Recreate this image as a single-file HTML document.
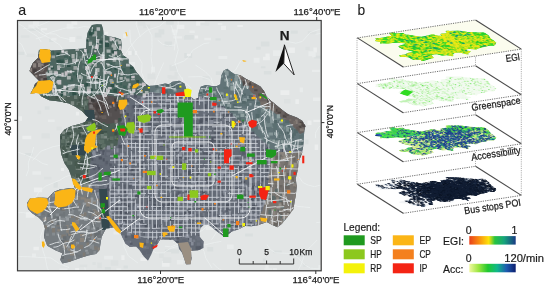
<!DOCTYPE html>
<html><head><meta charset="utf-8"><style>
html,body{margin:0;padding:0;background:#fff;}
body{width:550px;height:292px;overflow:hidden;}
svg{display:block;}
.t{font-family:"Liberation Sans",Arial,sans-serif;fill:#1c1c1c;stroke:#1c1c1c;stroke-width:0.25px;}
.c{font-family:"Liberation Sans",Arial,sans-serif;fill:#1c1c1c;stroke:#1c1c1c;stroke-width:0.2px;}
</style></head><body>
<svg width="550" height="292" viewBox="0 0 550 292">
<defs>
<clipPath id="fr"><rect x="17.5" y="20.5" width="303.7" height="250.3"/></clipPath>
<clipPath id="cp"><path d="M86.0,48.4 L86.5,40.0 L87.5,33.0 L90.0,28.0 L92.0,25.0 L97.0,24.3 L101.6,24.5 L103.0,29.0 L103.8,35.0 L109.0,36.5 L114.6,37.3 L121.0,39.4 L121.6,45.0 L121.0,50.2 L123.2,55.6 L128.6,58.9 L128.6,63.2 L133.0,66.4 L136.2,71.8 L141.6,78.3 L144.8,83.0 L149.0,86.0 L155.0,85.5 L160.0,84.7 L165.0,83.5 L169.0,84.2 L172.4,81.7 L179.3,80.8 L184.4,83.4 L186.1,88.5 L190.0,96.0 L194.0,99.5 L198.0,98.0 L199.0,92.0 L200.7,86.8 L205.8,85.1 L211.8,86.0 L216.9,86.0 L220.4,84.2 L221.2,75.7 L223.8,70.5 L227.2,68.8 L230.6,71.4 L233.8,73.7 L240.7,75.4 L245.8,78.8 L251.0,81.4 L256.0,84.0 L260.4,86.5 L263.8,90.8 L266.4,96.0 L270.0,100.0 L275.0,104.0 L281.0,109.0 L288.0,114.3 L296.8,117.5 L302.2,120.7 L305.4,126.1 L304.3,130.5 L303.8,138.0 L303.2,146.0 L302.2,152.5 L299.0,161.0 L297.8,169.7 L295.7,178.4 L296.8,187.0 L295.7,195.6 L294.6,202.0 L293.5,209.0 L290.3,213.3 L287.0,217.6 L281.7,224.0 L277.4,227.3 L273.0,225.2 L266.6,222.0 L258.0,225.2 L251.5,226.3 L245.0,226.0 L242.4,227.4 L238.0,229.5 L231.6,231.7 L226.2,236.0 L223.0,236.0 L218.7,232.8 L212.2,227.4 L209.3,225.0 L203.5,225.0 L200.2,228.2 L199.4,236.4 L203.5,241.3 L203.5,248.0 L197.8,250.4 L191.0,251.0 L191.5,258.0 L190.5,264.3 L186.0,264.3 L183.5,257.0 L182.0,252.8 L179.0,249.0 L178.0,243.8 L173.0,239.7 L165.0,239.7 L160.0,239.2 L157.8,243.6 L153.5,249.0 L151.3,254.4 L148.0,260.8 L143.8,256.5 L139.4,250.0 L136.2,246.8 L129.7,246.8 L125.4,243.6 L122.2,237.0 L119.0,230.6 L114.6,227.4 L106.0,228.4 L101.6,237.0 L99.5,250.0 L96.0,254.0 L93.0,254.4 L88.3,255.4 L81.8,257.6 L75.3,259.8 L68.8,262.0 L62.4,263.5 L60.2,259.8 L62.4,253.3 L54.8,250.0 L47.2,245.7 L44.0,237.0 L45.0,228.4 L43.0,222.0 L38.6,217.6 L32.1,213.3 L28.0,209.0 L27.0,203.0 L30.0,198.5 L40.0,197.5 L48.0,198.0 L53.7,192.0 L60.0,189.5 L72.0,188.0 L75.3,189.2 L72.0,178.4 L68.8,169.8 L64.5,163.3 L61.3,154.6 L60.2,146.0 L60.2,139.2 L60.2,134.8 L64.5,129.4 L71.0,126.2 L79.6,124.0 L85.0,121.9 L88.3,117.6 L86.1,115.4 L81.8,111.0 L75.3,106.8 L68.8,103.5 L60.2,101.4 L49.4,100.3 L40.8,96.0 L38.6,92.7 L30.4,93.4 L33.0,89.0 L35.0,84.0 L39.0,80.8 L34.4,76.0 L29.6,71.0 L30.8,67.6 L33.0,62.8 L38.0,58.0 L39.0,50.0 L45.0,49.0 L51.0,50.8 L68.0,49.6 Z"/></clipPath>
<linearGradient id="gE" x1="0" x2="1" y1="0" y2="0">
<stop offset="0" stop-color="#e8401c"/><stop offset="0.2" stop-color="#f98a10"/><stop offset="0.42" stop-color="#fde30a"/><stop offset="0.55" stop-color="#27c340"/><stop offset="0.75" stop-color="#16a47c"/><stop offset="1" stop-color="#1a3a84"/></linearGradient>
<linearGradient id="gA" x1="0" x2="1" y1="0" y2="0">
<stop offset="0" stop-color="#f2f8a0"/><stop offset="0.2" stop-color="#9ae640"/><stop offset="0.4" stop-color="#20c830"/><stop offset="0.6" stop-color="#10b88a"/><stop offset="0.8" stop-color="#1e5cb0"/><stop offset="1" stop-color="#0b1d6e"/></linearGradient>
</defs>

<g clip-path="url(#fr)">
<rect x="17" y="20" width="305" height="252" fill="#e2e5e5"/>
<path d="M215.5 38.3h5.2v2.2h-5.2zM185.1 34.9h8.7v4.5h-8.7zM184.1 35.8h6.7v4.0h-6.7zM104.8 267.0h6.1v2.7h-6.1zM305.1 139.5h3.4v4.8h-3.4zM164.6 41.6h7.5v5.0h-7.5zM25.2 153.1h7.2v3.0h-7.2zM123.6 265.6h4.3v2.9h-4.3zM207.3 246.9h5.9v4.6h-5.9zM260.9 41.4h8.5v5.1h-8.5zM65.5 270.3h3.9v5.6h-3.9zM184.3 53.0h7.8v4.9h-7.8zM256.2 46.7h4.5v3.1h-4.5zM260.9 66.2h4.6v2.1h-4.6zM171.2 249.3h8.0v4.3h-8.0zM154.7 32.8h6.8v4.7h-6.8zM166.2 20.8h7.5v4.0h-7.5zM296.5 254.5h6.5v2.6h-6.5zM136.8 271.7h5.2v3.7h-5.2zM53.5 182.1h4.2v5.6h-4.2zM44.7 106.2h4.9v3.5h-4.9zM263.9 70.9h7.5v3.7h-7.5zM17.4 51.7h6.9v3.2h-6.9zM164.9 249.4h8.7v2.6h-8.7zM314.1 55.8h7.3v2.7h-7.3zM29.4 28.8h7.8v2.2h-7.8zM262.7 258.5h3.1v2.9h-3.1zM49.1 38.2h4.3v3.7h-4.3zM245.1 233.4h7.7v3.2h-7.7zM158.5 29.3h5.8v5.3h-5.8zM273.4 250.4h8.3v2.9h-8.3zM215.8 71.3h7.9v3.6h-7.9zM290.7 30.4h7.0v3.3h-7.0z" fill="#dadfdf"/>
<path d="M171.8 29.4h5.5v3.0h-5.5zM194.8 35.6h3.3v2.9h-3.3zM186.8 53.6h3.9v2.5h-3.9zM121.3 255.2h3.2v4.7h-3.2zM214.4 270.3h4.7v3.5h-4.7zM220.9 25.7h5.1v4.4h-5.1zM280.5 90.2h8.9v4.7h-8.9zM33.5 246.7h5.4v3.6h-5.4zM75.1 268.1h4.0v3.4h-4.0zM128.1 51.0h9.0v3.9h-9.0zM313.4 119.8h7.5v2.3h-7.5zM263.0 56.8h6.9v3.4h-6.9zM176.7 24.7h7.7v4.4h-7.7zM307.5 120.4h4.0v4.7h-4.0zM320.2 121.8h4.2v3.3h-4.2zM237.3 24.9h5.6v2.1h-5.6zM33.9 187.6h8.2v4.7h-8.2zM17.3 116.2h4.7v4.6h-4.7zM60.9 167.9h3.1v3.2h-3.1zM314.6 144.5h3.5v5.6h-3.5zM22.3 135.7h9.0v3.5h-9.0zM25.8 211.9h8.5v5.8h-8.5zM196.1 20.0h8.6v5.7h-8.6zM313.4 47.4h3.5v5.1h-3.5zM288.2 47.5h6.7v5.6h-6.7zM272.9 268.2h4.0v2.0h-4.0zM75.9 111.8h3.2v3.6h-3.2zM161.9 261.1h7.7v5.7h-7.7zM265.5 53.4h4.1v5.2h-4.1zM40.8 27.9h6.3v2.3h-6.3zM140.5 257.4h8.4v3.7h-8.4zM69.4 36.9h5.9v5.2h-5.9zM295.4 99.3h3.5v4.8h-3.5zM71.5 20.9h5.8v3.8h-5.8z" fill="#eceeee"/>
<path d="M159.0 252.7h4.8v5.2h-4.8zM284.0 99.1h6.6v4.3h-6.6zM167.6 75.0h3.8v3.0h-3.8zM41.6 133.2h8.3v5.3h-8.3zM174.5 71.7h3.9v4.2h-3.9zM25.8 27.0h5.8v2.8h-5.8zM162.8 257.3h8.5v5.6h-8.5zM147.6 73.6h7.7v5.6h-7.7zM56.5 126.4h5.4v4.1h-5.4zM202.5 76.0h8.2v3.8h-8.2zM303.1 264.2h3.3v2.8h-3.3zM169.5 64.8h7.8v6.0h-7.8zM97.3 262.4h4.5v5.9h-4.5zM26.5 53.5h8.8v3.5h-8.8zM20.8 35.3h8.8v2.4h-8.8zM320.0 158.4h8.9v5.7h-8.9zM131.7 50.5h3.0v5.0h-3.0zM168.6 75.4h9.0v3.8h-9.0zM200.3 22.6h9.0v3.1h-9.0zM92.4 262.1h3.3v2.8h-3.3zM137.9 21.7h7.4v4.0h-7.4zM79.6 264.4h7.6v2.8h-7.6zM76.5 35.8h5.2v3.3h-5.2zM307.9 31.0h8.5v3.2h-8.5zM36.7 28.5h4.0v3.7h-4.0zM305.4 46.7h4.3v3.5h-4.3zM110.8 260.2h7.5v5.5h-7.5zM143.3 24.6h6.9v3.6h-6.9zM44.2 176.8h7.4v2.7h-7.4zM37.5 110.4h3.6v3.8h-3.6z" fill="#dde1e1"/>
<path d="M217.8 23.0h4.6v2.0h-4.6zM33.0 20.1h6.2v5.8h-6.2zM204.2 37.7h6.7v2.6h-6.7zM128.8 62.1h6.2v5.1h-6.2zM264.5 268.2h7.8v5.3h-7.8zM59.5 268.6h8.0v2.8h-8.0zM253.7 57.8h5.8v4.9h-5.8zM218.4 56.0h8.8v2.9h-8.8zM173.2 36.2h8.8v2.4h-8.8zM299.6 87.5h3.3v4.8h-3.3zM28.3 24.6h6.1v3.0h-6.1zM312.9 97.6h8.9v3.4h-8.9zM123.0 33.7h3.1v4.5h-3.1zM116.5 268.2h4.7v4.5h-4.7zM104.6 31.8h3.5v2.6h-3.5zM176.8 260.1h6.6v4.5h-6.6zM272.9 50.3h7.3v5.6h-7.3zM104.1 255.8h8.8v3.7h-8.8zM31.9 253.5h4.0v3.7h-4.0zM312.1 51.7h3.6v5.6h-3.6zM265.4 263.9h3.2v4.8h-3.2zM51.2 37.7h5.3v2.9h-5.3zM113.5 231.5h5.9v2.9h-5.9zM308.4 51.2h5.3v5.1h-5.3zM43.8 197.7h5.2v5.7h-5.2zM318.5 265.0h4.4v3.7h-4.4zM151.0 66.8h3.9v5.5h-3.9zM137.8 270.1h6.9v2.4h-6.9zM32.4 171.3h8.6v3.5h-8.6zM47.9 119.6h6.8v2.4h-6.8zM66.6 23.7h6.8v5.6h-6.8zM311.9 69.7h8.0v2.2h-8.0zM226.9 244.6h6.7v4.5h-6.7zM189.5 30.5h5.3v2.5h-5.3zM205.7 226.4h7.9v3.6h-7.9zM172.6 30.3h3.5v4.9h-3.5z" fill="#e9ecec"/>
<path d="M33.6 147.0 32.3 152.4 28.2 162.9 28.8 169.1 26.1 176.2M264.4 220.3 265.0 214.8 264.2 203.0 258.2 191.4 249.9 182.3 241.1 178.6 236.8 173.2 229.0 167.7 224.1 165.6M72.5 60.6 79.4 55.8 86.6 53.9 92.0 54.3 104.0 60.8 112.8 64.9 123.1 72.9 132.3 76.4 140.5 84.7M130.3 114.7 123.8 124.6 120.6 130.4 116.7 134.2 109.9 136.9M212.0 268.0 205.8 258.1 204.0 251.4 198.8 242.1 194.1 235.3 185.5 231.5 180.9 228.7 170.7 228.5 161.3 230.6M179.9 124.1 180.3 134.7 180.7 140.9 177.5 147.4 177.3 153.2M211.7 239.6 219.1 228.1 219.6 215.7 224.7 206.6 230.6 198.1 236.1 190.4 237.3 185.6M35.8 26.4 45.4 33.5 55.4 34.0 60.6 37.4 70.8 39.7M171.6 181.7 173.8 176.6 181.2 164.7 188.0 158.4 194.4 153.0M150.2 249.9 156.5 252.9 163.6 252.8 170.3 248.4 181.1 245.3 192.4 246.8 202.3 245.4 214.1 242.7 221.4 241.3M212.8 263.2 218.0 268.4 228.5 273.6 234.8 283.5 243.9 292.6 249.9 296.6 255.0 306.0 257.9 316.6M315.6 138.3 315.4 133.1 318.9 126.9 329.0 120.1 336.7 113.3 341.9 109.4 344.0 103.8 347.2 98.1 357.2 92.9M26.4 54.9 21.5 44.3 13.1 38.4 2.0 33.0M267.0 244.6 270.4 249.4 275.4 252.8 288.0 253.3 297.9 257.5 305.3 265.2 310.4 268.2 322.2 269.0 329.7 266.7M146.2 25.3 151.9 35.7 152.0 47.6 151.0 56.8 152.6 68.4 151.5 73.6M175.2 44.8 168.3 45.8 162.7 44.2 157.6 40.1M17.4 70.9 12.7 62.7 6.5 52.2 -0.9 46.4M122.9 229.6 124.2 236.4 123.8 245.9 128.2 255.7 137.9 263.0M229.6 218.3 216.9 214.2 208.7 205.9 200.3 199.0 193.7 195.0 184.8 190.7M69.2 267.6 59.5 263.8 50.9 257.9 40.7 257.5 27.9 256.7 17.9 256.6 8.9 258.5M227.2 84.8 229.3 97.6 232.4 103.6 239.9 112.1 241.8 118.2 246.5 123.6M116.6 151.6 116.7 158.9 109.6 170.9 108.2 181.8 109.7 187.9 114.4 194.1M107.7 89.0 119.5 94.3 124.3 96.2 130.5 102.7M84.8 267.2 86.3 277.5 89.2 288.8 87.2 297.4M192.1 208.8 181.7 211.9 171.0 210.2 164.2 208.4 158.1 209.2M148.9 85.5 143.9 78.5 141.6 72.5 142.1 63.2 135.8 52.1 130.5 42.5 129.8 29.5M117.1 22.7 116.6 12.8 111.4 2.0 112.2 -7.7M47.8 164.8 42.8 163.6 35.8 159.1 25.0 154.6 11.9 150.0 2.3 150.4 -8.0 145.1 -16.7 138.9 -24.8 136.3M35.8 38.9 43.6 36.6 49.5 32.7 62.4 28.9 69.1 27.1 77.6 28.0 83.6 26.6 95.8 27.7 104.7 30.0M188.4 76.9 200.9 76.6 209.2 79.3 216.3 88.7 221.8 99.4 227.7 110.0M87.3 197.5 85.6 188.3 87.9 176.3 88.0 165.4 86.2 156.2 85.9 150.5 88.5 144.7M109.5 117.0 115.8 127.3 126.1 134.3 129.9 137.8 143.3 140.0 150.1 142.5 156.3 141.7 167.1 136.6M122.7 58.5 129.7 47.5 137.4 38.3 147.6 30.1 159.5 26.1 168.1 19.0 177.4 11.9 187.1 3.3M186.3 86.7 187.6 96.6 189.6 109.6 188.9 116.8 192.1 126.7M241.0 60.4 235.6 70.0 228.9 75.0 218.8 84.2 215.5 94.4 213.0 99.0 206.6 108.1 199.4 111.5 189.9 110.2M164.8 246.2 170.9 246.9 181.1 242.9 191.2 236.4 202.8 230.1 208.7 224.5 211.4 219.8 213.5 211.8 215.5 204.1M317.2 240.0 308.7 248.6 304.4 255.2 301.0 264.9 295.2 275.5M29.2 202.1 36.1 197.0 38.6 192.2 45.6 186.1 50.7 184.0 59.8 180.2 65.2 176.9 75.8 173.2M284.3 40.9 295.9 43.2 302.3 41.4 310.3 32.5 320.6 28.9 331.5 23.0 341.4 21.4 348.4 18.1 355.2 14.1M148.4 181.7 157.2 177.8 169.2 177.4 180.3 176.0M140.4 36.9 136.0 24.2 138.3 15.2 139.1 9.4 141.2 2.8 140.7 -2.3 133.5 -10.9 121.0 -16.4M43.9 239.1 52.6 244.3 62.9 249.8 67.5 256.7M244.9 195.1 252.8 201.3 261.5 208.0 267.2 219.9M33.1 28.1 41.8 34.1 48.7 37.6 60.0 45.2 65.7 54.0 75.4 63.4 80.1 71.4 91.0 79.6 104.4 82.2M67.0 222.1 55.9 217.5 49.0 214.1 35.3 214.9 23.1 212.6 12.6 212.8 2.0 206.2M200.3 97.8 191.1 104.1 179.5 110.0 172.0 110.8 166.4 115.6M145.9 167.8 146.8 161.6 155.0 150.4 157.8 136.9M260.2 158.1 260.1 152.3 260.7 140.1 257.1 128.9 258.5 122.0 262.2 111.5 264.1 104.9M94.7 209.3 97.7 199.9 98.4 194.4 98.5 184.7 95.1 172.7 90.6 164.3 85.4 159.7M45.1 223.1 42.4 231.2 40.2 237.2 43.0 250.9 45.0 256.5 47.3 268.4 53.2 276.9 60.1 283.7M23.3 28.5 33.3 27.7 44.6 23.4 56.7 17.4 69.0 15.8 75.6 18.7 82.4 17.8 87.4 15.0M32.6 160.5 41.1 151.1 53.0 146.7 66.1 144.2 71.9 144.5 78.9 143.4 89.4 135.3M171.5 66.0 184.4 60.8 188.4 57.2 192.7 50.3 204.0 43.6 209.4 42.9M256.8 198.8 251.0 196.4 240.7 187.9 235.9 181.8 229.7 171.8 222.9 167.7 216.9 166.2M163.8 62.5 158.4 74.4 153.5 86.6 149.1 91.3 143.9 93.7M205.7 114.0 212.6 102.6 214.6 97.8 213.1 84.1 210.9 77.4 205.1 71.5 195.4 65.0M72.0 133.7 79.1 131.9 85.1 129.6 95.2 122.2 99.6 117.4 104.9 111.5 110.5 109.4M315.5 34.3 325.4 32.8 331.3 34.3 343.0 41.6 349.5 44.9 356.5 46.1 365.3 46.3 376.9 41.7 383.1 43.0M212.1 131.4 207.5 133.3 197.8 133.2 189.4 136.3 182.5 135.4 176.4 134.1 164.6 136.0 157.9 135.5M41.2 42.0 37.6 36.5 28.2 30.7 23.1 26.3 18.6 23.9 11.3 17.6 5.6 5.7M175.1 107.6 169.5 115.2 168.8 128.4 168.5 141.2 170.1 147.7 168.9 155.9 171.1 164.0 171.8 168.9 172.9 177.9M174.3 50.4 175.7 37.7 178.3 24.9 178.0 18.9 180.1 10.1 176.0 -1.4M58.0 81.4 63.8 82.4 76.1 80.9 80.6 77.1 86.7 74.2 92.1 65.3 97.8 57.5 102.4 53.7M282.2 200.7 292.2 203.2 297.3 206.3 310.2 207.6M182.2 77.3 182.9 89.0 188.4 100.2 187.8 108.6 188.2 121.2 188.2 129.7 182.2 140.1 179.8 146.9 178.6 155.7M316.3 222.7 321.7 222.0 335.2 220.4 341.9 223.3 352.1 226.6 361.7 228.1 370.0 224.9M171.0 25.2 175.7 37.8 178.2 49.8 174.9 62.4 178.1 72.7 184.2 81.9 191.7 88.4M298.9 176.6 302.8 182.5 308.3 185.1 314.6 186.7 327.7 183.0 340.5 186.0 350.4 183.3 359.1 185.6M173.0 243.1 178.1 238.0 180.9 228.5 187.7 220.4 195.3 212.7 200.0 202.3 203.6 193.1 208.1 185.0M111.7 81.0 113.4 94.7 116.7 107.6 124.9 118.3 131.0 123.5 142.7 128.9 148.2 129.4 157.0 124.7" fill="none" stroke="#edf0f0" stroke-width="0.7"/>
</g>
<clipPath id="gz"><polygon points="136.0,100.0 150.0,92.0 213.0,98.0 262.0,140.0 272.0,150.0 266.0,200.0 255.0,228.0 210.0,234.0 150.0,240.0 122.0,230.0 110.0,214.0 96.0,198.0 88.0,178.0 92.0,150.0 120.0,145.0 132.0,130.0 134.0,110.0"/></clipPath>
<g clip-path="url(#cp)">
<rect x="17" y="20" width="305" height="252" fill="#646b76"/>
<polygon points="20.0,20.0 150.0,20.0 152.0,80.0 150.0,96.0 125.0,95.0 88.0,96.0 60.0,104.0 20.0,104.0" fill="#4e6660"/>
<polygon points="150.0,20.0 320.0,20.0 320.0,150.0 268.0,150.0 213.0,98.0 150.0,92.0" fill="#627478"/>
<polygon points="20.0,96.0 125.0,96.0 118.0,140.0 112.0,195.0 20.0,195.0" fill="#4c5e56"/>
<polygon points="268.0,152.0 320.0,152.0 320.0,240.0 240.0,240.0 255.0,228.0 266.0,200.0 272.0,155.0" fill="#7a7672"/>
<polygon points="20.0,185.0 98.0,185.0 104.0,215.0 110.0,232.0 130.0,260.0 20.0,266.0" fill="#767c80"/>
<polygon points="236.0,70.0 246.0,74.0 256.0,78.0 270.0,94.0 284.0,106.0 300.0,116.0 310.0,130.0 300.0,134.0 290.0,123.0 276.0,114.0 260.0,102.0 248.0,88.0 240.0,80.0" fill="#696260"/>
<polygon points="20.0,54.0 43.0,54.0 48.0,66.0 46.0,80.0 38.0,86.0 20.0,86.0" fill="#57504f"/>
<polygon points="88.0,97.0 100.0,95.0 112.0,96.0 121.0,100.0 122.0,112.0 119.0,122.0 108.0,124.0 96.0,122.0 89.0,116.0" fill="#545050"/>
<polygon points="136.0,100.0 150.0,92.0 213.0,98.0 262.0,140.0 272.0,150.0 266.0,200.0 255.0,228.0 210.0,234.0 150.0,240.0 122.0,230.0 110.0,214.0 96.0,198.0 88.0,178.0 92.0,150.0 120.0,145.0 132.0,130.0 134.0,110.0" fill="#646b76"/>
<path d="M194.2 105.4h2.2v3.0h-2.2zM99.7 174.4h4.3v2.3h-4.3zM201.3 196.9h3.0v4.0h-3.0zM231.2 155.3h3.6v2.4h-3.6zM259.6 159.6h3.3v4.3h-3.3zM199.8 144.6h3.7v3.1h-3.7zM104.6 170.2h3.6v2.6h-3.6zM293.9 148.7h2.4v4.0h-2.4zM200.4 220.5h3.0v2.1h-3.0zM144.4 151.0h4.2v4.4h-4.2zM168.7 132.7h3.0v2.4h-3.0zM111.1 209.0h3.1v2.7h-3.1zM135.7 121.6h4.3v3.8h-4.3zM185.5 190.9h2.0v4.5h-2.0zM138.1 156.8h3.6v3.4h-3.6zM190.3 131.4h3.1v4.2h-3.1zM143.4 232.3h2.3v2.4h-2.3zM186.7 121.3h2.3v3.4h-2.3zM123.3 111.9h3.8v2.9h-3.8zM93.3 158.4h2.6v2.9h-2.6zM193.3 222.6h2.3v2.8h-2.3zM165.1 228.4h2.6v3.1h-2.6zM98.9 157.2h4.1v2.7h-4.1zM156.3 118.2h4.2v4.5h-4.2zM163.9 113.6h2.6v4.5h-2.6zM175.0 192.7h3.4v2.7h-3.4zM241.9 174.6h2.5v2.7h-2.5zM180.5 196.8h4.4v3.7h-4.4zM209.1 163.7h2.7v2.1h-2.7zM206.1 209.0h3.5v3.6h-3.5zM151.7 157.6h3.0v2.7h-3.0zM130.0 93.8h3.6v3.3h-3.6zM149.1 103.5h4.4v4.2h-4.4zM112.6 218.5h2.0v3.7h-2.0zM258.5 177.2h2.6v3.5h-2.6zM154.1 103.2h3.8v4.4h-3.8zM170.5 109.0h3.2v2.8h-3.2zM221.9 151.0h4.3v3.5h-4.3zM154.8 195.2h4.0v3.9h-4.0zM114.0 209.5h4.2v3.4h-4.2zM156.2 133.2h4.2v2.5h-4.2zM156.2 240.0h4.1v3.8h-4.1zM119.8 195.4h4.0v3.3h-4.0zM216.7 173.4h4.1v4.0h-4.1zM229.0 123.5h4.2v3.9h-4.2zM200.8 157.9h3.7v3.2h-3.7zM258.8 183.8h2.7v2.3h-2.7zM227.8 231.5h4.3v3.6h-4.3zM189.2 257.0h4.0v4.1h-4.0zM121.9 110.4h2.4v3.3h-2.4zM237.7 171.3h2.9v2.3h-2.9zM105.8 150.8h3.2v3.5h-3.2zM199.4 164.9h4.4v3.8h-4.4zM235.5 202.3h2.9v2.5h-2.9zM121.8 199.2h4.3v2.4h-4.3zM218.7 163.9h4.2v3.7h-4.2zM211.1 157.6h2.7v3.6h-2.7zM222.8 160.3h3.6v3.5h-3.6zM153.3 155.3h3.5v2.4h-3.5zM112.3 187.3h2.4v3.7h-2.4zM92.3 190.6h4.2v2.5h-4.2zM115.0 201.2h3.2v4.0h-3.2zM120.3 198.5h2.8v2.0h-2.8zM227.1 202.4h3.3v4.4h-3.3zM211.9 129.9h4.2v4.3h-4.2zM243.6 155.4h2.3v2.5h-2.3zM157.9 155.6h3.0v3.5h-3.0zM238.8 151.2h3.4v2.3h-3.4zM203.9 217.3h2.0v2.6h-2.0zM175.5 139.2h2.5v3.1h-2.5zM140.2 144.9h2.3v3.1h-2.3zM140.3 202.1h4.3v2.6h-4.3zM245.8 155.3h2.0v4.5h-2.0zM113.9 171.4h2.5v3.5h-2.5zM251.0 149.9h2.0v4.1h-2.0zM240.0 151.9h4.0v4.3h-4.0zM146.9 200.6h3.7v3.2h-3.7zM161.4 138.8h4.3v3.2h-4.3zM183.6 145.2h3.2v2.3h-3.2zM242.5 178.5h3.5v3.2h-3.5zM177.8 221.6h4.0v3.4h-4.0zM263.9 150.5h4.2v3.4h-4.2zM253.8 155.4h3.3v3.2h-3.3zM180.5 195.8h4.4v3.1h-4.4zM154.2 191.5h3.4v2.6h-3.4zM119.2 221.1h3.2v3.6h-3.2zM229.0 224.9h3.3v3.2h-3.3zM250.8 157.0h3.7v2.5h-3.7zM142.5 97.5h4.2v3.9h-4.2zM170.3 232.9h2.4v3.3h-2.4zM168.9 211.8h3.1v3.9h-3.1zM130.0 188.6h3.8v2.4h-3.8zM238.6 195.9h2.1v2.6h-2.1zM190.2 241.9h4.2v4.3h-4.2zM182.2 239.6h4.2v3.2h-4.2zM202.7 166.4h3.0v3.2h-3.0zM237.0 156.8h2.2v4.2h-2.2zM166.8 151.9h4.0v2.4h-4.0zM125.3 211.7h4.0v2.8h-4.0zM112.3 159.5h3.8v3.8h-3.8zM275.3 148.6h2.6v3.9h-2.6zM164.7 199.1h2.5v2.0h-2.5zM99.5 149.6h2.4v2.7h-2.4zM226.5 198.1h4.4v2.2h-4.4zM202.2 117.6h3.2v4.2h-3.2zM160.5 177.0h3.4v3.7h-3.4zM191.4 112.6h3.2v4.2h-3.2zM206.1 127.3h2.6v3.1h-2.6zM177.1 120.4h2.5v3.9h-2.5zM192.9 148.5h3.6v3.3h-3.6zM182.7 131.1h3.9v3.7h-3.9zM206.1 102.2h2.9v2.8h-2.9zM226.2 113.5h3.4v3.7h-3.4zM183.2 151.0h4.2v3.3h-4.2zM208.3 148.1h3.4v4.3h-3.4zM137.4 206.6h3.9v3.7h-3.9zM180.0 181.7h4.4v4.3h-4.4zM130.8 227.7h3.4v3.5h-3.4zM182.7 103.1h2.8v2.9h-2.8zM159.3 181.6h3.3v2.9h-3.3zM188.8 104.1h3.2v2.5h-3.2zM159.6 140.6h4.0v2.6h-4.0zM151.1 210.3h3.8v4.1h-3.8zM147.7 124.0h3.7v2.8h-3.7zM171.8 142.2h3.5v4.0h-3.5zM104.6 161.7h2.7v4.0h-2.7zM257.3 152.5h2.6v3.6h-2.6zM129.7 112.9h2.3v3.6h-2.3zM160.1 180.4h4.0v2.2h-4.0zM183.3 145.3h2.0v4.2h-2.0zM220.0 225.4h4.1v4.0h-4.1zM145.2 95.4h4.1v2.5h-4.1zM187.3 107.8h2.2v2.1h-2.2zM159.2 204.1h3.9v4.0h-3.9zM213.8 154.9h2.6v3.2h-2.6zM142.7 179.5h2.7v4.2h-2.7zM137.0 183.9h3.0v3.7h-3.0zM164.8 229.7h4.2v2.4h-4.2zM93.7 164.4h3.0v4.1h-3.0zM213.4 146.5h2.0v2.4h-2.0zM122.5 139.9h3.6v4.4h-3.6zM192.0 213.5h2.1v3.3h-2.1zM234.4 131.2h3.7v2.4h-3.7zM206.4 150.2h3.8v3.3h-3.8zM215.3 181.7h3.3v3.6h-3.3zM227.8 145.4h4.2v3.3h-4.2zM124.7 103.9h3.9v3.7h-3.9zM167.4 232.1h3.3v3.2h-3.3zM174.8 220.3h2.7v2.5h-2.7zM184.5 243.9h2.6v3.5h-2.6zM215.6 134.1h4.3v2.2h-4.3zM126.6 214.4h2.5v4.4h-2.5zM142.7 168.6h3.1v3.2h-3.1zM212.0 114.8h3.7v3.1h-3.7zM110.5 180.9h2.3v2.3h-2.3zM197.0 206.6h4.5v4.0h-4.5zM121.0 116.6h4.3v2.6h-4.3zM134.4 160.1h2.4v3.8h-2.4zM168.0 171.4h2.9v2.2h-2.9zM122.3 130.4h4.4v3.5h-4.4zM232.2 214.5h2.1v2.7h-2.1zM135.3 113.7h3.0v3.0h-3.0zM263.2 155.1h3.5v2.6h-3.5zM110.5 205.0h4.4v3.3h-4.4zM177.4 155.1h2.8v2.9h-2.8zM123.1 210.5h2.8v2.5h-2.8zM163.4 180.0h4.3v3.5h-4.3zM148.7 167.9h4.1v2.9h-4.1zM190.0 157.8h2.9v2.9h-2.9zM200.8 155.7h3.7v3.6h-3.7zM189.0 138.7h2.4v2.1h-2.4zM146.9 200.2h3.1v4.4h-3.1zM262.1 179.7h3.2v2.9h-3.2zM173.1 122.5h4.1v4.2h-4.1zM117.4 221.4h3.8v3.8h-3.8zM158.4 139.5h2.9v2.4h-2.9zM182.0 218.1h2.8v3.3h-2.8zM149.0 154.0h3.6v4.0h-3.6zM186.4 122.0h3.6v3.5h-3.6zM131.7 109.2h4.0v4.4h-4.0zM112.8 218.4h2.3v3.3h-2.3zM153.2 214.6h2.3v3.9h-2.3zM108.7 195.9h2.6v2.4h-2.6zM146.3 247.6h3.6v4.1h-3.6zM216.2 173.1h2.4v2.4h-2.4zM176.2 135.6h3.5v2.3h-3.5zM142.4 250.4h3.4v4.5h-3.4zM199.9 208.2h2.8v2.8h-2.8zM266.0 185.1h3.5v2.4h-3.5zM154.5 241.5h2.5v3.0h-2.5zM190.7 204.2h2.1v4.4h-2.1zM105.9 150.8h3.9v4.2h-3.9zM149.9 92.5h4.1v4.0h-4.1zM146.8 249.6h4.1v4.5h-4.1zM160.6 113.7h3.1v3.3h-3.1zM154.8 172.0h2.9v2.7h-2.9zM179.6 240.5h2.8v2.4h-2.8zM158.2 182.2h4.0v4.4h-4.0zM148.4 187.5h3.1v2.9h-3.1zM256.1 214.0h4.1v3.7h-4.1zM166.3 110.3h2.4v4.0h-2.4zM131.0 105.6h3.4v3.7h-3.4zM99.2 164.9h3.3v3.3h-3.3zM115.2 187.9h4.5v2.6h-4.5zM120.4 200.6h2.9v4.3h-2.9zM107.4 172.5h2.1v4.2h-2.1zM106.2 189.5h2.1v3.7h-2.1zM169.2 237.3h2.0v2.9h-2.0zM237.1 210.5h2.1v3.4h-2.1zM227.7 164.5h2.4v4.1h-2.4zM228.5 212.8h3.1v3.1h-3.1zM223.5 209.1h2.8v3.7h-2.8zM91.2 154.9h3.8v3.7h-3.8zM182.9 239.0h2.3v2.2h-2.3zM207.1 132.9h4.3v2.9h-4.3zM103.5 147.2h3.9v4.1h-3.9zM132.0 226.3h2.2v3.7h-2.2zM142.0 159.9h4.3v2.8h-4.3zM88.6 175.1h2.7v2.1h-2.7zM104.9 152.6h2.5v4.4h-2.5zM219.5 182.6h3.4v2.6h-3.4zM199.6 191.4h2.0v3.6h-2.0z" fill="#606672"/>
<path d="M147.7 199.9h3.3v4.5h-3.3zM143.9 242.7h2.1v2.6h-2.1zM213.8 131.0h3.7v3.3h-3.7zM218.1 202.6h2.4v2.8h-2.4zM110.4 189.0h4.3v3.0h-4.3zM132.5 118.9h4.4v3.1h-4.4zM212.1 160.9h2.3v3.9h-2.3zM227.4 112.9h3.1v3.4h-3.1zM224.6 205.2h3.6v4.4h-3.6zM178.2 216.4h2.1v4.3h-2.1zM144.4 232.4h4.1v2.8h-4.1zM246.3 188.7h2.3v3.5h-2.3zM209.2 222.1h3.6v3.4h-3.6zM235.4 158.2h4.1v2.5h-4.1zM208.2 148.4h2.7v2.9h-2.7zM234.6 141.7h2.5v2.7h-2.5zM109.3 163.0h2.5v3.2h-2.5zM93.3 166.7h2.1v3.5h-2.1zM162.6 189.2h2.1v4.1h-2.1zM178.0 119.9h4.0v3.7h-4.0zM125.2 191.2h2.3v4.4h-2.3zM165.8 123.9h4.4v2.7h-4.4zM139.0 183.2h4.0v4.4h-4.0zM231.5 170.1h2.2v2.5h-2.2zM123.8 235.4h3.5v2.3h-3.5zM131.4 235.0h4.1v3.4h-4.1zM230.5 184.4h3.5v2.2h-3.5zM170.0 185.8h3.8v4.1h-3.8zM236.9 204.0h4.3v4.1h-4.3zM120.4 223.6h3.0v4.0h-3.0zM159.3 224.7h3.0v3.6h-3.0zM153.3 194.1h3.0v3.2h-3.0zM153.6 198.9h4.0v3.6h-4.0zM125.3 138.6h3.2v3.3h-3.2zM170.7 162.4h2.4v3.1h-2.4zM210.9 207.6h2.5v2.0h-2.5zM199.1 127.2h2.6v3.7h-2.6zM153.7 159.4h3.8v3.1h-3.8zM162.1 204.0h3.7v2.4h-3.7zM222.8 174.2h3.2v2.3h-3.2zM173.0 186.6h4.0v3.4h-4.0zM166.4 102.3h3.3v3.9h-3.3zM182.1 129.8h4.3v4.0h-4.3zM245.5 213.4h2.3v2.8h-2.3zM106.6 223.0h4.0v3.2h-4.0zM243.5 200.0h3.9v2.8h-3.9zM185.4 99.1h3.4v3.3h-3.4zM178.0 115.0h4.4v3.9h-4.4zM128.9 242.4h3.6v2.3h-3.6zM147.6 143.4h2.0v4.3h-2.0zM180.6 231.5h3.7v4.2h-3.7zM202.8 201.1h2.3v3.2h-2.3zM160.9 128.8h3.1v2.6h-3.1zM105.5 160.7h2.7v3.5h-2.7zM146.5 113.2h3.1v3.6h-3.1zM164.8 144.2h2.8v3.8h-2.8zM232.6 143.5h3.0v4.1h-3.0zM250.0 220.4h2.6v3.3h-2.6zM219.9 187.0h2.2v4.4h-2.2zM175.0 150.5h3.8v2.4h-3.8zM197.9 98.3h3.1v4.2h-3.1zM108.8 153.5h2.5v2.4h-2.5zM228.2 168.3h3.3v3.2h-3.3zM186.2 123.2h2.3v3.1h-2.3zM165.4 195.7h3.5v3.1h-3.5zM168.2 202.4h2.9v3.7h-2.9zM189.5 221.9h3.2v4.5h-3.2zM131.6 161.0h2.9v2.1h-2.9zM192.2 109.4h2.2v2.7h-2.2zM174.4 186.3h3.1v4.3h-3.1zM232.9 226.8h2.1v2.7h-2.1zM195.2 217.8h2.1v4.4h-2.1zM245.4 137.5h4.0v2.3h-4.0zM188.0 147.2h3.6v3.5h-3.6zM168.9 152.1h3.2v3.9h-3.2zM98.3 175.8h4.4v4.2h-4.4zM241.8 128.0h3.5v2.8h-3.5zM263.8 143.1h3.9v3.1h-3.9zM161.4 229.8h2.5v4.4h-2.5zM133.8 138.0h3.8v4.4h-3.8zM175.6 233.7h4.4v2.6h-4.4zM125.3 199.5h3.3v3.2h-3.3zM139.8 188.9h3.9v3.1h-3.9zM177.0 186.6h2.2v3.8h-2.2zM112.8 152.8h3.5v3.0h-3.5zM202.7 152.1h4.3v2.3h-4.3zM108.5 220.6h3.2v2.3h-3.2zM221.6 193.5h3.2v3.3h-3.2zM131.3 217.1h4.1v2.0h-4.1zM221.8 141.9h2.9v2.3h-2.9zM239.6 176.8h2.7v2.1h-2.7zM131.3 200.0h2.2v2.2h-2.2zM171.8 148.7h3.3v2.5h-3.3zM186.7 194.7h3.5v2.2h-3.5zM189.5 155.1h3.9v2.3h-3.9zM171.2 211.4h2.8v3.8h-2.8zM234.5 172.5h3.0v3.8h-3.0zM88.9 179.1h3.2v2.4h-3.2zM162.7 177.5h2.7v2.0h-2.7zM186.4 209.2h3.6v3.6h-3.6zM234.9 131.8h4.2v2.8h-4.2zM198.9 246.1h2.4v4.1h-2.4zM168.2 125.4h4.3v3.5h-4.3zM172.6 225.6h4.2v3.1h-4.2zM233.9 143.6h2.4v4.3h-2.4zM256.9 206.4h4.4v2.3h-4.4zM205.3 178.4h2.8v3.9h-2.8zM155.7 128.2h4.3v3.8h-4.3zM236.1 183.2h4.1v3.6h-4.1zM193.6 124.3h3.3v2.9h-3.3zM126.3 99.9h3.1v3.2h-3.1zM200.1 146.7h3.9v3.3h-3.9zM102.8 149.7h2.1v2.6h-2.1zM174.7 130.4h2.3v3.9h-2.3zM194.8 208.8h2.3v3.4h-2.3zM128.3 146.6h3.4v2.4h-3.4zM188.9 118.0h2.4v3.8h-2.4zM226.2 209.1h4.4v3.0h-4.4zM161.1 224.0h2.6v3.2h-2.6zM103.0 174.3h4.3v2.8h-4.3zM135.4 158.8h3.3v3.8h-3.3zM188.6 167.8h4.3v4.5h-4.3zM139.1 144.7h2.1v2.2h-2.1zM122.1 184.6h3.6v3.8h-3.6zM122.3 142.7h2.8v3.4h-2.8zM121.6 202.7h3.8v2.4h-3.8zM196.0 178.2h3.9v3.6h-3.9zM101.4 204.9h2.6v4.3h-2.6zM243.7 168.1h4.1v2.4h-4.1zM208.2 157.7h2.5v4.3h-2.5zM180.9 128.6h2.3v3.5h-2.3zM131.7 132.8h4.1v2.8h-4.1zM151.6 209.0h2.4v2.0h-2.4zM215.9 214.2h2.4v4.0h-2.4zM123.2 221.4h3.3v2.8h-3.3zM105.5 187.9h3.1v3.0h-3.1zM138.6 243.4h3.1v4.2h-3.1zM153.5 132.7h2.5v2.4h-2.5zM236.5 180.3h2.1v2.8h-2.1zM173.4 193.7h4.0v2.9h-4.0zM181.1 235.5h2.0v2.1h-2.0zM137.5 98.6h2.5v3.2h-2.5zM189.1 139.2h2.8v3.9h-2.8zM183.3 248.4h3.5v3.3h-3.5zM218.3 153.0h3.9v3.0h-3.9zM210.8 137.2h2.4v4.2h-2.4zM239.5 173.7h3.8v4.3h-3.8zM256.9 194.9h3.4v2.2h-3.4zM210.6 180.4h4.4v2.6h-4.4zM165.6 126.4h3.6v2.5h-3.6zM258.5 183.7h3.1v4.3h-3.1zM210.7 143.3h2.7v3.2h-2.7zM226.3 196.5h3.5v3.3h-3.5zM176.6 166.3h3.1v4.2h-3.1zM228.1 153.0h3.2v2.4h-3.2zM129.2 137.3h2.2v3.3h-2.2zM196.4 223.4h4.0v2.8h-4.0zM150.0 119.9h3.2v3.4h-3.2zM212.4 187.6h3.5v3.3h-3.5zM113.5 179.6h3.6v2.9h-3.6zM164.6 165.7h2.3v3.4h-2.3zM94.9 179.2h2.2v3.1h-2.2zM191.4 151.9h2.2v3.7h-2.2zM123.9 198.2h2.3v3.2h-2.3zM200.3 118.3h3.5v3.9h-3.5zM177.6 191.6h2.9v3.4h-2.9zM188.0 238.0h3.0v2.1h-3.0zM207.7 209.9h2.9v4.2h-2.9zM209.4 185.9h3.4v4.1h-3.4zM191.9 193.9h3.3v2.5h-3.3zM120.8 122.6h4.5v3.2h-4.5zM238.9 142.3h2.2v2.4h-2.2zM177.0 150.1h2.8v4.0h-2.8zM158.8 169.1h2.6v4.1h-2.6zM242.7 133.1h2.9v4.3h-2.9zM96.0 164.4h2.9v3.1h-2.9zM195.8 158.2h2.4v3.7h-2.4zM178.3 221.6h3.4v3.7h-3.4zM166.5 105.7h2.0v3.5h-2.0zM130.9 174.0h4.2v4.0h-4.2zM202.2 202.7h2.9v3.8h-2.9zM111.7 219.6h4.4v3.0h-4.4zM114.8 165.6h2.7v3.4h-2.7zM255.3 141.0h2.6v3.9h-2.6zM113.7 208.5h3.6v2.1h-3.6zM223.0 106.7h3.0v3.9h-3.0zM159.8 114.3h4.4v2.8h-4.4zM136.3 228.7h4.4v2.0h-4.4zM213.4 122.2h2.6v2.4h-2.6zM216.5 105.7h2.4v3.1h-2.4zM179.8 125.4h3.8v2.6h-3.8zM209.6 206.4h4.3v4.2h-4.3zM160.0 142.8h3.1v4.1h-3.1zM128.6 185.3h3.0v2.4h-3.0zM173.2 173.6h4.1v4.4h-4.1zM98.5 194.7h2.6v4.1h-2.6zM135.1 167.9h3.1v2.7h-3.1zM96.6 149.6h2.1v3.4h-2.1zM139.2 219.0h3.9v3.6h-3.9zM195.6 246.3h3.3v3.4h-3.3zM164.0 105.0h3.1v4.4h-3.1zM174.5 229.4h3.5v2.5h-3.5zM258.6 187.0h2.2v4.1h-2.2zM234.6 186.2h3.7v4.2h-3.7zM196.5 123.2h3.9v4.0h-3.9zM250.9 198.6h2.6v2.8h-2.6zM248.6 181.7h4.1v3.2h-4.1zM239.8 166.1h4.4v4.3h-4.4zM255.2 168.2h3.3v4.2h-3.3zM163.9 198.0h3.8v3.3h-3.8zM176.9 145.9h3.7v2.7h-3.7zM130.4 122.1h4.5v2.4h-4.5zM142.3 135.4h3.8v2.9h-3.8zM248.3 152.7h3.9v3.2h-3.9zM185.2 190.2h3.4v2.8h-3.4zM201.3 98.8h2.4v2.5h-2.4zM178.9 117.2h2.3v2.6h-2.3zM252.3 204.9h3.7v3.9h-3.7zM230.0 223.8h3.7v4.5h-3.7zM210.3 175.1h3.7v4.5h-3.7zM193.8 184.5h3.2v2.1h-3.2zM148.8 237.7h2.6v2.5h-2.6zM121.8 113.5h3.6v4.1h-3.6zM151.4 245.0h2.8v3.9h-2.8zM185.0 95.4h2.5v2.8h-2.5zM133.5 201.8h2.3v4.3h-2.3zM126.7 131.7h2.7v3.0h-2.7zM240.4 188.1h2.6v3.2h-2.6zM117.8 166.3h4.2v3.7h-4.2zM133.6 116.1h2.5v3.6h-2.5zM206.8 138.6h3.6v3.1h-3.6zM123.7 173.1h4.2v2.4h-4.2zM165.5 185.5h3.7v2.1h-3.7zM180.8 126.5h4.0v2.6h-4.0zM241.9 150.9h3.5v3.8h-3.5z" fill="#565c68"/>
<path d="M141.2 183.6h3.7v3.5h-3.7zM164.4 128.8h3.3v4.0h-3.3zM146.5 112.5h2.2v4.3h-2.2zM115.2 226.3h4.4v2.5h-4.4zM219.0 209.9h2.8v3.7h-2.8zM222.7 163.9h2.8v4.0h-2.8zM178.0 206.1h3.7v2.4h-3.7zM161.4 126.5h4.0v2.8h-4.0zM231.6 189.2h3.7v2.9h-3.7zM214.8 215.8h4.2v3.4h-4.2zM103.3 214.6h3.7v2.8h-3.7zM159.3 110.1h4.0v4.5h-4.0zM99.6 192.4h2.1v3.1h-2.1zM213.3 106.1h3.4v3.0h-3.4zM218.7 198.6h4.1v3.7h-4.1zM130.9 176.9h3.6v3.7h-3.6zM239.5 207.2h3.4v2.7h-3.4zM247.8 208.4h2.5v2.5h-2.5zM173.6 238.6h3.3v4.2h-3.3zM153.8 208.1h2.0v2.5h-2.0zM97.4 195.2h3.5v3.5h-3.5zM208.2 201.2h3.6v3.5h-3.6zM135.0 190.5h3.1v3.8h-3.1zM127.5 240.8h3.7v2.0h-3.7zM183.7 208.4h4.1v2.0h-4.1zM154.8 99.6h4.4v2.2h-4.4zM225.5 131.3h4.3v2.5h-4.3zM181.6 214.5h2.0v3.6h-2.0zM224.5 194.4h3.3v4.3h-3.3zM117.6 220.9h4.3v2.9h-4.3zM202.8 112.4h2.6v3.3h-2.6zM223.3 150.5h2.0v2.5h-2.0zM165.1 139.7h2.2v4.3h-2.2zM173.8 96.4h3.2v2.8h-3.2zM125.4 180.1h4.5v3.1h-4.5zM214.8 172.9h2.5v3.4h-2.5zM242.9 159.9h3.7v3.9h-3.7zM179.1 169.9h3.0v3.4h-3.0zM130.0 217.3h4.3v2.6h-4.3zM238.5 124.2h3.2v3.3h-3.2zM179.2 157.9h3.8v2.4h-3.8zM226.6 225.7h3.2v3.3h-3.2zM191.1 166.5h4.5v4.4h-4.5zM154.9 225.2h3.7v2.2h-3.7zM127.7 215.4h4.1v3.7h-4.1zM242.8 163.6h2.8v3.6h-2.8zM223.2 191.6h2.1v3.6h-2.1zM122.2 235.2h2.5v4.3h-2.5zM204.0 145.2h4.5v3.2h-4.5zM129.3 222.7h3.1v2.1h-3.1zM167.6 181.9h2.1v2.7h-2.1zM134.5 157.6h2.8v2.9h-2.8zM229.7 183.7h2.7v3.2h-2.7zM157.7 100.9h2.6v2.6h-2.6zM201.3 146.6h4.2v2.3h-4.2zM162.1 139.7h3.4v4.4h-3.4zM234.7 175.0h3.4v3.5h-3.4zM255.9 177.8h4.4v3.3h-4.4zM225.4 219.6h2.4v4.4h-2.4zM174.9 160.8h4.0v4.1h-4.0zM192.5 239.5h2.8v2.6h-2.8zM201.0 200.7h3.1v4.0h-3.1zM171.4 228.8h3.2v4.4h-3.2zM193.9 220.7h2.3v2.5h-2.3zM257.0 190.9h3.4v4.2h-3.4zM226.8 197.8h3.3v3.5h-3.3zM169.4 212.2h2.4v4.4h-2.4zM143.1 246.3h3.9v2.3h-3.9zM134.6 99.0h2.2v2.0h-2.2zM177.8 107.8h3.9v2.2h-3.9zM144.5 216.0h3.3v2.5h-3.3zM107.1 218.8h2.6v3.0h-2.6zM226.1 167.2h2.2v4.4h-2.2zM159.3 201.7h2.7v4.5h-2.7zM209.9 103.7h4.0v4.1h-4.0zM211.4 140.9h2.3v4.2h-2.3zM110.0 216.3h2.5v2.3h-2.5zM211.3 152.3h3.8v2.4h-3.8zM188.7 156.0h2.7v4.3h-2.7zM194.0 149.9h2.2v4.2h-2.2zM166.7 174.7h4.3v4.4h-4.3zM231.7 157.9h2.2v4.3h-2.2zM224.1 181.1h2.6v3.7h-2.6zM197.6 177.7h3.9v4.0h-3.9zM184.0 204.2h4.0v2.4h-4.0zM134.8 222.1h4.5v3.0h-4.5zM194.3 188.2h4.5v2.9h-4.5zM239.5 183.7h2.0v3.7h-2.0zM237.4 226.4h3.2v2.3h-3.2zM245.3 126.1h4.1v2.8h-4.1zM146.6 138.5h3.1v2.9h-3.1zM111.3 210.1h4.5v2.8h-4.5zM116.0 166.6h2.9v4.0h-2.9zM124.5 160.9h2.1v2.1h-2.1zM91.5 175.2h3.2v3.4h-3.2zM217.0 178.5h3.6v4.1h-3.6zM221.6 109.8h3.6v4.4h-3.6zM201.3 177.5h3.9v3.3h-3.9zM153.7 243.9h2.4v4.4h-2.4zM148.6 230.0h2.1v3.0h-2.1zM163.3 135.5h4.3v2.2h-4.3zM146.1 239.2h2.7v4.1h-2.7zM166.3 120.8h2.6v3.6h-2.6zM220.5 125.7h3.0v3.8h-3.0zM175.9 209.1h3.3v3.1h-3.3zM196.3 187.1h3.4v2.3h-3.4zM170.4 208.9h4.2v3.0h-4.2zM145.7 186.5h4.4v2.8h-4.4zM245.2 207.6h2.1v2.4h-2.1zM125.2 189.0h2.5v3.9h-2.5zM240.8 126.6h4.1v3.7h-4.1zM153.0 117.6h3.7v3.2h-3.7zM202.7 212.7h2.1v3.4h-2.1zM128.6 175.2h4.5v3.3h-4.5zM198.5 171.7h3.1v3.7h-3.1zM158.4 101.1h3.1v2.4h-3.1zM123.8 175.4h2.4v3.7h-2.4zM192.8 197.6h3.9v3.1h-3.9zM132.1 153.5h2.7v3.7h-2.7zM179.0 209.2h4.3v3.6h-4.3zM148.3 187.4h3.5v3.5h-3.5zM249.2 211.5h3.6v4.1h-3.6zM192.5 227.1h4.2v2.9h-4.2zM185.6 149.0h2.8v2.2h-2.8zM218.1 149.9h4.4v3.4h-4.4zM158.6 125.6h2.4v2.1h-2.4zM176.5 236.0h3.7v3.0h-3.7zM247.6 166.6h4.5v4.3h-4.5zM123.2 138.1h4.0v4.2h-4.0zM94.6 184.7h4.4v3.4h-4.4zM148.3 224.0h2.4v4.0h-2.4zM166.8 166.1h3.9v3.6h-3.9zM133.8 206.0h2.2v4.3h-2.2zM242.8 175.6h4.1v4.3h-4.1zM194.0 156.4h3.3v2.4h-3.3zM235.7 216.5h4.4v3.8h-4.4zM223.4 208.2h2.3v3.3h-2.3zM176.1 148.6h3.1v2.4h-3.1zM203.7 172.0h2.7v3.9h-2.7zM231.5 192.5h2.9v2.7h-2.9zM196.7 179.6h4.4v2.8h-4.4zM184.4 261.3h4.1v4.5h-4.1zM226.0 111.1h2.8v3.0h-2.8zM138.5 99.1h2.4v3.5h-2.4zM104.2 184.9h3.3v2.5h-3.3zM119.9 172.6h3.2v3.0h-3.2zM245.6 135.3h2.9v3.6h-2.9zM236.6 204.5h3.6v3.2h-3.6zM193.2 169.4h4.5v3.2h-4.5zM204.7 136.0h2.0v3.1h-2.0zM147.9 166.9h4.3v2.9h-4.3zM146.8 152.5h3.7v3.1h-3.7zM175.5 140.1h4.1v3.4h-4.1zM130.9 212.6h3.0v3.8h-3.0zM254.1 160.1h3.5v3.7h-3.5zM181.6 183.1h2.9v3.5h-2.9zM138.1 135.2h3.9v3.9h-3.9zM154.9 210.0h4.2v4.1h-4.2zM159.3 152.4h2.3v3.5h-2.3zM137.0 234.2h4.3v4.2h-4.3zM102.3 188.8h3.6v2.4h-3.6zM154.3 155.5h2.2v2.2h-2.2zM164.4 214.3h4.5v3.1h-4.5zM242.3 202.4h2.1v3.7h-2.1zM159.9 191.0h4.5v3.8h-4.5zM214.9 207.3h2.8v3.3h-2.8zM185.6 221.8h2.2v3.5h-2.2zM177.4 216.2h2.5v2.5h-2.5zM120.3 166.9h3.8v3.8h-3.8zM206.3 189.7h2.3v2.4h-2.3zM141.7 147.2h2.4v2.5h-2.4zM225.0 189.2h4.2v3.5h-4.2zM115.2 192.4h2.5v3.6h-2.5zM150.7 132.6h3.4v3.3h-3.4zM123.7 168.4h3.4v2.7h-3.4zM173.9 99.5h3.6v2.7h-3.6zM140.2 215.2h3.3v2.8h-3.3zM246.2 151.8h2.2v4.3h-2.2zM182.8 172.2h4.1v3.6h-4.1zM141.2 193.7h2.6v2.9h-2.6zM200.1 209.9h2.4v2.6h-2.4zM237.9 138.7h3.6v3.4h-3.6zM189.9 104.2h4.2v2.1h-4.2zM206.9 161.6h2.2v4.0h-2.2zM201.2 220.7h3.6v3.1h-3.6zM165.8 121.1h2.8v3.1h-2.8zM244.2 157.9h4.3v4.4h-4.3zM174.9 176.1h2.8v2.5h-2.8zM148.0 224.5h2.3v4.1h-2.3zM112.9 185.1h3.2v2.1h-3.2zM161.2 223.5h2.3v4.0h-2.3zM201.3 108.5h2.3v2.7h-2.3zM178.5 149.8h4.3v3.0h-4.3zM154.4 238.9h2.7v2.7h-2.7zM169.4 182.9h2.3v4.3h-2.3zM202.9 149.0h2.9v2.1h-2.9zM186.9 108.7h4.1v2.5h-4.1zM173.1 94.4h2.7v2.5h-2.7zM229.8 117.4h2.2v3.6h-2.2zM155.2 167.3h2.3v2.7h-2.3zM150.2 161.5h2.6v4.1h-2.6zM189.6 153.0h3.6v4.1h-3.6zM91.8 179.2h3.0v3.4h-3.0zM241.1 209.2h4.4v2.7h-4.4zM145.0 231.8h4.5v4.4h-4.5zM215.0 200.7h3.0v3.9h-3.0zM252.2 220.0h2.7v3.5h-2.7zM246.4 141.1h3.6v3.2h-3.6zM136.2 109.0h2.8v3.7h-2.8zM169.1 123.5h3.4v2.6h-3.4zM208.2 213.2h2.7v2.4h-2.7zM184.7 186.5h3.3v3.4h-3.3zM226.8 118.3h3.8v2.4h-3.8z" fill="#767c88"/>
<path d="M262.5 220.9h2.2v4.1h-2.2zM275.0 188.8h4.2v3.1h-4.2zM278.9 197.8h3.3v4.2h-3.3zM269.8 213.4h2.5v4.1h-2.5zM279.0 193.8h3.1v3.8h-3.1zM280.4 206.4h3.8v2.1h-3.8zM279.6 214.1h4.4v4.4h-4.4zM282.6 218.7h3.7v2.1h-3.7zM268.4 209.5h3.2v4.4h-3.2zM285.8 181.9h3.5v3.9h-3.5zM274.6 159.7h2.7v3.3h-2.7zM274.3 197.0h4.3v2.7h-4.3zM273.4 223.2h3.6v3.1h-3.6zM296.6 154.2h3.7v2.5h-3.7zM299.3 154.0h4.0v3.4h-4.0zM286.1 160.5h2.0v3.3h-2.0zM272.6 150.9h3.2v3.4h-3.2zM290.3 201.0h2.3v3.7h-2.3zM292.4 182.0h3.0v2.4h-3.0zM268.3 193.2h3.2v2.3h-3.2zM286.3 178.3h2.5v3.0h-2.5zM281.2 175.4h4.2v4.2h-4.2zM277.5 209.4h4.3v2.2h-4.3zM271.8 195.8h3.2v4.4h-3.2zM278.1 155.3h3.5v4.3h-3.5z" fill="#5e6a6a"/>
<path d="M238.9 163.4h3.0v4.5h-3.0zM130.8 130.9h2.7v2.9h-2.7zM169.3 187.7h3.2v2.1h-3.2zM221.6 133.4h2.9v3.6h-2.9zM208.9 158.4h4.4v3.2h-4.4zM197.7 219.0h3.9v3.9h-3.9zM223.2 128.2h2.5v4.3h-2.5zM215.7 166.3h2.5v2.1h-2.5zM241.2 127.6h4.2v4.5h-4.2zM255.5 213.6h2.9v2.2h-2.9zM219.1 130.1h3.8v2.4h-3.8zM149.2 116.5h3.2v4.3h-3.2zM190.5 133.4h3.8v3.1h-3.8zM214.9 155.6h3.9v2.3h-3.9zM251.0 197.1h2.2v3.4h-2.2zM245.1 165.8h2.1v2.1h-2.1zM223.4 116.2h4.0v3.7h-4.0zM119.6 165.6h4.0v2.0h-4.0zM265.9 145.9h2.3v3.9h-2.3zM209.6 174.7h4.3v4.0h-4.3zM215.9 156.5h2.8v3.3h-2.8zM125.8 98.5h2.7v2.5h-2.7zM134.2 195.5h3.3v2.7h-3.3zM202.0 189.4h3.0v4.4h-3.0zM175.1 134.6h2.6v3.6h-2.6zM132.1 218.6h2.3v2.0h-2.3zM225.2 135.1h3.5v2.3h-3.5zM180.2 161.5h2.7v2.4h-2.7zM215.1 227.9h4.0v2.1h-4.0zM206.5 151.9h4.3v3.3h-4.3zM152.9 197.1h2.5v2.1h-2.5zM170.8 98.6h3.9v4.2h-3.9zM234.9 225.2h3.0v3.8h-3.0zM128.1 170.6h3.9v2.5h-3.9zM153.9 118.6h4.4v2.8h-4.4zM201.2 216.5h2.3v3.7h-2.3zM137.5 106.9h2.8v3.8h-2.8zM259.8 178.0h4.2v3.4h-4.2zM196.8 97.7h2.5v4.5h-2.5zM187.5 256.4h3.4v2.4h-3.4zM191.5 190.7h2.3v3.9h-2.3zM144.2 150.1h2.4v3.8h-2.4zM185.3 157.3h3.2v3.9h-3.2zM189.4 125.3h3.9v2.6h-3.9zM212.1 224.2h4.5v2.6h-4.5zM92.7 163.8h3.6v3.3h-3.6zM178.5 94.6h3.9v3.2h-3.9zM210.0 182.7h2.9v2.6h-2.9zM215.5 185.4h3.4v4.0h-3.4zM91.2 157.3h2.2v3.5h-2.2zM226.0 111.7h4.3v3.3h-4.3zM136.4 117.1h4.4v4.4h-4.4zM125.1 211.2h3.2v2.8h-3.2zM171.2 130.2h3.9v2.8h-3.9zM117.8 198.0h4.0v3.6h-4.0zM208.9 142.0h4.0v3.5h-4.0zM132.5 104.9h2.4v3.4h-2.4zM153.2 203.7h4.1v4.1h-4.1zM125.9 228.1h2.2v3.0h-2.2zM266.4 176.3h2.8v3.6h-2.8zM202.7 201.2h3.7v2.8h-3.7zM216.6 131.4h2.9v2.3h-2.9zM187.8 129.6h3.7v3.4h-3.7zM200.0 144.3h2.8v3.0h-2.8zM124.2 190.5h2.2v4.2h-2.2zM113.4 187.6h2.3v3.4h-2.3zM107.7 173.1h3.2v4.0h-3.2zM219.2 140.8h2.4v3.9h-2.4zM216.7 214.2h3.6v3.4h-3.6zM178.9 155.2h2.9v4.0h-2.9zM172.7 168.4h4.2v4.3h-4.2zM113.0 156.9h4.3v2.1h-4.3zM175.4 226.7h3.5v3.3h-3.5zM151.7 229.6h2.1v3.2h-2.1zM179.0 149.6h2.2v4.3h-2.2zM264.8 143.4h3.1v3.6h-3.1zM223.2 139.9h3.0v2.7h-3.0zM127.8 118.0h2.3v3.4h-2.3zM141.1 140.1h4.3v2.9h-4.3zM156.6 238.0h2.9v4.1h-2.9zM137.4 209.0h2.2v3.9h-2.2zM229.5 112.9h2.9v4.4h-2.9zM131.2 167.5h2.5v3.5h-2.5zM112.5 166.7h4.3v2.2h-4.3zM244.6 162.5h4.3v3.2h-4.3zM175.5 240.7h3.4v2.6h-3.4zM205.4 115.4h2.8v2.9h-2.8zM251.4 185.4h4.2v3.9h-4.2zM196.9 171.7h2.3v3.5h-2.3zM134.0 156.4h3.7v3.4h-3.7zM240.9 181.0h4.3v2.1h-4.3zM107.2 187.1h2.9v3.3h-2.9zM140.7 222.8h3.0v3.0h-3.0zM192.2 216.7h2.8v3.9h-2.8zM121.4 200.7h4.0v3.3h-4.0zM109.7 194.1h4.2v2.2h-4.2zM249.0 188.0h3.0v4.4h-3.0zM191.3 166.3h4.1v3.6h-4.1zM157.3 108.8h2.0v4.1h-2.0zM168.9 202.1h3.1v4.3h-3.1zM166.2 204.4h3.8v3.0h-3.8zM147.8 122.6h3.6v2.6h-3.6zM184.1 211.2h2.9v4.2h-2.9zM146.8 130.6h2.6v2.8h-2.6zM240.2 204.0h3.0v3.6h-3.0zM175.0 96.3h2.9v4.1h-2.9zM291.4 150.2h2.5v2.9h-2.5zM118.2 209.9h3.7v4.1h-3.7zM225.8 204.2h3.5v2.5h-3.5zM266.8 168.6h3.3v2.9h-3.3zM161.6 132.1h3.6v4.4h-3.6zM210.4 139.5h3.0v3.8h-3.0zM174.7 163.7h4.2v4.3h-4.2zM138.7 165.6h4.4v2.8h-4.4zM125.7 204.6h3.7v2.4h-3.7zM243.0 194.5h3.1v2.1h-3.1zM142.4 161.7h3.0v2.4h-3.0zM212.2 165.2h3.7v3.5h-3.7zM171.5 118.0h4.3v3.0h-4.3zM121.3 155.3h2.9v2.6h-2.9zM198.1 232.6h2.8v3.2h-2.8zM259.7 190.4h2.8v2.0h-2.8zM107.5 185.1h3.0v2.3h-3.0zM158.8 205.4h2.8v3.2h-2.8zM205.3 176.5h2.2v2.7h-2.2zM154.0 224.4h3.7v3.3h-3.7zM162.5 140.1h4.4v2.7h-4.4zM138.8 104.4h2.9v2.5h-2.9zM229.6 170.4h2.3v4.2h-2.3zM115.1 207.1h2.9v3.4h-2.9zM211.2 117.1h2.6v3.8h-2.6zM175.0 106.3h3.5v4.4h-3.5zM99.3 150.6h4.4v4.4h-4.4zM216.7 143.7h4.0v3.9h-4.0zM238.3 122.4h3.6v3.5h-3.6zM132.5 131.0h3.0v3.0h-3.0zM127.1 196.6h3.5v3.0h-3.5zM175.4 108.5h2.9v2.6h-2.9zM102.7 158.3h2.0v3.3h-2.0zM170.3 172.0h2.8v4.1h-2.8zM194.3 158.2h2.2v2.9h-2.2zM175.7 144.1h3.9v4.5h-3.9zM225.2 227.2h2.1v4.4h-2.1zM124.3 163.8h2.3v4.2h-2.3zM119.9 133.8h4.2v4.0h-4.2zM224.6 120.2h2.0v2.5h-2.0zM134.0 94.5h3.1v3.3h-3.1zM214.5 127.5h3.2v2.1h-3.2zM170.1 218.2h4.5v2.9h-4.5zM228.8 186.5h3.8v3.4h-3.8zM161.3 159.4h4.1v4.3h-4.1zM252.3 204.9h4.0v4.0h-4.0zM126.3 113.0h2.6v2.9h-2.6zM155.0 129.7h3.5v2.0h-3.5zM205.4 118.3h2.6v3.6h-2.6zM136.2 194.1h3.6v3.5h-3.6zM180.2 100.0h2.2v3.6h-2.2zM176.4 235.8h3.1v3.6h-3.1zM180.0 153.9h3.9v2.7h-3.9zM213.9 118.3h3.5v3.5h-3.5zM220.2 132.2h2.4v2.4h-2.4zM144.1 224.3h3.7v3.5h-3.7zM281.9 148.5h3.2v4.2h-3.2zM258.2 160.8h3.3v3.8h-3.3zM242.5 223.5h3.8v3.4h-3.8zM208.6 146.0h3.7v4.4h-3.7zM247.4 139.4h3.7v3.7h-3.7zM143.1 211.9h2.4v2.4h-2.4zM223.2 111.8h4.3v4.3h-4.3zM171.0 118.8h3.5v2.1h-3.5zM170.5 129.1h3.0v3.8h-3.0zM87.5 177.1h3.8v3.6h-3.8zM199.4 119.6h3.0v3.4h-3.0zM181.7 218.7h2.1v2.5h-2.1zM148.2 120.8h2.1v4.0h-2.1zM147.2 200.7h3.4v3.3h-3.4zM253.8 190.4h3.1v3.7h-3.1zM173.7 160.1h4.3v3.2h-4.3zM235.6 144.3h2.1v3.5h-2.1zM195.8 180.8h2.9v3.5h-2.9zM173.2 105.9h3.3v3.7h-3.3zM188.3 210.3h2.6v4.3h-2.6zM168.4 113.3h2.2v4.4h-2.2zM186.7 233.8h2.9v2.9h-2.9zM97.7 167.1h2.2v2.7h-2.2zM249.9 131.3h4.4v2.7h-4.4zM121.5 108.6h4.4v3.4h-4.4zM207.7 96.2h4.1v4.5h-4.1zM122.7 217.3h3.8v4.4h-3.8zM192.1 107.6h3.3v4.3h-3.3zM98.6 156.4h3.2v3.2h-3.2zM250.1 164.6h3.5v2.5h-3.5zM241.6 166.6h3.4v3.5h-3.4zM154.4 125.3h3.0v3.5h-3.0zM173.3 121.2h2.8v3.5h-2.8zM119.4 197.7h3.3v4.0h-3.3zM251.9 209.9h2.5v2.4h-2.5zM116.1 93.7h2.8v4.1h-2.8zM161.3 107.5h2.5v3.3h-2.5zM225.4 118.2h4.0v3.2h-4.0zM118.4 144.8h3.8v3.5h-3.8zM204.0 104.3h2.6v4.4h-2.6zM153.2 95.6h3.4v2.9h-3.4zM212.3 137.2h3.5v4.2h-3.5zM171.8 202.3h3.0v4.2h-3.0zM202.9 115.3h2.1v2.7h-2.1zM122.7 173.2h3.4v2.4h-3.4zM189.4 116.5h2.9v3.9h-2.9zM219.5 104.7h3.6v4.1h-3.6zM187.6 171.1h3.1v4.0h-3.1zM159.7 99.6h2.4v4.4h-2.4zM205.9 180.9h2.6v3.2h-2.6zM90.7 152.6h3.3v3.1h-3.3zM256.4 192.9h3.4v3.8h-3.4zM224.6 150.4h2.8v2.7h-2.8z" fill="#4e5460"/>
<path d="M66.4 227.9h4.2v3.5h-4.2zM37.9 213.1h2.7v2.8h-2.7zM53.9 221.9h3.1v2.8h-3.1zM71.1 251.8h3.9v2.6h-3.9zM65.1 216.6h3.9v4.1h-3.9zM89.6 199.9h3.0v3.2h-3.0zM78.3 209.0h3.3v2.3h-3.3zM81.4 239.7h3.5v2.3h-3.5zM85.2 249.8h2.6v2.0h-2.6zM76.0 242.0h3.0v2.1h-3.0zM76.6 217.6h2.3v3.5h-2.3zM75.4 196.2h4.4v3.8h-4.4zM70.4 224.0h2.3v3.2h-2.3zM83.2 212.5h2.8v4.1h-2.8zM86.9 184.0h2.1v3.6h-2.1zM59.0 196.4h3.5v2.8h-3.5zM99.0 203.4h3.9v4.0h-3.9zM53.9 205.7h2.0v2.9h-2.0zM62.6 244.6h3.7v3.3h-3.7zM47.3 222.7h2.5v2.8h-2.5zM42.8 217.8h3.7v3.1h-3.7zM90.0 197.4h3.3v2.9h-3.3zM92.4 209.5h3.6v4.2h-3.6zM40.1 202.9h2.3v3.1h-2.3zM82.7 202.4h4.1v2.3h-4.1zM45.7 223.3h4.1v4.0h-4.1zM67.6 245.2h2.2v3.5h-2.2zM51.2 225.7h3.7v2.8h-3.7zM86.9 188.8h3.2v2.8h-3.2zM70.1 199.5h4.4v3.4h-4.4zM87.8 183.6h3.8v4.2h-3.8zM68.2 214.6h3.5v3.4h-3.5zM97.3 236.2h4.3v3.5h-4.3zM86.5 225.4h3.2v3.8h-3.2zM34.4 209.8h3.1v3.5h-3.1zM58.6 239.7h4.0v3.8h-4.0zM84.0 226.5h2.8v4.0h-2.8zM94.3 216.2h3.4v2.1h-3.4zM61.1 187.9h2.9v3.6h-2.9zM34.0 204.2h3.9v2.8h-3.9zM92.5 200.5h3.8v3.2h-3.8zM84.1 217.0h3.5v4.1h-3.5zM51.7 218.9h3.9v3.2h-3.9z" fill="#969ca0"/>
<path d="M123.3 148.9h3.0v2.8h-3.0zM174.7 96.7h4.5v3.3h-4.5zM136.8 157.5h2.4v2.5h-2.4zM142.4 118.5h4.2v3.5h-4.2zM214.1 185.2h2.6v2.8h-2.6zM174.2 119.1h2.5v4.2h-2.5zM187.1 122.1h2.6v3.1h-2.6zM219.6 200.0h3.4v4.1h-3.4zM238.2 200.9h4.1v2.6h-4.1zM196.1 209.8h3.0v4.4h-3.0zM175.3 164.1h2.4v4.5h-2.4zM263.5 145.0h3.4v2.9h-3.4zM178.6 203.0h2.4v3.0h-2.4zM242.2 195.0h2.3v2.2h-2.3zM149.5 205.5h4.0v3.8h-4.0zM161.3 213.5h2.5v3.9h-2.5zM255.5 211.9h2.7v4.4h-2.7zM181.7 234.6h4.3v3.7h-4.3zM193.9 144.7h2.5v2.6h-2.5zM254.5 143.1h3.5v4.0h-3.5zM167.2 173.6h4.3v3.6h-4.3zM204.7 121.0h2.6v4.1h-2.6zM234.7 142.8h3.3v3.8h-3.3zM209.4 103.7h2.2v3.0h-2.2zM113.0 220.2h4.1v2.4h-4.1zM141.4 225.4h3.2v4.4h-3.2zM201.8 181.6h4.4v4.1h-4.4zM185.0 241.9h3.3v3.8h-3.3zM128.2 245.0h4.5v3.1h-4.5zM216.5 190.7h4.5v3.8h-4.5zM129.1 145.1h4.5v3.5h-4.5zM127.8 126.1h3.1v4.3h-3.1zM162.7 111.2h2.5v4.2h-2.5zM124.7 102.4h3.4v2.7h-3.4zM239.4 159.6h3.1v4.1h-3.1zM147.9 127.1h4.1v3.2h-4.1zM131.4 196.2h3.5v2.8h-3.5zM195.2 108.7h3.3v3.1h-3.3zM210.3 213.2h3.1v3.9h-3.1zM203.2 219.4h2.5v3.3h-2.5zM223.2 162.5h2.2v3.1h-2.2zM260.5 207.1h2.1v3.8h-2.1zM251.2 190.2h2.4v3.0h-2.4zM107.4 206.2h2.1v2.8h-2.1zM109.5 191.5h4.2v4.1h-4.2zM149.9 217.1h3.4v2.3h-3.4zM185.6 204.1h3.4v3.0h-3.4zM234.5 190.2h2.9v3.6h-2.9zM137.6 234.3h4.2v3.0h-4.2zM142.5 126.0h3.3v3.3h-3.3zM135.2 130.0h2.3v2.1h-2.3zM186.9 212.8h2.3v3.7h-2.3zM253.8 145.6h2.5v2.4h-2.5zM118.7 186.8h2.7v3.7h-2.7zM200.7 180.8h2.7v3.4h-2.7zM137.5 230.7h3.4v2.9h-3.4zM127.9 169.6h2.3v2.0h-2.3zM123.4 105.7h3.9v4.4h-3.9zM181.5 108.5h3.4v3.8h-3.4zM120.7 120.1h2.7v2.5h-2.7zM215.5 221.6h2.3v2.6h-2.3zM155.7 118.9h2.1v3.1h-2.1zM272.5 149.6h3.4v3.0h-3.4zM175.7 138.1h3.7v3.4h-3.7zM213.2 160.7h3.9v2.3h-3.9zM129.3 198.7h3.1v3.4h-3.1zM191.6 179.7h2.1v3.0h-2.1zM249.8 179.4h4.5v3.6h-4.5zM141.6 118.7h4.1v2.2h-4.1zM168.3 192.2h4.3v2.5h-4.3zM176.5 108.0h3.2v4.4h-3.2zM207.5 170.0h3.7v3.3h-3.7zM160.1 111.4h2.2v3.3h-2.2zM196.9 242.4h3.3v3.0h-3.3zM226.8 175.3h2.1v4.4h-2.1zM125.4 241.1h4.4v4.5h-4.4zM192.7 225.6h3.7v2.4h-3.7zM251.5 192.0h2.2v3.6h-2.2zM118.6 171.7h2.5v3.5h-2.5zM242.2 208.4h2.6v3.2h-2.6zM142.1 152.8h2.9v4.4h-2.9zM292.1 148.9h2.9v4.4h-2.9zM183.4 188.5h2.4v3.1h-2.4zM246.5 144.5h2.7v3.9h-2.7zM219.7 121.7h3.7v3.1h-3.7zM172.1 122.9h3.0v4.3h-3.0zM235.4 176.0h2.8v3.3h-2.8zM248.8 135.9h4.3v3.7h-4.3zM133.9 206.1h3.2v4.1h-3.2zM170.4 204.2h2.5v2.8h-2.5zM226.3 214.1h2.3v3.7h-2.3zM238.6 191.5h2.4v3.5h-2.4zM128.3 132.3h2.7v4.3h-2.7zM255.3 158.7h2.3v2.2h-2.3zM172.1 98.7h3.9v3.7h-3.9zM138.3 185.8h3.3v2.1h-3.3zM147.8 201.1h4.0v3.3h-4.0zM232.3 141.0h2.6v3.1h-2.6zM146.0 246.6h2.9v2.5h-2.9zM124.6 161.9h3.4v2.7h-3.4zM191.2 102.8h2.1v3.9h-2.1zM176.5 216.8h3.4v2.1h-3.4zM155.9 171.5h3.2v3.2h-3.2zM246.7 191.2h2.5v4.3h-2.5zM252.0 164.3h3.5v3.5h-3.5zM216.9 128.2h3.3v2.9h-3.3zM251.2 214.8h3.5v3.9h-3.5zM219.1 133.7h4.5v4.2h-4.5zM123.8 241.6h2.2v2.3h-2.2zM130.2 190.8h3.7v4.0h-3.7zM122.8 102.5h2.0v4.0h-2.0zM113.4 192.5h3.7v2.3h-3.7zM106.4 152.3h4.2v3.2h-4.2zM250.2 130.1h2.2v2.3h-2.2zM126.3 229.4h4.3v3.3h-4.3zM178.3 101.6h4.3v2.1h-4.3zM210.9 210.5h3.5v3.3h-3.5zM201.2 240.8h3.0v2.6h-3.0zM158.8 237.4h3.9v4.0h-3.9zM176.6 165.1h2.1v2.4h-2.1zM122.7 165.4h2.5v3.3h-2.5zM152.4 228.6h4.1v2.4h-4.1zM218.8 222.5h2.2v4.3h-2.2zM155.8 163.4h3.1v3.4h-3.1zM235.0 192.6h4.4v4.2h-4.4zM239.9 124.5h3.4v3.9h-3.4zM186.0 105.6h3.8v4.4h-3.8zM176.2 118.0h2.4v4.0h-2.4zM211.5 200.7h2.7v2.1h-2.7zM127.4 219.5h3.8v4.2h-3.8zM112.7 154.4h2.4v4.4h-2.4zM183.8 149.7h2.8v3.2h-2.8zM136.8 167.3h3.2v2.1h-3.2zM228.0 209.9h3.8v2.1h-3.8zM154.5 148.5h2.8v2.1h-2.8zM205.2 173.3h2.1v3.8h-2.1zM237.9 194.8h2.7v3.1h-2.7zM211.7 187.3h4.4v3.0h-4.4zM137.8 223.7h4.3v4.2h-4.3zM268.7 160.4h3.2v3.9h-3.2zM99.8 151.2h2.6v3.7h-2.6zM181.1 168.4h2.4v2.8h-2.4zM221.9 118.4h3.1v4.1h-3.1zM220.2 196.3h2.2v2.4h-2.2zM196.7 236.0h3.9v4.4h-3.9zM213.1 119.0h3.8v3.6h-3.8zM255.6 149.2h2.4v2.5h-2.4zM231.8 149.3h3.2v2.3h-3.2zM205.7 128.1h4.2v2.6h-4.2zM213.0 119.6h3.4v2.5h-3.4zM248.1 164.5h4.4v3.2h-4.4zM111.4 148.8h3.9v2.0h-3.9zM161.2 92.5h2.7v3.2h-2.7zM178.8 187.0h3.9v4.3h-3.9zM211.8 109.5h2.6v2.3h-2.6zM147.4 175.1h3.3v4.2h-3.3zM135.5 212.3h2.5v2.7h-2.5zM240.1 135.4h4.4v3.9h-4.4zM222.9 228.5h3.7v3.3h-3.7zM193.5 160.7h3.0v2.5h-3.0zM228.3 136.0h3.8v2.8h-3.8zM110.2 160.0h3.1v3.6h-3.1zM142.3 145.2h3.9v4.1h-3.9zM143.0 105.1h3.6v3.8h-3.6zM238.5 155.5h4.3v3.0h-4.3zM164.0 207.3h3.7v3.4h-3.7zM178.0 218.2h3.5v3.5h-3.5zM109.7 220.8h3.0v2.6h-3.0zM152.4 133.7h2.0v4.4h-2.0zM256.5 170.2h2.7v3.3h-2.7zM246.9 129.5h2.9v3.6h-2.9zM209.2 145.3h2.6v3.4h-2.6zM233.7 213.6h3.5v4.2h-3.5zM269.7 150.9h3.6v2.5h-3.6zM149.9 95.9h2.4v3.0h-2.4zM152.4 120.5h3.2v3.7h-3.2zM178.6 183.3h4.5v4.0h-4.5zM193.5 168.2h4.0v3.1h-4.0zM190.5 231.0h3.8v3.5h-3.8zM218.3 212.8h3.5v3.3h-3.5zM231.6 122.6h2.8v2.8h-2.8zM206.6 132.7h4.0v3.0h-4.0zM195.3 235.8h4.1v3.1h-4.1zM136.9 123.9h2.8v3.0h-2.8zM227.9 214.4h4.3v4.3h-4.3zM136.4 152.4h3.2v3.5h-3.2zM140.0 204.6h3.7v4.2h-3.7zM252.0 172.5h4.3v2.8h-4.3zM177.2 151.3h3.7v2.5h-3.7zM140.4 110.6h3.3v3.3h-3.3zM210.7 178.1h4.0v3.8h-4.0zM176.5 158.2h4.1v2.0h-4.1zM95.4 188.2h3.1v3.1h-3.1zM107.7 217.2h2.1v2.7h-2.1zM245.3 169.2h2.1v3.0h-2.1zM234.9 184.7h2.6v3.0h-2.6zM219.7 198.5h4.3v2.9h-4.3zM183.6 99.7h2.5v2.1h-2.5zM187.2 246.3h2.1v2.1h-2.1zM228.8 136.9h2.1v3.8h-2.1zM180.4 181.0h2.0v4.0h-2.0zM131.3 132.0h3.8v3.0h-3.8zM179.8 98.9h4.4v3.3h-4.4zM133.6 231.8h4.1v2.5h-4.1zM95.0 177.6h3.8v2.4h-3.8zM180.8 149.4h4.2v3.2h-4.2z" fill="#6c727e"/>
<path d="M68.3 91.2h3.3v2.5h-3.3zM75.4 48.6h3.8v2.1h-3.8zM97.6 75.9h3.4v2.3h-3.4zM120.0 53.8h2.7v3.6h-2.7zM96.5 27.3h3.6v3.5h-3.6zM58.4 89.3h2.8v4.0h-2.8zM61.2 93.8h2.4v3.0h-2.4zM72.2 58.5h3.2v4.2h-3.2zM105.3 40.5h3.0v2.0h-3.0zM86.7 76.5h4.0v2.7h-4.0zM93.9 80.7h3.8v2.6h-3.8zM118.9 57.0h4.0v3.8h-4.0zM56.3 80.7h4.2v3.1h-4.2zM109.5 36.7h2.5v4.5h-2.5zM139.4 90.4h3.2v2.7h-3.2zM53.3 91.2h4.1v3.7h-4.1zM50.8 84.5h2.7v4.3h-2.7zM65.2 59.3h2.7v4.2h-2.7zM109.5 71.9h2.3v2.3h-2.3zM128.4 83.3h2.2v2.6h-2.2zM61.2 63.5h3.8v3.7h-3.8zM106.9 71.0h3.8v2.7h-3.8zM96.5 92.2h2.1v2.1h-2.1zM130.1 91.7h3.5v3.5h-3.5zM108.2 57.7h4.5v2.4h-4.5zM45.7 88.0h2.4v3.7h-2.4zM126.0 63.8h3.9v2.8h-3.9zM83.0 90.3h2.2v3.3h-2.2zM109.4 72.5h2.3v3.6h-2.3zM106.1 42.0h3.1v2.3h-3.1zM68.3 87.3h3.9v3.0h-3.9zM57.2 67.0h4.4v2.9h-4.4zM96.7 39.1h2.9v4.1h-2.9zM98.7 41.2h2.6v3.6h-2.6zM78.1 90.3h2.2v3.8h-2.2zM93.8 33.6h2.9v2.4h-2.9z" fill="#b4b8ba"/>
<path d="M75.6 174.2h2.3v3.4h-2.3zM58.9 145.7h4.1v3.8h-4.1zM94.9 139.9h3.1v3.4h-3.1zM80.3 124.5h3.6v2.9h-3.6zM95.4 122.0h3.6v3.1h-3.6zM61.9 131.3h3.1v2.9h-3.1zM80.5 131.9h4.3v3.7h-4.3zM83.6 182.6h4.1v4.5h-4.1zM100.6 145.1h4.5v4.5h-4.5zM87.2 122.5h4.4v3.3h-4.4zM76.1 177.1h3.7v2.1h-3.7zM81.7 104.5h3.1v4.4h-3.1zM97.9 127.5h2.4v2.5h-2.4zM78.5 139.8h3.9v2.9h-3.9zM79.2 123.3h3.3v2.3h-3.3zM76.8 102.4h4.4v2.6h-4.4zM103.7 134.5h3.4v3.9h-3.4zM69.7 134.3h2.9v4.2h-2.9zM96.3 127.0h3.4v2.1h-3.4zM70.3 124.7h4.0v4.3h-4.0zM99.1 139.9h3.1v3.6h-3.1zM70.8 101.3h3.4v3.9h-3.4zM65.4 145.4h2.8v3.5h-2.8zM77.5 125.8h3.9v2.4h-3.9zM75.7 165.7h2.2v4.1h-2.2zM66.8 138.0h2.5v4.4h-2.5zM62.2 99.6h3.1v2.2h-3.1zM77.9 165.5h3.2v4.5h-3.2zM85.6 135.8h2.3v4.3h-2.3zM76.2 178.2h4.4v2.8h-4.4z" fill="#7e8a84"/>
<path d="M32.8 63.2h3.4v4.2h-3.4zM40.7 64.0h2.7v2.8h-2.7zM42.7 77.8h2.4v2.5h-2.4zM38.0 62.5h2.7v4.5h-2.7zM40.6 67.0h3.0v3.7h-3.0zM39.8 82.1h2.1v3.1h-2.1zM40.4 60.9h3.4v2.6h-3.4zM35.3 75.0h2.1v2.6h-2.1zM29.0 68.0h3.0v3.7h-3.0z" fill="#8a827e"/>
<path d="M275.3 146.0h3.4v3.0h-3.4zM240.3 99.3h2.9v2.4h-2.9zM269.6 138.7h2.2v2.4h-2.2zM276.8 115.4h2.8v4.3h-2.8zM213.5 92.5h3.3v2.4h-3.3zM225.4 105.7h4.0v3.2h-4.0zM235.3 87.4h2.0v3.3h-2.0zM290.0 140.6h3.6v2.5h-3.6zM277.7 135.9h3.5v2.7h-3.5zM239.1 80.3h2.6v4.2h-2.6zM283.5 126.4h2.1v3.2h-2.1zM261.0 108.8h3.4v3.8h-3.4zM228.2 78.1h2.6v3.9h-2.6zM207.0 84.6h2.4v3.0h-2.4zM240.1 97.4h3.1v3.6h-3.1zM299.6 135.1h2.8v3.9h-2.8zM219.1 91.8h3.6v3.1h-3.6zM262.0 130.1h4.4v4.3h-4.4zM264.2 121.4h2.9v3.5h-2.9zM276.7 132.1h4.1v3.2h-4.1zM267.0 110.7h4.4v3.8h-4.4zM260.8 137.7h2.8v2.6h-2.8zM252.5 119.3h4.0v2.6h-4.0zM258.5 104.9h2.4v3.4h-2.4zM268.7 123.0h3.2v3.8h-3.2zM154.5 90.4h2.8v2.3h-2.8zM210.1 90.1h2.2v2.2h-2.2zM265.0 123.2h4.1v3.8h-4.1zM301.0 137.8h2.8v4.3h-2.8zM209.9 93.0h3.0v2.9h-3.0zM274.0 118.4h3.7v2.6h-3.7zM185.3 88.9h2.2v2.1h-2.2zM298.9 134.3h2.2v4.1h-2.2zM250.4 93.4h2.8v2.4h-2.8zM177.8 93.2h3.9v3.9h-3.9zM157.3 88.5h3.9v4.4h-3.9zM224.3 98.0h3.4v3.7h-3.4zM223.5 98.3h4.2v4.3h-4.2zM271.6 124.5h2.1v3.4h-2.1zM242.0 108.5h3.6v2.6h-3.6zM245.2 98.8h4.0v2.6h-4.0zM237.7 89.2h3.5v3.4h-3.5zM219.7 95.6h3.6v3.7h-3.6z" fill="#748688"/>
<path d="M58.5 58.8h2.1v2.2h-2.1zM99.2 44.8h2.9v3.1h-2.9zM122.0 68.2h3.4v3.3h-3.4zM62.7 93.7h2.8v3.2h-2.8zM98.4 85.3h3.6v3.7h-3.6zM119.8 81.3h2.3v4.2h-2.3zM40.6 84.9h4.4v3.4h-4.4zM79.4 83.6h3.4v3.0h-3.4zM68.8 56.9h2.4v3.3h-2.4zM82.1 82.9h2.7v2.5h-2.7zM108.2 87.6h2.2v3.3h-2.2zM131.9 84.3h3.2v3.3h-3.2zM49.6 49.5h3.4v4.2h-3.4zM96.3 83.6h2.6v3.8h-2.6zM101.1 78.1h3.4v3.0h-3.4zM36.0 87.4h3.2v3.3h-3.2zM112.4 74.1h2.0v2.5h-2.0zM122.0 55.5h3.9v4.0h-3.9zM64.0 56.2h4.0v3.1h-4.0zM47.7 50.3h3.5v3.2h-3.5zM82.0 57.8h3.3v2.1h-3.3zM119.6 87.8h3.3v3.4h-3.3zM49.9 50.3h4.2v4.2h-4.2zM92.1 30.1h2.5v4.1h-2.5zM49.0 57.8h2.4v2.4h-2.4zM130.2 69.6h4.3v3.7h-4.3zM86.3 50.3h2.3v2.7h-2.3zM76.4 72.5h2.2v2.1h-2.2zM50.0 81.8h3.5v3.7h-3.5zM97.8 47.3h2.3v3.7h-2.3zM73.0 72.2h2.6v3.2h-2.6zM69.7 78.1h3.4v3.4h-3.4zM127.4 91.5h2.5v3.5h-2.5zM67.6 83.7h2.4v2.0h-2.4zM61.1 89.8h3.7v3.1h-3.7zM80.3 85.6h2.1v4.4h-2.1zM123.2 85.5h3.3v3.1h-3.3zM55.9 54.7h3.8v2.3h-3.8zM90.3 54.8h3.1v2.4h-3.1zM95.3 44.3h3.4v2.8h-3.4zM59.8 59.3h4.5v2.8h-4.5zM107.3 53.4h3.1v4.3h-3.1zM82.0 53.1h3.1v4.4h-3.1zM73.3 65.2h3.5v2.8h-3.5zM114.1 85.1h3.7v4.0h-3.7zM45.5 94.3h3.7v4.2h-3.7zM98.7 81.4h4.2v3.5h-4.2zM84.3 63.9h2.7v3.7h-2.7zM110.1 89.7h2.9v4.0h-2.9zM108.9 62.4h3.5v2.9h-3.5z" fill="#3e5e56"/>
<path d="M289.9 140.2h3.5v4.0h-3.5zM280.3 122.3h4.5v3.5h-4.5zM179.7 91.3h4.1v3.5h-4.1zM237.7 86.1h2.0v2.9h-2.0zM228.1 101.4h3.0v2.9h-3.0zM279.0 130.4h3.6v3.9h-3.6zM232.4 103.9h3.2v2.8h-3.2zM264.8 109.3h3.2v2.2h-3.2zM181.9 87.3h2.4v2.3h-2.4zM223.5 87.0h4.3v2.1h-4.3zM228.5 107.0h4.4v3.5h-4.4zM246.2 99.8h2.3v2.6h-2.3zM233.0 77.1h3.2v3.3h-3.2zM240.2 98.1h2.3v2.7h-2.3zM229.2 72.5h4.2v3.8h-4.2zM267.4 127.7h2.4v2.4h-2.4zM168.7 90.7h4.1v2.7h-4.1zM266.7 141.5h2.7v2.2h-2.7zM169.4 89.1h2.1v4.4h-2.1zM243.6 102.1h3.6v3.7h-3.6zM257.4 109.0h2.7v4.3h-2.7zM269.2 113.7h4.0v3.9h-4.0zM261.9 121.8h2.1v4.3h-2.1zM278.4 134.4h2.3v3.6h-2.3zM245.9 104.1h2.9v2.7h-2.9zM178.2 85.1h2.9v2.6h-2.9zM211.3 93.4h3.7v4.4h-3.7zM273.3 126.8h3.9v4.1h-3.9zM250.6 128.5h3.7v3.1h-3.7zM238.4 102.8h4.2v3.5h-4.2zM273.6 139.1h3.7v4.3h-3.7zM254.8 126.4h2.6v2.8h-2.6zM199.4 90.4h2.2v4.3h-2.2zM272.5 123.3h4.4v3.5h-4.4zM297.6 144.1h4.0v3.2h-4.0zM225.4 104.1h2.6v3.6h-2.6zM243.2 113.3h2.8v4.4h-2.8zM168.7 85.6h3.8v2.6h-3.8zM256.1 105.2h3.3v4.2h-3.3zM298.8 134.5h4.1v4.2h-4.1zM204.9 86.5h2.4v2.5h-2.4z" fill="#5c7072"/>
<path d="M273.9 162.7h3.1v3.6h-3.1zM293.8 171.7h3.8v2.8h-3.8zM293.3 157.9h2.3v3.9h-2.3zM274.8 164.3h2.5v4.0h-2.5zM286.8 172.9h2.2v3.3h-2.2zM281.9 156.2h3.8v2.0h-3.8zM268.4 189.6h2.2v2.2h-2.2zM288.7 173.2h2.1v2.9h-2.1zM268.1 184.9h4.3v2.6h-4.3zM275.3 155.4h2.6v3.3h-2.6zM277.3 219.3h3.3v4.1h-3.3zM272.7 180.6h4.4v2.2h-4.4zM283.7 164.2h2.7v2.9h-2.7zM275.2 166.0h4.1v2.4h-4.1zM272.7 158.3h3.8v3.8h-3.8zM271.0 177.2h2.7v4.4h-2.7zM280.5 202.0h3.3v3.1h-3.3zM291.7 176.9h2.1v4.4h-2.1zM278.2 211.5h4.5v3.1h-4.5zM274.1 223.0h4.3v2.9h-4.3zM286.6 211.0h4.4v2.7h-4.4zM267.5 186.2h4.4v2.6h-4.4zM279.5 185.1h3.0v4.1h-3.0zM276.2 196.5h2.1v4.1h-2.1zM285.2 185.9h4.5v3.0h-4.5zM281.8 213.5h2.0v3.9h-2.0zM282.4 175.3h3.2v2.5h-3.2zM280.5 173.4h4.3v4.0h-4.3z" fill="#6a6662"/>
<path d="M94.3 31.2h2.8v4.2h-2.8zM124.2 76.7h3.4v2.9h-3.4zM92.2 34.4h3.5v2.2h-3.5zM66.3 63.8h3.3v2.9h-3.3zM87.2 38.2h2.0v2.7h-2.0zM80.0 56.8h3.1v3.7h-3.1zM67.1 93.7h2.8v3.1h-2.8zM51.5 55.5h3.5v2.8h-3.5zM94.2 62.9h2.7v3.8h-2.7zM38.8 90.8h3.3v3.8h-3.3zM45.7 71.7h2.4v2.6h-2.4zM118.8 47.0h3.2v2.9h-3.2zM131.0 76.1h3.9v4.1h-3.9zM73.4 65.9h3.8v3.9h-3.8zM55.8 74.7h4.1v2.4h-4.1zM116.3 39.3h2.9v3.0h-2.9zM120.4 71.5h2.4v4.2h-2.4zM58.6 79.8h2.2v2.3h-2.2zM88.9 66.6h2.2v2.3h-2.2zM52.4 82.8h4.3v2.4h-4.3zM127.6 85.5h2.3v3.0h-2.3zM120.3 56.9h3.1v3.7h-3.1zM109.5 78.9h3.2v3.0h-3.2zM126.0 77.2h3.5v4.2h-3.5zM111.9 43.5h4.4v3.4h-4.4zM110.1 80.6h3.6v3.2h-3.6zM64.8 59.3h3.0v2.6h-3.0zM61.7 65.5h2.5v2.5h-2.5zM88.9 42.5h2.9v2.2h-2.9zM53.6 70.8h3.7v3.2h-3.7z" fill="#9aa2a0"/>
<path d="M253.0 94.6h2.6v4.2h-2.6zM183.9 91.1h2.2v2.0h-2.2zM164.5 84.4h3.4v3.5h-3.4zM226.1 82.0h3.4v4.3h-3.4zM264.7 105.4h3.2v2.6h-3.2zM273.6 119.9h4.0v2.3h-4.0zM274.0 132.3h2.3v2.6h-2.3zM280.8 140.3h2.8v2.6h-2.8zM279.2 120.7h3.9v2.6h-3.9zM217.1 98.2h2.7v3.5h-2.7zM229.9 94.7h2.1v2.7h-2.1zM227.2 104.3h4.0v3.4h-4.0zM256.4 117.6h4.5v3.6h-4.5zM173.6 87.6h2.9v4.0h-2.9zM220.0 103.4h3.3v2.3h-3.3zM245.0 109.5h2.8v2.0h-2.8zM238.7 88.3h4.0v2.7h-4.0zM167.4 83.8h3.7v3.2h-3.7zM230.4 86.1h3.9v4.4h-3.9zM212.3 91.1h3.6v2.2h-3.6zM223.5 98.1h4.3v3.8h-4.3zM223.8 69.2h2.6v3.4h-2.6zM220.8 92.6h2.8v4.0h-2.8zM240.5 113.5h3.9v3.6h-3.9zM267.6 143.8h2.0v3.0h-2.0zM225.5 94.1h3.1v2.4h-3.1zM275.1 145.0h3.2v3.7h-3.2zM269.2 113.0h2.1v4.3h-2.1zM288.6 131.9h2.6v2.9h-2.6zM224.3 78.7h4.0v2.8h-4.0zM235.0 72.9h3.8v4.1h-3.8zM279.1 146.3h4.4v2.8h-4.4zM276.3 141.6h3.6v3.5h-3.6zM272.3 139.5h2.7v2.4h-2.7zM276.8 114.2h3.3v4.0h-3.3zM234.5 80.8h4.1v4.3h-4.1zM260.7 127.0h2.3v3.9h-2.3zM225.5 71.2h3.0v4.2h-3.0zM267.6 111.5h2.3v4.2h-2.3zM245.6 85.8h3.5v2.8h-3.5zM263.4 106.7h2.8v4.2h-2.8zM236.4 83.9h4.4v4.2h-4.4z" fill="#90a0a0"/>
<path d="M271.5 117.1h2.3v3.3h-2.3zM244.8 124.3h2.2v2.1h-2.2zM205.8 93.5h3.3v3.6h-3.3zM292.7 146.6h2.8v2.5h-2.8zM225.9 96.0h2.8v4.1h-2.8zM197.7 92.1h3.8v2.6h-3.8zM239.8 110.6h3.6v2.4h-3.6zM246.9 96.1h3.3v2.8h-3.3zM241.4 97.5h2.1v3.3h-2.1zM226.9 105.4h3.0v4.1h-3.0zM230.3 82.9h3.7v2.7h-3.7zM275.1 133.4h3.0v2.5h-3.0zM283.4 142.2h3.3v3.9h-3.3zM266.5 134.8h2.9v2.9h-2.9zM234.7 75.7h4.5v3.0h-4.5zM287.8 129.6h3.3v3.6h-3.3zM238.0 109.3h4.1v4.2h-4.1zM275.3 140.5h2.7v3.1h-2.7zM286.1 126.9h3.2v4.5h-3.2zM258.1 125.2h3.4v4.4h-3.4zM235.6 115.5h3.4v3.8h-3.4zM225.1 71.9h2.7v3.3h-2.7zM286.8 127.9h3.7v2.7h-3.7zM278.7 125.6h4.0v2.7h-4.0zM199.8 89.3h4.3v4.3h-4.3zM238.1 110.4h2.7v2.5h-2.7zM237.8 100.7h4.4v2.1h-4.4zM264.6 111.9h2.2v2.5h-2.2zM285.5 144.2h2.7v3.2h-2.7zM287.7 138.3h4.3v4.5h-4.3zM246.6 114.4h3.2v2.7h-3.2zM243.5 99.4h3.5v2.1h-3.5zM234.3 77.7h3.9v3.8h-3.9zM156.4 89.7h2.8v3.3h-2.8zM249.3 102.9h2.3v2.7h-2.3zM283.7 135.5h2.3v3.0h-2.3zM270.0 116.5h3.8v4.0h-3.8zM220.2 75.2h2.9v2.4h-2.9zM233.1 113.8h2.8v2.0h-2.8zM206.1 92.1h3.2v3.3h-3.2zM268.5 132.6h4.5v2.8h-4.5zM270.1 120.5h4.1v2.7h-4.1zM244.0 97.9h2.4v2.4h-2.4z" fill="#869698"/>
<path d="M280.1 155.6h2.5v2.7h-2.5zM276.2 216.8h3.9v2.9h-3.9zM256.8 218.5h2.5v3.8h-2.5zM296.4 152.9h4.4v4.3h-4.4zM269.9 168.4h3.1v3.8h-3.1zM284.4 163.7h2.3v4.1h-2.3zM279.9 187.4h4.0v2.4h-4.0zM275.7 194.7h3.4v3.4h-3.4zM263.5 219.6h4.2v2.6h-4.2zM269.7 187.8h3.1v3.3h-3.1zM284.5 213.9h3.4v3.3h-3.4zM272.9 210.0h2.7v2.5h-2.7zM269.6 221.7h4.3v2.6h-4.3zM283.5 191.9h3.1v3.1h-3.1zM293.5 184.4h2.5v4.2h-2.5zM284.6 162.0h3.5v2.3h-3.5zM286.2 208.3h2.6v3.3h-2.6zM270.3 176.7h3.4v4.2h-3.4zM281.7 189.4h3.4v4.4h-3.4zM276.5 153.0h3.3v2.9h-3.3zM273.9 157.4h2.5v3.9h-2.5zM274.9 184.6h3.4v2.9h-3.4z" fill="#726e6a"/>
<path d="M90.9 29.0h2.9v2.4h-2.9zM93.4 54.3h2.1v3.0h-2.1zM86.3 39.3h2.3v2.2h-2.3zM114.2 66.9h2.5v3.3h-2.5zM96.5 69.8h2.5v3.6h-2.5zM103.6 67.9h3.1v2.5h-3.1zM49.0 88.9h3.3v2.9h-3.3zM56.4 59.9h4.4v2.9h-4.4zM111.7 50.6h4.2v2.2h-4.2zM56.5 52.4h3.3v2.6h-3.3zM85.3 83.1h2.8v3.6h-2.8zM44.8 56.2h3.2v2.6h-3.2zM97.8 75.4h2.4v4.0h-2.4zM99.2 40.6h3.2v3.2h-3.2zM57.4 75.3h3.7v2.3h-3.7zM103.7 92.1h2.9v4.4h-2.9zM67.6 70.4h2.5v2.2h-2.5zM95.5 42.8h2.0v4.1h-2.0zM72.3 91.5h4.0v4.1h-4.0zM108.7 67.5h2.9v2.3h-2.9zM48.2 73.1h3.3v3.6h-3.3zM76.0 74.9h2.4v2.6h-2.4zM47.7 55.1h2.8v3.0h-2.8zM59.8 60.5h3.8v4.3h-3.8zM113.3 88.9h3.8v3.8h-3.8zM136.2 80.1h2.9v2.7h-2.9zM94.7 77.5h4.1v2.6h-4.1zM88.7 88.7h4.2v4.3h-4.2zM104.7 42.5h4.4v4.4h-4.4zM131.7 85.2h3.0v3.8h-3.0zM110.5 83.9h3.9v3.3h-3.9zM116.3 46.7h2.5v3.7h-2.5zM88.8 31.5h3.7v3.9h-3.7zM49.1 83.9h2.6v3.4h-2.6zM60.8 94.0h4.0v3.0h-4.0zM129.8 67.0h3.7v2.3h-3.7zM132.9 89.0h2.6v3.6h-2.6zM66.7 63.2h3.9v3.9h-3.9zM50.9 66.8h2.8v2.3h-2.8zM129.9 74.1h2.6v4.3h-2.6zM54.1 92.8h3.4v2.3h-3.4zM36.8 84.7h3.8v3.5h-3.8z" fill="#2f4f48"/>
<path d="M100.0 224.2h3.4v3.2h-3.4zM55.6 213.6h3.9v2.9h-3.9zM70.3 211.0h3.4v2.6h-3.4zM74.6 187.7h3.6v3.4h-3.6zM91.3 227.8h4.3v2.5h-4.3zM67.0 215.5h3.0v2.1h-3.0zM93.8 201.6h2.3v4.1h-2.3zM69.9 200.7h3.7v4.3h-3.7zM91.8 247.6h3.9v2.1h-3.9zM101.1 208.2h4.2v2.6h-4.2zM56.5 248.5h2.4v2.8h-2.4zM33.2 197.2h3.3v2.5h-3.3zM66.9 247.8h3.2v2.5h-3.2zM89.5 221.0h3.5v4.3h-3.5zM87.0 229.7h2.6v4.3h-2.6zM92.2 221.5h3.9v4.1h-3.9zM52.0 193.3h2.6v3.5h-2.6zM72.7 192.4h4.1v2.9h-4.1zM99.4 226.9h4.3v4.4h-4.3zM73.1 257.6h3.1v2.2h-3.1zM87.6 197.0h2.9v4.2h-2.9zM45.8 208.2h3.1v2.3h-3.1zM70.1 231.3h3.6v3.6h-3.6zM75.8 203.3h3.2v4.1h-3.2zM48.4 201.9h2.2v3.0h-2.2zM92.9 229.4h2.3v2.8h-2.3zM56.9 248.2h2.3v2.7h-2.3zM38.7 199.5h4.0v2.7h-4.0zM57.9 192.5h2.2v4.3h-2.2zM101.3 208.8h4.5v3.2h-4.5zM76.3 242.2h2.2v3.9h-2.2zM93.4 251.0h2.6v3.3h-2.6zM87.8 236.9h2.1v4.0h-2.1zM34.7 212.5h3.7v3.7h-3.7zM78.9 217.3h3.4v3.0h-3.4zM76.0 183.6h2.8v3.4h-2.8zM56.5 231.9h2.8v3.3h-2.8zM62.0 235.7h2.3v4.5h-2.3zM71.9 206.8h2.3v4.4h-2.3zM91.3 235.5h2.6v4.5h-2.6zM89.7 244.5h4.3v4.3h-4.3zM71.5 227.9h3.1v3.2h-3.1zM58.6 235.0h4.4v4.2h-4.4zM86.1 251.8h2.8v2.4h-2.8zM45.8 233.6h3.1v2.4h-3.1zM66.9 237.4h4.1v2.8h-4.1zM62.1 218.1h4.0v2.9h-4.0zM58.7 188.8h2.3v3.8h-2.3zM70.5 202.1h4.3v3.3h-4.3zM86.3 243.8h3.8v3.1h-3.8zM52.1 232.3h2.9v3.1h-2.9zM99.0 229.4h3.4v4.3h-3.4zM60.6 217.8h3.6v3.9h-3.6z" fill="#868c90"/>
<path d="M247.1 79.1h2.9v3.8h-2.9zM258.8 94.5h2.2v4.2h-2.2zM245.1 81.9h2.4v3.7h-2.4zM295.1 119.6h2.6v4.4h-2.6zM237.9 73.7h3.8v3.9h-3.8zM261.6 92.3h3.1v2.3h-3.1zM282.5 114.9h3.2v3.5h-3.2zM263.8 97.2h3.5v2.1h-3.5zM239.9 74.8h2.4v2.4h-2.4zM299.8 128.6h4.1v2.7h-4.1z" fill="#847c76"/>
<path d="M82.8 252.5h2.5v4.1h-2.5zM63.4 191.0h4.3v2.2h-4.3zM73.6 239.5h2.1v2.4h-2.1zM64.3 246.8h2.9v2.5h-2.9zM92.7 209.6h3.8v2.2h-3.8zM77.0 244.5h2.1v3.0h-2.1zM56.3 189.5h2.5v3.0h-2.5zM86.8 202.1h3.5v4.5h-3.5zM78.1 203.2h2.5v2.2h-2.5zM106.0 225.4h2.5v2.3h-2.5zM86.4 241.7h2.8v4.5h-2.8zM94.2 246.3h3.4v3.4h-3.4zM96.5 219.2h4.0v2.3h-4.0zM51.9 228.1h3.3v4.5h-3.3zM39.7 202.3h3.6v2.3h-3.6zM77.3 196.2h3.2v4.4h-3.2zM53.9 204.3h3.5v3.5h-3.5zM67.7 259.2h2.2v2.4h-2.2zM84.5 195.2h2.1v2.8h-2.1zM50.5 219.8h2.9v3.1h-2.9zM93.3 240.4h3.0v2.2h-3.0zM76.1 215.8h3.1v3.1h-3.1zM62.8 202.4h4.0v4.4h-4.0zM61.3 234.4h4.4v3.3h-4.4zM61.5 240.1h3.7v4.4h-3.7zM95.0 211.5h3.4v3.4h-3.4zM62.8 240.5h2.8v3.6h-2.8zM93.8 233.9h2.2v4.3h-2.2zM88.5 215.3h3.1v2.9h-3.1zM70.9 215.7h3.2v2.2h-3.2zM89.8 233.0h2.2v3.3h-2.2zM85.9 195.9h3.8v2.9h-3.8zM45.8 207.7h2.2v3.5h-2.2zM83.9 212.2h2.6v4.1h-2.6zM44.4 206.2h4.4v2.5h-4.4zM43.5 225.3h3.4v3.6h-3.4zM74.3 190.9h4.2v3.0h-4.2zM65.9 239.7h3.3v2.4h-3.3zM61.1 208.7h4.0v2.4h-4.0zM75.4 216.5h2.6v3.6h-2.6zM79.2 244.7h4.0v4.2h-4.0zM68.8 259.4h2.5v3.3h-2.5zM56.5 224.2h3.2v2.2h-3.2z" fill="#7e7a74"/>
<path d="M125.7 142.6h2.5v3.8h-2.5zM214.8 182.4h4.2v2.1h-4.2zM257.0 201.6h2.9v3.6h-2.9zM128.9 200.4h3.8v2.1h-3.8zM160.7 169.3h2.4v4.2h-2.4zM113.2 180.1h2.1v3.5h-2.1zM172.8 225.6h4.0v3.1h-4.0zM157.7 180.4h2.4v3.6h-2.4zM225.5 117.9h3.3v3.0h-3.3zM109.2 182.1h3.0v4.5h-3.0zM127.3 194.4h4.4v3.1h-4.4zM128.8 182.9h4.2v2.2h-4.2zM131.9 182.5h3.4v3.3h-3.4zM140.6 181.3h3.8v3.1h-3.8zM174.4 144.2h4.4v2.7h-4.4zM218.2 219.3h2.2v3.9h-2.2zM158.8 141.8h4.3v3.9h-4.3zM240.7 141.6h4.1v4.3h-4.1zM233.8 177.0h3.6v2.6h-3.6zM223.2 189.1h2.8v4.1h-2.8zM188.9 257.5h4.4v2.5h-4.4zM256.0 158.7h3.5v2.9h-3.5zM235.7 142.6h4.2v3.9h-4.2zM254.4 178.8h2.3v3.8h-2.3zM221.6 169.9h3.8v3.9h-3.8zM226.7 174.3h3.4v3.6h-3.4zM182.8 97.5h2.8v2.1h-2.8zM184.9 243.5h2.8v3.4h-2.8zM127.4 94.4h2.4v3.5h-2.4zM119.9 153.2h4.3v2.8h-4.3zM240.2 209.6h4.0v3.3h-4.0zM174.3 197.6h2.1v4.0h-2.1zM111.6 182.2h2.3v2.2h-2.3zM112.3 198.5h3.7v3.6h-3.7zM197.5 116.7h2.3v2.6h-2.3zM254.2 213.0h2.3v4.0h-2.3zM141.2 100.4h3.3v4.4h-3.3zM181.1 121.8h3.1v3.6h-3.1zM124.3 126.9h2.4v2.5h-2.4zM189.7 185.7h4.0v2.4h-4.0zM179.0 179.3h2.3v4.2h-2.3zM195.2 158.4h2.0v4.0h-2.0zM146.1 115.9h3.1v3.2h-3.1zM184.6 217.8h3.1v4.2h-3.1zM188.4 201.0h3.7v3.0h-3.7zM178.9 108.1h2.6v2.4h-2.6zM171.4 184.0h4.0v2.6h-4.0zM204.1 194.4h2.7v4.3h-2.7zM208.3 150.3h2.3v3.7h-2.3zM245.9 133.1h3.3v2.1h-3.3zM104.8 213.4h4.0v3.7h-4.0zM108.2 210.6h3.8v3.5h-3.8zM134.6 204.8h4.1v3.5h-4.1zM176.6 180.6h3.5v4.2h-3.5zM96.6 192.2h2.6v3.5h-2.6zM258.7 190.7h4.1v3.5h-4.1zM157.4 239.5h3.4v2.9h-3.4zM131.6 225.3h2.9v2.3h-2.9zM223.1 215.2h4.1v4.0h-4.1zM243.6 195.9h3.2v3.4h-3.2zM174.5 224.0h4.2v2.9h-4.2zM120.8 221.6h4.4v2.3h-4.4zM199.0 176.2h4.1v3.1h-4.1zM215.4 113.5h4.1v2.3h-4.1zM204.5 186.9h2.7v3.5h-2.7zM222.1 214.6h2.8v2.4h-2.8zM237.7 189.6h2.9v3.6h-2.9zM192.4 181.8h4.4v2.0h-4.4zM181.6 166.3h3.9v3.4h-3.9zM157.3 210.9h3.0v3.4h-3.0zM137.1 191.4h3.0v3.1h-3.0zM213.0 174.4h3.4v3.9h-3.4zM133.3 130.3h3.9v4.2h-3.9zM182.8 229.2h3.7v3.2h-3.7zM238.7 142.4h2.8v2.3h-2.8zM108.8 186.3h2.6v2.2h-2.6zM264.3 186.2h3.5v2.7h-3.5zM176.8 201.0h3.2v4.3h-3.2zM185.4 234.3h4.1v3.6h-4.1zM132.7 193.6h2.1v4.3h-2.1zM188.0 247.8h4.0v3.6h-4.0zM239.4 160.4h2.2v4.1h-2.2zM184.8 254.2h3.1v3.3h-3.1zM189.2 237.7h2.7v4.2h-2.7zM232.3 155.1h2.7v3.3h-2.7zM128.4 191.3h2.4v3.6h-2.4zM192.6 127.5h3.2v3.8h-3.2zM259.2 204.5h4.2v2.6h-4.2zM184.2 119.2h3.7v3.9h-3.7zM175.6 107.8h3.8v3.5h-3.8zM171.0 102.4h3.7v2.5h-3.7zM184.6 192.7h3.0v3.7h-3.0zM202.8 220.0h4.5v3.5h-4.5zM189.0 196.7h2.3v3.2h-2.3zM144.2 128.4h4.0v2.4h-4.0zM226.3 167.3h4.4v2.5h-4.4zM128.9 176.7h4.0v3.3h-4.0zM178.3 153.2h3.8v2.5h-3.8zM127.8 200.5h3.7v2.5h-3.7zM116.4 148.2h2.2v4.2h-2.2zM116.7 189.7h3.2v3.1h-3.2zM131.4 134.1h3.1v3.1h-3.1zM126.9 232.0h3.7v3.6h-3.7zM144.7 129.2h3.3v2.4h-3.3zM254.1 199.1h2.8v4.2h-2.8zM217.4 111.2h2.4v2.1h-2.4zM134.8 203.8h4.3v4.5h-4.3zM141.2 215.6h2.4v4.0h-2.4zM154.8 162.1h3.7v2.2h-3.7zM193.5 116.6h3.4v3.1h-3.4zM128.5 165.2h2.7v4.2h-2.7zM249.3 159.6h2.8v3.3h-2.8zM192.2 130.3h4.4v2.7h-4.4zM150.8 153.3h2.8v4.4h-2.8zM143.9 126.0h4.0v3.4h-4.0zM250.1 158.4h3.8v3.1h-3.8zM221.4 171.6h2.2v4.2h-2.2zM166.6 98.9h4.4v3.1h-4.4zM106.8 145.6h3.3v3.9h-3.3zM191.3 196.3h4.4v3.1h-4.4zM185.0 214.1h2.1v3.8h-2.1zM219.9 206.4h2.3v3.5h-2.3zM118.6 173.4h2.1v2.3h-2.1zM173.7 132.3h2.4v4.2h-2.4zM239.8 220.3h3.9v2.9h-3.9zM196.5 125.5h4.2v2.8h-4.2zM187.6 141.8h4.0v3.0h-4.0zM212.9 216.6h2.5v2.3h-2.5zM168.2 122.7h4.3v2.4h-4.3zM254.0 186.2h2.7v4.3h-2.7zM190.9 241.9h2.7v3.6h-2.7zM169.4 143.0h3.2v3.1h-3.2zM267.9 155.0h3.1v3.1h-3.1zM223.6 154.2h3.8v3.3h-3.8zM248.8 200.4h3.0v2.9h-3.0zM199.0 98.0h4.4v4.0h-4.4zM163.8 219.1h4.0v2.6h-4.0zM239.2 162.7h3.5v3.4h-3.5zM141.4 177.6h2.5v3.6h-2.5zM245.2 128.4h3.4v2.5h-3.4zM134.9 220.3h3.9v3.6h-3.9zM257.3 204.7h3.8v2.2h-3.8zM247.2 166.1h4.0v3.7h-4.0zM156.8 96.9h2.3v3.3h-2.3zM205.8 170.8h2.9v2.9h-2.9zM92.1 150.6h3.4v3.7h-3.4zM118.2 199.4h2.7v4.4h-2.7zM137.1 160.1h2.7v3.0h-2.7zM133.6 190.9h3.2v2.9h-3.2zM241.8 176.7h4.2v2.3h-4.2zM189.7 130.1h3.2v3.6h-3.2zM173.3 176.6h3.8v2.3h-3.8zM105.5 205.0h2.2v2.5h-2.2zM190.6 142.9h2.0v2.6h-2.0zM252.2 137.1h2.2v3.3h-2.2zM229.7 141.7h3.8v2.2h-3.8zM149.8 93.7h4.4v2.3h-4.4zM220.4 176.9h2.5v2.3h-2.5zM172.1 119.3h3.0v4.0h-3.0zM137.1 210.6h3.3v4.2h-3.3zM184.3 119.1h4.2v3.3h-4.2zM241.7 218.0h2.6v2.9h-2.6zM266.7 175.7h4.3v2.6h-4.3zM169.2 227.7h4.4v2.9h-4.4zM140.8 97.0h2.5v2.5h-2.5zM125.7 102.4h3.5v2.6h-3.5zM112.5 176.1h2.9v2.7h-2.9zM242.7 184.5h4.2v2.7h-4.2zM164.8 138.4h4.0v3.2h-4.0zM199.5 96.6h2.5v3.0h-2.5zM159.5 103.5h2.5v2.5h-2.5zM173.5 187.9h2.9v2.4h-2.9zM171.9 116.1h3.7v2.9h-3.7zM188.3 205.5h3.6v2.3h-3.6zM132.1 182.4h4.1v2.3h-4.1zM209.2 120.0h4.2v4.3h-4.2zM168.3 135.4h2.5v2.2h-2.5zM179.1 193.8h2.2v4.4h-2.2zM189.9 214.1h4.3v2.4h-4.3zM182.4 140.3h2.0v3.8h-2.0zM184.7 159.7h3.2v3.2h-3.2zM174.9 130.3h3.9v2.4h-3.9zM89.3 175.7h3.8v3.8h-3.8zM239.3 146.4h2.7v3.0h-2.7zM108.1 226.1h2.4v4.4h-2.4zM252.8 162.2h2.3v2.3h-2.3zM182.9 142.5h4.4v2.4h-4.4zM182.3 127.2h4.5v3.9h-4.5zM240.9 192.0h2.8v2.6h-2.8zM221.3 222.7h2.2v3.9h-2.2zM247.6 187.0h4.4v3.8h-4.4zM92.6 153.5h3.6v4.0h-3.6zM173.8 109.4h3.6v2.6h-3.6zM109.2 216.6h3.0v3.5h-3.0zM262.7 146.4h2.1v2.6h-2.1zM135.7 236.1h2.9v2.9h-2.9zM134.5 207.5h2.2v3.2h-2.2zM151.0 96.9h2.5v3.5h-2.5zM140.4 180.7h3.5v4.3h-3.5zM231.4 226.0h2.7v2.9h-2.7zM127.8 161.8h3.8v3.6h-3.8zM219.7 212.1h2.7v2.7h-2.7zM164.9 119.5h2.5v4.2h-2.5zM111.6 174.5h3.1v3.2h-3.1zM156.3 211.4h2.2v4.2h-2.2zM136.4 178.7h3.5v2.5h-3.5zM230.1 218.8h3.7v2.2h-3.7zM172.9 133.6h4.0v3.1h-4.0zM108.6 212.4h2.8v4.4h-2.8zM196.0 192.9h3.7v3.3h-3.7zM179.3 151.7h2.5v2.6h-2.5z" fill="#868c98"/>
<path d="M49.1 90.9h2.7v3.0h-2.7zM88.2 54.2h2.2v2.1h-2.2zM95.0 84.5h2.6v2.9h-2.6zM126.0 75.2h2.8v2.8h-2.8zM97.5 49.0h2.2v2.6h-2.2zM87.0 79.7h2.3v2.6h-2.3zM106.3 49.1h2.8v2.7h-2.8zM78.6 56.3h3.8v2.3h-3.8zM51.5 81.9h2.7v4.2h-2.7zM101.1 34.3h2.8v3.7h-2.8zM133.1 76.5h2.2v2.2h-2.2zM102.4 68.6h3.4v3.7h-3.4zM82.4 65.6h2.2v2.9h-2.2zM81.8 60.6h3.1v2.6h-3.1zM116.2 41.5h2.3v2.1h-2.3zM87.5 53.2h4.0v2.1h-4.0zM115.2 61.4h3.5v3.3h-3.5zM66.5 93.3h4.2v2.6h-4.2zM88.8 40.3h3.6v3.8h-3.6zM61.2 65.0h3.3v2.4h-3.3zM85.9 89.5h3.8v2.3h-3.8zM99.1 58.3h3.3v3.9h-3.3zM141.7 80.6h3.5v4.3h-3.5zM57.9 81.8h2.1v3.0h-2.1zM97.2 52.7h2.8v2.8h-2.8zM115.1 71.1h2.3v3.6h-2.3zM48.6 78.1h4.3v2.1h-4.3zM93.3 76.5h2.6v3.1h-2.6zM118.9 61.2h3.4v4.1h-3.4zM77.4 79.7h3.0v2.5h-3.0zM138.0 84.5h2.9v3.8h-2.9zM88.4 68.3h3.2v3.9h-3.2zM116.6 74.6h2.2v4.3h-2.2zM59.0 81.3h2.2v3.9h-2.2zM120.2 53.1h2.0v4.4h-2.0zM59.6 74.7h2.6v2.1h-2.6zM97.8 60.5h3.0v2.0h-3.0zM64.3 57.8h3.2v2.3h-3.2zM37.5 49.8h3.5v3.2h-3.5zM74.4 83.5h2.9v4.4h-2.9zM92.9 43.6h3.9v2.1h-3.9zM70.8 62.8h3.8v2.8h-3.8zM95.9 72.0h3.7v3.8h-3.7zM101.5 77.6h2.9v2.5h-2.9z" fill="#5e7670"/>
<path d="M279.0 209.6h4.2v2.3h-4.2zM269.5 163.3h2.1v2.6h-2.1zM285.0 189.3h3.7v4.1h-3.7zM285.6 180.6h3.5v2.9h-3.5zM277.8 202.3h3.5v3.1h-3.5zM272.2 170.8h2.2v3.5h-2.2zM282.0 216.7h2.4v2.4h-2.4zM274.5 214.2h3.8v2.1h-3.8zM285.3 178.0h2.7v3.1h-2.7zM268.0 180.6h2.5v3.0h-2.5zM276.3 193.9h4.1v2.5h-4.1zM289.9 180.6h2.9v2.1h-2.9zM268.5 174.4h4.0v2.4h-4.0zM282.3 213.6h3.9v3.0h-3.9zM280.8 197.5h3.2v2.7h-3.2zM292.2 162.6h4.2v4.0h-4.2zM271.8 154.0h2.1v4.1h-2.1zM275.0 175.8h4.3v2.2h-4.3zM274.0 206.8h2.7v2.2h-2.7zM273.7 167.5h4.2v3.8h-4.2zM284.0 181.0h4.0v2.1h-4.0zM270.9 220.7h3.0v4.4h-3.0zM270.1 172.7h3.2v3.2h-3.2zM294.9 184.7h3.9v2.4h-3.9zM289.5 166.7h3.5v3.3h-3.5zM273.3 179.0h3.7v3.3h-3.7zM293.0 194.4h4.2v4.2h-4.2zM288.1 207.5h2.5v3.7h-2.5z" fill="#807a74"/>
<path d="M35.7 60.0h3.9v2.4h-3.9zM37.2 56.1h2.7v2.7h-2.7zM42.6 74.3h3.6v3.2h-3.6zM39.6 68.9h3.6v3.1h-3.6z" fill="#66605e"/>
<path d="M86.3 149.2h4.4v3.1h-4.4zM115.8 124.3h2.7v4.5h-2.7zM87.0 170.0h2.7v4.1h-2.7zM85.8 114.2h2.6v4.2h-2.6zM110.4 143.6h3.0v4.1h-3.0zM61.9 152.0h3.7v2.1h-3.7zM76.6 142.5h2.4v4.3h-2.4zM67.3 149.2h2.9v2.4h-2.9zM76.8 126.9h2.6v2.4h-2.6zM69.4 152.8h3.0v2.5h-3.0zM65.6 143.8h3.8v3.2h-3.8zM121.7 105.2h2.5v4.3h-2.5zM107.3 138.0h2.5v2.5h-2.5zM77.3 179.3h3.9v2.4h-3.9zM67.1 129.9h4.4v2.8h-4.4zM84.3 101.3h2.7v4.3h-2.7zM71.7 177.0h4.2v3.5h-4.2zM61.8 136.0h3.1v3.5h-3.1zM78.2 161.3h2.7v3.5h-2.7zM63.6 158.0h3.9v3.5h-3.9zM68.2 161.6h4.1v2.8h-4.1zM65.5 138.9h2.5v4.5h-2.5zM74.0 95.3h3.3v3.8h-3.3zM89.3 139.9h3.0v4.2h-3.0zM100.5 134.0h3.8v4.4h-3.8zM74.9 124.4h4.0v3.0h-4.0zM73.1 132.6h3.1v3.3h-3.1zM84.1 142.2h4.5v3.4h-4.5zM67.2 146.3h3.1v2.5h-3.1zM88.7 148.3h4.0v4.0h-4.0zM74.4 138.6h4.3v3.6h-4.3z" fill="#6c7c74"/>
<path d="M60.2 206.4h4.4v4.1h-4.4zM54.7 199.4h4.0v4.3h-4.0zM66.7 200.1h3.9v3.2h-3.9zM92.2 224.0h3.3v3.2h-3.3zM62.4 204.2h3.7v3.9h-3.7zM56.5 222.7h3.6v2.5h-3.6zM29.6 205.2h3.9v4.2h-3.9zM70.9 206.1h2.6v2.5h-2.6zM47.4 213.5h2.5v3.5h-2.5zM74.7 223.6h2.5v2.3h-2.5zM46.6 204.6h3.3v4.3h-3.3zM67.3 233.8h4.2v4.5h-4.2zM95.2 218.7h2.1v3.4h-2.1zM54.8 190.6h4.5v2.5h-4.5zM41.4 199.1h3.8v3.1h-3.8zM85.4 238.5h3.1v4.0h-3.1zM42.8 233.3h2.3v3.0h-2.3zM96.2 227.3h3.0v3.9h-3.0zM90.0 210.5h3.5v2.9h-3.5zM44.3 207.4h2.9v4.0h-2.9zM98.5 232.0h2.2v2.8h-2.2zM63.0 236.3h4.4v3.4h-4.4zM94.4 232.9h4.4v4.2h-4.4zM61.0 239.9h3.5v3.9h-3.5zM61.2 255.7h2.8v3.3h-2.8zM86.6 205.2h2.4v2.6h-2.4zM73.7 192.6h3.3v2.2h-3.3zM39.7 204.9h3.7v4.1h-3.7zM34.6 203.2h2.5v4.0h-2.5zM64.7 238.1h2.5v2.4h-2.5zM56.3 216.4h4.2v3.4h-4.2zM88.1 231.2h2.0v4.1h-2.0zM69.4 242.4h4.0v3.7h-4.0zM39.3 205.6h4.2v3.9h-4.2zM98.3 230.3h2.5v2.3h-2.5zM54.8 189.7h2.2v3.3h-2.2z" fill="#686e72"/>
<path d="M111.5 53.8h3.7v2.6h-3.7zM66.7 70.6h3.0v3.0h-3.0zM112.6 57.6h3.7v4.1h-3.7zM42.5 50.2h2.4v3.3h-2.4zM127.9 89.3h3.1v2.3h-3.1zM77.9 85.4h3.2v4.3h-3.2zM71.5 54.0h3.2v4.3h-3.2zM106.6 49.5h4.0v3.3h-4.0zM88.8 41.7h3.3v4.2h-3.3zM49.0 70.5h3.5v4.4h-3.5zM46.5 73.1h4.0v3.1h-4.0zM99.0 78.9h4.3v2.9h-4.3zM55.0 92.9h2.8v2.6h-2.8zM107.2 63.4h2.4v3.0h-2.4zM114.6 84.2h3.6v3.1h-3.6zM92.2 46.3h2.5v2.2h-2.5zM72.7 85.0h2.1v2.8h-2.1zM86.8 86.6h3.9v3.4h-3.9zM91.7 53.9h2.3v2.0h-2.3zM95.1 68.1h4.4v4.0h-4.4zM100.4 61.8h2.0v2.1h-2.0zM87.5 62.2h4.1v3.5h-4.1zM50.9 76.2h2.3v2.3h-2.3zM65.1 50.7h2.6v3.1h-2.6zM81.9 54.5h2.9v3.4h-2.9zM63.2 92.0h3.0v3.7h-3.0zM82.5 53.6h3.4v2.5h-3.4zM111.6 45.0h2.9v2.5h-2.9zM119.5 77.1h3.3v2.7h-3.3zM75.3 59.0h4.0v2.5h-4.0zM66.9 76.0h3.9v3.5h-3.9zM69.8 85.9h3.9v2.9h-3.9zM113.2 46.3h3.5v3.6h-3.5zM100.4 53.9h3.9v2.1h-3.9zM57.0 65.3h3.6v2.5h-3.6zM47.1 89.0h2.0v4.3h-2.0zM50.2 65.4h2.8v2.2h-2.8zM144.9 90.9h3.6v3.3h-3.6zM78.3 74.8h3.1v4.2h-3.1zM118.2 40.6h2.9v3.7h-2.9z" fill="#a8b0ae"/>
<path d="M92.2 146.3h2.3v3.6h-2.3zM74.5 162.1h2.9v3.9h-2.9zM79.8 98.8h3.0v3.7h-3.0zM84.4 163.3h2.1v4.0h-2.1zM86.6 98.2h4.3v3.0h-4.3zM115.0 137.5h2.7v3.3h-2.7zM83.9 122.1h4.0v3.7h-4.0zM86.8 118.3h2.2v2.2h-2.2zM86.5 112.1h2.9v3.7h-2.9zM89.1 146.8h2.5v3.8h-2.5zM42.8 95.2h2.5v3.2h-2.5zM66.7 137.7h2.0v3.0h-2.0zM87.1 138.4h2.9v3.7h-2.9zM106.1 124.0h3.8v2.3h-3.8zM121.1 102.5h4.3v2.2h-4.3zM80.3 106.5h3.9v2.7h-3.9zM91.2 94.7h2.9v3.7h-2.9zM69.4 137.8h4.2v3.3h-4.2zM86.0 145.1h2.3v3.4h-2.3zM85.8 166.0h3.7v3.6h-3.7zM108.4 138.5h3.3v2.8h-3.3zM61.4 146.2h4.3v4.3h-4.3zM122.0 96.2h2.2v4.1h-2.2zM78.2 149.6h2.4v3.8h-2.4zM102.6 121.9h2.2v3.5h-2.2zM97.6 121.5h3.0v4.0h-3.0zM119.1 95.8h3.9v2.1h-3.9zM75.8 173.8h4.0v4.1h-4.0zM75.7 164.7h4.4v4.1h-4.4zM77.4 102.8h3.9v3.8h-3.9zM80.5 151.5h2.8v2.4h-2.8zM74.8 161.2h3.2v3.6h-3.2zM86.0 169.3h2.3v3.4h-2.3z" fill="#46584e"/>
<path d="M55.5 95.9h2.4v3.1h-2.4zM66.8 142.9h4.0v2.1h-4.0zM65.3 153.6h2.9v4.1h-2.9zM69.9 149.1h4.1v2.3h-4.1zM78.5 162.6h4.1v3.1h-4.1zM82.9 152.9h3.6v3.4h-3.6zM85.1 173.8h2.2v2.0h-2.2zM81.1 163.4h3.9v3.8h-3.9zM78.6 162.2h2.7v4.4h-2.7zM60.0 136.0h2.1v3.3h-2.1zM78.8 133.4h2.8v4.0h-2.8zM115.4 124.9h2.1v3.2h-2.1zM116.5 96.9h2.1v2.5h-2.1zM86.9 127.7h2.8v2.8h-2.8zM80.3 94.7h3.9v2.8h-3.9zM86.8 179.9h3.9v2.7h-3.9zM79.1 175.5h2.8v3.3h-2.8zM82.1 134.6h2.7v3.1h-2.7zM85.4 175.9h3.4v4.0h-3.4zM81.2 153.4h4.3v2.1h-4.3zM87.2 123.4h3.0v4.2h-3.0zM84.9 95.3h2.8v4.3h-2.8zM81.8 144.2h3.4v2.5h-3.4zM83.2 138.6h4.1v3.5h-4.1zM114.4 131.7h3.1v3.6h-3.1zM67.1 132.1h4.0v3.1h-4.0zM84.3 134.7h2.6v2.9h-2.6zM80.3 160.4h4.0v2.5h-4.0zM66.2 145.5h2.9v2.1h-2.9zM103.2 131.3h3.9v2.8h-3.9zM72.4 150.1h2.1v2.2h-2.1zM97.6 125.9h4.4v4.1h-4.4zM78.7 98.5h3.5v2.4h-3.5zM63.5 98.9h2.1v4.2h-2.1zM78.6 141.2h2.2v3.8h-2.2zM100.0 145.1h2.6v4.4h-2.6zM77.9 125.2h3.7v3.7h-3.7zM59.0 145.4h2.3v3.0h-2.3zM99.4 130.9h3.7v3.0h-3.7zM91.8 120.2h4.2v3.2h-4.2zM118.3 118.0h3.4v3.6h-3.4z" fill="#3e5048"/>
<path d="M48.0 195.5h3.4v2.3h-3.4zM75.5 220.2h3.5v4.1h-3.5zM84.4 198.3h4.0v4.1h-4.0zM70.1 251.5h4.3v3.9h-4.3zM98.1 213.7h2.8v3.3h-2.8zM43.3 218.2h3.3v2.7h-3.3zM96.3 198.7h2.9v2.1h-2.9zM53.7 217.4h2.4v2.8h-2.4zM92.3 212.9h2.9v3.1h-2.9zM63.4 245.2h3.3v2.0h-3.3zM34.1 200.3h3.8v2.9h-3.8zM57.4 227.6h2.6v3.9h-2.6zM66.3 228.4h3.4v4.4h-3.4zM53.9 202.6h4.0v4.1h-4.0zM62.1 208.0h2.0v2.0h-2.0zM68.2 248.4h2.5v2.5h-2.5zM80.6 197.2h3.9v2.2h-3.9zM81.8 237.7h2.6v3.0h-2.6zM92.7 201.4h3.4v2.7h-3.4zM100.9 218.1h2.9v3.1h-2.9zM102.7 215.5h2.4v3.2h-2.4zM70.1 227.0h3.7v4.2h-3.7zM96.2 216.5h3.4v2.7h-3.4zM86.2 203.0h3.7v3.4h-3.7zM81.0 189.8h2.4v2.6h-2.4zM80.0 238.1h4.0v3.9h-4.0zM44.4 217.2h2.4v2.9h-2.4zM87.7 198.7h3.3v4.2h-3.3zM65.8 225.0h2.6v3.3h-2.6zM69.4 230.8h4.1v3.9h-4.1zM95.4 211.2h4.0v2.3h-4.0zM87.0 186.1h3.1v4.0h-3.1zM97.8 247.6h4.1v4.3h-4.1zM80.8 213.9h2.9v2.5h-2.9zM91.1 221.5h3.6v2.9h-3.6zM68.3 232.9h3.3v2.9h-3.3zM97.7 216.7h3.3v2.4h-3.3zM80.0 233.9h4.5v2.6h-4.5z" fill="#8a847c"/>
<path d="M85.1 123.7h4.5v3.5h-4.5zM85.2 159.5h3.2v4.3h-3.2zM61.0 139.8h3.6v3.3h-3.6zM86.0 127.6h3.8v4.0h-3.8zM85.6 132.2h3.1v3.3h-3.1zM119.0 98.2h4.1v3.3h-4.1zM88.5 116.2h3.6v3.9h-3.6zM95.9 135.0h4.4v3.5h-4.4zM79.8 107.8h2.9v4.4h-2.9zM86.9 117.7h3.0v3.3h-3.0zM69.8 127.3h2.0v2.2h-2.0zM100.1 139.4h4.2v4.1h-4.2zM62.2 95.8h3.4v3.5h-3.4zM97.0 139.6h4.1v3.2h-4.1zM114.5 136.0h2.1v3.3h-2.1zM100.6 145.2h3.7v2.5h-3.7zM67.0 137.0h2.0v3.8h-2.0zM80.7 103.5h3.7v3.2h-3.7zM70.4 175.7h3.9v2.3h-3.9zM83.2 181.0h3.7v3.1h-3.7zM66.7 160.8h4.2v3.9h-4.2zM76.1 124.7h3.6v2.6h-3.6zM92.8 140.0h2.7v2.1h-2.7zM97.0 137.2h2.4v2.3h-2.4zM102.1 143.7h3.6v3.2h-3.6zM83.8 172.2h3.5v3.0h-3.5zM83.1 155.8h3.3v2.0h-3.3zM109.8 136.4h3.8v3.5h-3.8zM79.4 144.3h3.4v4.0h-3.4zM76.9 181.2h3.8v3.3h-3.8zM103.8 132.7h3.4v3.2h-3.4zM118.1 97.3h3.0v4.2h-3.0zM86.4 100.3h2.6v3.0h-2.6zM86.8 135.3h2.2v4.0h-2.2zM84.5 155.5h2.8v2.6h-2.8zM87.5 131.2h4.5v3.2h-4.5zM82.6 96.9h3.8v2.6h-3.8zM84.3 125.2h3.9v4.0h-3.9zM74.9 145.3h2.8v3.3h-2.8zM77.1 138.0h3.2v2.9h-3.2zM74.6 139.8h2.5v2.8h-2.5zM76.8 151.9h2.8v3.5h-2.8z" fill="#5c6e64"/>
<path d="M40.6 78.3h2.1v3.8h-2.1zM40.4 67.3h4.3v2.2h-4.3zM37.0 60.6h4.2v2.2h-4.2zM41.3 65.3h2.7v4.1h-2.7zM40.7 53.2h4.5v2.7h-4.5z" fill="#7a7270"/>
<path d="M292.1 132.7h3.8v3.1h-3.8zM233.2 103.8h4.1v2.3h-4.1zM227.3 100.8h2.0v2.5h-2.0zM197.9 91.8h4.5v2.5h-4.5zM219.1 94.7h3.8v3.3h-3.8zM202.8 88.5h4.1v4.4h-4.1zM288.9 128.5h4.2v4.2h-4.2zM301.4 140.6h2.4v3.9h-2.4zM226.8 106.7h2.7v2.9h-2.7zM274.1 120.0h3.4v3.2h-3.4zM233.7 100.1h2.4v2.3h-2.4zM283.2 132.0h2.8v2.8h-2.8zM248.8 95.0h3.7v3.6h-3.7zM176.2 84.7h4.4v4.4h-4.4zM233.4 107.4h4.3v3.8h-4.3zM256.4 102.1h3.8v2.4h-3.8zM289.7 135.0h4.5v3.3h-4.5zM240.6 95.1h2.2v2.4h-2.2zM227.5 107.5h2.3v4.2h-2.3zM241.9 101.0h3.8v2.8h-3.8zM247.0 99.1h2.7v2.2h-2.7zM163.4 89.9h4.4v4.4h-4.4zM294.1 129.0h3.8v4.2h-3.8zM249.8 97.4h4.2v3.5h-4.2zM236.0 93.0h2.8v2.3h-2.8zM165.2 91.4h3.1v4.0h-3.1zM165.4 83.8h4.0v3.0h-4.0zM155.2 85.3h3.0v2.8h-3.0zM240.1 97.3h2.4v3.3h-2.4zM266.4 106.7h2.1v2.3h-2.1zM242.6 93.4h3.2v2.3h-3.2zM237.1 117.6h4.1v3.5h-4.1zM230.2 109.1h3.9v2.8h-3.9zM255.5 113.8h4.1v4.4h-4.1zM296.1 130.2h2.0v2.4h-2.0zM171.1 84.5h4.2v3.6h-4.2zM286.8 131.7h2.3v2.3h-2.3zM287.5 144.9h2.8v2.9h-2.8zM241.9 120.4h2.5v2.5h-2.5zM285.2 120.3h3.9v2.9h-3.9z" fill="#54686a"/>
<path d="M273.3 172.1h3.4v4.3h-3.4zM282.8 157.4h3.2v3.7h-3.2zM266.7 194.3h3.3v3.3h-3.3zM275.8 159.7h4.1v4.4h-4.1zM280.7 157.3h3.2v3.7h-3.2zM292.8 182.7h2.9v3.5h-2.9zM276.8 205.7h3.5v3.6h-3.5zM280.3 151.9h4.3v2.3h-4.3zM264.8 215.2h4.2v3.1h-4.2zM283.8 214.4h4.5v3.8h-4.5zM276.0 193.7h3.1v2.4h-3.1zM269.0 188.1h4.0v4.4h-4.0zM286.7 155.9h3.8v4.5h-3.8zM272.7 211.5h2.8v3.2h-2.8zM281.8 195.1h2.9v4.5h-2.9zM259.0 220.7h2.8v2.1h-2.8zM276.2 197.2h2.5v3.7h-2.5zM281.9 153.5h2.9v2.9h-2.9zM283.4 183.0h2.3v3.0h-2.3zM278.3 163.2h2.3v3.7h-2.3zM270.2 180.8h3.3v3.7h-3.3z" fill="#8a847e"/>
<path d="M92.4 107.0h3.1v4.1h-3.1zM90.4 99.4h2.2v3.0h-2.2zM119.8 107.8h3.9v4.0h-3.9zM93.5 102.8h2.4v2.6h-2.4zM102.0 115.2h4.4v3.8h-4.4zM95.3 119.2h2.4v2.9h-2.4zM91.9 110.4h4.1v3.0h-4.1zM101.5 115.9h4.0v2.5h-4.0zM98.9 114.1h3.5v3.5h-3.5zM104.5 95.5h3.3v3.4h-3.3zM101.7 110.0h2.3v2.9h-2.3z" fill="#645e5c"/>
<path d="M268.9 195.1h2.2v2.8h-2.2zM288.4 161.3h2.9v3.9h-2.9zM262.1 220.3h4.4v2.8h-4.4zM270.5 182.8h3.7v2.0h-3.7zM288.0 181.7h2.7v2.1h-2.7zM270.2 216.6h3.7v3.2h-3.7zM266.2 201.1h2.1v3.8h-2.1zM283.4 156.2h4.2v2.8h-4.2zM281.9 192.9h3.7v3.2h-3.7zM278.7 203.5h2.8v2.9h-2.8zM280.5 220.4h2.3v3.1h-2.3zM285.2 180.2h2.6v2.1h-2.6zM286.9 213.0h2.0v2.4h-2.0zM270.5 157.2h4.2v3.9h-4.2zM298.7 152.5h3.3v2.2h-3.3zM270.5 157.8h2.7v2.1h-2.7zM275.4 169.8h4.0v4.1h-4.0zM271.4 209.1h3.4v2.3h-3.4zM269.1 221.0h4.4v3.1h-4.4zM293.9 163.1h2.8v4.3h-2.8zM287.4 208.9h4.2v2.7h-4.2zM283.4 172.0h2.7v4.2h-2.7zM267.6 175.7h2.8v2.0h-2.8zM273.1 151.7h2.1v3.1h-2.1z" fill="#94908a"/>
<path d="M103.5 101.2h4.5v4.2h-4.5zM114.6 108.8h2.3v2.4h-2.3zM88.4 101.5h2.6v4.1h-2.6zM92.8 99.6h2.7v2.8h-2.7zM107.5 109.2h2.2v2.7h-2.2zM91.1 111.9h4.4v4.1h-4.4zM96.3 118.9h3.5v2.5h-3.5zM110.7 104.6h3.4v2.3h-3.4zM101.9 97.8h2.5v3.3h-2.5zM101.3 111.8h2.1v3.4h-2.1zM108.9 103.3h2.2v2.2h-2.2z" fill="#4a4646"/>
<path d="M66.8 206.2h4.0v4.2h-4.0zM55.5 218.7h3.0v2.7h-3.0zM47.0 220.4h2.6v3.4h-2.6zM88.7 215.0h2.2v3.5h-2.2zM78.1 193.2h4.0v2.6h-4.0zM73.1 207.2h3.8v2.9h-3.8zM68.9 229.8h4.4v4.1h-4.4zM86.4 231.9h2.7v2.2h-2.7zM34.8 205.2h3.6v3.3h-3.6zM53.2 215.8h2.8v3.8h-2.8zM62.8 220.9h3.1v3.5h-3.1zM78.0 254.8h3.7v2.5h-3.7zM34.9 212.7h2.5v2.8h-2.5zM90.3 222.0h4.3v3.4h-4.3zM70.2 225.7h4.1v3.7h-4.1zM51.8 207.5h3.6v4.1h-3.6zM85.4 207.1h2.2v3.2h-2.2zM62.5 250.6h3.4v2.3h-3.4zM59.3 213.7h4.4v2.6h-4.4zM82.0 229.4h3.6v2.8h-3.6zM46.6 201.8h3.2v2.0h-3.2zM43.8 228.8h2.2v4.3h-2.2zM58.8 221.6h2.9v2.7h-2.9zM42.0 212.0h2.6v3.0h-2.6zM63.0 225.7h4.4v3.7h-4.4zM76.2 238.4h2.1v2.6h-2.1zM63.1 211.9h2.1v4.5h-2.1zM87.6 237.9h3.3v2.4h-3.3zM83.2 227.8h3.4v3.3h-3.4zM28.0 206.6h3.6v2.9h-3.6zM57.3 198.9h2.4v2.5h-2.4zM47.0 227.5h2.0v4.0h-2.0zM89.2 192.5h3.2v2.4h-3.2zM97.6 235.2h4.0v2.8h-4.0zM45.7 210.0h2.5v2.3h-2.5zM86.0 233.3h4.0v2.3h-4.0zM66.4 236.0h2.8v4.4h-2.8zM57.4 226.8h4.0v2.4h-4.0zM71.9 202.3h3.7v3.6h-3.7zM86.2 194.5h4.4v4.0h-4.4zM74.6 252.7h3.1v4.0h-3.1zM53.7 241.2h2.7v3.1h-2.7z" fill="#70767a"/>
<path d="M94.9 45.6h3.7v3.3h-3.7zM54.3 71.5h3.7v2.7h-3.7zM91.6 62.1h2.5v2.2h-2.5zM51.9 89.0h2.2v3.8h-2.2zM57.1 80.0h4.2v4.4h-4.2zM48.3 67.6h2.3v2.7h-2.3zM100.2 56.6h4.2v2.1h-4.2zM80.0 83.9h3.9v2.8h-3.9zM114.0 51.3h3.2v3.4h-3.2zM131.2 75.7h3.5v2.4h-3.5zM86.2 71.4h3.4v3.2h-3.4zM83.9 49.0h2.9v3.3h-2.9zM61.4 72.6h2.4v4.0h-2.4zM106.0 88.8h3.7v3.7h-3.7zM96.0 44.3h2.8v3.0h-2.8zM139.1 83.4h2.6v2.1h-2.6zM99.8 56.7h3.6v4.3h-3.6zM85.1 66.0h4.4v3.7h-4.4zM63.3 85.5h2.8v4.3h-2.8zM119.1 45.7h2.2v4.3h-2.2zM51.1 84.7h3.9v3.8h-3.9zM87.0 89.2h3.9v4.3h-3.9zM39.2 52.3h2.6v2.1h-2.6zM103.5 93.1h3.3v3.9h-3.3zM94.2 50.3h2.2v2.0h-2.2zM64.6 71.2h3.0v4.5h-3.0zM61.4 50.1h2.8v3.2h-2.8zM107.8 87.1h3.9v2.2h-3.9zM94.4 75.8h3.3v2.4h-3.3zM142.6 93.3h3.4v4.3h-3.4zM132.1 88.6h3.4v3.4h-3.4zM110.4 37.6h4.4v3.0h-4.4zM141.9 82.4h4.0v3.7h-4.0zM113.9 73.7h2.1v3.9h-2.1zM69.7 70.2h2.2v3.1h-2.2zM121.1 92.9h2.6v4.3h-2.6zM94.9 72.0h2.7v3.1h-2.7zM104.2 70.8h2.4v3.5h-2.4z" fill="#c4c0c4"/>
<path d="M248.9 82.2h2.5v3.4h-2.5zM254.2 89.2h3.3v2.1h-3.3zM299.7 121.8h3.5v4.5h-3.5zM275.8 108.7h2.3v3.0h-2.3zM277.5 110.6h3.6v3.0h-3.6zM242.7 81.3h2.5v4.4h-2.5zM302.3 124.3h4.4v2.6h-4.4zM282.5 114.8h4.0v2.9h-4.0zM267.2 99.3h2.9v4.4h-2.9zM298.6 125.2h2.9v2.9h-2.9z" fill="#4e4846"/>
<path d="M49.4 51.8h3.5v2.9h-3.5zM48.9 62.3h4.5v3.1h-4.5zM86.9 57.3h4.4v3.8h-4.4zM92.9 58.2h3.1v4.3h-3.1zM88.6 71.6h3.7v2.2h-3.7zM69.2 91.9h2.8v3.8h-2.8zM41.0 90.4h2.2v4.3h-2.2zM83.3 56.2h2.3v3.0h-2.3zM65.8 84.2h4.4v2.2h-4.4zM114.7 70.6h3.3v2.4h-3.3zM108.3 74.7h4.3v2.8h-4.3zM100.1 32.1h2.2v4.0h-2.2zM101.7 66.2h2.3v2.8h-2.3zM115.7 82.3h3.8v2.6h-3.8zM100.6 77.6h2.1v3.9h-2.1zM64.5 81.4h2.8v3.0h-2.8zM57.0 85.8h4.3v2.3h-4.3zM126.6 75.5h3.8v3.1h-3.8zM90.3 45.7h2.1v4.1h-2.1zM58.0 85.8h3.2v3.2h-3.2zM93.2 92.8h3.1v3.5h-3.1zM111.5 69.3h3.1v2.8h-3.1zM121.5 56.0h2.8v3.5h-2.8zM79.8 85.7h2.7v2.7h-2.7zM90.2 52.2h4.5v3.0h-4.5zM45.7 86.6h2.8v4.0h-2.8zM60.0 68.0h3.3v4.2h-3.3zM119.3 87.7h4.3v2.5h-4.3zM108.4 53.5h3.3v3.8h-3.3zM53.2 83.4h4.3v2.2h-4.3z" fill="#4a6660"/>
<path d="M245.0 82.0h2.6v3.5h-2.6zM263.3 101.4h4.2v3.1h-4.2zM289.2 118.9h2.1v2.2h-2.1zM251.0 81.1h2.5v2.5h-2.5zM265.3 104.9h3.3v4.1h-3.3zM293.4 121.0h2.5v3.5h-2.5zM298.2 123.1h3.2v2.4h-3.2zM257.9 96.5h3.3v3.3h-3.3zM271.9 108.1h3.4v2.8h-3.4zM260.4 101.4h3.1v3.7h-3.1zM262.2 102.2h2.1v3.5h-2.1z" fill="#766e68"/>
<path d="M119.7 101.3h2.6v3.4h-2.6zM102.1 103.1h2.3v2.0h-2.3zM112.9 103.5h2.0v3.3h-2.0zM90.2 110.0h4.2v3.9h-4.2zM97.6 104.4h3.9v2.8h-3.9zM92.6 97.3h3.1v2.1h-3.1z" fill="#8a8686"/>
<path d="M94.8 115.4h2.6v2.1h-2.6zM108.6 105.5h3.0v2.4h-3.0zM114.6 119.8h3.0v3.8h-3.0zM89.4 104.4h3.5v4.2h-3.5zM119.8 110.5h3.3v3.3h-3.3zM103.3 106.3h2.8v3.0h-2.8zM88.7 98.7h3.2v4.1h-3.2zM89.4 111.4h2.3v2.5h-2.3zM97.9 107.8h3.8v4.0h-3.8zM86.8 96.1h2.5v3.2h-2.5zM92.8 118.7h2.8v2.5h-2.8z" fill="#787474"/>
<path d="M284.5 112.3h4.4v3.3h-4.4zM258.1 93.5h3.6v2.7h-3.6zM285.1 112.3h3.8v3.6h-3.8z" fill="#5a5250"/>
<path d="M116.5 104.1h2.9v4.4h-2.9zM89.9 113.6h3.1v3.3h-3.1zM95.7 104.4h4.3v4.2h-4.3zM90.9 98.6h3.6v3.1h-3.6zM114.2 98.4h2.3v4.1h-2.3z" fill="#3e3c3c"/>
<path d="M105.1 109.4h2.7v3.7h-2.7zM108.0 112.7h4.0v3.7h-4.0zM95.6 94.7h4.4v4.3h-4.4z" fill="#5a5656"/>
<path d="M296.3 126.7h3.1v3.7h-3.1zM261.1 94.0h3.4v2.5h-3.4zM271.7 102.5h3.1v3.6h-3.1zM262.0 90.3h3.3v2.9h-3.3zM253.9 84.1h2.4v3.0h-2.4zM277.4 107.6h4.4v4.1h-4.4z" fill="#625a56"/>
<path d="M44.3 62.4h4.4v3.2h-4.4z" fill="#4c4646"/>
<path d="M41.8 66.3h2.9v2.1h-2.9zM33.2 69.2h3.5v3.7h-3.5zM43.2 78.0h3.8v3.9h-3.8z" fill="#443e3e"/>
<path d="M84,110 L94,110 L95,120 L86,121 Z M70,145 L86,145 L88,155 L72,155 Z M99,189 L107,189 L110,230 L102,230 Z" fill="#34484e"/>
<path d="M92,104 L104,100 L110,108 L100,116 Z" fill="#443c3a" opacity="0.7"/>
<polygon points="178,243 188,242 192,251 191.5,265 186,265 182,252" fill="#9a8f82"/>
<path clip-path="url(#gz)" d="M130.8 91.7 157.2 91.9M158.5 92.2 168.9 92.1M170.6 92.1 192.3 92.3M217.8 92.1 237.8 91.9M267.2 92.2 277.8 91.7M279.9 92.1 302.2 92.0M110.0 96.3 129.8 96.3M130.0 96.5 141.7 96.4M142.6 96.5 166.4 96.1M168.1 96.4 188.1 96.4M188.4 96.1 208.7 96.2M209.9 96.3 224.8 96.4M225.6 96.0 231.7 96.5M232.7 96.1 256.8 96.5M258.2 96.3 269.6 96.2M269.7 96.5 277.0 96.6M278.1 96.5 287.5 96.3M289.0 96.5 306.2 96.5M141.2 100.2 157.2 100.0M157.5 99.8 165.0 100.0M165.4 99.8 184.0 99.9M184.9 100.2 203.7 100.3M203.8 100.2 228.4 100.1M228.7 99.9 255.6 99.9M257.8 100.1 266.5 99.8M286.8 100.0 308.3 100.0M110.0 104.0 127.9 104.1M130.2 104.1 156.5 103.6M157.6 103.8 182.4 104.0M182.7 104.0 190.5 104.1M221.2 104.0 248.6 104.1M250.8 103.6 267.0 104.1M282.8 103.8 308.1 104.0M133.0 108.3 143.0 108.4M143.3 108.3 166.6 108.0M168.9 108.6 185.2 108.5M213.7 108.2 230.2 108.1M230.7 108.6 250.0 108.1M250.0 108.3 269.2 108.4M270.5 108.3 280.7 108.4M282.9 108.1 305.0 108.5M110.0 112.8 120.7 112.6M123.0 113.0 145.6 113.1M147.5 112.8 168.5 112.7M168.9 112.8 187.0 112.7M187.7 112.6 198.4 113.1M221.5 112.9 236.3 113.0M238.4 113.1 247.9 112.6M249.9 113.1 271.4 112.6M273.6 112.8 300.3 112.8M137.2 117.2 158.8 117.2M159.8 117.2 177.9 117.3M179.1 117.4 186.9 117.4M187.4 117.3 202.9 117.2M202.9 117.1 222.6 117.1M224.2 117.4 250.0 117.1M252.1 117.2 262.1 117.1M264.5 117.0 287.3 117.0M288.2 117.2 297.8 117.4M110.0 121.7 123.6 121.9M124.6 122.2 133.2 121.9M135.3 121.9 159.3 122.0M159.8 121.9 168.8 121.8M213.6 122.2 219.6 122.3M236.0 122.2 258.8 122.1M261.1 122.2 273.8 121.7M274.3 122.2 284.8 122.0M285.7 122.0 297.6 121.8M110.0 126.5 131.9 126.8M132.6 126.5 151.3 126.4M153.2 126.9 170.0 126.4M172.5 126.8 188.0 126.8M212.0 126.8 235.4 126.5M235.7 126.8 254.6 126.9M255.8 126.4 279.9 126.9M121.1 131.0 148.9 131.1M151.0 131.1 160.0 130.7M160.5 130.9 183.2 130.9M184.1 131.0 211.8 130.9M213.5 130.8 226.4 131.1M228.2 130.8 256.2 130.7M285.3 130.7 297.0 130.8M297.9 130.8 304.5 130.7M134.7 135.1 143.1 135.0M144.4 134.7 151.7 134.7M152.2 134.7 177.7 135.1M178.6 134.9 196.9 134.8M199.1 134.9 209.9 135.0M210.6 135.1 223.0 134.9M225.4 135.1 241.4 134.6M243.1 134.9 266.0 134.8M267.2 135.1 290.4 135.2M110.0 139.4 122.3 139.4M124.3 138.9 151.9 139.3M153.6 139.5 167.0 139.0M168.6 139.2 189.1 139.0M190.7 139.0 211.3 139.3M213.6 139.1 237.8 139.4M238.2 139.0 265.6 139.3M266.7 139.1 282.0 139.4M282.6 139.5 297.0 139.4M298.8 139.4 312.7 139.1M110.0 143.4 127.3 143.8M128.0 143.4 138.3 143.6M138.6 143.7 164.7 143.4M164.7 143.9 186.2 143.7M188.0 143.9 207.3 143.9M209.6 143.7 231.9 143.7M232.4 143.7 257.7 143.4M260.1 143.8 286.5 143.7M287.8 143.4 294.5 143.8M126.7 147.2 149.5 147.6M169.5 147.2 185.0 147.2M186.7 147.1 195.3 147.3M197.6 147.6 225.0 147.5M227.1 147.6 246.8 147.4M248.5 147.3 259.5 147.6M279.7 147.4 297.1 147.4M298.6 147.3 322.3 147.4M137.6 151.3 149.5 151.7M150.8 151.7 178.2 151.2M180.7 151.5 202.1 151.8M203.8 151.6 229.8 151.5M245.7 151.8 269.4 151.3M269.4 151.7 287.6 151.7M287.8 151.7 293.9 151.8M294.4 151.4 301.4 151.7M110.0 156.1 129.0 156.1M130.6 156.2 146.8 155.7M148.0 155.8 174.4 155.8M175.9 156.0 182.2 156.0M184.1 156.1 192.8 156.0M193.4 156.0 218.3 156.0M219.0 156.1 241.0 155.8M255.5 156.1 282.6 155.9M283.7 156.1 300.4 156.1M110.0 160.2 127.5 159.7M129.5 160.0 144.4 159.9M146.6 159.7 173.3 160.1M188.3 159.9 211.5 159.6M212.7 160.2 239.8 160.2M241.6 160.2 254.0 160.1M255.0 159.8 278.3 160.0M279.9 160.0 286.3 160.2M286.5 159.9 298.5 160.0M299.8 160.2 307.2 160.1M117.7 164.9 128.1 164.7M129.4 164.3 136.8 164.3M138.9 164.8 148.2 164.8M149.4 164.6 156.3 164.6M158.1 164.6 174.5 164.6M176.0 164.6 202.8 164.4M203.6 164.5 223.2 164.4M223.7 164.3 248.6 164.3M249.9 164.6 256.7 164.4M267.4 164.4 273.8 164.8M276.0 164.3 289.2 164.8M290.7 164.8 303.5 164.7M110.0 168.6 127.5 168.7M129.0 168.4 145.7 168.4M168.4 168.3 176.3 168.4M176.4 168.6 195.7 168.7M198.0 168.8 210.2 168.7M211.0 168.4 228.8 168.4M229.6 168.3 238.2 168.6M240.5 168.8 256.3 168.3M258.0 168.3 286.0 168.5M286.0 168.8 300.4 168.6M110.0 172.3 116.1 172.5M118.3 172.1 139.4 172.0M191.9 172.5 217.4 172.4M217.8 172.1 234.8 172.5M236.8 172.2 259.0 172.0M260.7 172.5 277.1 172.3M277.6 172.0 297.0 172.5M297.7 172.2 307.2 172.3M110.0 176.6 117.1 176.9M117.7 176.8 141.4 176.8M160.4 176.3 168.1 176.4M170.3 176.4 193.7 176.8M194.6 176.7 217.5 176.8M217.9 176.7 232.1 176.8M233.3 176.4 243.6 176.5M244.7 176.8 270.5 176.6M271.5 176.8 291.8 176.4M292.2 176.3 303.7 176.7M110.0 181.3 137.8 181.5M139.6 181.2 147.7 181.4M148.7 181.6 158.6 181.5M158.8 181.3 177.9 181.5M180.3 181.4 206.5 181.6M207.2 181.1 215.1 181.3M216.3 181.3 241.2 181.1M132.3 184.9 160.0 184.9M161.2 184.8 184.8 185.0M186.3 185.1 205.4 185.0M205.6 185.0 215.8 184.9M216.8 185.3 244.0 185.1M271.1 184.8 292.3 185.4M293.7 185.2 311.5 185.3M110.0 189.9 132.1 190.0M132.7 189.8 152.2 189.5M152.5 189.6 171.4 189.9M171.6 189.7 190.7 189.9M192.1 189.5 202.5 190.0M202.8 189.9 226.7 190.0M228.5 189.8 244.6 189.8M260.4 189.8 278.8 190.0M280.6 189.8 308.2 189.9M110.0 193.9 132.4 193.8M133.1 193.9 146.0 193.5M147.8 193.5 157.7 193.6M160.0 193.6 167.1 193.6M188.4 193.6 200.2 193.5M227.7 193.6 242.4 193.4M277.1 193.7 283.6 193.8M285.9 193.8 296.0 193.5M297.8 193.9 311.5 193.7M110.0 197.6 137.4 197.8M139.3 197.5 148.2 197.3M150.3 197.3 177.0 197.6M178.8 197.5 206.1 197.7M207.5 197.4 219.5 197.3M221.0 197.3 232.6 197.6M233.4 197.6 240.0 197.7M240.9 197.5 268.1 197.3M268.4 197.6 290.2 197.7M291.4 197.8 313.9 197.4M110.0 202.2 135.6 202.0M184.8 202.1 197.6 201.8M198.4 202.0 224.6 201.9M224.8 202.3 237.2 202.1M239.1 202.3 249.4 202.3M250.8 202.1 269.0 201.8M270.2 202.2 288.5 202.4M290.1 202.1 310.5 202.3M110.0 206.7 127.5 206.7M137.0 206.7 149.2 206.4M150.9 206.4 162.4 206.5M164.8 206.5 192.5 207.0M193.4 206.8 217.4 206.6M218.2 206.9 241.6 206.7M242.7 206.4 261.6 206.8M264.1 206.5 279.9 206.7M280.4 206.5 295.9 206.6M298.3 206.6 324.3 206.5M110.0 210.7 122.9 210.5M124.3 210.9 144.5 210.4M144.6 210.5 162.9 210.6M163.5 210.6 186.7 210.8M188.4 210.6 205.8 210.6M206.9 210.9 217.4 210.6M240.3 210.9 260.7 210.6M262.1 211.0 283.5 210.4M284.4 210.9 297.5 210.9M299.9 210.9 313.9 210.8M110.0 215.1 135.2 215.3M136.9 215.1 144.0 214.9M145.7 214.9 173.3 215.0M174.4 215.4 191.3 215.2M218.9 215.4 230.9 215.4M231.9 215.0 255.4 215.0M256.7 215.1 270.0 215.4M271.4 215.3 294.5 215.3M295.4 215.0 318.3 214.8M110.0 219.5 136.5 219.2M138.4 219.6 144.5 219.4M144.8 219.1 159.4 219.2M160.7 219.5 170.0 219.2M171.2 219.5 188.8 219.6M190.4 219.1 211.7 219.4M212.4 219.2 222.0 219.3M248.5 219.4 257.9 219.2M260.3 219.5 278.2 219.2M110.0 224.2 122.2 223.8M123.0 224.3 133.9 224.2M135.8 224.2 146.7 224.4M173.1 224.4 195.2 224.3M195.7 224.2 211.3 224.2M212.5 224.0 218.8 223.9M220.3 224.3 244.8 224.0M245.7 224.2 253.7 224.2M255.5 224.1 271.7 223.8M274.1 224.1 284.8 223.8M286.2 224.2 301.1 224.0M110.0 228.3 129.7 228.0M131.5 228.2 150.2 228.2M152.3 228.5 160.5 228.1M161.7 228.1 169.3 228.1M169.4 228.4 184.1 228.2M185.5 227.9 210.8 228.2M213.0 228.2 230.9 228.1M233.2 228.3 245.9 228.0M246.2 228.0 258.5 228.2M259.4 228.4 280.6 228.1M282.4 228.4 305.7 228.1M110.0 232.4 130.9 232.4M132.9 232.0 142.1 232.1M142.5 232.4 169.1 232.4M169.3 232.4 175.3 232.0M176.9 232.2 187.8 232.5M190.2 232.3 216.1 232.4M218.6 232.1 244.3 232.2M245.5 231.9 261.3 232.0M262.2 232.2 288.2 232.1M110.0 236.8 118.3 236.7M138.2 237.0 157.6 237.1M159.1 236.8 182.6 236.7M183.2 236.9 210.5 236.7M211.0 236.7 223.7 236.8M223.9 236.8 244.9 236.7M247.2 236.7 263.4 237.2M265.1 236.7 273.7 236.6M274.8 236.7 299.6 237.0M110.0 241.1 133.2 241.0M134.4 241.1 159.8 240.9M170.4 240.7 190.7 240.6M191.8 241.1 212.1 240.9M212.1 241.0 236.5 240.9M236.8 240.8 257.8 240.8M258.8 241.0 268.1 240.8M268.5 241.0 290.7 240.9M291.6 240.9 298.5 240.8M299.9 240.5 311.1 240.6M109.8 90.0 109.9 106.0M109.8 106.1 109.7 133.8M110.0 177.8 110.2 191.3M109.9 191.5 110.3 210.5M109.8 212.7 110.1 219.5M109.8 220.2 110.2 228.1M110.3 229.3 110.0 243.3M114.5 90.0 114.4 106.1M114.5 107.3 114.8 126.9M114.5 129.1 114.8 148.4M114.6 148.6 114.9 163.4M114.6 165.9 114.9 180.0M114.4 182.1 114.7 191.5M114.7 191.9 114.7 210.2M114.7 212.6 114.6 221.1M114.7 221.3 114.7 230.9M114.5 231.2 115.0 252.3M118.9 90.0 118.9 106.1M118.7 108.6 118.7 132.1M119.1 156.6 119.1 183.6M119.0 186.0 118.8 194.1M119.2 196.0 118.8 203.5M119.1 205.6 118.9 216.4M118.7 218.6 119.1 242.9M122.9 90.0 123.0 98.1M122.5 100.0 122.9 106.9M122.6 108.0 122.6 125.5M122.7 127.1 122.7 141.8M122.7 142.8 122.6 167.6M122.9 168.1 123.0 181.6M122.7 182.8 122.9 199.8M123.0 200.3 122.5 223.3M122.9 224.5 122.6 243.1M127.0 90.0 127.1 100.9M127.3 103.3 127.2 126.8M127.0 128.4 127.3 138.5M127.2 140.1 127.4 147.4M127.4 147.9 127.3 156.1M127.4 157.6 127.2 165.9M127.4 167.1 127.0 194.0M127.2 195.7 127.5 213.3M127.4 215.2 127.5 230.5M127.0 231.7 127.1 245.1M131.6 90.0 131.5 117.8M131.5 119.1 131.3 141.2M131.5 141.3 131.7 149.8M131.3 151.0 131.8 162.3M131.2 189.1 131.7 199.9M131.7 200.7 131.8 221.7M131.5 223.5 131.6 236.4M131.8 237.7 131.3 264.6M135.5 90.0 135.5 104.3M135.6 105.9 135.4 130.0M135.5 142.3 135.9 166.1M135.9 168.4 135.4 190.3M135.4 199.5 135.5 224.9M135.4 225.0 135.4 241.4M139.9 108.6 139.5 132.7M139.7 133.8 139.9 142.1M139.6 142.5 139.6 153.1M139.6 155.1 139.9 171.3M139.8 195.1 139.9 221.3M139.5 222.5 140.0 239.2M139.7 241.1 139.7 264.3M144.0 90.0 144.0 98.5M143.8 99.7 143.8 106.4M144.0 106.4 143.6 116.8M143.9 117.9 144.0 133.6M144.0 135.1 143.6 161.1M144.0 162.3 143.9 185.5M143.8 187.9 144.1 196.1M143.7 196.2 143.6 209.3M143.9 211.5 143.9 223.0M148.3 90.0 148.3 109.9M148.4 110.1 148.2 118.0M148.4 141.1 148.2 150.3M148.5 150.7 148.3 162.5M148.5 162.5 148.4 170.3M148.6 171.2 148.6 193.6M148.5 195.3 148.5 212.2M148.5 212.4 148.2 239.7M148.5 242.0 148.4 263.9M152.4 90.0 152.7 103.1M152.1 103.9 152.5 109.9M152.1 110.0 152.5 122.5M152.5 122.7 152.2 134.3M152.1 136.2 152.7 160.3M152.2 161.5 152.6 183.4M152.5 185.3 152.4 210.1M152.2 211.1 152.3 229.0M152.7 230.6 152.5 256.2M157.0 129.3 156.9 138.5M156.5 138.7 156.5 159.2M156.6 160.8 156.7 183.2M156.9 184.5 156.8 206.9M156.5 206.9 156.5 228.2M156.7 230.3 156.8 249.7M161.4 90.0 161.4 110.1M161.6 110.2 161.6 136.4M161.5 159.0 161.5 170.5M161.6 170.6 161.4 183.3M161.4 183.9 161.3 201.1M161.4 201.6 161.7 224.1M161.8 224.5 161.3 245.8M166.2 90.0 166.0 102.2M165.9 102.8 165.8 122.1M165.8 124.1 166.3 138.4M165.8 140.9 166.0 155.3M165.8 155.7 166.0 178.5M166.3 180.5 166.3 197.4M166.0 198.5 166.3 225.9M170.5 90.0 170.2 97.7M170.5 99.9 170.6 123.5M170.7 123.6 170.6 135.6M170.7 136.3 170.6 164.1M170.7 165.6 170.2 192.5M170.7 192.6 170.2 218.9M170.3 220.9 170.4 237.4M174.5 90.0 174.9 113.4M174.9 114.6 174.8 129.8M174.5 131.0 174.5 138.5M174.6 138.9 174.7 149.0M174.7 150.9 174.9 176.4M174.9 177.2 174.4 189.8M174.8 191.2 174.6 219.1M174.8 220.1 174.5 244.7M178.5 90.0 178.4 99.7M178.6 100.4 178.3 114.9M178.4 129.7 178.8 151.9M178.3 154.0 178.4 179.0M178.8 194.8 178.5 216.7M178.2 217.2 178.5 240.7M183.3 90.0 183.3 114.0M183.0 114.5 183.0 122.2M183.3 123.7 183.4 139.3M183.3 139.8 183.2 159.7M183.0 160.3 183.1 167.3M183.2 168.6 183.2 182.9M183.1 182.9 183.1 191.9M183.3 193.5 183.2 200.6M183.2 201.2 183.3 216.4M183.3 218.4 183.4 239.9M182.9 240.7 183.2 246.9M187.1 90.0 187.3 100.0M187.5 101.7 187.3 119.0M187.2 119.1 187.1 141.0M187.3 141.4 187.3 163.2M187.6 164.7 187.2 189.6M187.6 189.9 187.2 209.4M187.1 210.5 187.2 236.3M187.5 236.4 187.6 249.6M191.7 90.0 191.5 114.7M191.7 116.9 191.7 144.8M191.7 147.2 191.5 174.1M191.7 175.8 191.9 183.5M191.8 185.0 191.5 193.6M191.9 194.8 191.7 216.6M191.6 218.0 191.4 236.9M191.5 238.8 191.8 246.5M195.3 90.0 195.1 113.2M195.3 114.4 195.3 132.4M195.5 134.9 195.6 157.1M195.4 157.5 195.3 163.6M195.2 164.5 195.1 182.8M195.6 183.3 195.5 210.0M195.1 211.3 195.3 221.3M195.4 221.8 195.7 232.1M195.5 232.7 195.5 244.0M199.2 90.0 199.4 105.2M199.3 124.5 199.1 135.1M199.6 136.6 199.5 148.5M199.4 149.3 199.5 172.7M199.1 174.7 199.1 185.9M199.2 186.6 199.2 198.4M199.1 198.4 199.1 207.9M199.2 209.5 199.3 220.2M199.1 220.4 199.2 230.0M199.4 230.7 199.1 245.3M203.7 90.0 204.2 112.1M204.1 114.5 203.9 130.2M203.7 131.5 204.0 147.1M204.2 166.8 203.9 180.7M203.9 181.4 203.9 191.8M204.2 193.1 204.1 208.9M204.2 216.7 204.1 242.2M208.6 90.0 208.4 113.2M208.5 115.3 208.3 127.9M208.4 129.4 208.4 156.2M208.7 156.2 208.2 171.6M208.7 172.0 208.2 193.8M208.3 195.5 208.7 209.5M208.6 211.4 208.2 232.4M212.2 90.0 212.0 107.6M212.2 154.1 212.1 172.9M212.3 173.5 212.2 201.3M212.4 202.4 212.0 230.3M212.2 231.2 212.1 239.7M216.7 104.9 217.1 124.0M216.7 126.0 216.9 152.3M217.0 154.4 217.1 179.6M216.8 181.0 216.9 199.1M216.7 200.4 216.8 224.2M216.8 235.8 217.2 246.6M220.9 90.0 220.7 110.3M220.9 111.9 220.6 118.6M221.1 121.0 221.1 147.9M221.0 149.0 220.8 162.6M220.9 162.7 220.6 180.2M220.7 180.4 220.9 208.1M220.6 208.4 220.7 230.8M220.9 231.4 220.9 258.8M225.5 90.0 225.3 116.7M225.3 118.5 225.2 144.3M225.7 146.2 225.4 164.1M225.8 165.7 225.5 189.8M225.3 192.2 225.2 210.1M225.2 212.6 225.7 233.6M225.3 234.7 225.2 241.1M225.4 241.4 225.6 251.6M229.7 90.0 229.7 111.8M229.7 114.3 229.5 121.9M229.4 123.5 229.9 135.2M229.8 137.2 229.5 162.9M229.9 164.5 229.5 190.2M229.5 191.8 229.9 209.4M230.0 210.8 229.8 224.9M229.8 226.6 229.5 247.4M234.2 90.0 234.2 117.5M234.3 139.6 234.4 148.0M234.0 166.7 234.4 173.6M234.2 174.2 234.0 200.3M234.6 202.2 234.5 222.2M234.3 223.1 234.0 246.9M238.4 90.0 238.4 116.2M238.5 118.1 238.3 140.0M238.4 166.2 238.3 187.1M238.6 187.6 238.5 213.1M238.6 215.5 238.3 242.7M238.4 242.8 238.5 259.7M243.1 90.0 242.7 107.7M242.9 109.5 243.0 125.1M243.1 126.5 243.1 134.6M242.7 156.4 243.1 172.8M243.0 173.7 242.9 198.2M243.1 199.6 242.6 212.3M242.8 214.4 242.7 228.7M242.9 230.0 242.6 247.0M247.0 90.0 246.7 97.7M247.1 118.6 246.9 138.6M246.9 139.6 247.0 165.8M246.8 185.5 246.9 194.2M246.9 194.3 247.0 208.1M247.0 209.9 246.8 230.0M247.1 231.4 246.8 259.2M250.9 90.0 251.3 101.8M251.2 103.2 251.2 121.8M251.0 139.2 251.2 165.2M251.0 166.0 251.3 187.5M251.2 189.6 250.9 198.6M251.0 200.4 251.2 208.4M251.0 209.9 251.0 221.8M251.3 224.3 251.3 250.5M256.1 90.0 255.7 113.4M255.6 114.0 255.7 121.0M255.8 121.5 255.6 136.4M255.7 138.3 256.1 163.8M256.0 165.0 255.8 186.1M256.1 187.7 255.7 205.4M256.0 206.8 256.0 234.7M255.7 234.7 255.8 257.7M260.3 90.0 260.4 98.2M260.3 98.9 260.7 126.8M260.4 128.6 260.4 139.3M260.6 140.2 260.7 167.5M260.6 167.5 260.7 182.8M260.5 183.5 260.1 192.4M260.3 194.9 260.2 217.8M260.5 218.3 260.3 226.1M260.5 226.8 260.7 242.0M264.4 90.0 264.0 105.9M264.3 108.1 264.0 119.6M264.4 121.5 264.3 149.1M264.5 149.1 264.1 173.6M264.3 175.0 263.9 196.7M264.0 197.7 264.4 218.0M264.3 219.8 264.2 240.6M264.2 240.9 263.9 263.4M268.9 90.0 268.7 101.8M269.2 103.4 268.7 121.0M268.8 122.6 269.0 130.0M268.9 132.1 269.1 144.0M268.9 144.7 269.1 165.6M269.3 166.0 269.1 186.3M269.0 188.0 269.1 196.0M268.9 197.7 268.9 203.9M269.1 218.0 268.9 238.3M269.0 239.1 269.2 260.0M273.1 90.0 272.8 105.7M273.1 107.2 272.8 122.0M273.1 122.2 272.8 146.0M272.9 147.8 272.9 168.9M272.6 171.3 273.1 188.8M272.7 191.3 272.9 214.8M273.1 216.2 272.7 241.9M277.3 90.0 277.2 113.6M277.7 113.6 277.6 120.4M277.3 122.0 277.5 130.1M277.4 132.6 277.6 147.2M277.3 148.7 277.4 157.5M277.2 158.1 277.4 183.4M277.4 185.0 277.5 200.9M277.3 202.3 277.7 212.9M277.4 221.8 277.7 230.2M277.3 232.4 277.5 240.1M277.5 240.5 277.5 258.3M281.7 90.0 281.9 98.1M282.3 99.1 282.0 120.9M281.9 122.0 281.9 128.5M281.9 130.6 282.0 147.9M282.2 148.6 281.9 169.5M282.2 169.6 281.9 179.0M281.8 209.1 281.9 220.0M281.9 220.0 282.2 232.6M282.2 234.4 282.0 253.3M285.7 90.0 285.9 104.8M285.5 106.3 285.7 115.8M285.9 116.9 286.1 139.5M285.9 141.0 285.6 149.7M285.6 150.5 285.6 162.3M285.7 163.0 286.0 181.4M285.8 206.3 286.0 214.9M285.8 216.7 285.8 228.7M285.8 229.4 286.0 255.6M290.6 90.0 290.6 104.7M290.6 105.8 290.6 124.9M290.4 126.2 290.4 133.4M290.4 135.3 290.3 156.2M290.5 165.9 290.9 193.4M290.6 195.5 290.3 211.4M290.6 212.4 290.4 234.3M290.8 236.5 290.5 244.3M295.4 90.0 295.5 105.6M295.2 106.5 295.0 117.2M295.6 119.1 295.2 141.7M295.5 155.6 295.6 179.8M295.2 181.9 295.2 198.2M295.3 199.3 295.2 223.7M295.6 224.6 295.3 249.3M299.1 90.0 299.4 103.0M299.1 104.3 299.1 114.4M299.3 115.7 299.0 138.7M299.3 141.1 299.2 161.2M299.1 162.7 299.1 175.4M299.0 177.5 299.0 187.9M299.3 188.6 298.9 197.9M298.9 198.8 298.9 223.5M299.1 225.6 299.4 237.3M299.4 238.3 299.3 263.8" fill="none" stroke="#d0d4dc" stroke-width="0.85"/>
<clipPath id="ez"><polygon points="262.0,140.0 310.0,140.0 310.0,235.0 240.0,235.0 255.0,228.0 266.0,200.0 272.0,150.0"/></clipPath>
<path clip-path="url(#ez)" d="M277.5 139.5 295.2 139.3M295.2 140.8 301.6 140.9M301.6 141.0 316.1 140.9M293.3 146.1 309.7 145.9M309.7 147.1 324.6 146.5M285.3 152.7 301.2 151.8M301.2 152.1 315.6 151.8M250.0 160.2 258.1 159.8M271.0 161.5 279.0 160.3M279.0 160.9 289.4 160.3M304.6 160.5 310.0 160.4M250.0 169.0 262.6 168.3M262.6 168.9 270.5 167.8M270.5 168.7 284.2 168.8M284.2 168.5 298.7 169.1M298.7 169.0 311.1 169.5M250.0 176.3 267.0 176.6M267.0 176.0 284.5 175.4M304.9 177.1 316.2 175.6M250.0 185.2 262.7 183.5M262.7 183.3 273.3 183.6M250.0 191.8 267.5 191.9M267.5 192.7 275.7 192.6M275.7 192.9 287.2 192.8M287.2 193.0 295.2 193.4M295.2 192.9 312.8 193.4M250.0 200.0 267.9 199.7M267.9 201.0 283.4 199.6M283.4 201.4 291.4 201.1M298.1 200.3 306.6 200.8M265.8 207.7 276.3 206.6M276.3 207.1 284.2 206.7M292.2 207.8 305.9 207.5M305.9 208.2 318.7 207.0M259.2 214.5 273.1 215.7M273.1 216.1 280.2 214.9M280.2 215.6 289.8 215.3M289.8 215.8 301.9 215.9M301.9 215.0 315.7 215.8M250.0 220.8 255.6 222.3M270.6 220.5 276.6 222.1M276.6 220.6 281.8 221.7M289.9 220.8 304.1 222.4M304.1 221.4 318.0 222.4M250.0 228.7 265.5 227.9M265.5 228.6 278.6 228.4M278.6 228.1 293.0 227.9M293.0 228.9 301.2 228.2M301.2 227.9 307.2 228.9M251.1 154.6 251.9 163.7M251.8 163.7 252.8 178.8M252.3 178.8 251.3 189.7M252.8 222.4 251.5 232.4M251.4 232.4 251.9 239.8M259.0 171.7 259.4 186.9M258.1 186.9 258.4 200.2M259.4 200.2 258.8 205.7M258.8 205.7 258.5 217.2M258.8 217.2 258.6 230.9M259.6 230.9 257.9 238.0M266.7 140.0 265.9 146.1M265.1 160.8 266.8 167.0M266.8 167.0 266.2 180.7M266.0 180.7 265.2 191.5M264.9 191.5 265.1 204.7M266.6 204.7 265.5 215.5M266.6 215.5 266.1 231.6M264.9 231.6 266.2 236.8M272.1 153.6 271.8 169.6M271.2 169.6 272.3 187.2M271.1 187.2 271.6 202.3M272.4 210.6 271.5 218.4M272.4 218.4 271.6 236.3M279.2 140.0 277.7 147.8M278.9 147.8 278.8 164.1M278.2 164.1 277.9 178.1M278.2 178.1 278.3 191.9M278.0 212.7 277.5 220.4M278.8 220.4 277.3 237.7M284.8 140.0 283.8 151.9M284.7 165.5 283.7 171.6M283.6 171.6 284.8 182.8M284.4 182.8 284.7 194.7M284.0 194.7 284.0 204.9M284.1 213.1 284.1 228.1M291.3 154.8 291.0 170.2M290.1 170.2 289.8 182.7M291.5 199.9 290.3 211.5M291.3 211.5 291.0 223.1M298.2 140.0 297.6 150.2M298.7 150.2 298.8 161.2M297.9 161.2 299.1 168.3M297.9 186.2 297.7 196.0M298.1 196.0 298.2 207.0M299.1 207.0 298.8 212.2M298.1 212.2 299.1 220.3M306.8 147.8 305.6 155.0M305.6 155.0 305.2 172.0M306.3 172.0 305.5 180.5M306.4 180.5 305.7 196.4M305.0 196.4 305.6 202.1M305.1 202.1 306.1 208.1M306.2 208.1 306.1 214.4M305.7 214.4 305.8 226.3M306.7 226.3 306.9 242.0" fill="none" stroke="#e0e4e6" stroke-width="0.85"/>
<path d="M103.0 59.2 102.6 56.7 102.6 54.2 103.2 51.8M273.5 120.6 272.9 118.2 272.9 115.7 272.7 113.2 273.1 110.7 273.3 108.2 273.5 105.8 273.9 103.3M277.6 188.3 277.8 185.8 277.8 183.3 277.8 180.8 278.1 178.4 278.2 175.9 278.3 173.4 277.8 170.9 277.0 168.6 276.1 166.2M136.0 94.3 138.1 93.0 139.9 91.2 141.5 89.3 142.8 87.2 144.4 85.3M292.2 149.9 294.5 149.0 296.9 148.4 299.3 147.5 301.7 146.8M84.3 87.9 83.9 90.3 83.4 92.8 83.1 95.3 82.5 97.7 82.1 100.2 82.2 102.7 82.4 105.2M120.6 89.7 119.7 92.1 118.7 94.3 117.8 96.7 117.3 99.1 117.0 101.6M290.2 131.6 290.5 134.1 290.7 136.6 290.5 139.1M249.1 123.1 248.3 120.7 247.8 118.2 247.1 115.9 246.9 113.4 246.8 110.9 247.4 108.4 247.9 106.0M74.2 85.6 71.7 85.6 69.2 86.0 66.7 86.2 64.3 86.7M85.9 143.6 86.5 146.1 87.0 148.5 88.1 150.8 88.6 153.2M77.4 163.1 79.8 163.7 82.3 163.8 84.8 163.9 87.3 164.3 89.7 164.8 92.1 165.4 94.6 165.6 97.0 166.3M96.8 99.5 99.2 100.4 101.5 101.3 103.8 102.3 106.0 103.5 108.1 104.9M96.0 89.1 95.8 86.6 95.8 84.1 95.7 81.6 95.7 79.1 96.0 76.7 96.0 74.2 96.0 71.7 96.4 69.2M53.2 76.0 53.2 78.5 53.5 81.0 54.3 83.4 54.8 85.8 55.5 88.2 55.6 90.7 55.4 93.2 55.0 95.7M90.2 74.1 90.9 71.7 91.8 69.3 93.2 67.2 94.4 65.1 96.1 63.2 98.1 61.7 100.3 60.6M262.1 93.4 264.6 93.9M92.3 119.3 94.7 119.8 97.1 120.7 99.2 122.0 101.2 123.5 103.5 124.5 105.6 125.7 108.0 126.7M119.2 67.9 118.8 70.3 118.6 72.8 118.0 75.3 117.3 77.7 117.3 80.2 117.2 82.7M111.8 59.8 114.1 58.7 116.4 57.7 118.5 56.3 120.6 55.1M260.0 106.1 262.4 106.3 264.9 106.6 267.4 106.6 269.9 106.5M89.3 82.3 91.8 82.1 94.3 82.3 96.8 82.6 99.2 82.3 101.6 81.6 104.1 81.2 106.4 80.2M90.2 190.1 87.7 189.9 85.2 190.0 82.8 189.6 80.3 189.3 77.9 188.6 75.4 188.3M85.3 218.6 82.8 218.2 80.3 217.9 78.0 217.1 75.7 216.1 73.4 215.1 70.9 214.6 68.4 214.6M84.4 160.1 86.6 159.0 89.0 158.1 91.3 157.2 93.7 156.7 96.0 155.7 98.5 155.1 100.9 154.7M84.3 247.6 86.6 246.6 88.8 245.5 90.8 244.0 92.4 242.0 93.7 239.9 95.2 238.0 97.1 236.3M78.3 134.5 77.9 137.0 77.0 139.3 76.4 141.8 76.5 144.3M117.3 82.3 119.7 81.9 122.2 81.4 124.5 80.4M82.3 194.5 81.9 192.0 81.2 189.6 81.1 187.1 81.1 184.6 80.5 182.2 79.4 180.0 78.4 177.7M39.9 198.6 42.2 197.8M94.5 217.2 96.9 217.8 99.4 218.0 101.9 218.2 104.4 218.2 106.9 218.8 109.2 219.7 111.2 221.1 113.2 222.7 114.8 224.6M108.8 55.6 111.3 56.3 113.6 57.3 115.9 58.0 118.2 59.0M80.3 90.8 82.8 91.2 85.2 91.9 87.4 93.1 89.8 93.8M277.4 143.9 275.1 143.1 272.7 142.3 270.4 141.2 268.1 140.3 266.0 138.9 263.9 137.6M113.9 95.2 116.4 95.2 118.9 94.8 121.3 94.3 123.8 94.3 126.3 93.8 128.7 93.1 131.1 92.4M54.9 76.9 54.6 79.4 53.8 81.8 53.2 84.2 52.9 86.7M85.3 63.7 85.2 61.2 84.5 58.8 84.1 56.4 83.4 54.0 82.1 51.8 80.4 50.0M47.7 81.3 47.4 83.8 46.9 86.3 45.9 88.5 44.9 90.8 44.3 93.3 44.0 95.8M55.3 221.6 57.7 220.8 60.2 220.5 62.7 220.8 65.1 221.3M69.7 213.7 69.4 211.3 69.1 208.8 68.8 206.3 69.1 203.8 69.7 201.4 70.7 199.1 71.2 196.6M61.3 74.5 58.8 74.4 56.3 74.2 53.8 73.9 51.3 74.0 48.8 74.1 46.3 74.1 43.9 74.6 41.4 74.9 38.9 75.1M89.2 186.1 91.6 185.3 94.1 185.1 96.6 185.0 99.1 185.2 101.6 185.1 104.0 184.6 106.5 184.3 108.9 183.7M74.9 84.5 72.4 85.0 70.1 86.0 67.7 86.6 65.4 87.7 63.0 88.4 60.7 89.4 58.3 89.8 55.8 90.1 53.3 90.3M70.6 232.1 73.1 231.5 75.6 231.3 78.0 231.6 80.5 231.5 83.0 231.3 85.5 231.3 88.0 230.8M106.5 71.9 105.4 69.6 103.9 67.6 102.7 65.4 102.0 63.0M301.8 139.4 299.3 139.7 296.9 140.2 294.5 141.1 292.2 142.0 290.0 143.2 287.6 144.0 285.2 144.6 282.8 145.2M75.5 199.3 73.3 198.2 70.8 197.5 68.4 197.1 66.1 196.1 63.7 195.3 61.3 194.8M94.2 229.3 93.9 226.8 93.3 224.4 92.7 222.0 91.6 219.7M53.9 222.9 51.6 224.0 49.5 225.3 47.3 226.5M293.8 182.7 291.3 183.3 289.1 184.4 286.7 185.2M79.2 215.2 81.6 216.1 83.7 217.3 86.1 218.2 88.4 219.0 90.7 220.1 93.0 221.0 95.5 221.4 98.0 221.8 100.5 221.8M89.1 76.5 88.4 74.1 87.5 71.8 87.0 69.3 86.5 66.9M212.2 92.0 212.3 94.5 212.2 97.0 211.8 99.5M108.6 75.8 107.8 78.1 107.1 80.6 106.7 83.0 106.1 85.4 105.1 87.7 103.9 89.9 103.1 92.3 102.0 94.5M47.4 96.2 46.3 93.9 45.3 91.6 44.0 89.5 42.5 87.6 40.9 85.6 39.2 83.8M240.5 84.0 240.5 81.5 240.0 79.0 238.9 76.8 237.5 74.7M91.9 32.1 92.1 29.6 92.5 27.1M82.1 224.4 80.7 226.5 79.1 228.4 77.6 230.5 75.8 232.2 74.4 234.3 73.4 236.5 72.2 238.7 70.7 240.7 69.4 242.9M75.2 64.4 75.8 61.9 76.6 59.6 76.8 57.1 76.9 54.6 76.7 52.1M64.7 151.3 62.5 150.1M242.9 94.6 242.0 92.3 241.2 89.9 240.0 87.8 238.2 86.0 236.9 83.8 236.0 81.5M40.5 200.0 38.1 199.6 35.6 199.2 33.1 199.0 30.6 198.6M222.6 103.1 225.1 103.0 227.6 103.1 230.0 103.2M98.6 211.9 98.2 209.4 97.8 206.9 97.6 204.4 97.8 202.0 97.4 199.5 96.5 197.1 95.6 194.8 95.0 192.4 94.8 189.9M224.6 105.6 223.6 103.3 222.6 101.0 221.8 98.6 220.9 96.3 219.8 94.1 218.4 92.0 217.3 89.7 216.6 87.4M66.3 76.3 63.8 76.1 61.3 75.8 58.8 75.8 56.3 75.4 53.9 74.7M82.2 235.7 84.5 234.8 86.9 234.0 89.4 233.5 91.7 232.7 94.2 232.5 96.6 231.7 98.7 230.4 101.0 229.4 103.1 227.9M122.4 107.0 122.9 109.4 123.7 111.8 123.9 114.3 124.1 116.8 125.0 119.2 125.2 121.7 125.5 124.1 125.8 126.6 125.7 129.1M43.8 90.5 43.7 93.0 43.5 95.5M95.9 131.6 95.9 134.1 96.0 136.6 96.1 139.1 96.2 141.6 96.3 144.1 96.9 146.6 97.0 149.1 97.2 151.5M90.2 184.1 92.4 183.0 94.7 182.1 97.2 181.4 99.6 181.2 102.1 181.1 104.6 180.6 107.1 180.5M241.7 107.1 239.2 107.3 236.7 107.1 234.2 106.9M55.2 88.4 54.6 85.9 53.9 83.5 53.1 81.2 51.7 79.1 50.3 77.0M77.1 199.9 77.4 197.4 77.3 194.9 77.7 192.4 77.8 189.9M205.5 90.9 206.3 88.5 207.3 86.2M274.6 146.7 277.1 146.2 279.4 145.4 281.7 144.4 284.2 143.9 286.7 143.9 289.1 144.3 291.6 144.8 294.0 145.5M210.8 89.3 208.3 89.2 205.8 88.9 203.3 88.7 200.8 88.5M76.5 205.7 75.2 203.5 73.8 201.4 72.9 199.1 71.7 196.9 71.0 194.5 70.3 192.1 70.1 189.6M102.5 62.2 103.1 59.8 103.3 57.3 104.0 54.9M235.8 99.3 233.5 100.3 231.1 100.9 228.6 101.1 226.1 101.5 223.6 101.3 221.1 100.9M123.3 74.0 122.4 71.7 121.1 69.6 120.2 67.2 120.0 64.8 119.7 62.3 118.9 59.9 118.1 57.5 117.0 55.3M74.4 239.9 72.2 241.1 69.9 242.0 67.4 242.5 65.0 243.0 62.6 243.8 60.5 245.1 58.3 246.3 55.9 247.0 53.4 247.2M51.9 218.5 51.9 216.0 51.5 213.5 50.6 211.2 49.2 209.1 48.0 206.9 46.2 205.1 44.9 203.0 43.7 200.8M62.7 153.8 65.0 152.8 67.4 151.9 69.8 151.5 72.2 150.6 74.6 150.3 77.0 149.5 79.5 149.1M85.5 61.8 86.5 64.1 87.9 66.2 88.8 68.5 89.4 71.0 89.5 73.5M87.8 202.5 90.2 203.1 92.5 204.1 94.8 205.1 97.0 206.3 99.1 207.7 100.9 209.4 102.8 211.0M292.2 153.5 291.6 151.0 291.4 148.5 291.0 146.1 290.0 143.8 289.2 141.4M60.0 208.8 57.6 208.1 55.3 207.3 52.8 207.0 50.3 206.9 47.8 206.8 45.3 206.5 42.8 206.3 40.4 206.7M107.9 82.5 105.7 83.6 103.5 84.8 101.6 86.4 99.8 88.2 98.2 90.0 96.9 92.2 95.3 94.1 93.2 95.5 91.1 96.8M247.5 89.0 247.0 86.5 246.6 84.1 245.8 81.7 245.1 79.3M87.8 58.1 87.1 55.7 86.4 53.3 85.5 50.9 84.5 48.6M55.4 85.1 55.9 87.5 56.1 90.0 56.7 92.4 57.8 94.7 59.2 96.8 60.4 98.9 61.7 101.1M64.8 254.6 64.7 252.1 64.3 249.7 64.2 247.2 63.5 244.8 62.2 242.6 60.6 240.7 59.4 238.5 58.5 236.2 58.1 233.7M47.2 54.9 48.0 57.2 49.0 59.5 50.4 61.6M79.2 82.4 78.3 80.1 77.7 77.7 77.5 75.2 77.8 72.7 78.1 70.2 77.9 67.7M87.8 211.9 90.3 212.3 92.7 213.1 94.8 214.4 96.8 215.8M79.2 181.1 76.7 181.1 74.2 181.5M177.9 93.5 177.6 96.0 177.4 98.5 177.6 101.0 178.3 103.4 178.9 105.8M59.9 216.3 59.9 218.8 60.1 221.3 60.2 223.8 60.4 226.3 61.1 228.7 61.9 231.1M278.0 123.1 278.9 125.5 280.3 127.5 281.9 129.4 283.3 131.5 284.3 133.8 284.8 136.3 285.6 138.6 287.0 140.7 287.9 143.1M75.3 258.6 75.0 256.1 74.4 253.7 74.1 251.2 74.1 248.7 74.6 246.3M283.2 143.8 283.5 146.3 284.2 148.7 285.2 151.0 286.2 153.3 287.4 155.5M267.2 108.9 266.1 111.2 264.8 113.3 263.1 115.2 261.0 116.6M268.0 204.2 267.7 201.7 267.8 199.2 268.1 196.7 268.7 194.3M283.3 209.5 285.8 209.7 288.3 209.5 290.8 209.2 293.1 208.3M85.3 175.4 86.1 173.0 86.2 170.5 86.9 168.1 87.1 165.6 87.2 163.1 87.1 160.6M109.5 89.8 108.4 92.0 107.3 94.3 105.8 96.3M89.7 240.7 92.2 240.8 94.6 241.5 96.9 242.5 99.3 243.1M49.8 64.6 47.5 65.6 45.3 66.8 43.1 68.0 41.1 69.5 39.0 70.8 36.8 72.1 34.6 73.2M93.0 44.9 92.4 47.4 92.0 49.8 91.8 52.3 91.1 54.7 90.2 57.1 89.4 59.4M255.1 124.9 257.3 123.7 259.6 122.7 261.7 121.4 263.6 119.6 265.0 117.6 266.3 115.5 267.9 113.5M276.3 130.2 276.5 132.7 276.8 135.2 276.7 137.7M67.0 71.0 69.4 71.6 71.9 71.7 74.4 71.7M71.5 127.9 73.9 127.3 76.4 127.1 78.9 126.7 81.3 126.0 83.8 125.7 86.2 125.3 88.7 125.1 91.2 125.0M245.9 116.0 246.5 118.4 246.9 120.9 247.6 123.2 248.4 125.6 249.6 127.8 250.2 130.2M66.0 132.5 66.8 130.2 68.1 128.0M118.4 49.4 117.4 47.1 116.0 45.0 115.0 42.8 113.7 40.6 112.1 38.7M137.3 89.7 139.6 88.8 141.7 87.4 143.4 85.6M89.0 143.2 88.6 140.7 88.3 138.2 87.5 135.9 86.3 133.7 85.0 131.5 83.8 129.3 82.8 127.1M56.3 219.0 53.9 220.0 51.5 220.6 49.3 221.7 47.2 223.1M51.4 212.3 50.5 210.0 49.6 207.7 49.0 205.2 48.9 202.7 49.2 200.3 49.6 197.8M61.3 51.2 63.8 51.8 66.0 52.9 67.9 54.5 70.1 55.7M162.5 88.2 165.0 88.4 167.5 87.9 169.9 87.4 172.3 86.6 174.6 85.6 176.7 84.2 179.0 83.3 181.5 83.0M234.8 96.7 234.6 94.2 234.4 91.7 234.4 89.2 234.2 86.7 233.8 84.3 233.0 81.9M250.7 127.5 250.2 130.0 249.9 132.4 249.6 134.9M87.0 173.9 84.7 174.9 82.3 175.5 79.9 176.5M291.3 201.7 288.9 200.9 286.8 199.5 284.7 198.1 282.4 197.2 280.1 196.2 278.0 194.9 275.9 193.5 274.0 191.9M37.9 89.4 35.5 90.1 33.1 90.6M134.7 92.5 132.2 92.1 129.9 91.4 127.5 90.5 125.1 89.9 122.8 89.0 120.3 88.5 118.0 87.6 115.9 86.2M239.9 102.4 240.5 100.0 240.8 97.5 241.1 95.0 241.7 92.6 242.7 90.3 243.8 88.1 244.6 85.7 245.8 83.5M293.2 124.8 290.7 125.0 288.3 125.5 285.9 126.3M59.1 201.1 56.6 201.3 54.2 201.9 51.7 202.3 49.3 202.7 47.0 203.7M96.8 35.8 96.5 38.2 96.5 40.7 96.6 43.2 96.5 45.7 97.0 48.2 97.8 50.6 98.9 52.8 100.3 54.8M79.2 141.9 78.1 144.1 77.6 146.5 77.4 149.0 77.2 151.5 77.4 154.0 77.8 156.5 77.5 159.0M54.9 93.7 52.4 94.2 50.0 94.4 47.5 94.7 45.0 94.4 42.6 93.8 40.1 93.5M50.8 51.6 48.5 52.6 46.3 53.7 44.0 54.8 41.5 55.2 39.1 55.9M175.6 89.0 173.1 88.9 170.7 88.2 168.2 87.9 165.8 87.3 163.3 86.9 160.9 86.2 158.5 85.7M58.1 95.2 55.6 95.4 53.1 95.3 50.7 95.7 48.2 95.5 45.8 94.9M285.8 196.4 286.4 198.9 287.2 201.2 287.8 203.6 288.6 206.0M211.7 92.2 212.0 89.7 211.8 87.2M251.2 123.4 249.0 124.6 246.6 125.3 244.2 125.7 241.7 125.9M45.4 216.8 45.2 219.3 44.5 221.7M103.4 217.2 102.8 214.8 102.1 212.4 101.0 210.1 99.5 208.1 97.8 206.3 95.8 204.8M236.3 81.3 235.9 83.8 235.6 86.3 235.4 88.8M91.3 83.5 92.0 81.1 92.9 78.8 94.0 76.5 95.0 74.3M105.8 60.0 103.3 60.1 100.9 60.7 98.4 61.1 95.9 61.1 93.5 61.4 91.0 61.1 88.5 60.8 86.0 60.5M78.0 70.3 78.2 67.8 78.6 65.4 79.3 63.0 80.2 60.6M117.2 123.2 116.8 125.7 116.1 128.1 114.8 130.2M78.3 190.9 78.6 188.4 79.2 186.0 80.3 183.7 81.4 181.5 82.3 179.2 83.1 176.8 84.3 174.6M282.7 143.3 283.2 145.7 283.8 148.2 284.5 150.6 285.4 152.9 286.0 155.3 287.1 157.6 287.7 160.0M279.0 211.3 281.5 211.3 283.9 210.7 286.2 209.6 288.5 208.7M81.8 143.0 84.3 143.1 86.7 143.5 89.2 143.7M77.5 252.0 75.1 251.5 72.8 250.5 70.4 249.9M225.7 75.1 226.3 77.5 226.9 79.9 227.6 82.3 227.6 84.8 228.3 87.2M90.1 77.1 87.7 76.3 85.4 75.3 83.1 74.5 81.0 73.1M280.2 160.4 282.7 159.8 285.1 159.1 287.5 158.6 289.9 157.7 292.3 157.3 294.7 156.6M96.9 128.7 94.5 129.0 92.0 129.6 89.8 130.7 87.5 131.7M262.5 132.8 262.2 130.3 261.4 127.9 260.2 125.7 259.1 123.5 258.1 121.2 257.5 118.8M269.7 115.8 269.7 113.3 269.7 110.8 270.2 108.4 270.1 105.9 269.9 103.4 269.3 101.0 268.2 98.7 266.8 96.6M213.4 97.9 210.9 97.4 208.5 97.0 206.0 96.7 203.5 96.1M72.6 126.1 72.6 128.6 73.2 131.1 73.6 133.6 73.7 136.1 73.3 138.5 72.6 140.9 71.5 143.2 71.0 145.6 70.3 148.0M106.2 85.7 106.4 83.2 107.1 80.8 107.9 78.5 109.1 76.3M64.1 208.8 66.6 208.5 69.1 208.3 71.6 207.9 74.0 207.3 76.5 207.1 79.0 207.1M240.2 97.9 239.3 95.5 238.6 93.1 237.4 90.9 236.1 88.8 235.2 86.5M91.0 87.9 90.8 85.4 90.8 82.9 90.5 80.4 89.8 78.0 89.2 75.6 88.3 73.3 86.9 71.2 85.6 69.1M71.5 236.0 70.5 238.3 69.9 240.7 68.9 243.0 67.7 245.2 66.5 247.3M61.5 192.3 63.9 191.8 66.4 191.3 68.9 190.8M256.4 97.9 255.9 100.3 255.6 102.8 255.1 105.3 254.9 107.8 254.2 110.2M87.4 151.2 86.3 153.4 85.7 155.8 85.4 158.3 84.6 160.7 84.5 163.2 83.8 165.6 83.0 168.0 82.0 170.2M267.3 141.7 266.7 139.3 265.7 137.0 265.1 134.5 263.9 132.3 262.3 130.4M42.5 86.6 40.1 87.1 37.7 87.7 35.2 87.7M80.5 167.5 83.0 168.1 85.5 168.3 88.0 168.5 90.4 168.2 92.8 167.5 95.2 166.8M291.2 137.8 291.5 135.3 291.2 132.8 290.8 130.4 290.5 127.9M108.6 115.6 108.0 113.2 107.2 110.8 106.5 108.4 105.7 106.0 104.8 103.7 104.1 101.3 103.7 98.8 103.4 96.3 103.3 93.8M66.9 254.1 64.5 254.8 62.2 255.8M89.8 77.5 92.3 77.8 94.8 78.1 97.3 78.2 99.7 78.7 102.0 79.7 104.4 80.3 106.8 81.2M46.0 220.5 43.6 221.4M116.2 124.2 116.6 126.7 117.5 129.1 118.7 131.3 119.8 133.5 121.1 135.6 122.0 138.0 122.9 140.3 124.0 142.5 125.0 144.8M81.0 249.9 78.7 251.0 76.5 252.1 74.0 252.6 71.6 253.4 69.2 253.8 66.7 254.1M99.7 81.4 99.4 83.9 99.6 86.4 100.2 88.8 101.3 91.0 102.3 93.4 102.9 95.8 103.5 98.2M100.4 88.3 100.8 90.8 101.6 93.2 102.8 95.4 103.8 97.7 105.1 99.8 106.4 101.9 107.2 104.3 107.8 106.7 108.9 109.0M92.1 149.9 92.6 147.4 93.2 145.0 93.5 142.5 94.2 140.2M101.0 81.1 100.1 83.4 99.2 85.8 98.9 88.2M56.2 193.4 53.8 192.7M49.5 212.0 47.1 211.1 44.9 210.1 42.7 208.8 40.7 207.3 39.1 205.4M89.4 184.8 89.1 187.3 89.0 189.8 88.3 192.2 87.8 194.6 87.6 197.1M53.7 93.7 56.1 94.4 58.4 95.4 60.5 96.8 62.5 98.3 64.1 100.2 66.1 101.7M87.8 166.6 87.9 164.1 87.5 161.6 87.5 159.1 87.0 156.7 86.1 154.4M291.5 130.0 291.7 132.5 291.5 135.0 291.3 137.5 291.4 140.0 291.1 142.5 291.1 145.0 291.5 147.4M46.3 199.5 43.9 199.1 41.5 198.3 39.1 197.7M83.5 178.1 86.0 177.8 88.4 177.4 90.8 176.6 93.0 175.5 95.4 174.6 97.5 173.2 99.2 171.4 100.9 169.6 103.0 168.3M254.4 106.1 256.9 106.2 259.3 106.6 261.6 107.5 263.8 108.8 265.9 110.1 268.0 111.5 270.0 112.9M60.3 229.8 62.8 229.7 65.3 229.6 67.8 229.4 70.2 228.8M58.3 197.2 60.8 196.6 63.1 195.7 65.2 194.3 67.2 192.8 69.0 191.0M59.9 201.3 58.8 199.1 57.8 196.8 56.5 194.6M86.4 82.0 88.9 82.4 91.3 83.1 93.7 83.6 96.2 83.4 98.7 83.8 101.1 84.5 103.3 85.6 105.3 87.1 107.1 88.9M80.6 83.2 81.2 85.6 81.9 88.0 83.1 90.2 84.8 92.1 86.7 93.7 88.5 95.3 90.6 96.8 92.9 97.8 95.3 98.5M56.4 63.3 58.8 63.8 61.3 63.8 63.8 63.9 66.3 64.2 68.8 64.2 71.2 63.7 73.6 63.0 75.9 61.9 78.1 60.7M120.5 66.5 118.0 66.7 115.5 66.6 113.1 67.0 110.7 67.8 108.3 68.7 106.0 69.6M59.1 242.2 56.6 242.5 54.2 243.2 51.9 244.1 49.5 244.7M34.4 206.2 36.9 206.5 39.4 206.8 41.7 207.8 43.9 209.0 46.1 210.1 48.3 211.4 50.4 212.6M71.3 234.7 73.7 233.8 76.2 233.4 78.5 232.6 80.9 232.0 83.4 232.1 85.9 232.4 88.4 232.6 90.9 232.9 93.4 233.0M80.6 214.0 81.7 211.8 82.4 209.4 83.1 207.0 84.0 204.6M253.2 124.5 252.9 122.0 252.4 119.6 252.3 117.1 251.9 114.6 251.8 112.1M245.0 121.5 244.8 124.0 244.1 126.4 244.0 128.9 243.4 131.3 242.8 133.7M92.5 92.7 93.9 94.8 95.4 96.8 96.8 98.9 97.7 101.2 98.8 103.5 99.7 105.8 100.6 108.2 101.1 110.6M115.5 44.8 115.5 42.3 116.0 39.8M292.3 152.1 293.2 149.8 294.0 147.4 294.9 145.0 295.6 142.6 295.8 140.1M87.4 218.8 84.9 219.0 82.4 219.0 79.9 218.6M86.8 229.6 86.6 232.1 86.5 234.6 85.8 237.0 85.4 239.5 84.8 241.9M55.8 56.0 58.3 55.6 60.7 54.9 63.2 54.7 65.6 54.0 68.1 53.7M106.0 63.8 108.4 64.4 110.8 65.3 113.1 66.3 115.3 67.3 117.7 68.1 120.0 69.1 122.1 70.4M264.0 114.7 264.3 117.2 264.6 119.7 264.6 122.2 265.0 124.7 265.4 127.1 265.8 129.6 266.4 132.0 267.1 134.4 268.2 136.7M118.0 73.4 120.4 74.0 122.9 74.3 125.4 74.6 127.9 74.9 130.4 74.7 132.8 74.1 135.3 73.8 137.8 74.1M67.8 85.1 70.3 84.9 72.8 84.8 75.3 85.1 77.8 85.3 80.2 85.9 82.5 86.9 84.8 87.8M79.5 96.0 79.7 93.5 79.8 91.0 80.3 88.6 80.3 86.1 80.8 83.6 81.3 81.2 82.0 78.8 82.1 76.3M88.5 58.3 91.0 58.1 93.5 58.3 96.0 57.8 98.2 56.7 100.7 56.2 103.1 55.7" fill="none" stroke="#dfe3e5" stroke-width="0.9" stroke-linejoin="round"/>
<g fill="none" stroke="#eef0f2" stroke-width="1"><rect x="172" y="142" width="42" height="44" rx="5"/><rect x="155" y="125" width="77" height="77" rx="7"/><rect x="140" y="110" width="110" height="108" rx="9"/><path d="M190,96 L186,84 M150,110 L130,97 M55,90 L80,92 L100,92 L122,95 M92,60 L150,58 M104,30 L104,92 M245,113 L271,102 M232,176 L280,150 M205,218 L230,240 M140,218 L110,240 M120,170 L80,185 L50,215 M120,200 L80,230"/></g>
</g>
<g>
<polygon points="40.0,49.0 50.0,49.5 51.0,56.0 50.0,62.0 42.0,63.0 39.0,57.0" fill="#fbb516"/>
<polygon points="38.0,81.0 50.0,80.0 53.5,82.0 52.0,90.0 48.0,93.0 40.0,94.0 36.0,93.0 30.5,94.0 33.0,89.0 36.0,86.0" fill="#fbb516"/>
<polygon points="119.0,100.0 127.0,99.5 127.5,104.0 124.0,109.0 120.0,110.0 118.0,106.0" fill="#fbb516"/>
<polygon points="133.0,85.0 138.0,83.0 139.5,85.0 136.0,88.0 132.0,88.4" fill="#fbb516"/>
<polygon points="92.0,131.0 98.0,129.5 102.0,128.9 96.0,135.0 95.0,145.0 98.0,147.0 90.0,150.0 88.0,153.7 84.0,150.0 85.0,140.0 87.0,135.0" fill="#fbb516"/>
<polygon points="86.0,128.0 92.0,124.0 94.5,122.5 96.0,126.0 95.0,131.0 88.0,131.0" fill="#8cc81e"/>
<polygon points="75.4,155.4 78.0,155.0 80.6,157.0 79.0,160.0 77.0,158.0" fill="#fbb516"/>
<polygon points="88.0,60.0 94.0,55.0 95.5,55.5 92.0,62.0 87.5,64.0" fill="#1f9a1f"/>
<polygon points="55.0,192.0 62.0,190.0 72.0,188.5 75.5,190.0 75.0,197.0 72.0,203.0 66.0,206.5 58.0,207.6 54.0,204.0 55.0,198.0" fill="#fbb516"/>
<polygon points="30.0,198.5 40.0,197.5 47.0,198.5 48.5,203.0 46.0,208.0 42.0,212.0 37.0,214.0 30.0,210.0 27.0,205.0" fill="#fbb516"/>
<polygon points="72.0,178.4 75.0,179.0 79.0,184.0 81.8,188.0 80.0,190.3 76.0,188.0 73.0,184.0" fill="#fbb516"/>
<polygon points="82.0,187.0 88.0,187.5 93.0,189.0 92.0,192.4 85.0,191.0 81.8,189.5" fill="#fbb516"/>
<polygon points="84.0,146.0 90.0,146.0 93.0,148.0 90.0,152.0 85.0,151.0" fill="#fbb516"/>
<polygon points="72.0,222.0 75.0,222.5 78.0,227.0 79.6,229.0 76.0,231.7 74.0,228.0 72.0,225.0" fill="#fbb516"/>
<polygon points="41.8,241.4 44.0,241.5 45.0,245.0 43.5,247.9 42.0,246.0" fill="#fbb516"/>
<polygon points="71.0,244.6 74.0,244.6 75.3,247.0 73.0,249.0 71.0,248.0" fill="#fbb516"/>
<polygon points="106.0,216.6 109.0,216.0 115.0,223.0 121.0,231.0 120.0,233.8 116.0,231.0 111.0,224.0" fill="#fbb516"/>
<polygon points="134.0,235.0 138.4,235.0 138.4,238.2 134.0,238.2" fill="#f4801e"/>
<polygon points="139.4,242.5 143.8,243.0 143.0,248.0 139.8,247.0" fill="#fbb516"/>
<polygon points="152.4,247.0 157.8,244.6 157.0,247.0 153.0,249.0" fill="#f42414"/>
<polygon points="167.4,226.0 175.6,225.7 174.0,230.7 168.0,230.0" fill="#fbb516"/>
<polygon points="162.5,232.3 166.6,232.5 166.0,235.6 162.5,235.0" fill="#fbb516"/>
<polygon points="260.0,217.6 267.6,218.5 266.0,222.0 261.0,221.0" fill="#fbb516"/>
<polygon points="137.3,116.0 148.0,114.3 151.3,116.0 150.0,121.0 144.0,123.0 138.0,121.0" fill="#8cc81e"/>
<polygon points="127.0,122.5 134.0,121.9 135.1,126.0 134.0,133.8 129.0,133.0 125.4,128.0" fill="#8cc81e"/>
<polygon points="156.7,110.0 162.0,109.0 164.3,111.0 161.0,113.2 157.5,113.0" fill="#1f9a1f"/>
<polygon points="116.8,126.0 124.0,125.0 127.6,129.0 125.0,136.0 119.0,135.0" fill="#1f9a1f"/>
<polygon points="120.0,128.4 125.4,128.6 125.0,131.6 120.5,131.4" fill="#f42414"/>
<polygon points="139.4,128.4 142.7,128.4 142.7,132.7 139.4,132.7" fill="#f42414"/>
<polygon points="162.0,87.3 165.4,87.3 165.4,93.8 162.0,93.8" fill="#f42414"/>
<polygon points="153.5,111.2 156.0,111.2 156.0,113.5 153.5,113.5" fill="#f42414"/>
<polygon points="119.0,91.6 124.3,93.8 123.0,94.5 118.5,92.8" fill="#f42414"/>
<polygon points="177.6,102.4 192.8,102.4 192.8,137.0 184.0,137.0 184.0,117.6 177.6,117.6" fill="#1f9a1f"/>
<polygon points="175.5,93.0 184.5,91.6 185.2,96.0 176.0,96.0" fill="#f42414"/>
<polygon points="184.0,89.5 188.0,88.4 191.7,90.0 190.6,97.0 185.0,97.0" fill="#f4f20a"/>
<polygon points="212.2,102.4 216.5,103.0 216.5,105.7 212.2,105.7" fill="#f42414"/>
<polygon points="209.0,87.3 212.2,87.3 212.2,92.7 209.0,92.7" fill="#1f9a1f"/>
<polygon points="210.0,97.0 216.5,97.0 216.5,100.3 210.0,100.3" fill="#1f9a1f"/>
<polygon points="192.8,110.0 197.0,110.0 197.0,113.2 192.8,113.2" fill="#f4801e"/>
<polygon points="231.6,120.8 234.0,121.0 236.0,124.0 233.0,128.4 231.6,126.0" fill="#f4f20a"/>
<polygon points="233.8,95.0 236.0,95.0 238.0,100.3 235.5,100.0" fill="#f4f20a"/>
<polygon points="239.0,137.0 245.0,137.5 244.0,143.5 240.0,142.0" fill="#fbb516"/>
<polygon points="169.0,136.6 205.7,136.6 205.7,137.6 169.0,137.6" fill="#8cc81e"/>
<polygon points="248.2,122.0 252.0,119.7 256.9,121.0 256.5,126.0 252.0,128.3 249.0,126.0" fill="#f42414"/>
<polygon points="259.0,93.8 261.0,93.8 267.6,98.0 266.5,99.2" fill="#1f9a1f"/>
<polygon points="251.5,97.0 255.8,97.0 255.8,99.2 251.5,99.2" fill="#fbb516"/>
<polygon points="233.8,94.2 236.0,94.2 237.3,99.0 236.5,100.2 235.0,97.0" fill="#fbb516"/>
<polygon points="242.4,60.0 246.7,61.0 245.0,61.7 243.0,61.5" fill="#fbb516"/>
<polygon points="125.4,31.9 126.4,31.9 127.6,36.2 126.6,36.2" fill="#fbb516"/>
<polygon points="226.0,93.4 227.8,93.4 227.8,96.0 226.0,96.0" fill="#f4f20a"/>
<polygon points="93.0,54.5 96.0,54.5 96.0,60.0 93.0,60.0" fill="#1f9a1f"/>
<polygon points="103.8,172.0 111.0,171.5 110.3,175.2 103.8,175.2" fill="#1f9a1f"/>
<polygon points="98.6,172.5 101.8,172.5 101.6,180.6 98.4,180.6" fill="#1f9a1f"/>
<polygon points="82.8,175.0 85.8,175.0 85.8,178.3 82.8,178.3" fill="#f42414"/>
<polygon points="150.2,155.7 154.6,155.7 154.6,159.0 150.2,159.0" fill="#8cc81e"/>
<polygon points="156.7,155.7 163.2,155.7 163.2,160.0 156.7,160.0" fill="#8cc81e"/>
<polygon points="147.0,170.8 155.6,170.8 155.6,175.2 147.0,175.2" fill="#8cc81e"/>
<polygon points="147.0,186.0 151.3,186.0 151.3,189.2 147.0,189.2" fill="#8cc81e"/>
<polygon points="113.5,154.6 117.8,154.6 117.8,157.9 113.5,157.9" fill="#1f9a1f"/>
<polygon points="112.4,178.4 120.0,178.4 120.0,180.6 112.4,180.6" fill="#1f9a1f"/>
<polygon points="137.3,191.4 140.5,191.4 140.5,194.6 137.3,194.6" fill="#1f9a1f"/>
<polygon points="100.6,203.2 104.9,203.2 104.9,207.6 100.6,207.6" fill="#1f9a1f"/>
<polygon points="142.7,170.8 147.0,170.8 147.0,173.0 142.7,173.0" fill="#f4801e"/>
<polygon points="106.0,197.0 108.0,197.0 108.0,199.5 106.0,199.5" fill="#f4f20a"/>
<polygon points="224.0,149.2 231.6,149.2 231.6,156.0 229.0,158.0 229.0,163.3 224.0,163.3" fill="#f42414"/>
<polygon points="229.5,165.4 233.8,165.4 233.8,169.8 229.5,169.8" fill="#f42414"/>
<polygon points="182.0,147.0 185.2,147.0 185.2,150.3 182.0,150.3" fill="#f42414"/>
<polygon points="188.4,148.0 191.7,148.0 191.7,151.4 188.4,151.4" fill="#f42414"/>
<polygon points="195.0,149.2 198.2,149.2 198.2,152.5 195.0,152.5" fill="#8cc81e"/>
<polygon points="182.0,163.3 186.3,163.3 186.3,169.8 182.0,169.8" fill="#8cc81e"/>
<polygon points="207.9,173.0 211.1,173.0 211.1,176.2 207.9,176.2" fill="#8cc81e"/>
<polygon points="189.5,190.3 198.2,190.3 198.2,197.8 189.5,197.8" fill="#8cc81e"/>
<polygon points="177.6,196.8 183.0,196.8 183.0,201.0 177.6,201.0" fill="#8cc81e"/>
<polygon points="200.3,196.0 205.0,194.6 209.0,195.5 206.0,200.0 201.0,200.0" fill="#f42414"/>
<polygon points="187.4,194.6 189.5,194.6 189.5,200.0 187.4,200.0" fill="#f42414"/>
<polygon points="237.0,194.6 243.5,194.6 243.5,198.9 237.0,198.9" fill="#1f9a1f"/>
<polygon points="240.3,147.0 245.0,147.0 245.0,151.4 240.3,151.4" fill="#1f9a1f"/>
<polygon points="217.6,166.5 220.8,166.5 220.8,168.7 217.6,168.7" fill="#f42414"/>
<polygon points="217.6,180.6 220.8,180.6 220.8,182.7 217.6,182.7" fill="#f42414"/>
<polygon points="302.2,155.7 304.3,155.7 304.3,163.3 302.2,163.3" fill="#f42414"/>
<polygon points="266.0,149.2 270.0,149.5 276.3,150.0 276.0,155.0 272.0,157.9 266.0,157.0" fill="#1f9a1f"/>
<polygon points="256.9,160.0 266.6,160.0 266.6,164.3 256.9,164.3" fill="#1f9a1f"/>
<polygon points="270.9,161.0 277.4,161.0 277.4,163.3 270.9,163.3" fill="#1f9a1f"/>
<polygon points="247.0,153.5 254.7,153.5 254.7,156.8 247.0,156.8" fill="#1f9a1f"/>
<polygon points="246.0,162.2 252.5,162.2 252.5,164.3 246.0,164.3" fill="#f42414"/>
<polygon points="249.3,174.0 252.5,174.0 252.5,177.3 249.3,177.3" fill="#f42414"/>
<polygon points="259.0,188.0 266.0,187.0 268.7,190.0 266.0,200.0 261.0,199.0 259.0,194.0" fill="#f42414"/>
<polygon points="249.3,195.6 255.8,195.6 255.8,197.8 249.3,197.8" fill="#f42414"/>
<polygon points="293.5,171.9 295.7,171.9 295.7,175.0 293.5,175.0" fill="#f42414"/>
<polygon points="265.5,186.0 269.8,186.0 269.8,190.2 265.5,190.2" fill="#f4f20a"/>
<polygon points="258.0,186.0 262.3,186.0 262.3,188.0 258.0,188.0" fill="#f4f20a"/>
<polygon points="288.1,176.2 291.4,176.2 291.4,179.4 288.1,179.4" fill="#f4f20a"/>
<polygon points="291.4,164.3 293.5,164.3 293.5,167.6 291.4,167.6" fill="#f4f20a"/>
<polygon points="274.0,178.4 279.5,178.4 279.5,180.5 274.0,180.5" fill="#fbb516"/>
<polygon points="287.0,190.2 290.3,190.2 290.3,193.5 287.0,193.5" fill="#f4801e"/>
<polygon points="273.0,201.0 276.3,201.0 276.3,203.2 273.0,203.2" fill="#f42414"/>
<polygon points="223.0,228.4 228.4,228.4 228.4,237.0 223.0,237.0" fill="#1f9a1f"/>
<polygon points="227.3,224.0 230.5,224.0 230.5,227.4 227.3,227.4" fill="#1f9a1f"/>
<polygon points="236.0,221.0 239.2,221.0 239.2,225.2 236.0,225.2" fill="#f4801e"/>
<polygon points="242.4,223.0 245.0,223.0 245.0,226.3 242.4,226.3" fill="#f4f20a"/>
<polygon points="197.0,222.5 201.0,222.5 201.0,224.0 197.0,224.0" fill="#fbb516"/>
<polygon points="178.9,226.6 182.2,226.6 182.2,228.2 178.9,228.2" fill="#1f9a1f"/>
<polygon points="169.0,226.3 174.4,226.3 174.4,231.7 169.0,231.7" fill="#fbb516"/>
<polygon points="101.6,209.0 105.0,209.0 105.0,213.3 101.6,213.3" fill="#1f9a1f"/>
<polygon points="164.3,232.8 167.5,232.8 167.5,235.0 164.3,235.0" fill="#fbb516"/>
<path d="M112.2 129.3h2.1v2.4h-2.1zM120.6 64.9h1.1v1.2h-1.1zM101.4 111.9h1.4v1.1h-1.4zM162.9 234.7h2.2v2.1h-2.2zM141.2 90.3h1.4v1.0h-1.4zM235.7 176.0h2.0v2.2h-2.0zM220.4 133.1h1.9v1.4h-1.9zM160.5 196.7h1.8v1.4h-1.8zM245.2 177.5h2.0v1.9h-2.0zM235.6 145.7h2.1v1.5h-2.1zM112.4 82.0h1.0v1.0h-1.0zM182.9 177.0h1.1v0.9h-1.1zM154.4 155.6h1.3v1.3h-1.3z" fill="#fbb516"/>
<path d="M102.8 207.4h1.2v1.1h-1.2zM218.7 99.9h1.5v0.9h-1.5zM201.5 208.1h2.0v2.3h-2.0zM127.6 145.3h1.5v1.5h-1.5zM213.1 110.8h1.6v1.7h-1.6zM252.0 86.2h1.3v1.5h-1.3zM120.9 158.9h2.0v2.3h-2.0zM151.0 101.2h1.4v1.5h-1.4zM93.8 238.9h1.1v0.9h-1.1zM230.9 79.3h1.2v1.2h-1.2zM144.0 155.1h1.8v1.7h-1.8zM222.6 219.2h1.5v1.4h-1.5zM156.2 184.8h1.5v1.5h-1.5zM215.6 149.5h1.3v1.2h-1.3zM297.7 159.0h1.0v0.9h-1.0zM110.7 74.4h1.4v1.5h-1.4zM238.0 143.5h1.5v1.1h-1.5zM238.2 120.8h2.1v2.0h-2.1zM285.2 167.8h1.1v1.3h-1.1zM138.3 128.4h1.6v1.6h-1.6zM129.3 162.6h1.7v1.7h-1.7zM121.0 92.8h2.0v2.1h-2.0zM214.0 203.0h1.9v1.6h-1.9zM171.6 225.3h1.7v1.5h-1.7zM112.1 101.8h2.2v2.2h-2.2zM191.2 165.5h1.4v1.1h-1.4zM249.6 159.7h1.2v1.0h-1.2zM234.5 122.9h1.4v1.5h-1.4zM227.9 111.4h1.3v1.0h-1.3zM133.0 178.2h1.2v0.9h-1.2z" fill="#f4801e"/>
<path d="M194.3 201.0h1.9v1.6h-1.9zM221.3 153.4h1.1v1.2h-1.1zM209.1 136.6h1.2v0.9h-1.2zM203.8 158.6h1.1v1.2h-1.1zM214.2 173.6h1.4v1.4h-1.4zM170.0 217.3h1.3v1.0h-1.3zM248.5 206.5h1.0v1.0h-1.0zM132.3 215.0h1.9v1.2h-1.9zM274.2 209.6h1.3v1.0h-1.3zM279.4 167.5h1.8v1.9h-1.8zM242.4 119.8h1.2v1.4h-1.2zM111.2 148.0h1.2v0.7h-1.2zM247.6 201.9h1.0v1.1h-1.0z" fill="#1f9a1f"/>
<path d="M142.1 101.5h1.1v1.2h-1.1zM112.5 131.0h1.2v1.0h-1.2zM157.8 113.6h1.9v1.4h-1.9zM251.6 175.3h2.1v1.5h-2.1zM99.5 217.4h1.4v1.5h-1.4zM93.1 131.5h1.9v2.2h-1.9zM91.1 75.9h1.7v1.8h-1.7zM230.7 143.5h1.2v1.0h-1.2zM146.3 206.5h1.1v1.1h-1.1zM281.8 170.5h1.1v1.0h-1.1zM165.9 158.7h1.4v0.9h-1.4zM206.5 93.6h1.7v1.8h-1.7zM212.6 148.3h1.6v1.9h-1.6zM253.3 95.3h1.3v1.2h-1.3z" fill="#f42414"/>
<path d="M150.8 242.5h1.3v1.3h-1.3zM255.7 220.3h1.3v1.1h-1.3zM278.3 172.1h1.4v1.2h-1.4zM259.5 96.6h1.7v1.7h-1.7zM189.7 176.5h1.6v1.9h-1.6zM289.1 151.3h2.1v1.3h-2.1zM290.1 201.1h1.2v1.3h-1.2zM172.4 166.3h1.9v1.8h-1.9zM159.6 173.2h1.4v1.5h-1.4zM91.3 147.2h2.0v1.8h-2.0zM179.4 85.7h2.0v1.9h-2.0zM147.8 86.9h2.1v1.7h-2.1zM183.5 97.1h1.5v1.5h-1.5zM280.9 119.5h2.1v2.1h-2.1zM237.1 101.5h1.4v1.5h-1.4zM124.7 115.5h1.6v1.7h-1.6z" fill="#f4f20a"/>
<path d="M116.8 138.5h1.1v0.8h-1.1zM210.1 161.3h1.1v1.2h-1.1zM163.4 144.6h1.2v0.9h-1.2zM101.8 84.9h1.1v1.2h-1.1z" fill="#8cc81e"/>
</g>
<rect x="17.5" y="20.5" width="303.7" height="250.3" fill="none" stroke="#3a3a3a" stroke-width="1.2"/>
<g stroke="#333" stroke-width="1"><line x1="162.5" y1="17" x2="162.5" y2="20.5"/><line x1="316.7" y1="17" x2="316.7" y2="20.5"/><line x1="160.5" y1="270.8" x2="160.5" y2="274"/><line x1="315.8" y1="270.8" x2="315.8" y2="274"/><line x1="14.3" y1="120.3" x2="17.5" y2="120.3"/><line x1="321.2" y1="122.6" x2="324.4" y2="122.6"/></g>
<text class="t" x="18.3" y="15.1" font-size="14.2" style="stroke-width:0.1px">a</text>
<text class="t" x="162.5" y="14.6" font-size="9.6" text-anchor="middle">116°20'0"E</text>
<text class="t" x="317" y="14.6" font-size="9.6" text-anchor="middle">116°40'0"E</text>
<text class="t" x="160.7" y="283.0" font-size="9.6" text-anchor="middle">116°20'0"E</text>
<text class="t" x="316" y="283.0" font-size="9.6" text-anchor="middle">116°40'0"E</text>
<text class="t" font-size="9" textLength="33.3" lengthAdjust="spacingAndGlyphs" transform="translate(11.3,135.5) rotate(-90)">40°0'0"N</text>
<text class="t" font-size="9" textLength="33.3" lengthAdjust="spacingAndGlyphs" transform="translate(333.3,138.3) rotate(-90)">40°0'0"N</text>
<text class="t" x="284.6" y="39.7" font-size="13.6" font-weight="bold" text-anchor="middle" fill="#111">N</text>
<polygon points="284.4,44.8 275.4,72 283.8,63.6" fill="#111"/>
<polygon points="284.4,44.8 294.2,74.9 283.8,63.6" fill="#fff" stroke="#111" stroke-width="0.9" stroke-linejoin="miter"/>
<g stroke="#333" stroke-width="1" fill="none"><polyline points="239.3,258.5 239.3,264 293.7,264 293.7,258.5"/><line x1="253.2" y1="261" x2="253.2" y2="264"/><line x1="266.6" y1="260.5" x2="266.6" y2="264"/><line x1="280.2" y1="261" x2="280.2" y2="264"/></g>
<text class="t" font-size="8.5" x="239.3" y="254.5" text-anchor="middle">0</text>
<text class="t" font-size="8.5" x="266.5" y="254.5" text-anchor="middle">5</text>
<text class="t" font-size="8.5" x="289.3" y="254.5">10</text>
<text class="t" font-size="8.5" x="299.6" y="254.5">Km</text>
<text class="t" x="357.6" y="14.7" font-size="13.8" style="stroke-width:0.1px">b</text>
<g stroke="#a0a0a0" stroke-width="0.9" stroke-dasharray="1.1,1.1" fill="none"><line x1="357.0" y1="37.9" x2="357.0" y2="184.2"/><line x1="521.3" y1="49.1" x2="521.3" y2="195.39999999999998"/><line x1="475.5" y1="20.0" x2="475.5" y2="166.29999999999998"/></g>
<polygon points="357.4,37.9 475.5,20.0 521.3,49.1 403.2,67.0" fill="#fbfcee"/>
<g transform="matrix(0.36157 -0.05237 0.18329 0.1112 351.867 34.932)"><g clip-path="url(#cp)">
<rect x="17" y="20" width="305" height="252" fill="#36d430"/>
<path d="M89.0 22.0h7.4v9.5h-7.4zM54.0 54.0h6.4v9.0h-6.4zM59.0 54.0h5.5v10.7h-5.5zM64.0 54.0h5.8v10.9h-5.8zM69.0 54.0h6.0v9.7h-6.0zM34.0 62.0h5.2v9.5h-5.2zM94.0 62.0h6.2v9.7h-6.2zM129.0 62.0h5.1v10.9h-5.1zM229.0 70.0h7.5v8.4h-7.5zM44.0 86.0h6.9v10.7h-6.9zM54.0 86.0h5.4v9.8h-5.4zM139.0 86.0h7.4v9.2h-7.4zM174.0 86.0h6.7v9.9h-6.7zM179.0 86.0h5.2v9.3h-5.2zM59.0 94.0h6.1v10.9h-6.1zM264.0 94.0h6.4v9.2h-6.4zM74.0 102.0h6.4v9.1h-6.4zM104.0 102.0h5.4v9.1h-5.4zM174.0 102.0h5.8v10.2h-5.8zM114.0 110.0h5.0v9.2h-5.0zM124.0 110.0h5.4v10.6h-5.4zM169.0 118.0h6.0v8.4h-6.0zM274.0 118.0h6.9v11.0h-6.9zM79.0 126.0h6.1v10.3h-6.1zM94.0 126.0h6.8v10.4h-6.8zM144.0 126.0h6.2v9.3h-6.2zM274.0 126.0h5.4v9.1h-5.4zM74.0 134.0h7.3v9.4h-7.3zM109.0 134.0h6.9v9.2h-6.9zM179.0 134.0h6.4v10.9h-6.4zM269.0 134.0h5.7v8.9h-5.7zM279.0 134.0h7.2v8.9h-7.2zM284.0 134.0h6.2v9.8h-6.2zM89.0 142.0h7.4v9.7h-7.4zM139.0 142.0h6.7v8.9h-6.7zM224.0 142.0h5.1v9.2h-5.1zM274.0 142.0h6.2v8.7h-6.2zM284.0 142.0h5.4v9.4h-5.4zM179.0 150.0h6.2v9.5h-6.2zM289.0 150.0h6.5v8.3h-6.5zM174.0 158.0h6.5v11.0h-6.5zM89.0 166.0h7.0v9.2h-7.0zM159.0 166.0h6.3v9.6h-6.3zM164.0 166.0h5.3v9.4h-5.3zM169.0 166.0h5.9v9.9h-5.9zM209.0 166.0h5.6v8.7h-5.6zM234.0 166.0h6.6v8.4h-6.6zM264.0 166.0h6.6v9.4h-6.6zM94.0 174.0h5.5v8.3h-5.5zM104.0 174.0h6.7v10.0h-6.7zM119.0 174.0h6.2v10.6h-6.2zM129.0 174.0h7.2v8.5h-7.2zM139.0 174.0h7.2v10.3h-7.2zM224.0 174.0h7.1v8.4h-7.1zM239.0 174.0h7.3v9.2h-7.3zM289.0 174.0h7.2v9.2h-7.2zM139.0 182.0h5.4v10.7h-5.4zM154.0 182.0h6.4v10.4h-6.4zM164.0 182.0h5.2v8.9h-5.2zM174.0 182.0h6.4v9.3h-6.4zM254.0 182.0h6.6v8.7h-6.6zM289.0 182.0h6.5v9.1h-6.5zM294.0 182.0h6.2v8.4h-6.2zM79.0 190.0h6.2v8.6h-6.2zM244.0 190.0h5.5v9.9h-5.5zM29.0 198.0h7.2v8.8h-7.2zM64.0 198.0h5.8v9.5h-5.8zM69.0 198.0h5.2v10.9h-5.2zM129.0 198.0h5.5v8.7h-5.5zM239.0 198.0h7.0v9.6h-7.0zM244.0 198.0h6.8v9.3h-6.8zM274.0 198.0h6.9v10.7h-6.9zM84.0 206.0h5.9v10.6h-5.9zM164.0 206.0h6.8v8.0h-6.8zM169.0 206.0h5.6v10.0h-5.6zM184.0 206.0h6.0v10.2h-6.0zM199.0 206.0h5.5v8.7h-5.5zM219.0 206.0h7.2v10.1h-7.2zM254.0 206.0h5.5v8.2h-5.5zM274.0 206.0h6.0v10.4h-6.0zM64.0 214.0h5.8v10.8h-5.8zM209.0 214.0h5.3v9.2h-5.3zM219.0 214.0h7.4v10.8h-7.4zM229.0 214.0h5.1v9.9h-5.1zM269.0 214.0h5.8v10.7h-5.8zM74.0 222.0h5.5v8.2h-5.5zM99.0 222.0h6.7v8.4h-6.7zM159.0 222.0h6.9v9.9h-6.9zM44.0 230.0h7.3v11.0h-7.3zM124.0 230.0h6.6v10.9h-6.6zM129.0 230.0h7.5v10.7h-7.5zM144.0 230.0h6.9v10.9h-6.9z" fill="#44dc22"/>
<path d="M94.0 22.0h6.4v8.5h-6.4zM109.0 38.0h5.6v9.2h-5.6zM104.0 46.0h7.2v9.2h-7.2zM109.0 46.0h5.7v9.5h-5.7zM119.0 54.0h7.3v8.4h-7.3zM49.0 62.0h6.5v8.2h-6.5zM69.0 62.0h6.2v10.4h-6.2zM119.0 62.0h6.2v10.3h-6.2zM124.0 62.0h6.3v8.3h-6.3zM54.0 70.0h5.8v10.4h-5.8zM59.0 70.0h5.6v8.8h-5.6zM64.0 70.0h5.2v10.3h-5.2zM129.0 70.0h5.5v10.1h-5.5zM114.0 78.0h7.1v8.6h-7.1zM239.0 78.0h7.0v9.7h-7.0zM244.0 78.0h7.3v10.8h-7.3zM79.0 86.0h7.1v10.7h-7.1zM109.0 86.0h7.2v10.8h-7.2zM144.0 86.0h7.0v9.8h-7.0zM104.0 94.0h5.5v9.0h-5.5zM109.0 94.0h5.3v9.0h-5.3zM119.0 94.0h7.4v10.8h-7.4zM144.0 94.0h6.3v9.6h-6.3zM94.0 102.0h6.5v9.4h-6.5zM219.0 102.0h5.8v9.6h-5.8zM244.0 102.0h5.8v8.8h-5.8zM269.0 102.0h6.5v9.2h-6.5zM84.0 110.0h5.0v9.8h-5.0zM159.0 110.0h7.1v8.8h-7.1zM199.0 110.0h7.3v10.4h-7.3zM244.0 110.0h5.1v8.6h-5.1zM274.0 110.0h5.5v8.5h-5.5zM99.0 118.0h7.5v9.8h-7.5zM109.0 118.0h5.6v9.1h-5.6zM119.0 118.0h6.3v10.2h-6.3zM244.0 118.0h5.1v8.3h-5.1zM264.0 118.0h5.9v8.7h-5.9zM294.0 118.0h7.4v10.1h-7.4zM84.0 126.0h6.8v10.5h-6.8zM164.0 126.0h7.3v10.5h-7.3zM174.0 126.0h5.4v8.2h-5.4zM239.0 126.0h6.8v8.5h-6.8zM269.0 126.0h6.9v10.6h-6.9zM284.0 126.0h7.5v9.0h-7.5zM299.0 126.0h6.0v8.4h-6.0zM119.0 134.0h7.3v10.5h-7.3zM144.0 134.0h6.0v10.0h-6.0zM299.0 134.0h6.4v9.0h-6.4zM64.0 142.0h6.5v8.7h-6.5zM114.0 142.0h5.2v8.3h-5.2zM299.0 142.0h6.0v8.2h-6.0zM134.0 150.0h6.2v10.5h-6.2zM254.0 150.0h6.3v8.6h-6.3zM284.0 150.0h5.3v9.1h-5.3zM79.0 158.0h5.0v10.6h-5.0zM89.0 158.0h6.8v8.1h-6.8zM94.0 158.0h6.8v9.2h-6.8zM74.0 166.0h5.2v10.0h-5.2zM99.0 166.0h5.7v8.9h-5.7zM114.0 166.0h6.5v10.5h-6.5zM144.0 174.0h5.3v8.2h-5.3zM154.0 174.0h5.2v10.9h-5.2zM269.0 174.0h5.1v9.1h-5.1zM84.0 182.0h5.2v8.9h-5.2zM129.0 182.0h7.0v8.6h-7.0zM69.0 190.0h6.3v9.4h-6.3zM134.0 190.0h7.0v9.3h-7.0zM159.0 190.0h7.0v9.4h-7.0zM264.0 190.0h5.6v8.9h-5.6zM94.0 198.0h7.2v10.8h-7.2zM109.0 198.0h6.1v10.9h-6.1zM144.0 198.0h5.1v10.6h-5.1zM179.0 198.0h7.2v9.2h-7.2zM49.0 206.0h5.2v8.2h-5.2zM129.0 206.0h5.3v8.5h-5.3zM134.0 206.0h5.7v10.1h-5.7zM174.0 206.0h7.3v10.0h-7.3zM244.0 206.0h6.6v10.7h-6.6zM279.0 206.0h6.6v8.1h-6.6zM49.0 214.0h6.1v10.9h-6.1zM84.0 214.0h5.3v8.3h-5.3zM89.0 214.0h6.9v10.8h-6.9zM139.0 214.0h5.4v9.0h-5.4zM189.0 214.0h7.1v10.1h-7.1zM49.0 222.0h7.3v9.5h-7.3zM104.0 222.0h7.4v8.5h-7.4zM179.0 230.0h5.9v10.9h-5.9zM139.0 238.0h5.0v10.1h-5.0zM74.0 246.0h5.3v10.3h-5.3zM69.0 254.0h5.0v10.9h-5.0z" fill="#38d43a"/>
<path d="M99.0 22.0h5.9v8.4h-5.9zM89.0 38.0h5.8v10.3h-5.8zM99.0 38.0h6.1v9.9h-6.1zM89.0 54.0h5.8v8.2h-5.8zM39.0 62.0h6.7v10.9h-6.7zM39.0 70.0h6.0v9.4h-6.0zM49.0 70.0h7.0v8.8h-7.0zM94.0 70.0h6.8v10.0h-6.8zM134.0 70.0h7.4v9.9h-7.4zM54.0 78.0h5.8v10.3h-5.8zM119.0 78.0h5.4v8.6h-5.4zM124.0 78.0h5.3v10.2h-5.3zM184.0 86.0h5.6v8.1h-5.6zM199.0 86.0h6.8v8.9h-6.8zM204.0 86.0h6.0v9.8h-6.0zM219.0 86.0h7.0v9.5h-7.0zM249.0 86.0h5.6v9.0h-5.6zM259.0 86.0h6.3v9.2h-6.3zM54.0 94.0h7.2v10.8h-7.2zM169.0 94.0h6.6v9.4h-6.6zM174.0 94.0h7.4v9.7h-7.4zM204.0 94.0h5.2v8.2h-5.2zM219.0 94.0h5.1v10.1h-5.1zM234.0 94.0h6.2v9.1h-6.2zM239.0 94.0h6.2v10.4h-6.2zM119.0 102.0h6.8v8.5h-6.8zM139.0 102.0h7.0v10.8h-7.0zM154.0 102.0h7.3v10.6h-7.3zM159.0 102.0h5.4v8.1h-5.4zM179.0 102.0h6.6v9.1h-6.6zM274.0 102.0h5.2v9.1h-5.2zM99.0 110.0h6.9v9.5h-6.9zM164.0 110.0h5.7v8.4h-5.7zM189.0 110.0h6.2v10.8h-6.2zM194.0 110.0h6.2v8.8h-6.2zM249.0 110.0h5.8v8.3h-5.8zM124.0 118.0h7.3v8.2h-7.3zM129.0 118.0h5.9v8.3h-5.9zM159.0 118.0h7.0v9.2h-7.0zM179.0 118.0h7.0v10.1h-7.0zM189.0 118.0h6.8v8.3h-6.8zM199.0 118.0h6.4v10.0h-6.4zM209.0 118.0h6.0v8.7h-6.0zM269.0 118.0h6.3v8.7h-6.3zM64.0 126.0h7.0v9.5h-7.0zM104.0 126.0h5.3v10.3h-5.3zM149.0 126.0h7.0v8.7h-7.0zM219.0 126.0h5.3v8.4h-5.3zM264.0 126.0h6.1v10.6h-6.1zM84.0 134.0h6.6v10.7h-6.6zM94.0 134.0h6.5v10.3h-6.5zM124.0 134.0h7.0v10.3h-7.0zM139.0 134.0h6.3v9.6h-6.3zM164.0 134.0h7.1v8.1h-7.1zM169.0 134.0h6.0v8.1h-6.0zM204.0 134.0h5.1v9.6h-5.1zM79.0 142.0h7.2v8.8h-7.2zM99.0 142.0h7.5v8.6h-7.5zM154.0 142.0h5.6v10.8h-5.6zM159.0 142.0h5.3v8.1h-5.3zM209.0 142.0h5.2v9.5h-5.2zM214.0 142.0h5.5v10.2h-5.5zM264.0 142.0h6.3v10.3h-6.3zM269.0 142.0h7.3v9.9h-7.3zM74.0 150.0h5.4v10.4h-5.4zM104.0 150.0h6.8v10.7h-6.8zM114.0 150.0h5.8v8.7h-5.8zM209.0 150.0h5.3v8.4h-5.3zM244.0 150.0h6.0v10.5h-6.0zM64.0 158.0h5.1v10.3h-5.1zM69.0 158.0h5.6v8.7h-5.6zM74.0 158.0h7.2v10.9h-7.2zM134.0 158.0h5.6v9.2h-5.6zM144.0 158.0h6.4v8.8h-6.4zM209.0 158.0h6.8v8.6h-6.8zM259.0 158.0h6.1v9.0h-6.1zM79.0 166.0h5.1v9.9h-5.1zM104.0 166.0h6.2v8.8h-6.2zM124.0 166.0h5.9v10.0h-5.9zM179.0 166.0h5.9v9.2h-5.9zM204.0 166.0h5.8v10.5h-5.8zM229.0 166.0h6.7v9.2h-6.7zM254.0 166.0h5.6v9.4h-5.6zM294.0 166.0h5.1v10.6h-5.1zM79.0 174.0h6.0v10.3h-6.0zM184.0 174.0h6.9v9.3h-6.9zM204.0 174.0h5.1v9.5h-5.1zM249.0 174.0h6.8v9.9h-6.8zM274.0 174.0h6.9v10.0h-6.9zM109.0 182.0h5.1v10.3h-5.1zM179.0 182.0h6.3v8.4h-6.3zM204.0 182.0h5.2v9.4h-5.2zM214.0 182.0h6.1v8.0h-6.1zM219.0 182.0h7.0v9.6h-7.0zM274.0 182.0h6.4v8.7h-6.4zM284.0 182.0h6.9v8.1h-6.9zM84.0 190.0h6.8v9.4h-6.8zM94.0 190.0h6.5v10.4h-6.5zM184.0 190.0h7.2v8.7h-7.2zM194.0 190.0h6.3v8.9h-6.3zM219.0 190.0h5.7v10.8h-5.7zM224.0 190.0h5.5v10.4h-5.5zM279.0 190.0h6.8v9.8h-6.8zM289.0 190.0h5.4v9.0h-5.4zM34.0 198.0h7.4v9.7h-7.4zM49.0 198.0h7.1v9.4h-7.1zM54.0 198.0h6.0v8.5h-6.0zM114.0 198.0h7.3v10.9h-7.3zM124.0 198.0h6.5v8.4h-6.5zM234.0 198.0h5.2v10.6h-5.2zM39.0 206.0h6.3v10.0h-6.3zM69.0 206.0h6.0v10.3h-6.0zM74.0 206.0h6.5v10.0h-6.5zM89.0 206.0h7.2v8.2h-7.2zM109.0 206.0h5.6v10.3h-5.6zM124.0 206.0h6.2v8.6h-6.2zM149.0 206.0h5.9v10.7h-5.9zM209.0 206.0h5.2v9.0h-5.2zM234.0 206.0h7.5v9.4h-7.5zM239.0 206.0h6.4v10.8h-6.4zM264.0 206.0h6.3v9.6h-6.3zM284.0 206.0h5.2v8.9h-5.2zM94.0 214.0h5.9v9.5h-5.9zM119.0 214.0h6.7v8.6h-6.7zM134.0 214.0h7.3v9.4h-7.3zM144.0 214.0h5.4v9.5h-5.4zM159.0 214.0h7.1v8.3h-7.1zM169.0 214.0h6.4v8.2h-6.4zM184.0 214.0h6.3v10.3h-6.3zM194.0 214.0h6.7v8.0h-6.7zM224.0 214.0h7.5v8.7h-7.5zM234.0 214.0h6.6v8.7h-6.6zM279.0 214.0h7.4v8.5h-7.4zM64.0 222.0h5.9v8.2h-5.9zM79.0 222.0h5.5v10.6h-5.5zM149.0 222.0h6.6v9.4h-6.6zM179.0 222.0h6.0v8.8h-6.0zM184.0 222.0h5.0v10.8h-5.0zM244.0 222.0h5.4v9.8h-5.4zM169.0 230.0h6.9v9.2h-6.9zM189.0 230.0h7.2v9.4h-7.2zM129.0 238.0h7.2v8.6h-7.2zM179.0 238.0h5.7v8.7h-5.7zM64.0 246.0h7.4v8.9h-7.4zM69.0 246.0h5.8v10.1h-5.8zM89.0 246.0h6.7v9.7h-6.7zM179.0 246.0h6.9v10.7h-6.9zM144.0 254.0h5.3v8.9h-5.3z" fill="#f2e41a"/>
<path d="M89.0 30.0h7.2v9.8h-7.2zM104.0 38.0h6.7v10.6h-6.7zM74.0 46.0h7.3v9.1h-7.3zM94.0 46.0h6.4v8.6h-6.4zM99.0 46.0h6.2v9.4h-6.2zM114.0 46.0h6.1v10.8h-6.1zM49.0 54.0h7.0v9.0h-7.0zM74.0 54.0h5.5v8.6h-5.5zM94.0 54.0h6.0v9.0h-6.0zM124.0 54.0h5.0v9.8h-5.0zM64.0 62.0h7.3v10.2h-7.3zM79.0 62.0h7.1v8.7h-7.1zM99.0 62.0h5.0v10.9h-5.0zM109.0 62.0h6.7v9.0h-6.7zM44.0 70.0h7.3v9.4h-7.3zM74.0 70.0h7.0v9.6h-7.0zM99.0 70.0h6.7v9.9h-6.7zM109.0 70.0h5.6v10.1h-5.6zM224.0 70.0h7.3v8.3h-7.3zM99.0 78.0h5.5v10.1h-5.5zM224.0 78.0h6.0v10.7h-6.0zM229.0 78.0h5.1v8.7h-5.1zM59.0 86.0h7.1v10.2h-7.1zM209.0 86.0h7.4v8.8h-7.4zM244.0 86.0h5.5v8.2h-5.5zM74.0 94.0h6.6v8.1h-6.6zM164.0 94.0h5.9v10.0h-5.9zM179.0 94.0h5.1v8.1h-5.1zM184.0 94.0h5.2v8.9h-5.2zM189.0 94.0h5.5v10.7h-5.5zM214.0 94.0h5.1v8.0h-5.1zM224.0 94.0h6.1v9.1h-6.1zM229.0 94.0h6.6v8.3h-6.6zM84.0 102.0h6.5v8.9h-6.5zM89.0 102.0h7.1v10.6h-7.1zM144.0 102.0h6.9v9.6h-6.9zM164.0 102.0h5.0v10.1h-5.0zM189.0 102.0h5.6v9.3h-5.6zM194.0 102.0h5.6v10.0h-5.6zM199.0 102.0h5.7v10.8h-5.7zM239.0 102.0h6.1v9.7h-6.1zM249.0 102.0h7.1v8.9h-7.1zM119.0 110.0h6.3v10.5h-6.3zM139.0 110.0h6.2v9.0h-6.2zM204.0 110.0h6.4v10.9h-6.4zM214.0 110.0h5.3v10.3h-5.3zM269.0 110.0h6.3v10.1h-6.3zM154.0 118.0h6.9v9.9h-6.9zM194.0 118.0h6.0v8.5h-6.0zM214.0 118.0h6.2v10.8h-6.2zM234.0 118.0h7.5v10.0h-7.5zM99.0 126.0h5.8v10.9h-5.8zM119.0 126.0h5.1v8.2h-5.1zM169.0 126.0h5.1v10.7h-5.1zM184.0 126.0h5.2v9.9h-5.2zM189.0 126.0h5.9v9.1h-5.9zM199.0 126.0h7.4v9.1h-7.4zM209.0 126.0h6.8v10.4h-6.8zM214.0 126.0h6.8v9.5h-6.8zM254.0 126.0h7.4v8.0h-7.4zM69.0 134.0h6.4v9.7h-6.4zM114.0 134.0h6.5v10.4h-6.5zM184.0 134.0h7.3v9.4h-7.3zM194.0 134.0h6.4v10.3h-6.4zM224.0 134.0h5.6v9.6h-5.6zM229.0 134.0h6.2v8.3h-6.2zM244.0 134.0h7.5v8.6h-7.5zM249.0 134.0h6.9v8.3h-6.9zM264.0 134.0h7.3v11.0h-7.3zM104.0 142.0h6.6v8.9h-6.6zM124.0 142.0h5.7v8.5h-5.7zM184.0 142.0h6.1v8.9h-6.1zM219.0 142.0h6.7v9.7h-6.7zM279.0 142.0h6.7v10.5h-6.7zM164.0 150.0h7.0v9.9h-7.0zM204.0 150.0h5.3v8.7h-5.3zM214.0 150.0h6.5v10.2h-6.5zM219.0 150.0h5.9v10.8h-5.9zM224.0 150.0h5.7v10.3h-5.7zM249.0 150.0h5.4v8.1h-5.4zM104.0 158.0h6.6v8.9h-6.6zM119.0 158.0h6.2v8.9h-6.2zM124.0 158.0h6.1v10.4h-6.1zM164.0 158.0h5.4v10.6h-5.4zM179.0 158.0h6.6v9.5h-6.6zM199.0 158.0h7.1v9.9h-7.1zM274.0 158.0h7.1v8.9h-7.1zM289.0 158.0h7.1v10.4h-7.1zM139.0 166.0h5.8v8.6h-5.8zM149.0 166.0h6.7v8.8h-6.7zM154.0 166.0h7.4v8.3h-7.4zM184.0 166.0h7.0v10.3h-7.0zM199.0 166.0h6.3v8.4h-6.3zM249.0 166.0h6.8v9.9h-6.8zM259.0 166.0h5.1v10.1h-5.1zM269.0 166.0h6.6v9.3h-6.6zM274.0 166.0h6.8v8.0h-6.8zM284.0 166.0h7.5v10.2h-7.5zM289.0 166.0h6.3v9.4h-6.3zM149.0 174.0h5.8v9.6h-5.8zM179.0 174.0h6.0v9.8h-6.0zM194.0 174.0h6.6v9.4h-6.6zM199.0 174.0h5.1v9.1h-5.1zM99.0 182.0h5.2v10.2h-5.2zM144.0 182.0h7.2v10.0h-7.2zM264.0 182.0h6.5v8.6h-6.5zM59.0 190.0h6.1v9.0h-6.1zM109.0 190.0h5.4v8.7h-5.4zM164.0 190.0h6.9v9.8h-6.9zM209.0 190.0h6.9v10.2h-6.9zM234.0 190.0h5.4v10.0h-5.4zM239.0 190.0h5.1v9.8h-5.1zM39.0 198.0h6.3v8.3h-6.3zM84.0 198.0h7.1v8.3h-7.1zM139.0 198.0h6.3v8.2h-6.3zM149.0 198.0h7.5v10.9h-7.5zM164.0 198.0h6.2v8.2h-6.2zM174.0 198.0h5.6v10.8h-5.6zM184.0 198.0h5.4v9.1h-5.4zM219.0 198.0h7.3v8.1h-7.3zM249.0 198.0h7.4v9.2h-7.4zM259.0 198.0h5.8v10.6h-5.8zM269.0 198.0h6.7v8.4h-6.7zM44.0 206.0h5.9v11.0h-5.9zM64.0 206.0h6.7v9.1h-6.7zM94.0 206.0h6.0v10.9h-6.0zM119.0 206.0h6.1v9.8h-6.1zM179.0 206.0h5.7v8.1h-5.7zM189.0 206.0h5.8v9.8h-5.8zM214.0 206.0h7.1v8.6h-7.1zM224.0 206.0h5.6v9.7h-5.6zM259.0 206.0h7.4v9.4h-7.4zM289.0 206.0h6.1v10.5h-6.1zM39.0 214.0h6.1v9.5h-6.1zM54.0 214.0h6.9v8.2h-6.9zM69.0 214.0h6.0v9.7h-6.0zM154.0 214.0h6.8v10.3h-6.8zM239.0 214.0h6.8v10.6h-6.8zM124.0 222.0h7.2v10.3h-7.2zM154.0 222.0h6.4v9.7h-6.4zM214.0 222.0h6.5v9.5h-6.5zM234.0 222.0h7.1v9.8h-7.1zM49.0 230.0h5.3v10.5h-5.3zM64.0 230.0h7.5v10.9h-7.5zM74.0 230.0h6.5v9.9h-6.5zM94.0 230.0h5.8v10.0h-5.8zM139.0 230.0h6.5v9.2h-6.5zM59.0 238.0h6.8v9.4h-6.8zM69.0 238.0h6.4v10.9h-6.4zM79.0 238.0h7.2v9.8h-7.2zM194.0 238.0h6.4v10.9h-6.4zM199.0 238.0h7.4v8.3h-7.4zM59.0 246.0h5.3v8.4h-5.3zM94.0 246.0h6.0v9.6h-6.0zM149.0 246.0h5.6v9.6h-5.6zM189.0 246.0h7.4v8.3h-7.4z" fill="#eeea10"/>
<path d="M94.0 30.0h6.7v8.9h-6.7zM99.0 30.0h7.4v8.8h-7.4zM94.0 38.0h6.5v8.5h-6.5zM89.0 46.0h7.5v10.1h-7.5zM79.0 54.0h5.1v8.4h-5.1zM54.0 62.0h6.4v10.9h-6.4zM59.0 62.0h5.2v8.8h-5.2zM114.0 62.0h7.2v9.0h-7.2zM114.0 70.0h6.8v9.7h-6.8zM39.0 78.0h5.0v10.8h-5.0zM49.0 78.0h6.6v9.2h-6.6zM74.0 78.0h6.3v9.2h-6.3zM84.0 78.0h7.1v8.6h-7.1zM109.0 78.0h7.0v10.1h-7.0zM39.0 86.0h6.4v8.6h-6.4zM69.0 86.0h5.1v8.4h-5.1zM84.0 86.0h5.6v10.9h-5.6zM89.0 86.0h7.2v9.9h-7.2zM119.0 86.0h5.4v8.1h-5.4zM129.0 86.0h6.1v8.0h-6.1zM149.0 86.0h5.6v9.7h-5.6zM169.0 86.0h6.9v8.8h-6.9zM129.0 94.0h5.3v9.7h-5.3zM244.0 94.0h5.7v10.8h-5.7zM259.0 94.0h6.6v8.9h-6.6zM99.0 102.0h5.3v8.9h-5.3zM134.0 102.0h5.4v10.5h-5.4zM149.0 102.0h6.9v10.0h-6.9zM264.0 102.0h5.3v9.9h-5.3zM109.0 110.0h7.5v9.3h-7.5zM129.0 110.0h6.0v8.5h-6.0zM149.0 110.0h6.7v10.7h-6.7zM154.0 110.0h7.0v9.8h-7.0zM284.0 110.0h5.1v9.6h-5.1zM139.0 118.0h5.7v8.8h-5.7zM284.0 118.0h7.0v9.5h-7.0zM299.0 118.0h5.5v10.8h-5.5zM69.0 126.0h5.8v9.9h-5.8zM74.0 126.0h6.2v8.9h-6.2zM129.0 126.0h5.9v8.1h-5.9zM139.0 126.0h6.7v9.6h-6.7zM249.0 126.0h5.4v10.4h-5.4zM289.0 126.0h6.8v9.2h-6.8zM59.0 134.0h7.1v10.4h-7.1zM259.0 134.0h7.0v9.4h-7.0zM289.0 134.0h7.1v10.4h-7.1zM294.0 134.0h5.1v9.0h-5.1zM129.0 142.0h5.6v8.1h-5.6zM164.0 142.0h5.6v9.2h-5.6zM234.0 142.0h5.4v9.5h-5.4zM244.0 142.0h7.0v8.4h-7.0zM124.0 150.0h6.6v10.7h-6.6zM149.0 150.0h7.4v10.8h-7.4zM169.0 150.0h6.7v9.5h-6.7zM174.0 150.0h6.7v8.5h-6.7zM264.0 150.0h5.7v9.1h-5.7zM269.0 150.0h5.7v10.9h-5.7zM299.0 150.0h6.5v9.9h-6.5zM99.0 158.0h7.3v10.1h-7.3zM149.0 158.0h6.5v9.9h-6.5zM119.0 166.0h6.6v9.7h-6.6zM74.0 174.0h5.7v10.0h-5.7zM164.0 174.0h5.5v9.8h-5.5zM174.0 174.0h5.3v10.3h-5.3zM79.0 182.0h6.0v9.3h-6.0zM169.0 182.0h6.3v8.8h-6.3zM279.0 182.0h6.1v10.4h-6.1zM74.0 190.0h6.2v10.3h-6.2zM124.0 190.0h6.7v10.1h-6.7zM259.0 190.0h7.5v9.0h-7.5zM79.0 198.0h5.9v10.0h-5.9zM159.0 206.0h7.4v8.2h-7.4zM44.0 214.0h6.9v9.9h-6.9zM79.0 214.0h5.9v8.1h-5.9zM274.0 214.0h6.3v9.1h-6.3zM69.0 222.0h5.1v10.5h-5.1zM169.0 222.0h6.7v9.8h-6.7zM224.0 222.0h5.2v10.8h-5.2zM274.0 222.0h5.4v8.8h-5.4zM54.0 230.0h6.4v9.1h-6.4zM119.0 230.0h6.0v9.5h-6.0zM74.0 238.0h6.2v10.5h-6.2zM124.0 238.0h7.4v9.8h-7.4zM184.0 238.0h7.3v10.2h-7.3zM79.0 246.0h6.9v10.7h-6.9z" fill="#30d830"/>
<path d="M84.0 38.0h7.0v8.3h-7.0zM44.0 46.0h7.1v8.1h-7.1zM69.0 46.0h7.3v10.4h-7.3zM84.0 46.0h6.2v10.7h-6.2zM84.0 54.0h6.6v9.5h-6.6zM109.0 54.0h5.5v10.5h-5.5zM114.0 54.0h7.0v10.3h-7.0zM44.0 62.0h6.8v8.6h-6.8zM74.0 62.0h6.0v9.8h-6.0zM104.0 70.0h5.9v9.0h-5.9zM59.0 78.0h5.9v9.2h-5.9zM104.0 78.0h7.2v10.9h-7.2zM34.0 86.0h7.0v9.4h-7.0zM49.0 86.0h7.3v10.6h-7.3zM229.0 86.0h6.7v8.7h-6.7zM239.0 86.0h7.4v8.3h-7.4zM44.0 94.0h6.1v10.8h-6.1zM49.0 94.0h5.7v8.8h-5.7zM134.0 94.0h6.0v9.7h-6.0zM149.0 94.0h5.4v8.3h-5.4zM129.0 102.0h5.8v9.8h-5.8zM184.0 102.0h5.0v9.6h-5.0zM209.0 102.0h5.1v8.4h-5.1zM229.0 102.0h6.6v9.1h-6.6zM144.0 110.0h5.9v10.0h-5.9zM174.0 110.0h6.5v8.7h-6.5zM179.0 110.0h5.8v8.0h-5.8zM224.0 110.0h7.2v9.0h-7.2zM234.0 110.0h5.3v8.3h-5.3zM264.0 110.0h6.1v10.9h-6.1zM94.0 118.0h6.3v10.9h-6.3zM104.0 118.0h5.9v9.0h-5.9zM114.0 118.0h6.8v8.8h-6.8zM144.0 118.0h6.0v8.8h-6.0zM184.0 118.0h5.9v10.3h-5.9zM204.0 118.0h5.1v10.4h-5.1zM279.0 118.0h6.8v9.1h-6.8zM159.0 126.0h5.6v8.8h-5.6zM224.0 126.0h6.6v10.4h-6.6zM229.0 126.0h6.9v9.0h-6.9zM234.0 126.0h7.1v9.9h-7.1zM79.0 134.0h7.3v9.2h-7.3zM254.0 134.0h5.1v9.6h-5.1zM109.0 142.0h5.1v8.9h-5.1zM134.0 142.0h5.6v10.0h-5.6zM144.0 142.0h7.4v8.8h-7.4zM229.0 142.0h5.7v8.8h-5.7zM289.0 142.0h7.1v9.2h-7.1zM139.0 150.0h7.2v10.6h-7.2zM184.0 150.0h7.2v10.8h-7.2zM274.0 150.0h5.9v10.5h-5.9zM294.0 150.0h6.2v10.6h-6.2zM109.0 158.0h7.3v9.4h-7.3zM159.0 158.0h7.1v8.4h-7.1zM204.0 158.0h6.0v9.3h-6.0zM239.0 158.0h5.2v9.2h-5.2zM254.0 158.0h5.6v9.9h-5.6zM284.0 158.0h6.7v9.7h-6.7zM129.0 166.0h7.0v10.8h-7.0zM134.0 166.0h5.0v10.8h-5.0zM99.0 174.0h5.9v9.4h-5.9zM209.0 174.0h6.0v9.9h-6.0zM229.0 174.0h7.0v9.8h-7.0zM234.0 174.0h5.9v8.4h-5.9zM244.0 174.0h7.4v8.6h-7.4zM284.0 174.0h6.8v10.5h-6.8zM199.0 182.0h5.4v10.3h-5.4zM239.0 182.0h5.5v11.0h-5.5zM244.0 182.0h6.1v9.6h-6.1zM269.0 182.0h6.3v10.3h-6.3zM119.0 190.0h5.3v8.3h-5.3zM199.0 190.0h6.8v8.9h-6.8zM229.0 190.0h6.2v8.1h-6.2zM274.0 190.0h6.1v9.3h-6.1zM284.0 190.0h6.8v9.3h-6.8zM99.0 198.0h6.8v9.6h-6.8zM119.0 198.0h7.1v8.7h-7.1zM169.0 198.0h6.5v10.8h-6.5zM194.0 198.0h5.0v10.8h-5.0zM199.0 198.0h6.7v8.5h-6.7zM254.0 198.0h6.3v8.8h-6.3zM29.0 206.0h5.8v8.5h-5.8zM34.0 206.0h5.3v9.0h-5.3zM99.0 206.0h6.1v9.9h-6.1zM194.0 206.0h6.5v9.4h-6.5zM174.0 214.0h5.1v9.1h-5.1zM214.0 214.0h7.4v10.8h-7.4zM54.0 222.0h6.4v10.2h-6.4zM89.0 222.0h5.1v8.6h-5.1zM209.0 222.0h5.5v10.7h-5.5zM89.0 230.0h7.3v9.3h-7.3zM184.0 230.0h6.3v9.6h-6.3zM64.0 238.0h5.4v9.1h-5.4zM54.0 246.0h5.5v10.8h-5.5zM184.0 246.0h6.6v10.0h-6.6zM59.0 254.0h6.3v9.1h-6.3z" fill="#a8e018"/>
<path d="M114.0 38.0h7.0v9.0h-7.0zM64.0 46.0h6.5v8.8h-6.5zM104.0 54.0h5.4v8.6h-5.4zM84.0 62.0h5.8v8.4h-5.8zM84.0 70.0h5.2v10.5h-5.2zM89.0 70.0h7.3v9.6h-7.3zM124.0 70.0h5.7v8.9h-5.7zM44.0 78.0h5.7v10.6h-5.7zM89.0 78.0h5.6v9.0h-5.6zM94.0 78.0h5.6v8.4h-5.6zM249.0 78.0h5.4v8.5h-5.4zM74.0 86.0h7.3v9.8h-7.3zM94.0 86.0h7.3v9.5h-7.3zM99.0 86.0h6.5v9.6h-6.5zM124.0 86.0h7.2v8.7h-7.2zM164.0 86.0h6.2v9.7h-6.2zM64.0 94.0h5.0v9.1h-5.0zM69.0 94.0h6.7v10.1h-6.7zM84.0 94.0h6.6v9.7h-6.6zM89.0 94.0h6.5v10.0h-6.5zM154.0 94.0h5.8v8.0h-5.8zM254.0 94.0h6.7v8.1h-6.7zM114.0 102.0h5.5v8.4h-5.5zM169.0 102.0h6.5v10.3h-6.5zM224.0 102.0h6.9v8.1h-6.9zM94.0 110.0h7.1v8.4h-7.1zM104.0 110.0h5.5v10.3h-5.5zM254.0 110.0h6.4v10.2h-6.4zM279.0 110.0h7.2v10.7h-7.2zM154.0 126.0h5.0v10.4h-5.0zM179.0 126.0h7.3v8.7h-7.3zM279.0 126.0h7.2v8.3h-7.2zM294.0 126.0h6.4v8.1h-6.4zM99.0 134.0h5.9v10.3h-5.9zM214.0 134.0h6.4v10.4h-6.4zM59.0 142.0h6.0v11.0h-6.0zM74.0 142.0h6.4v8.7h-6.4zM84.0 142.0h5.6v9.2h-5.6zM119.0 142.0h5.3v9.2h-5.3zM174.0 142.0h5.5v9.6h-5.5zM59.0 150.0h5.4v9.9h-5.4zM89.0 150.0h6.3v10.5h-6.3zM94.0 150.0h6.7v10.5h-6.7zM109.0 150.0h5.5v8.6h-5.5zM154.0 150.0h5.0v9.9h-5.0zM84.0 158.0h6.4v9.2h-6.4zM129.0 158.0h7.4v8.9h-7.4zM154.0 158.0h6.4v10.8h-6.4zM214.0 158.0h6.5v9.7h-6.5zM279.0 158.0h5.5v9.2h-5.5zM294.0 158.0h6.0v10.9h-6.0zM69.0 166.0h5.2v10.2h-5.2zM84.0 166.0h6.5v9.9h-6.5zM94.0 166.0h7.4v10.6h-7.4zM214.0 166.0h6.3v8.5h-6.3zM219.0 166.0h5.7v10.5h-5.7zM244.0 166.0h5.3v9.1h-5.3zM109.0 174.0h5.9v8.1h-5.9zM114.0 174.0h5.1v10.5h-5.1zM159.0 174.0h7.3v9.9h-7.3zM169.0 174.0h7.4v8.2h-7.4zM254.0 174.0h6.0v9.5h-6.0zM279.0 174.0h5.8v10.4h-5.8zM74.0 182.0h6.0v8.6h-6.0zM249.0 182.0h6.9v9.7h-6.9zM259.0 182.0h6.3v8.0h-6.3zM89.0 190.0h6.6v9.7h-6.6zM99.0 190.0h7.2v9.9h-7.2zM114.0 190.0h6.2v9.1h-6.2zM144.0 190.0h6.8v9.4h-6.8zM154.0 190.0h5.1v8.5h-5.1zM174.0 190.0h7.5v9.4h-7.5zM254.0 190.0h6.8v10.3h-6.8zM269.0 190.0h5.6v9.6h-5.6zM89.0 198.0h6.8v10.8h-6.8zM159.0 198.0h6.5v10.3h-6.5zM224.0 198.0h6.7v8.1h-6.7zM59.0 206.0h5.4v10.7h-5.4zM244.0 214.0h6.2v11.0h-6.2zM264.0 214.0h5.9v8.8h-5.9zM94.0 222.0h6.2v10.8h-6.2zM114.0 222.0h6.7v8.7h-6.7zM189.0 222.0h5.6v8.3h-5.6zM239.0 222.0h5.5v9.9h-5.5zM59.0 230.0h5.5v10.7h-5.5zM79.0 230.0h7.4v9.7h-7.4zM44.0 238.0h6.2v10.0h-6.2zM154.0 238.0h6.4v9.9h-6.4zM84.0 246.0h6.9v10.2h-6.9zM64.0 254.0h7.0v10.0h-7.0zM74.0 254.0h5.1v9.4h-5.1z" fill="#22cc28"/>
<path d="M39.0 46.0h6.9v10.0h-6.9zM99.0 54.0h5.3v9.1h-5.3zM104.0 62.0h5.0v9.1h-5.0zM79.0 70.0h5.8v8.1h-5.8zM69.0 78.0h5.7v9.2h-5.7zM129.0 78.0h7.3v9.1h-7.3zM174.0 78.0h5.9v8.4h-5.9zM179.0 78.0h5.6v10.6h-5.6zM104.0 86.0h7.5v8.6h-7.5zM234.0 102.0h6.6v9.5h-6.6zM89.0 110.0h7.0v10.0h-7.0zM169.0 110.0h5.2v10.1h-5.2zM219.0 110.0h5.0v8.7h-5.0zM164.0 118.0h5.5v10.4h-5.5zM219.0 118.0h5.7v10.3h-5.7zM239.0 118.0h7.5v8.5h-7.5zM254.0 118.0h6.3v9.7h-6.3zM109.0 126.0h7.0v10.6h-7.0zM129.0 134.0h5.9v8.7h-5.9zM149.0 134.0h5.2v10.9h-5.2zM159.0 134.0h6.6v11.0h-6.6zM174.0 134.0h7.1v9.6h-7.1zM219.0 134.0h6.8v10.7h-6.8zM239.0 134.0h5.3v9.1h-5.3zM274.0 134.0h6.8v9.9h-6.8zM194.0 142.0h5.0v10.5h-5.0zM249.0 142.0h6.8v8.4h-6.8zM259.0 142.0h5.2v9.2h-5.2zM79.0 150.0h5.5v8.9h-5.5zM84.0 150.0h5.2v10.2h-5.2zM99.0 150.0h7.1v10.4h-7.1zM144.0 150.0h5.6v8.9h-5.6zM239.0 150.0h6.8v8.6h-6.8zM139.0 158.0h5.7v8.2h-5.7zM169.0 158.0h5.4v8.7h-5.4zM229.0 158.0h5.6v8.1h-5.6zM244.0 158.0h7.5v9.2h-7.5zM249.0 158.0h7.1v9.7h-7.1zM269.0 158.0h5.6v8.6h-5.6zM109.0 166.0h6.8v10.6h-6.8zM189.0 174.0h7.0v9.9h-7.0zM259.0 174.0h6.9v10.9h-6.9zM94.0 182.0h5.2v9.0h-5.2zM104.0 182.0h5.5v9.4h-5.5zM229.0 182.0h5.3v9.8h-5.3zM54.0 190.0h5.9v9.7h-5.9zM129.0 190.0h5.5v8.2h-5.5zM169.0 190.0h7.3v10.8h-7.3zM179.0 190.0h5.8v8.6h-5.8zM249.0 190.0h6.5v8.0h-6.5zM134.0 198.0h6.2v10.8h-6.2zM189.0 198.0h5.7v10.6h-5.7zM209.0 198.0h5.7v8.3h-5.7zM229.0 198.0h5.8v9.9h-5.8zM154.0 206.0h6.8v9.2h-6.8zM269.0 206.0h6.4v8.6h-6.4zM99.0 214.0h5.1v9.5h-5.1zM104.0 214.0h5.5v8.2h-5.5zM129.0 214.0h5.9v9.5h-5.9zM149.0 214.0h6.4v8.0h-6.4zM164.0 214.0h5.3v9.3h-5.3zM199.0 214.0h6.7v8.8h-6.7zM109.0 222.0h6.6v10.2h-6.6zM139.0 222.0h6.4v8.2h-6.4zM194.0 222.0h6.7v8.0h-6.7zM199.0 222.0h5.0v9.2h-5.0zM229.0 222.0h5.5v9.3h-5.5zM249.0 222.0h7.1v10.8h-7.1zM99.0 230.0h7.5v10.0h-7.5zM134.0 230.0h5.4v9.7h-5.4zM154.0 230.0h5.3v8.3h-5.3zM174.0 230.0h6.5v10.9h-6.5zM84.0 238.0h6.1v11.0h-6.1zM94.0 238.0h5.6v10.6h-5.6zM144.0 238.0h7.1v9.1h-7.1zM144.0 246.0h5.2v8.1h-5.2z" fill="#bce01a"/>
<path d="M79.0 46.0h5.9v9.7h-5.9zM44.0 54.0h5.3v8.0h-5.3zM89.0 62.0h6.2v10.8h-6.2zM34.0 70.0h6.8v8.9h-6.8zM69.0 70.0h5.9v8.1h-5.9zM119.0 70.0h5.7v8.8h-5.7zM64.0 78.0h5.9v8.7h-5.9zM79.0 78.0h6.4v10.4h-6.4zM134.0 78.0h6.0v9.7h-6.0zM139.0 78.0h6.0v8.9h-6.0zM219.0 78.0h6.2v8.2h-6.2zM234.0 78.0h5.6v10.0h-5.6zM64.0 86.0h6.7v10.8h-6.7zM114.0 86.0h6.0v9.6h-6.0zM159.0 86.0h7.1v10.3h-7.1zM214.0 86.0h6.2v10.4h-6.2zM79.0 94.0h5.1v8.6h-5.1zM94.0 94.0h7.0v10.1h-7.0zM114.0 94.0h7.0v10.0h-7.0zM124.0 94.0h6.6v10.5h-6.6zM139.0 94.0h5.3v8.0h-5.3zM159.0 94.0h6.1v9.2h-6.1zM199.0 94.0h6.3v10.6h-6.3zM209.0 94.0h6.5v9.9h-6.5zM249.0 94.0h6.5v8.9h-6.5zM79.0 102.0h5.1v9.8h-5.1zM124.0 102.0h5.7v8.0h-5.7zM204.0 102.0h7.4v9.8h-7.4zM214.0 102.0h5.7v10.2h-5.7zM254.0 102.0h7.1v10.6h-7.1zM259.0 102.0h6.6v9.1h-6.6zM184.0 110.0h6.3v10.3h-6.3zM209.0 110.0h5.7v10.6h-5.7zM84.0 118.0h5.3v8.3h-5.3zM89.0 118.0h5.1v10.7h-5.1zM134.0 118.0h5.5v10.0h-5.5zM149.0 118.0h6.2v9.8h-6.2zM174.0 118.0h7.5v9.2h-7.5zM229.0 118.0h6.7v8.4h-6.7zM289.0 118.0h5.4v8.5h-5.4zM89.0 126.0h6.5v10.6h-6.5zM114.0 126.0h7.5v8.5h-7.5zM124.0 126.0h7.1v10.1h-7.1zM194.0 126.0h7.5v9.2h-7.5zM204.0 126.0h7.2v9.6h-7.2zM244.0 126.0h7.0v9.2h-7.0zM259.0 126.0h5.7v8.3h-5.7zM64.0 134.0h6.7v8.8h-6.7zM89.0 134.0h6.1v10.6h-6.1zM134.0 134.0h5.6v9.0h-5.6zM154.0 134.0h5.2v10.8h-5.2zM189.0 134.0h5.9v9.7h-5.9zM199.0 134.0h6.3v10.8h-6.3zM209.0 134.0h5.5v10.1h-5.5zM234.0 134.0h7.1v9.3h-7.1zM69.0 142.0h5.7v9.5h-5.7zM169.0 142.0h5.6v10.4h-5.6zM179.0 142.0h7.0v8.2h-7.0zM199.0 142.0h6.6v9.0h-6.6zM204.0 142.0h6.1v10.2h-6.1zM239.0 142.0h5.1v8.2h-5.1zM254.0 142.0h5.2v8.9h-5.2zM294.0 142.0h6.7v9.4h-6.7zM64.0 150.0h5.4v8.6h-5.4zM69.0 150.0h7.5v9.9h-7.5zM119.0 150.0h6.2v10.4h-6.2zM129.0 150.0h6.3v9.9h-6.3zM159.0 150.0h6.3v9.7h-6.3zM189.0 150.0h7.2v10.6h-7.2zM194.0 150.0h6.2v10.0h-6.2zM199.0 150.0h5.6v8.6h-5.6zM229.0 150.0h6.8v10.4h-6.8zM234.0 150.0h5.2v9.2h-5.2zM259.0 150.0h7.1v10.9h-7.1zM279.0 150.0h6.4v8.8h-6.4zM114.0 158.0h6.9v9.0h-6.9zM184.0 158.0h6.7v8.1h-6.7zM194.0 158.0h7.4v8.0h-7.4zM219.0 158.0h5.1v10.2h-5.1zM224.0 158.0h6.3v8.8h-6.3zM234.0 158.0h6.8v8.3h-6.8zM264.0 158.0h6.7v11.0h-6.7zM144.0 166.0h6.9v10.2h-6.9zM174.0 166.0h7.4v8.4h-7.4zM189.0 166.0h6.9v8.1h-6.9zM194.0 166.0h7.4v10.5h-7.4zM224.0 166.0h5.6v9.4h-5.6zM239.0 166.0h5.6v10.3h-5.6zM279.0 166.0h7.0v10.6h-7.0zM84.0 174.0h5.2v10.0h-5.2zM89.0 174.0h6.6v9.8h-6.6zM219.0 174.0h5.2v8.9h-5.2zM264.0 174.0h7.5v9.7h-7.5zM89.0 182.0h5.6v10.4h-5.6zM114.0 182.0h5.2v9.3h-5.2zM119.0 182.0h6.6v10.6h-6.6zM124.0 182.0h6.2v10.2h-6.2zM149.0 182.0h7.2v8.1h-7.2zM159.0 182.0h5.2v8.3h-5.2zM184.0 182.0h5.9v8.0h-5.9zM189.0 182.0h5.5v9.2h-5.5zM194.0 182.0h7.4v10.0h-7.4zM209.0 182.0h6.2v8.9h-6.2zM224.0 182.0h5.9v9.5h-5.9zM234.0 182.0h5.7v10.5h-5.7zM64.0 190.0h5.7v8.9h-5.7zM149.0 190.0h6.5v10.2h-6.5zM189.0 190.0h6.3v10.9h-6.3zM204.0 190.0h6.1v8.7h-6.1zM214.0 190.0h5.1v9.5h-5.1zM59.0 198.0h7.2v8.6h-7.2zM74.0 198.0h6.1v10.2h-6.1zM104.0 198.0h6.5v9.7h-6.5zM154.0 198.0h7.5v10.2h-7.5zM204.0 198.0h5.8v10.9h-5.8zM214.0 198.0h5.0v8.9h-5.0zM264.0 198.0h5.5v9.5h-5.5zM279.0 198.0h5.4v9.1h-5.4zM284.0 198.0h6.2v9.3h-6.2zM289.0 198.0h5.5v9.0h-5.5zM54.0 206.0h5.2v8.6h-5.2zM79.0 206.0h7.2v10.4h-7.2zM104.0 206.0h6.8v9.5h-6.8zM114.0 206.0h6.4v8.0h-6.4zM139.0 206.0h6.3v10.9h-6.3zM144.0 206.0h6.9v8.9h-6.9zM204.0 206.0h5.4v10.7h-5.4zM229.0 206.0h7.3v11.0h-7.3zM249.0 206.0h5.8v10.5h-5.8zM59.0 214.0h6.0v9.0h-6.0zM74.0 214.0h5.8v10.9h-5.8zM109.0 214.0h6.5v9.7h-6.5zM114.0 214.0h6.7v10.1h-6.7zM124.0 214.0h6.7v10.0h-6.7zM179.0 214.0h6.8v8.5h-6.8zM204.0 214.0h7.1v8.8h-7.1zM259.0 214.0h6.1v8.3h-6.1zM59.0 222.0h6.0v9.5h-6.0zM84.0 222.0h7.4v9.4h-7.4zM119.0 222.0h5.7v8.3h-5.7zM129.0 222.0h6.4v10.8h-6.4zM134.0 222.0h5.9v8.7h-5.9zM144.0 222.0h6.2v9.4h-6.2zM164.0 222.0h6.9v8.9h-6.9zM174.0 222.0h7.4v10.1h-7.4zM219.0 222.0h5.3v8.2h-5.3zM69.0 230.0h5.4v8.2h-5.4zM149.0 230.0h5.7v8.0h-5.7zM159.0 230.0h5.4v8.0h-5.4zM164.0 230.0h6.7v9.1h-6.7zM219.0 230.0h6.4v10.9h-6.4zM224.0 230.0h6.7v9.1h-6.7zM49.0 238.0h7.1v10.9h-7.1zM89.0 238.0h5.0v9.4h-5.0zM134.0 238.0h5.2v8.9h-5.2zM149.0 238.0h6.7v9.1h-6.7zM174.0 238.0h7.3v9.0h-7.3zM189.0 238.0h6.4v8.7h-6.4zM139.0 246.0h7.4v9.0h-7.4zM194.0 246.0h5.6v10.7h-5.6zM184.0 254.0h7.2v10.4h-7.2z" fill="#e8e818"/>
<path d="M39.0 54.0h5.3v8.7h-5.3zM134.0 86.0h7.5v9.6h-7.5zM154.0 86.0h6.7v9.5h-6.7zM224.0 86.0h5.0v10.0h-5.0zM234.0 86.0h7.3v9.7h-7.3zM99.0 94.0h5.8v8.5h-5.8zM109.0 102.0h5.8v8.7h-5.8zM134.0 110.0h5.6v8.7h-5.6zM229.0 110.0h7.0v8.8h-7.0zM239.0 110.0h5.1v11.0h-5.1zM134.0 126.0h7.2v10.4h-7.2zM104.0 134.0h6.1v10.0h-6.1zM94.0 142.0h5.5v8.8h-5.5zM149.0 142.0h7.1v9.3h-7.1zM189.0 142.0h5.2v9.3h-5.2zM189.0 158.0h7.3v9.8h-7.3zM124.0 174.0h6.8v8.5h-6.8zM134.0 174.0h6.8v9.8h-6.8zM214.0 174.0h7.4v8.5h-7.4zM134.0 182.0h7.4v9.5h-7.4zM104.0 190.0h6.4v8.7h-6.4zM139.0 190.0h5.8v9.0h-5.8zM44.0 198.0h5.5v9.4h-5.5zM249.0 214.0h5.8v9.7h-5.8zM254.0 214.0h6.6v9.4h-6.6zM284.0 214.0h5.7v10.5h-5.7zM44.0 222.0h5.3v10.0h-5.3zM84.0 230.0h6.9v9.1h-6.9zM194.0 230.0h7.2v9.5h-7.2zM54.0 238.0h5.4v8.7h-5.4z" fill="#10a070"/>
<path d="M254.0 86.0h6.0v10.7h-6.0zM259.0 110.0h5.1v9.8h-5.1zM224.0 118.0h5.6v9.4h-5.6zM249.0 118.0h5.6v8.0h-5.6zM259.0 118.0h6.7v9.7h-6.7z" fill="#18a088"/>
<polygon points="29,66 40,58 46,70 38,80 30,74" fill="#ecea20"/><polygon points="27,203 40,198 48,204 40,212 30,210" fill="#e0e620"/>
</g></g>
<line x1="357.4" y1="37.9" x2="403.2" y2="67.0" stroke="#4a4a4a" stroke-width="1.1"/>
<line x1="475.5" y1="20.0" x2="521.3" y2="49.1" stroke="#4a4a4a" stroke-width="1.1"/>
<line x1="357.4" y1="37.9" x2="475.5" y2="20.0" stroke="#666" stroke-width="0.95" stroke-dasharray="1.2,1.1"/>
<line x1="403.2" y1="67.0" x2="521.3" y2="49.1" stroke="#666" stroke-width="0.95" stroke-dasharray="1.2,1.1"/>
<polygon points="357.4,83.6 475.5,65.7 521.3,94.8 403.2,112.7" fill="#ffffff"/>
<g transform="matrix(0.36157 -0.05237 0.18329 0.1112 351.867 80.632)"><g clip-path="url(#cp)">
<rect x="17" y="20" width="305" height="252" fill="#f2faf0"/>
<path d="M137.6 217.5h3.0v7.2h-3.0zM253.1 100.6h3.0v8.0h-3.0zM261.3 186.0h4.6v3.3h-4.6zM160.5 109.4h3.1v5.4h-3.1zM154.2 124.5h5.6v6.4h-5.6zM246.9 97.6h5.2v7.9h-5.2zM74.0 74.5h2.5v3.1h-2.5zM127.8 205.6h3.5v6.3h-3.5zM209.7 178.9h2.4v3.9h-2.4zM132.4 175.1h2.5v9.2h-2.5zM107.7 198.2h5.2v3.1h-5.2zM149.7 175.3h3.1v3.7h-3.1zM273.8 137.7h4.6v10.0h-4.6zM128.7 66.7h4.5v4.8h-4.5zM291.0 157.3h3.4v9.5h-3.4zM167.8 235.3h5.0v8.6h-5.0zM174.1 172.1h3.7v7.0h-3.7zM126.8 95.9h5.2v8.7h-5.2zM200.4 136.1h5.1v9.6h-5.1zM99.4 149.6h5.1v8.5h-5.1zM175.1 201.0h3.2v3.0h-3.2zM163.3 179.0h4.2v4.6h-4.2zM55.0 225.7h2.1v5.8h-2.1zM146.8 172.6h4.3v9.6h-4.3zM149.1 151.1h5.0v7.8h-5.0zM204.5 154.2h4.8v3.5h-4.8zM73.3 242.7h2.6v5.6h-2.6zM99.2 206.9h2.9v9.3h-2.9zM79.3 205.4h3.0v9.4h-3.0zM265.9 173.3h3.6v4.4h-3.6zM42.6 71.2h2.9v3.8h-2.9zM260.9 156.8h3.5v4.3h-3.5zM97.2 140.1h2.3v6.2h-2.3zM263.2 145.0h3.7v5.2h-3.7zM71.8 64.7h5.5v5.9h-5.5zM203.8 211.4h3.8v4.7h-3.8zM159.0 105.9h3.2v6.7h-3.2zM159.5 211.8h3.0v5.9h-3.0zM84.0 110.1h5.6v8.9h-5.6zM57.8 225.4h4.1v8.8h-4.1zM88.7 171.3h4.6v9.6h-4.6zM169.3 199.0h4.9v5.9h-4.9zM224.3 195.6h2.6v3.2h-2.6zM118.6 133.1h4.1v9.1h-4.1zM71.0 201.0h4.9v5.7h-4.9zM131.4 236.8h2.8v3.6h-2.8zM164.1 99.3h3.2v5.3h-3.2zM101.4 226.8h4.0v5.8h-4.0zM156.4 191.4h4.6v3.5h-4.6zM97.3 188.0h3.7v6.5h-3.7zM107.5 193.3h2.5v9.6h-2.5zM119.4 85.6h5.6v6.6h-5.6zM133.1 115.6h3.5v6.5h-3.5zM97.6 109.8h2.6v9.7h-2.6zM282.0 142.4h3.2v5.6h-3.2zM160.1 90.2h5.1v6.8h-5.1zM227.2 175.9h5.1v8.3h-5.1zM68.9 129.0h5.6v9.7h-5.6zM64.8 210.0h4.1v7.3h-4.1zM161.2 192.1h2.2v5.5h-2.2zM202.9 112.2h4.4v8.1h-4.4zM211.0 224.7h5.4v8.2h-5.4zM85.3 92.0h5.3v5.6h-5.3zM99.5 40.2h4.6v9.3h-4.6zM155.7 85.8h4.5v6.7h-4.5zM44.9 67.1h5.3v3.5h-5.3zM52.3 238.2h5.5v8.7h-5.5zM133.4 216.3h3.7v9.6h-3.7zM278.0 116.5h3.7v3.7h-3.7zM126.3 167.1h4.8v8.5h-4.8zM227.4 132.1h4.2v7.4h-4.2zM94.8 24.7h5.1v7.4h-5.1zM79.1 171.5h5.5v9.7h-5.5zM144.1 247.3h2.5v6.3h-2.5zM73.2 143.3h2.8v4.7h-2.8zM226.2 88.0h2.1v7.9h-2.1zM93.7 88.8h3.9v6.5h-3.9zM84.9 95.1h3.1v3.3h-3.1zM160.1 142.8h3.1v5.8h-3.1zM173.2 159.6h3.0v6.0h-3.0zM28.2 205.5h2.6v9.2h-2.6zM53.8 226.1h5.1v3.9h-5.1zM115.9 148.0h3.3v8.0h-3.3zM145.3 249.0h5.3v3.1h-5.3zM163.0 220.2h4.2v7.2h-4.2zM241.1 95.8h5.2v9.6h-5.2zM96.0 55.1h4.1v7.3h-4.1zM88.9 253.0h4.5v4.0h-4.5zM101.5 161.4h2.4v6.0h-2.4zM206.5 114.9h4.6v8.7h-4.6zM60.0 195.1h4.9v7.3h-4.9zM162.2 145.5h3.4v9.2h-3.4zM294.5 188.5h5.2v6.7h-5.2zM116.1 112.7h2.0v5.8h-2.0zM205.9 213.0h3.1v6.4h-3.1zM156.3 144.0h2.6v8.8h-2.6zM146.7 173.9h3.7v6.8h-3.7zM161.4 201.8h3.0v5.6h-3.0zM73.8 103.1h3.2v6.9h-3.2zM254.9 204.4h2.0v3.0h-2.0zM57.0 223.5h4.9v3.7h-4.9zM154.5 243.4h2.1v3.6h-2.1zM257.0 191.2h3.2v6.3h-3.2zM273.3 150.5h2.4v3.7h-2.4zM80.1 233.6h5.5v9.0h-5.5zM215.2 205.4h3.3v8.2h-3.3zM139.6 167.7h2.9v10.0h-2.9zM153.7 183.7h5.4v4.2h-5.4zM274.4 152.3h5.4v9.5h-5.4zM189.7 106.6h4.6v9.1h-4.6zM136.0 157.5h2.5v6.9h-2.5zM128.4 230.1h4.4v3.2h-4.4zM43.6 83.4h4.8v5.0h-4.8z" fill="#b4f0a4"/>
<path d="M164.1 135.1h3.7v5.1h-3.7zM92.1 185.7h3.3v4.6h-3.3zM132.2 81.9h4.4v9.0h-4.4zM109.1 214.7h2.5v9.2h-2.5zM72.0 54.9h3.5v7.0h-3.5zM42.5 219.1h2.8v9.6h-2.8zM247.3 119.3h5.5v7.1h-5.5zM122.1 214.3h5.6v3.4h-5.6zM160.2 139.6h3.4v5.3h-3.4zM78.7 193.4h5.1v5.3h-5.1zM54.9 220.2h5.8v5.5h-5.8zM268.9 181.7h2.7v6.1h-2.7zM110.3 180.9h5.2v7.1h-5.2zM153.1 247.9h3.5v6.0h-3.5zM140.0 133.6h3.3v6.6h-3.3zM82.0 108.4h5.8v7.2h-5.8zM233.7 121.9h2.0v3.3h-2.0zM119.7 101.4h3.8v5.2h-3.8zM126.3 137.6h3.1v4.8h-3.1zM294.9 147.5h5.9v8.7h-5.9zM82.1 176.8h4.3v5.3h-4.3zM144.7 246.7h2.6v4.5h-2.6zM112.0 98.0h5.8v9.4h-5.8zM222.3 223.7h3.6v3.4h-3.6zM57.0 191.2h2.4v5.0h-2.4zM121.2 65.6h3.9v8.7h-3.9zM125.6 235.3h2.0v7.6h-2.0zM143.5 82.9h2.9v5.9h-2.9zM95.7 62.5h5.2v5.8h-5.2zM160.0 224.8h5.7v6.9h-5.7zM98.7 179.9h3.8v5.5h-3.8zM224.6 151.0h2.3v4.3h-2.3zM255.8 91.8h4.3v3.8h-4.3zM119.0 209.1h3.1v6.6h-3.1zM54.5 69.5h5.5v4.3h-5.5zM38.5 66.2h2.3v9.9h-2.3zM162.3 137.1h3.3v5.4h-3.3zM57.5 70.3h5.8v6.7h-5.8zM85.2 186.7h3.2v3.2h-3.2zM98.9 202.8h4.0v3.2h-4.0zM89.5 219.0h4.0v3.5h-4.0zM155.3 237.2h4.2v8.8h-4.2zM273.3 112.4h5.0v9.6h-5.0zM130.7 196.9h5.4v7.6h-5.4zM140.8 138.4h2.7v5.3h-2.7zM114.4 98.3h4.9v5.2h-4.9zM95.5 135.1h3.7v7.7h-3.7zM159.9 155.4h4.1v6.1h-4.1zM256.4 162.1h5.9v3.6h-5.9zM265.7 122.2h3.9v9.7h-3.9zM70.5 200.6h3.3v8.9h-3.3zM95.3 126.7h5.3v9.4h-5.3zM256.3 210.4h3.6v7.1h-3.6zM232.8 98.0h5.9v4.4h-5.9zM79.0 104.4h4.9v3.6h-4.9zM78.9 62.0h3.1v3.3h-3.1zM58.3 84.0h4.2v7.2h-4.2zM119.3 170.8h3.0v5.6h-3.0zM146.8 118.6h2.4v8.0h-2.4zM39.4 88.8h4.7v6.5h-4.7zM123.6 90.2h5.5v5.7h-5.5zM84.2 170.0h3.8v5.6h-3.8zM253.8 122.6h5.3v7.1h-5.3zM124.1 169.8h3.9v6.8h-3.9zM128.7 107.7h2.1v4.9h-2.1zM80.9 80.5h4.0v9.9h-4.0zM55.1 57.6h2.3v8.3h-2.3zM238.0 191.2h4.7v4.1h-4.7zM193.4 129.9h5.9v4.2h-5.9zM83.7 103.4h4.8v7.9h-4.8zM143.0 238.4h2.1v9.0h-2.1zM109.3 202.4h2.9v9.2h-2.9zM212.5 127.7h3.2v7.9h-3.2zM100.2 54.5h5.4v9.8h-5.4zM114.1 120.9h3.5v3.7h-3.5zM200.4 131.1h3.3v6.3h-3.3zM132.2 205.2h5.0v6.7h-5.0zM122.9 90.7h3.0v9.9h-3.0zM78.6 208.5h4.1v8.5h-4.1zM163.8 157.1h4.0v4.1h-4.0zM133.9 74.0h5.7v5.7h-5.7zM239.5 156.4h3.9v8.0h-3.9zM90.7 222.1h5.0v8.7h-5.0zM77.1 179.6h5.4v8.8h-5.4zM290.0 204.5h5.1v6.8h-5.1zM229.2 80.8h5.1v4.3h-5.1zM156.2 218.9h4.8v5.9h-4.8zM145.7 151.7h4.1v5.8h-4.1zM68.7 66.7h3.9v5.7h-3.9zM283.7 117.0h4.6v4.9h-4.6zM278.8 180.9h3.7v7.0h-3.7zM76.0 49.6h2.4v7.9h-2.4zM127.9 155.3h3.9v8.6h-3.9zM94.7 251.9h2.5v6.3h-2.5zM127.4 201.3h5.2v8.5h-5.2zM50.7 52.1h2.8v9.0h-2.8zM139.1 229.7h3.9v9.3h-3.9zM189.9 137.0h4.1v4.6h-4.1zM148.3 113.1h3.5v7.6h-3.5zM157.9 113.7h3.9v7.0h-3.9zM284.8 189.9h2.5v4.9h-2.5zM130.0 198.5h5.4v5.5h-5.4zM64.7 235.3h2.9v7.0h-2.9zM155.1 158.0h2.1v5.1h-2.1zM99.9 161.3h2.8v4.9h-2.8zM135.1 144.6h2.3v6.5h-2.3zM129.6 141.7h4.5v7.4h-4.5zM110.4 98.0h4.0v4.4h-4.0zM122.7 168.8h4.4v9.9h-4.4zM108.6 97.5h3.8v5.7h-3.8zM112.3 81.5h4.0v5.1h-4.0zM145.8 88.9h4.2v4.3h-4.2zM79.3 143.2h4.7v4.0h-4.7zM186.0 124.7h2.9v9.0h-2.9zM128.0 241.6h2.9v5.2h-2.9zM152.1 219.6h4.5v9.4h-4.5zM143.7 108.4h4.0v7.1h-4.0zM240.6 140.5h3.4v8.4h-3.4zM137.1 188.7h2.2v6.8h-2.2zM138.1 96.2h4.6v9.3h-4.6zM98.2 143.9h2.7v3.6h-2.7zM53.7 94.0h4.0v6.0h-4.0zM267.7 137.5h3.7v8.5h-3.7zM81.3 173.3h4.5v6.6h-4.5zM74.7 232.1h5.7v7.7h-5.7zM70.7 101.4h2.5v7.0h-2.5zM77.3 230.4h5.5v4.8h-5.5zM270.5 118.7h5.7v3.4h-5.7zM203.4 212.5h3.1v6.5h-3.1z" fill="#a0ec8c"/>
<path d="M262.4 99.0h4.4v5.7h-4.4zM89.2 234.3h4.9v5.3h-4.9zM214.4 154.3h3.0v9.5h-3.0zM42.0 202.0h5.4v7.6h-5.4zM110.6 54.8h3.2v8.0h-3.2zM77.5 252.9h3.4v5.6h-3.4zM68.8 167.1h5.0v9.2h-5.0zM91.9 44.1h3.5v6.0h-3.5zM87.4 235.1h2.0v4.3h-2.0zM198.2 190.4h4.2v9.6h-4.2zM79.8 212.8h4.6v8.0h-4.6zM100.4 237.7h2.3v3.4h-2.3zM119.9 150.7h3.4v7.5h-3.4zM241.5 133.8h2.4v7.6h-2.4zM235.7 152.8h2.8v4.5h-2.8zM101.0 235.8h4.8v3.2h-4.8zM67.7 227.2h5.3v7.9h-5.3zM239.0 162.1h4.7v5.4h-4.7zM127.8 174.7h5.9v7.3h-5.9zM100.0 186.6h4.7v5.9h-4.7zM164.6 109.0h3.0v4.2h-3.0zM95.7 34.1h4.5v3.9h-4.5zM179.1 239.3h2.1v6.6h-2.1zM55.7 201.6h5.8v5.0h-5.8zM86.3 88.1h4.7v9.3h-4.7zM212.5 87.9h5.9v6.4h-5.9zM173.9 155.0h4.2v9.8h-4.2zM186.3 250.3h2.5v5.0h-2.5zM278.7 129.1h4.1v4.3h-4.1zM291.1 206.2h4.2v4.2h-4.2zM300.3 120.1h4.7v3.1h-4.7zM209.2 188.0h5.4v9.7h-5.4zM276.9 219.5h3.0v3.4h-3.0zM201.1 159.5h5.8v3.2h-5.8zM44.7 59.5h2.6v6.0h-2.6zM206.5 130.4h3.7v5.1h-3.7zM79.5 206.3h2.4v4.6h-2.4zM190.7 226.5h2.7v3.2h-2.7zM144.3 150.0h2.6v7.2h-2.6zM56.9 56.7h4.9v8.8h-4.9zM245.6 198.5h5.4v10.0h-5.4zM105.0 139.6h4.0v8.7h-4.0zM220.6 96.7h2.2v9.8h-2.2zM191.2 192.8h5.2v9.8h-5.2zM128.8 167.2h4.5v3.9h-4.5zM82.5 167.6h5.2v4.1h-5.2zM67.2 130.1h2.5v4.2h-2.5zM46.3 220.0h4.5v9.8h-4.5zM124.1 209.8h3.3v7.1h-3.3zM68.9 83.7h3.1v5.8h-3.1zM57.6 70.5h3.9v3.3h-3.9zM93.0 247.7h5.6v9.4h-5.6zM157.6 165.1h5.5v3.9h-5.5zM93.6 90.5h2.6v9.1h-2.6zM162.7 111.6h3.8v7.8h-3.8zM156.1 207.7h4.1v8.4h-4.1zM138.2 243.8h2.9v6.1h-2.9zM123.3 71.7h4.3v5.3h-4.3zM51.5 65.8h2.7v3.5h-2.7zM228.2 136.7h2.6v10.0h-2.6zM227.0 200.9h5.6v3.7h-5.6zM98.5 65.7h4.8v4.5h-4.8zM96.2 242.8h5.6v7.8h-5.6zM123.2 95.6h4.7v3.1h-4.7zM190.4 250.4h3.3v6.2h-3.3zM148.4 126.9h2.9v5.4h-2.9zM57.2 51.4h2.5v3.2h-2.5zM126.0 169.7h3.2v9.3h-3.2zM148.9 91.6h4.3v6.4h-4.3zM239.9 177.2h2.3v6.1h-2.3zM85.2 252.0h5.7v6.5h-5.7zM156.6 111.6h2.9v3.8h-2.9zM70.6 56.7h4.2v6.4h-4.2zM40.7 90.3h2.9v4.8h-2.9zM70.0 256.6h3.7v9.0h-3.7zM112.3 59.7h4.9v4.9h-4.9zM84.3 190.7h4.4v4.7h-4.4zM88.4 228.4h4.5v5.5h-4.5zM230.5 181.0h2.3v3.2h-2.3zM44.4 70.1h5.3v4.5h-5.3zM101.3 117.9h2.8v9.1h-2.8zM128.1 168.3h4.5v7.0h-4.5zM98.0 228.3h5.3v4.3h-5.3zM130.5 208.5h5.2v6.1h-5.2zM89.4 157.2h3.0v8.7h-3.0zM117.4 94.0h4.6v4.2h-4.6zM162.3 125.5h2.2v3.8h-2.2zM95.3 110.7h3.6v7.3h-3.6zM293.1 124.7h5.8v7.8h-5.8zM133.2 228.9h3.1v5.0h-3.1zM38.2 197.8h4.8v3.9h-4.8zM60.7 248.6h2.6v9.5h-2.6zM289.4 170.6h2.0v5.3h-2.0zM93.4 178.7h2.0v3.3h-2.0zM126.6 166.6h5.3v9.4h-5.3zM52.7 236.3h5.8v8.0h-5.8zM64.0 94.4h4.9v8.0h-4.9zM141.6 212.2h4.3v6.2h-4.3zM59.0 240.5h5.9v3.6h-5.9zM29.5 205.8h3.3v9.7h-3.3zM237.8 125.0h4.5v6.7h-4.5zM71.9 93.7h3.3v9.1h-3.3zM126.7 74.9h3.9v6.2h-3.9zM121.4 233.8h3.0v5.6h-3.0zM141.9 198.1h4.2v5.2h-4.2zM122.6 174.3h4.2v3.1h-4.2zM100.2 228.3h3.7v3.7h-3.7zM102.2 100.6h3.7v8.6h-3.7zM123.4 75.1h3.4v7.6h-3.4zM210.9 99.4h5.7v4.6h-5.7zM92.7 100.2h3.4v8.9h-3.4zM144.1 226.5h4.8v5.7h-4.8zM153.9 156.1h2.2v6.8h-2.2zM127.4 218.4h5.6v5.8h-5.6zM132.3 214.8h2.9v6.5h-2.9zM69.1 232.6h2.0v6.6h-2.0zM78.9 50.9h3.4v7.9h-3.4zM182.0 90.9h2.8v9.9h-2.8z" fill="#d8f8d2"/>
<path d="M75.0 221.9h2.2v5.0h-2.2zM290.4 174.1h2.4v6.9h-2.4zM139.1 223.9h5.4v3.7h-5.4zM126.2 100.7h5.2v4.9h-5.2zM242.4 120.0h3.1v7.8h-3.1zM107.9 172.3h5.6v9.3h-5.6zM126.0 69.4h3.8v5.3h-3.8zM114.6 105.2h5.8v4.2h-5.8zM96.0 80.7h5.4v7.0h-5.4zM101.1 232.2h4.0v6.0h-4.0zM71.9 139.6h4.7v3.8h-4.7zM74.9 126.6h5.1v9.6h-5.1zM73.7 205.9h5.7v9.4h-5.7zM92.4 78.5h3.0v7.1h-3.0zM101.6 166.0h3.6v5.3h-3.6zM97.3 247.1h5.2v7.5h-5.2zM144.6 123.6h4.7v4.2h-4.7zM203.6 187.7h5.8v4.9h-5.8zM145.8 234.7h3.3v4.0h-3.3zM242.9 173.8h4.5v9.2h-4.5zM178.3 135.4h3.4v3.6h-3.4zM93.0 87.3h4.0v9.5h-4.0zM205.0 147.6h2.8v7.7h-2.8zM198.9 127.3h3.1v3.2h-3.1zM242.0 165.4h3.5v6.4h-3.5zM78.6 256.7h4.0v5.6h-4.0zM210.3 218.4h4.4v7.6h-4.4zM71.8 249.4h3.5v7.2h-3.5zM135.9 222.1h4.6v7.7h-4.6zM50.3 204.9h3.4v7.0h-3.4zM197.4 105.1h3.5v4.8h-3.5zM42.4 213.1h2.6v6.0h-2.6zM151.6 233.7h3.4v9.8h-3.4zM87.8 89.5h5.1v5.5h-5.1zM95.4 53.1h2.3v7.9h-2.3zM62.2 262.6h3.9v5.1h-3.9zM97.6 97.6h6.0v4.7h-6.0zM62.6 244.4h3.9v3.2h-3.9zM162.6 186.7h2.3v5.4h-2.3zM96.8 26.9h2.6v5.0h-2.6zM89.7 47.8h4.6v9.1h-4.6zM189.4 238.8h5.5v4.6h-5.5zM90.8 194.6h2.6v6.4h-2.6zM209.1 155.3h4.8v3.1h-4.8zM92.4 237.8h2.0v3.4h-2.0zM99.0 48.0h5.1v7.0h-5.1zM201.6 102.0h3.1v8.7h-3.1zM165.8 200.1h3.7v5.4h-3.7zM99.4 125.9h2.8v4.6h-2.8zM256.7 169.5h2.7v6.3h-2.7zM108.9 160.0h4.9v6.4h-4.9zM132.2 162.8h4.3v4.4h-4.3zM111.1 53.6h5.1v8.3h-5.1zM106.6 179.7h5.4v8.6h-5.4zM146.9 141.4h5.7v9.9h-5.7zM95.4 137.3h5.7v4.1h-5.7zM111.8 164.0h3.3v3.4h-3.3zM116.5 124.7h3.3v4.5h-3.3zM137.3 105.0h2.0v6.1h-2.0zM176.9 100.6h2.2v5.8h-2.2zM43.9 88.6h4.1v6.2h-4.1zM200.4 130.6h5.4v7.7h-5.4zM255.2 110.7h5.0v7.9h-5.0zM97.8 187.5h2.1v4.5h-2.1zM72.8 154.0h3.3v3.7h-3.3zM105.6 218.2h2.4v8.3h-2.4zM135.3 104.9h4.9v8.8h-4.9zM169.8 171.2h4.7v8.2h-4.7zM274.6 121.3h3.1v8.0h-3.1zM139.9 139.8h4.3v5.4h-4.3zM125.4 236.8h3.8v9.5h-3.8zM113.0 200.5h5.9v4.5h-5.9zM295.1 117.5h3.1v5.8h-3.1zM183.6 237.5h3.4v9.2h-3.4zM253.3 193.9h3.1v8.4h-3.1zM48.2 99.2h4.7v3.2h-4.7zM80.9 181.7h5.8v4.4h-5.8zM150.2 91.3h2.7v6.5h-2.7zM189.3 250.7h2.7v8.5h-2.7zM81.6 149.3h4.3v9.8h-4.3zM112.3 87.4h2.9v5.7h-2.9zM90.4 30.5h5.0v8.1h-5.0zM230.0 142.4h3.5v5.5h-3.5zM97.3 85.4h2.5v8.6h-2.5zM118.9 210.4h4.4v7.3h-4.4zM234.9 153.1h2.7v8.9h-2.7zM85.5 179.5h2.4v3.1h-2.4zM126.2 148.7h5.5v3.4h-5.5zM94.4 223.3h5.0v7.6h-5.0zM126.2 173.1h6.0v8.6h-6.0zM43.1 69.6h5.3v5.4h-5.3zM271.1 131.9h3.8v9.8h-3.8zM191.1 186.3h3.7v6.7h-3.7zM75.8 173.2h3.5v4.0h-3.5zM114.5 115.4h3.2v4.7h-3.2zM53.9 78.2h3.8v9.4h-3.8zM114.5 105.0h4.6v4.5h-4.6zM103.9 190.9h4.8v8.7h-4.8zM87.1 68.2h3.1v9.2h-3.1zM126.4 195.0h6.0v7.1h-6.0zM105.2 104.9h5.6v8.6h-5.6zM157.5 144.1h2.3v5.5h-2.3zM122.9 115.0h4.3v9.7h-4.3zM73.1 231.7h3.4v3.2h-3.4zM148.9 253.9h4.5v5.1h-4.5zM65.1 130.5h3.5v4.9h-3.5zM138.1 243.9h3.1v6.9h-3.1zM109.2 60.6h4.5v3.2h-4.5zM130.5 131.9h3.0v4.6h-3.0zM143.3 116.4h3.9v8.1h-3.9zM72.8 131.9h5.5v9.8h-5.5zM130.5 95.8h3.2v6.8h-3.2zM68.7 217.1h5.2v4.1h-5.2zM159.1 222.9h3.1v8.3h-3.1zM190.9 117.0h2.1v5.2h-2.1zM143.8 96.9h4.2v7.7h-4.2zM225.5 220.3h3.4v3.1h-3.4zM162.8 126.3h4.9v6.5h-4.9zM219.9 86.5h3.1v5.1h-3.1zM69.8 202.9h4.2v8.0h-4.2zM78.8 58.2h2.9v4.0h-2.9zM119.2 64.5h3.5v7.9h-3.5zM139.7 158.3h4.7v7.9h-4.7zM100.7 81.7h3.4v9.3h-3.4zM115.2 38.3h5.3v6.5h-5.3zM93.9 230.4h3.9v8.7h-3.9zM99.2 229.5h4.1v6.2h-4.1zM130.6 213.9h2.6v7.6h-2.6zM217.1 172.8h3.7v9.1h-3.7zM216.6 99.1h4.5v6.5h-4.5zM240.3 196.1h4.0v8.2h-4.0zM246.4 223.3h4.5v3.3h-4.5zM72.9 60.4h3.9v9.9h-3.9zM270.2 189.6h4.1v4.9h-4.1zM292.7 183.6h4.3v3.4h-4.3zM164.6 189.9h4.8v5.2h-4.8zM163.9 114.2h5.8v8.5h-5.8zM152.9 234.5h2.4v4.8h-2.4zM162.9 126.2h2.7v6.3h-2.7zM102.0 142.0h5.1v9.0h-5.1z" fill="#e6faE2"/>
<path d="M87.5 202.6h4.9v5.2h-4.9zM71.6 251.6h3.9v8.6h-3.9zM46.2 63.9h6.0v8.9h-6.0zM236.2 161.6h3.6v5.2h-3.6zM66.6 163.9h5.8v4.3h-5.8zM116.4 62.9h4.9v7.9h-4.9zM268.1 181.4h3.4v6.2h-3.4zM260.6 157.0h5.9v5.6h-5.9zM121.7 178.3h4.5v5.2h-4.5zM83.2 214.9h2.3v4.6h-2.3zM170.3 237.4h5.5v9.4h-5.5zM117.3 162.4h4.0v7.0h-4.0zM110.8 48.2h4.1v7.8h-4.1zM104.1 62.3h5.5v5.1h-5.5zM43.3 53.8h5.7v8.2h-5.7zM111.4 144.9h4.6v5.4h-4.6zM141.4 172.8h3.5v6.2h-3.5zM147.4 237.2h4.9v4.6h-4.9zM68.5 231.1h2.2v4.3h-2.2zM179.8 209.0h3.8v8.8h-3.8zM52.1 234.1h4.1v7.8h-4.1zM141.0 248.5h5.7v8.6h-5.7zM93.7 134.3h5.0v3.2h-5.0zM86.5 199.5h5.5v7.4h-5.5zM42.7 202.3h3.6v4.9h-3.6zM70.3 62.2h5.4v4.6h-5.4zM135.9 224.8h3.4v3.6h-3.4zM125.4 150.5h4.3v9.5h-4.3zM149.9 159.5h4.7v6.7h-4.7zM76.3 89.0h4.5v7.4h-4.5zM248.9 139.7h5.0v5.0h-5.0zM134.0 245.8h5.6v8.9h-5.6zM117.7 53.4h2.7v5.7h-2.7zM203.5 181.1h2.2v8.2h-2.2zM148.5 105.7h3.9v8.2h-3.9zM159.9 172.3h5.4v7.8h-5.4zM168.8 117.0h5.1v6.4h-5.1zM91.2 206.7h4.6v5.9h-4.6zM175.1 105.5h5.0v6.2h-5.0zM160.5 192.1h5.0v9.8h-5.0zM157.9 221.1h2.9v4.0h-2.9zM133.2 80.9h2.4v7.0h-2.4zM81.6 79.6h4.1v9.8h-4.1zM221.9 166.7h3.5v7.1h-3.5zM162.0 178.0h5.8v4.0h-5.8zM215.1 99.0h2.9v9.8h-2.9zM120.9 143.6h4.8v3.2h-4.8zM115.4 122.6h3.6v7.6h-3.6zM281.8 215.5h2.4v5.4h-2.4zM129.9 80.2h2.9v7.2h-2.9zM279.3 166.2h4.7v9.6h-4.7zM182.1 160.3h4.1v8.7h-4.1zM111.6 42.4h2.3v5.2h-2.3zM46.7 235.6h2.2v5.5h-2.2zM269.9 132.7h4.5v6.9h-4.5zM284.6 160.1h2.9v6.0h-2.9zM52.2 224.1h5.4v4.7h-5.4zM258.7 210.7h5.7v8.9h-5.7zM123.7 96.1h4.4v6.5h-4.4zM94.7 55.4h5.2v8.3h-5.2zM122.5 67.4h4.7v9.7h-4.7zM61.6 63.4h4.2v5.7h-4.2zM69.0 165.5h4.0v8.2h-4.0zM91.8 204.3h5.7v9.4h-5.7zM157.0 131.5h2.6v9.1h-2.6zM145.3 182.5h3.0v4.5h-3.0zM59.5 54.4h5.6v8.0h-5.6zM107.5 213.3h5.8v4.0h-5.8zM66.4 57.4h3.4v8.0h-3.4zM174.7 147.2h3.8v7.5h-3.8zM122.7 114.0h3.8v8.9h-3.8zM133.5 243.1h5.3v7.3h-5.3zM107.5 198.5h4.7v3.2h-4.7zM150.5 249.3h4.4v7.8h-4.4zM69.4 94.0h5.1v9.4h-5.1zM116.9 40.9h4.3v3.3h-4.3zM138.3 155.9h5.2v7.0h-5.2zM72.5 52.4h3.7v8.8h-3.7zM176.0 191.8h4.3v8.9h-4.3zM139.1 99.6h2.1v4.4h-2.1zM134.5 149.3h4.6v5.0h-4.6zM234.3 153.6h3.6v5.5h-3.6zM79.2 168.6h4.5v9.3h-4.5zM53.5 64.3h5.7v3.1h-5.7zM170.0 152.2h2.4v8.2h-2.4zM65.9 201.9h4.3v6.7h-4.3zM234.0 82.3h3.8v4.2h-3.8zM206.3 188.0h3.8v7.1h-3.8zM192.2 168.7h4.1v6.1h-4.1zM196.9 123.9h2.5v6.6h-2.5zM120.6 183.8h5.5v3.3h-5.5zM148.3 210.1h4.8v5.3h-4.8zM123.6 75.6h2.8v7.3h-2.8zM64.7 215.0h4.0v7.1h-4.0zM119.6 197.2h2.3v5.7h-2.3zM63.3 100.0h2.9v4.8h-2.9zM219.3 207.1h2.5v6.5h-2.5zM214.9 150.6h6.0v3.2h-6.0zM89.3 82.4h4.1v4.3h-4.1zM88.5 170.2h4.1v6.3h-4.1zM183.4 155.7h5.5v4.1h-5.5zM160.1 154.2h2.2v7.5h-2.2zM101.8 212.8h3.7v7.2h-3.7zM276.1 215.3h3.1v4.5h-3.1zM109.0 185.5h2.9v6.1h-2.9zM118.2 200.6h3.2v4.9h-3.2zM108.6 216.3h5.4v8.3h-5.4zM219.6 213.0h3.5v6.4h-3.5zM162.5 198.6h2.1v10.0h-2.1zM123.8 59.8h2.5v5.0h-2.5zM78.1 48.9h3.1v6.2h-3.1zM140.5 126.0h4.9v7.1h-4.9zM88.3 68.7h3.2v8.8h-3.2zM123.4 119.5h4.9v7.1h-4.9zM132.5 137.8h5.5v5.5h-5.5zM181.3 190.7h2.9v8.2h-2.9zM292.4 145.1h6.0v3.5h-6.0zM124.0 100.4h2.6v5.8h-2.6zM155.8 144.7h3.2v7.1h-3.2zM106.3 55.6h3.6v6.1h-3.6zM93.4 103.7h3.6v3.2h-3.6zM88.1 211.6h2.2v4.3h-2.2zM120.8 133.2h3.6v5.3h-3.6zM73.9 163.4h3.3v6.3h-3.3zM172.0 209.4h3.4v7.2h-3.4zM135.9 246.0h3.8v9.5h-3.8zM104.2 97.0h2.3v3.9h-2.3zM72.3 238.0h3.3v7.7h-3.3zM114.2 158.6h2.5v8.4h-2.5zM120.3 144.1h2.3v9.1h-2.3zM152.9 147.4h3.2v8.4h-3.2zM58.5 232.2h2.2v4.6h-2.2zM91.8 144.1h2.8v9.2h-2.8zM69.4 256.0h4.3v8.5h-4.3zM263.4 163.7h5.1v9.8h-5.1zM117.7 227.4h2.1v6.4h-2.1zM83.6 128.3h5.4v9.9h-5.4zM55.2 64.0h5.5v7.2h-5.5zM112.1 155.2h4.7v3.0h-4.7zM61.5 84.3h3.6v9.3h-3.6zM172.4 128.9h2.9v6.8h-2.9zM148.3 147.8h2.8v4.7h-2.8zM134.9 90.1h2.9v5.4h-2.9zM227.6 124.1h4.5v7.0h-4.5zM75.2 229.8h4.8v6.4h-4.8zM92.8 210.1h4.6v5.6h-4.6z" fill="#c8f4bc"/>
<path d="M52.2 78.3h3.0v6.0h-3.0zM203.1 245.8h3.0v6.0h-3.0zM292.7 165.1h3.0v6.0h-3.0zM134.9 216.5h3.0v6.0h-3.0zM109.7 161.1h3.0v6.0h-3.0zM196.3 156.5h3.0v6.0h-3.0zM203.8 196.4h3.0v6.0h-3.0zM221.4 144.9h3.0v6.0h-3.0zM214.8 135.9h3.0v6.0h-3.0zM61.7 86.8h3.0v6.0h-3.0zM117.0 99.2h3.0v6.0h-3.0zM299.5 126.5h3.0v6.0h-3.0zM83.9 162.6h3.0v6.0h-3.0zM138.9 110.5h3.0v6.0h-3.0zM185.2 255.8h3.0v6.0h-3.0zM138.2 106.5h3.0v6.0h-3.0zM244.0 221.0h3.0v6.0h-3.0zM69.6 79.7h3.0v6.0h-3.0zM223.3 235.0h3.0v6.0h-3.0zM79.8 87.0h3.0v6.0h-3.0zM259.8 149.0h3.0v6.0h-3.0zM102.8 73.0h3.0v6.0h-3.0zM136.6 220.4h3.0v6.0h-3.0zM59.4 215.9h3.0v6.0h-3.0zM44.0 77.9h3.0v6.0h-3.0zM140.5 127.3h3.0v6.0h-3.0zM211.5 189.3h3.0v6.0h-3.0zM185.5 96.4h3.0v6.0h-3.0zM72.2 140.2h3.0v6.0h-3.0zM226.6 83.1h3.0v6.0h-3.0zM252.6 144.4h3.0v6.0h-3.0zM272.6 102.8h3.0v6.0h-3.0zM252.9 206.5h3.0v6.0h-3.0zM249.3 224.5h3.0v6.0h-3.0zM56.9 64.1h3.0v6.0h-3.0zM88.9 49.7h3.0v6.0h-3.0zM214.3 104.3h3.0v6.0h-3.0zM95.5 228.1h3.0v6.0h-3.0zM272.1 205.1h3.0v6.0h-3.0zM185.3 194.3h3.0v6.0h-3.0z" fill="#58e048"/>
<polygon points="86,118 96,146 66,172 58,146" fill="#30dc22"/><path d="M26,200 L60,190 L70,206 L40,214 Z" fill="#c0f2b4"/>
</g></g>
<line x1="357.4" y1="83.6" x2="403.2" y2="112.69999999999999" stroke="#4a4a4a" stroke-width="1.1"/>
<line x1="475.5" y1="65.69999999999999" x2="521.3" y2="94.79999999999998" stroke="#4a4a4a" stroke-width="1.1"/>
<line x1="357.4" y1="83.6" x2="475.5" y2="65.69999999999999" stroke="#666" stroke-width="0.95" stroke-dasharray="1.2,1.1"/>
<line x1="403.2" y1="112.69999999999999" x2="521.3" y2="94.79999999999998" stroke="#666" stroke-width="0.95" stroke-dasharray="1.2,1.1"/>
<polygon points="357.4,132.6 475.5,114.7 521.3,143.8 403.2,161.7" fill="#ffffff"/>
<g transform="matrix(0.36157 -0.05237 0.18329 0.1112 351.867 129.632)"><g clip-path="url(#cp)">
<rect x="17" y="20" width="305" height="252" fill="#bfe486"/>
<path d="M89.0 22.0h5.9v8.6h-5.9zM44.0 54.0h6.1v8.6h-6.1zM54.0 54.0h5.2v8.8h-5.2zM84.0 70.0h5.9v11.0h-5.9zM109.0 70.0h6.2v10.4h-6.2zM74.0 78.0h6.2v9.4h-6.2zM74.0 86.0h5.4v9.4h-5.4zM229.0 86.0h5.2v9.9h-5.2zM214.0 94.0h6.2v10.6h-6.2zM264.0 94.0h5.8v10.8h-5.8zM104.0 102.0h5.7v8.8h-5.7zM169.0 102.0h5.2v10.1h-5.2zM204.0 102.0h6.4v10.4h-6.4zM124.0 110.0h6.1v10.8h-6.1zM159.0 110.0h7.0v8.5h-7.0zM199.0 110.0h5.1v9.2h-5.1zM84.0 118.0h5.2v10.2h-5.2zM239.0 118.0h6.0v8.2h-6.0zM269.0 118.0h6.2v11.0h-6.2zM114.0 126.0h5.6v10.8h-5.6zM234.0 126.0h5.9v9.2h-5.9zM109.0 134.0h5.3v10.2h-5.3zM194.0 134.0h5.2v9.1h-5.2zM169.0 142.0h6.1v9.6h-6.1zM184.0 142.0h5.7v8.2h-5.7zM189.0 150.0h5.4v8.2h-5.4zM194.0 150.0h6.9v9.8h-6.9zM199.0 150.0h5.7v9.2h-5.7zM264.0 150.0h6.0v10.4h-6.0zM204.0 158.0h6.1v9.8h-6.1zM89.0 166.0h6.7v8.4h-6.7zM124.0 166.0h6.7v10.4h-6.7zM184.0 166.0h5.6v9.2h-5.6zM294.0 166.0h6.5v10.1h-6.5zM99.0 174.0h5.8v8.5h-5.8zM139.0 174.0h6.9v8.8h-6.9zM109.0 182.0h6.9v9.9h-6.9zM164.0 182.0h5.3v10.1h-5.3zM249.0 182.0h6.0v10.2h-6.0zM54.0 190.0h6.3v9.5h-6.3zM99.0 190.0h5.1v8.0h-5.1zM124.0 190.0h6.8v8.4h-6.8zM254.0 190.0h5.8v9.2h-5.8zM259.0 190.0h5.1v10.4h-5.1zM289.0 190.0h6.6v10.4h-6.6zM214.0 198.0h6.9v9.7h-6.9zM264.0 198.0h6.0v9.3h-6.0zM279.0 206.0h5.1v8.2h-5.1zM99.0 214.0h6.2v9.4h-6.2zM164.0 214.0h5.8v10.1h-5.8zM204.0 214.0h6.4v10.5h-6.4zM249.0 214.0h6.3v10.1h-6.3zM269.0 214.0h5.5v8.2h-5.5zM274.0 214.0h7.0v10.1h-7.0zM89.0 222.0h6.3v10.8h-6.3zM154.0 222.0h6.3v9.9h-6.3zM44.0 230.0h5.5v10.4h-5.5zM144.0 238.0h6.0v8.4h-6.0z" fill="#1aa8a0"/>
<path d="M94.0 22.0h5.4v11.0h-5.4zM99.0 30.0h5.6v10.1h-5.6zM104.0 38.0h5.8v8.3h-5.8zM74.0 46.0h5.1v8.5h-5.1zM79.0 46.0h6.4v9.4h-6.4zM104.0 46.0h5.1v10.1h-5.1zM114.0 46.0h6.3v10.9h-6.3zM94.0 54.0h6.6v9.1h-6.6zM104.0 54.0h6.9v10.2h-6.9zM34.0 62.0h5.4v10.4h-5.4zM69.0 62.0h5.7v10.8h-5.7zM104.0 62.0h6.1v8.2h-6.1zM124.0 62.0h6.8v8.4h-6.8zM44.0 70.0h5.6v8.7h-5.6zM224.0 70.0h6.2v8.3h-6.2zM49.0 78.0h5.2v10.6h-5.2zM84.0 78.0h6.3v10.7h-6.3zM124.0 78.0h6.5v10.3h-6.5zM219.0 78.0h6.7v9.5h-6.7zM224.0 78.0h5.6v9.6h-5.6zM229.0 78.0h5.0v8.2h-5.0zM34.0 86.0h5.7v9.4h-5.7zM149.0 86.0h5.3v9.7h-5.3zM234.0 86.0h5.6v9.3h-5.6zM139.0 94.0h6.8v8.9h-6.8zM234.0 94.0h6.4v9.6h-6.4zM259.0 94.0h6.0v8.0h-6.0zM234.0 102.0h5.7v9.7h-5.7zM244.0 102.0h5.4v9.4h-5.4zM269.0 102.0h5.4v10.0h-5.4zM214.0 110.0h6.8v9.0h-6.8zM219.0 110.0h6.1v9.8h-6.1zM244.0 110.0h6.9v10.2h-6.9zM249.0 110.0h6.0v8.1h-6.0zM269.0 110.0h5.3v10.2h-5.3zM284.0 110.0h6.2v8.3h-6.2zM209.0 118.0h6.2v10.7h-6.2zM224.0 118.0h5.4v10.2h-5.4zM214.0 126.0h5.6v8.7h-5.6zM274.0 126.0h5.9v8.5h-5.9zM289.0 126.0h6.4v9.8h-6.4z" fill="#7ee44c"/>
<path d="M99.0 22.0h6.3v9.6h-6.3zM89.0 38.0h6.5v8.6h-6.5zM44.0 46.0h6.9v8.2h-6.9zM119.0 54.0h5.1v10.7h-5.1zM64.0 62.0h6.3v9.3h-6.3zM39.0 70.0h6.0v10.5h-6.0zM49.0 70.0h6.1v10.8h-6.1zM114.0 70.0h5.7v10.5h-5.7zM119.0 70.0h5.1v9.5h-5.1zM129.0 70.0h6.6v8.7h-6.6zM229.0 70.0h5.9v10.2h-5.9zM44.0 78.0h5.2v8.0h-5.2zM64.0 78.0h5.2v10.7h-5.2zM104.0 78.0h6.0v10.3h-6.0zM114.0 78.0h6.5v11.0h-6.5zM234.0 78.0h6.1v9.4h-6.1zM54.0 86.0h6.3v8.9h-6.3zM64.0 86.0h5.1v10.0h-5.1zM94.0 86.0h5.5v8.6h-5.5zM119.0 86.0h5.0v10.8h-5.0zM209.0 86.0h6.6v10.0h-6.6zM224.0 86.0h5.8v10.4h-5.8zM79.0 94.0h5.9v9.4h-5.9zM84.0 94.0h5.4v8.5h-5.4zM99.0 94.0h6.6v9.7h-6.6zM149.0 94.0h5.8v10.9h-5.8zM79.0 102.0h6.7v10.4h-6.7zM114.0 102.0h6.6v9.3h-6.6zM139.0 102.0h6.6v9.3h-6.6zM204.0 110.0h6.6v9.3h-6.6zM229.0 118.0h7.0v10.3h-7.0zM274.0 118.0h5.0v10.9h-5.0zM279.0 118.0h6.5v10.1h-6.5zM209.0 126.0h6.2v9.6h-6.2zM229.0 126.0h5.6v9.8h-5.6z" fill="#30d84a"/>
<path d="M89.0 30.0h6.0v8.2h-6.0zM99.0 38.0h5.3v8.7h-5.3zM94.0 46.0h6.3v10.1h-6.3zM39.0 54.0h7.0v8.0h-7.0zM49.0 54.0h6.8v10.1h-6.8zM79.0 54.0h6.3v10.2h-6.3zM109.0 54.0h6.7v10.2h-6.7zM124.0 54.0h6.9v9.2h-6.9zM44.0 62.0h6.0v9.9h-6.0zM79.0 62.0h6.4v10.9h-6.4zM84.0 62.0h6.8v9.0h-6.8zM99.0 62.0h5.8v9.0h-5.8zM79.0 70.0h6.9v8.8h-6.9zM59.0 78.0h5.2v10.4h-5.2zM94.0 78.0h5.9v9.0h-5.9zM129.0 78.0h5.5v8.4h-5.5zM69.0 86.0h6.5v8.3h-6.5zM99.0 86.0h5.2v10.5h-5.2zM159.0 86.0h6.4v9.2h-6.4zM184.0 86.0h5.8v9.4h-5.8zM44.0 94.0h5.9v8.2h-5.9zM64.0 94.0h5.9v9.3h-5.9zM104.0 94.0h5.1v9.0h-5.1zM109.0 94.0h5.6v8.2h-5.6zM124.0 94.0h5.4v10.6h-5.4zM129.0 94.0h6.0v8.5h-6.0zM144.0 94.0h6.4v10.6h-6.4zM239.0 94.0h5.6v10.6h-5.6zM74.0 102.0h5.1v10.4h-5.1zM84.0 102.0h5.3v10.3h-5.3zM89.0 102.0h6.6v10.1h-6.6zM94.0 102.0h6.2v9.2h-6.2zM129.0 102.0h6.0v10.3h-6.0zM134.0 102.0h5.8v9.9h-5.8zM189.0 102.0h6.6v10.1h-6.6zM169.0 110.0h6.8v8.1h-6.8zM259.0 110.0h6.1v9.5h-6.1zM274.0 110.0h5.9v10.9h-5.9zM134.0 118.0h6.4v9.1h-6.4zM139.0 118.0h5.3v9.8h-5.3zM174.0 118.0h5.3v9.5h-5.3zM234.0 118.0h6.6v8.5h-6.6zM249.0 118.0h5.8v8.3h-5.8zM254.0 118.0h6.4v8.3h-6.4zM264.0 118.0h6.4v9.4h-6.4zM74.0 126.0h6.1v8.8h-6.1zM79.0 126.0h5.1v10.4h-5.1zM89.0 126.0h5.2v10.3h-5.2zM144.0 126.0h5.7v8.3h-5.7zM154.0 126.0h6.1v9.7h-6.1zM164.0 126.0h6.4v8.6h-6.4zM239.0 126.0h5.9v8.9h-5.9zM259.0 126.0h6.5v9.3h-6.5zM79.0 134.0h5.0v8.5h-5.0zM184.0 134.0h5.4v8.6h-5.4zM214.0 134.0h6.5v10.0h-6.5zM244.0 134.0h6.6v10.3h-6.6zM279.0 134.0h6.7v10.0h-6.7zM284.0 134.0h6.0v9.2h-6.0zM289.0 134.0h5.9v10.4h-5.9zM294.0 134.0h7.0v10.8h-7.0zM134.0 142.0h6.3v8.1h-6.3zM164.0 142.0h5.7v9.0h-5.7zM199.0 142.0h5.1v8.4h-5.1zM224.0 142.0h7.0v9.4h-7.0zM79.0 150.0h6.4v8.4h-6.4zM84.0 150.0h6.5v9.0h-6.5zM94.0 150.0h5.7v8.9h-5.7zM139.0 150.0h6.4v9.2h-6.4zM174.0 150.0h5.9v10.4h-5.9zM224.0 150.0h6.3v9.1h-6.3zM229.0 150.0h6.2v9.4h-6.2zM234.0 150.0h5.2v11.0h-5.2zM269.0 150.0h6.6v10.0h-6.6zM274.0 150.0h6.3v8.2h-6.3zM294.0 150.0h6.7v10.5h-6.7zM114.0 158.0h6.5v9.9h-6.5zM129.0 158.0h5.0v9.0h-5.0zM139.0 158.0h6.4v10.5h-6.4zM144.0 158.0h7.0v9.2h-7.0zM149.0 158.0h6.8v10.4h-6.8zM174.0 158.0h6.0v10.8h-6.0zM179.0 158.0h5.1v9.6h-5.1zM219.0 158.0h6.7v9.0h-6.7zM244.0 158.0h6.1v8.7h-6.1zM254.0 158.0h5.8v10.8h-5.8zM279.0 158.0h6.3v11.0h-6.3zM284.0 158.0h5.1v10.1h-5.1zM289.0 158.0h6.0v9.1h-6.0zM104.0 166.0h6.5v10.0h-6.5zM119.0 166.0h5.9v8.4h-5.9zM149.0 166.0h6.2v10.5h-6.2zM209.0 166.0h5.1v10.2h-5.1zM219.0 166.0h5.1v8.1h-5.1zM224.0 166.0h5.3v10.9h-5.3zM264.0 166.0h5.7v10.4h-5.7zM79.0 174.0h5.2v10.6h-5.2zM229.0 174.0h5.0v8.7h-5.0zM234.0 174.0h6.8v9.9h-6.8zM239.0 174.0h6.2v9.1h-6.2zM244.0 174.0h6.8v8.2h-6.8zM254.0 174.0h5.7v9.0h-5.7zM264.0 174.0h6.9v10.1h-6.9zM279.0 174.0h5.3v8.4h-5.3zM129.0 190.0h6.8v10.0h-6.8zM164.0 190.0h5.6v9.1h-5.6zM179.0 190.0h5.9v8.5h-5.9zM184.0 190.0h6.9v9.6h-6.9zM274.0 190.0h6.7v9.1h-6.7zM54.0 198.0h6.4v8.7h-6.4zM84.0 198.0h6.1v10.5h-6.1zM99.0 198.0h6.4v9.5h-6.4zM254.0 198.0h6.1v9.3h-6.1zM279.0 198.0h6.7v10.7h-6.7zM34.0 206.0h5.1v8.8h-5.1zM39.0 206.0h5.5v10.5h-5.5zM59.0 206.0h6.0v9.7h-6.0zM89.0 206.0h6.1v8.8h-6.1zM109.0 206.0h5.1v8.2h-5.1zM134.0 206.0h5.9v8.9h-5.9zM139.0 206.0h5.1v8.8h-5.1zM144.0 206.0h6.5v8.7h-6.5zM189.0 206.0h6.3v9.4h-6.3zM209.0 206.0h6.6v10.4h-6.6zM234.0 206.0h6.1v10.8h-6.1zM274.0 206.0h5.5v8.1h-5.5zM149.0 214.0h5.1v10.5h-5.1zM239.0 214.0h5.3v8.4h-5.3zM254.0 214.0h6.5v10.2h-6.5zM284.0 214.0h5.3v10.4h-5.3zM54.0 222.0h5.2v8.9h-5.2zM59.0 222.0h5.3v8.7h-5.3zM94.0 222.0h5.5v9.4h-5.5zM99.0 222.0h6.1v10.7h-6.1zM104.0 222.0h6.9v10.0h-6.9zM209.0 222.0h6.5v8.5h-6.5zM249.0 222.0h5.9v9.4h-5.9zM54.0 230.0h5.7v9.6h-5.7zM64.0 230.0h5.5v8.7h-5.5zM69.0 230.0h6.0v10.9h-6.0zM74.0 230.0h5.6v11.0h-5.6zM119.0 230.0h6.2v9.6h-6.2zM144.0 230.0h6.9v8.6h-6.9zM169.0 230.0h6.5v9.8h-6.5zM84.0 238.0h5.2v10.0h-5.2zM144.0 246.0h6.1v10.9h-6.1zM189.0 246.0h5.8v10.5h-5.8zM144.0 254.0h6.7v9.2h-6.7z" fill="#48d448"/>
<path d="M94.0 30.0h6.7v10.9h-6.7zM64.0 46.0h5.7v10.6h-5.7zM119.0 62.0h6.7v9.1h-6.7zM129.0 62.0h6.2v9.7h-6.2zM89.0 70.0h5.7v9.1h-5.7zM89.0 86.0h7.0v10.9h-7.0zM104.0 86.0h6.0v8.1h-6.0zM219.0 86.0h5.6v10.1h-5.6zM109.0 102.0h6.8v9.2h-6.8zM119.0 102.0h5.5v10.6h-5.5zM119.0 110.0h6.3v9.8h-6.3zM144.0 110.0h5.4v9.2h-5.4zM154.0 110.0h6.8v8.4h-6.8zM179.0 110.0h6.6v10.3h-6.6zM84.0 126.0h5.2v9.2h-5.2zM139.0 126.0h6.2v10.1h-6.2zM249.0 126.0h6.8v8.0h-6.8zM69.0 134.0h6.7v8.0h-6.7zM159.0 134.0h6.9v9.0h-6.9zM234.0 134.0h6.4v9.3h-6.4zM204.0 142.0h5.4v10.9h-5.4zM129.0 150.0h5.0v9.3h-5.0zM239.0 150.0h5.1v9.6h-5.1zM279.0 150.0h5.1v9.9h-5.1zM139.0 166.0h5.0v9.0h-5.0zM214.0 166.0h6.2v10.2h-6.2zM259.0 166.0h5.2v9.4h-5.2zM164.0 174.0h6.3v8.7h-6.3zM234.0 182.0h6.0v8.7h-6.0zM254.0 182.0h5.3v8.9h-5.3zM274.0 182.0h6.6v8.6h-6.6zM114.0 198.0h5.7v10.2h-5.7zM139.0 198.0h6.3v9.5h-6.3zM184.0 198.0h6.0v8.8h-6.0zM104.0 206.0h5.8v10.1h-5.8zM119.0 206.0h6.2v10.7h-6.2zM124.0 206.0h5.1v8.2h-5.1zM164.0 206.0h6.2v10.8h-6.2zM184.0 206.0h6.3v9.3h-6.3zM239.0 206.0h5.3v10.4h-5.3zM284.0 206.0h6.1v9.2h-6.1zM84.0 214.0h6.2v10.7h-6.2zM279.0 214.0h5.9v8.8h-5.9zM189.0 238.0h6.0v10.1h-6.0zM149.0 246.0h6.8v10.7h-6.8z" fill="#22b88c"/>
<path d="M84.0 38.0h6.5v8.9h-6.5zM109.0 38.0h5.3v8.2h-5.3zM84.0 46.0h6.6v9.1h-6.6zM89.0 46.0h6.9v8.4h-6.9zM109.0 46.0h5.2v10.4h-5.2zM64.0 54.0h5.1v9.2h-5.1zM74.0 54.0h6.8v10.5h-6.8zM84.0 54.0h6.3v9.2h-6.3zM89.0 54.0h6.0v10.7h-6.0zM99.0 54.0h6.8v10.3h-6.8zM54.0 62.0h6.3v8.9h-6.3zM74.0 62.0h5.1v8.7h-5.1zM114.0 62.0h5.6v10.2h-5.6zM34.0 70.0h6.3v9.6h-6.3zM64.0 70.0h5.9v8.8h-5.9zM94.0 70.0h6.9v10.9h-6.9zM99.0 70.0h6.6v10.8h-6.6zM124.0 70.0h5.9v9.0h-5.9zM134.0 70.0h5.9v8.8h-5.9zM54.0 78.0h5.7v10.3h-5.7zM89.0 78.0h5.3v10.2h-5.3zM99.0 78.0h6.1v8.3h-6.1zM119.0 78.0h5.2v8.0h-5.2zM174.0 78.0h6.2v8.5h-6.2zM39.0 86.0h5.1v10.1h-5.1zM49.0 86.0h6.1v8.6h-6.1zM79.0 86.0h5.8v9.2h-5.8zM114.0 86.0h6.0v10.5h-6.0zM139.0 86.0h6.8v9.0h-6.8zM174.0 86.0h6.1v9.4h-6.1zM204.0 86.0h5.8v8.2h-5.8zM239.0 86.0h5.1v9.1h-5.1zM249.0 86.0h5.0v10.4h-5.0zM254.0 86.0h5.0v10.3h-5.0zM49.0 94.0h5.8v10.1h-5.8zM54.0 94.0h5.3v10.1h-5.3zM59.0 94.0h6.1v10.2h-6.1zM114.0 94.0h5.6v10.3h-5.6zM154.0 94.0h5.6v10.3h-5.6zM199.0 94.0h5.8v10.3h-5.8zM224.0 94.0h6.4v10.0h-6.4zM249.0 94.0h5.8v9.3h-5.8zM144.0 102.0h5.2v10.2h-5.2zM239.0 102.0h5.7v8.7h-5.7zM249.0 102.0h5.5v9.6h-5.5zM89.0 110.0h5.2v8.4h-5.2zM149.0 110.0h6.1v10.2h-6.1zM189.0 110.0h5.3v10.0h-5.3zM224.0 110.0h6.1v9.4h-6.1zM229.0 110.0h5.4v8.1h-5.4zM234.0 110.0h5.9v8.7h-5.9zM109.0 118.0h6.9v8.8h-6.9zM129.0 118.0h5.7v11.0h-5.7zM144.0 118.0h5.3v10.1h-5.3zM204.0 118.0h5.1v8.2h-5.1zM244.0 118.0h5.2v9.4h-5.2zM124.0 126.0h5.8v10.7h-5.8zM194.0 126.0h6.6v8.5h-6.6zM199.0 126.0h6.6v8.0h-6.6zM254.0 126.0h5.7v9.9h-5.7zM294.0 126.0h6.2v8.1h-6.2zM84.0 134.0h6.5v9.7h-6.5zM99.0 134.0h6.8v8.8h-6.8zM124.0 134.0h6.8v9.4h-6.8zM139.0 134.0h6.6v8.4h-6.6zM154.0 134.0h6.4v9.8h-6.4zM169.0 134.0h5.3v9.9h-5.3zM174.0 134.0h6.6v10.7h-6.6zM189.0 134.0h5.8v9.1h-5.8zM239.0 134.0h5.6v10.8h-5.6zM274.0 134.0h5.5v9.7h-5.5zM69.0 142.0h6.6v9.4h-6.6zM109.0 142.0h5.2v10.0h-5.2zM174.0 142.0h5.3v10.0h-5.3zM249.0 142.0h6.5v10.5h-6.5zM299.0 142.0h5.8v9.2h-5.8zM89.0 150.0h5.2v8.9h-5.2zM99.0 150.0h5.2v9.3h-5.2zM124.0 150.0h5.6v9.7h-5.6zM154.0 150.0h6.2v10.5h-6.2zM209.0 150.0h6.3v10.4h-6.3zM249.0 150.0h6.7v8.4h-6.7zM284.0 150.0h5.2v8.4h-5.2zM289.0 150.0h6.5v10.5h-6.5zM69.0 158.0h5.5v10.7h-5.5zM164.0 158.0h5.3v8.6h-5.3zM199.0 158.0h6.4v9.6h-6.4zM214.0 158.0h6.7v8.6h-6.7zM224.0 158.0h6.3v8.1h-6.3zM234.0 158.0h5.4v9.4h-5.4zM269.0 158.0h6.2v9.5h-6.2zM294.0 158.0h6.5v8.3h-6.5zM79.0 166.0h6.0v9.6h-6.0zM154.0 166.0h6.4v10.6h-6.4zM159.0 166.0h5.1v8.2h-5.1zM164.0 166.0h5.4v8.9h-5.4zM189.0 166.0h6.5v10.8h-6.5zM199.0 166.0h6.6v9.9h-6.6zM229.0 166.0h5.4v8.9h-5.4zM234.0 166.0h6.4v8.9h-6.4zM239.0 166.0h6.8v10.5h-6.8zM274.0 166.0h6.4v9.0h-6.4zM284.0 166.0h6.0v9.5h-6.0zM289.0 166.0h6.0v10.5h-6.0zM94.0 174.0h5.3v8.4h-5.3zM104.0 174.0h6.4v8.5h-6.4zM129.0 174.0h6.9v8.1h-6.9zM159.0 174.0h6.2v9.4h-6.2zM174.0 174.0h6.3v10.4h-6.3zM184.0 174.0h6.5v10.3h-6.5zM189.0 174.0h6.0v9.3h-6.0zM219.0 174.0h6.9v9.9h-6.9zM274.0 174.0h5.7v10.8h-5.7zM104.0 182.0h5.9v8.3h-5.9zM139.0 182.0h5.9v8.8h-5.9zM169.0 182.0h6.1v10.4h-6.1zM189.0 182.0h6.8v10.2h-6.8zM269.0 182.0h5.3v8.7h-5.3zM59.0 190.0h6.6v10.1h-6.6zM114.0 190.0h6.3v11.0h-6.3zM144.0 190.0h5.7v8.7h-5.7zM149.0 190.0h5.8v9.6h-5.8zM169.0 190.0h6.8v9.3h-6.8zM49.0 198.0h6.8v11.0h-6.8zM59.0 198.0h5.6v10.7h-5.6zM104.0 198.0h6.6v8.4h-6.6zM144.0 198.0h6.7v11.0h-6.7zM149.0 198.0h5.2v9.8h-5.2zM209.0 198.0h6.7v9.2h-6.7zM244.0 198.0h5.4v8.3h-5.4zM249.0 198.0h6.7v9.7h-6.7zM269.0 198.0h5.7v8.7h-5.7zM44.0 206.0h5.7v10.4h-5.7zM94.0 206.0h6.5v10.9h-6.5zM149.0 206.0h6.8v10.4h-6.8zM179.0 206.0h6.4v8.6h-6.4zM269.0 206.0h5.3v9.9h-5.3zM64.0 214.0h7.0v9.7h-7.0zM69.0 214.0h6.9v9.4h-6.9zM79.0 214.0h5.2v10.7h-5.2zM109.0 214.0h5.5v9.0h-5.5zM114.0 214.0h5.8v10.9h-5.8zM119.0 214.0h6.6v8.3h-6.6zM129.0 214.0h5.8v9.4h-5.8zM139.0 214.0h6.1v9.3h-6.1zM174.0 214.0h5.5v9.2h-5.5zM184.0 214.0h6.5v9.1h-6.5zM189.0 214.0h5.8v10.3h-5.8zM199.0 214.0h5.1v9.3h-5.1zM44.0 222.0h6.2v8.2h-6.2zM49.0 222.0h6.6v10.5h-6.6zM64.0 222.0h5.4v11.0h-5.4zM69.0 222.0h6.2v8.4h-6.2zM109.0 222.0h6.6v8.0h-6.6zM114.0 222.0h5.5v9.7h-5.5zM134.0 222.0h5.4v9.9h-5.4zM164.0 222.0h5.6v10.6h-5.6zM169.0 222.0h5.2v10.8h-5.2zM174.0 222.0h6.5v10.1h-6.5zM219.0 222.0h6.9v8.1h-6.9zM89.0 230.0h6.6v8.6h-6.6zM149.0 230.0h5.5v8.5h-5.5zM174.0 230.0h6.4v10.5h-6.4zM64.0 238.0h6.9v8.9h-6.9zM139.0 238.0h5.5v10.8h-5.5zM184.0 238.0h6.4v9.5h-6.4zM54.0 246.0h5.4v9.2h-5.4zM74.0 246.0h5.9v9.6h-5.9zM139.0 246.0h5.2v9.3h-5.2zM74.0 254.0h5.8v10.3h-5.8z" fill="#36cc54"/>
<path d="M94.0 38.0h6.7v9.6h-6.7zM114.0 38.0h6.5v8.8h-6.5zM39.0 46.0h6.9v10.0h-6.9zM114.0 54.0h5.2v8.7h-5.2zM39.0 62.0h6.3v8.3h-6.3zM59.0 62.0h6.0v10.7h-6.0zM89.0 62.0h6.3v8.2h-6.3zM59.0 70.0h5.8v8.6h-5.8zM69.0 70.0h5.7v10.0h-5.7zM104.0 70.0h5.2v10.2h-5.2zM69.0 78.0h6.1v10.1h-6.1zM109.0 78.0h6.6v8.1h-6.6zM239.0 78.0h6.9v8.5h-6.9zM59.0 86.0h5.7v8.4h-5.7zM109.0 86.0h6.8v9.9h-6.8zM124.0 86.0h6.2v9.6h-6.2zM129.0 86.0h6.9v10.4h-6.9zM144.0 86.0h6.0v9.9h-6.0zM214.0 86.0h6.3v8.8h-6.3zM259.0 86.0h6.1v8.3h-6.1zM89.0 94.0h6.8v9.8h-6.8zM204.0 94.0h6.8v10.8h-6.8zM229.0 94.0h6.2v10.3h-6.2zM244.0 94.0h6.6v10.7h-6.6zM99.0 102.0h5.6v10.6h-5.6zM124.0 102.0h6.4v8.2h-6.4zM149.0 102.0h6.1v10.9h-6.1zM209.0 102.0h5.1v9.3h-5.1zM254.0 102.0h6.3v9.6h-6.3zM239.0 110.0h6.9v8.9h-6.9zM254.0 110.0h6.7v10.4h-6.7zM264.0 110.0h5.4v10.7h-5.4zM279.0 110.0h5.5v10.2h-5.5zM214.0 118.0h5.2v9.6h-5.2zM284.0 118.0h5.5v10.2h-5.5zM204.0 126.0h7.0v8.4h-7.0zM264.0 126.0h5.9v10.1h-5.9zM279.0 126.0h5.3v9.5h-5.3z" fill="#44dc3c"/>
<path d="M69.0 46.0h6.2v10.1h-6.2zM99.0 46.0h6.9v10.5h-6.9zM69.0 54.0h7.0v8.0h-7.0zM49.0 62.0h6.6v9.0h-6.6zM94.0 62.0h5.6v10.9h-5.6zM109.0 62.0h6.1v9.8h-6.1zM54.0 70.0h5.7v9.2h-5.7zM74.0 70.0h6.4v9.4h-6.4zM39.0 78.0h5.5v9.3h-5.5zM79.0 78.0h6.9v10.8h-6.9zM244.0 78.0h5.2v9.4h-5.2zM249.0 78.0h6.0v9.6h-6.0zM44.0 86.0h5.3v8.9h-5.3zM84.0 86.0h5.2v9.6h-5.2zM134.0 86.0h6.2v8.4h-6.2zM244.0 86.0h5.1v10.7h-5.1zM69.0 94.0h6.6v9.5h-6.6zM74.0 94.0h6.7v9.4h-6.7zM94.0 94.0h6.4v11.0h-6.4zM119.0 94.0h6.0v9.6h-6.0zM134.0 94.0h5.8v9.3h-5.8zM209.0 94.0h6.1v10.8h-6.1zM219.0 94.0h5.2v9.6h-5.2zM254.0 94.0h6.3v8.5h-6.3zM214.0 102.0h6.5v8.4h-6.5zM219.0 102.0h5.1v9.8h-5.1zM224.0 102.0h6.2v9.2h-6.2zM229.0 102.0h5.7v9.7h-5.7zM259.0 102.0h6.7v8.4h-6.7zM209.0 110.0h6.8v9.4h-6.8zM219.0 118.0h5.9v8.4h-5.9zM259.0 118.0h6.7v10.3h-6.7zM289.0 118.0h6.1v8.9h-6.1zM294.0 118.0h5.6v8.4h-5.6zM244.0 126.0h5.3v10.3h-5.3zM269.0 126.0h5.1v9.6h-5.1zM284.0 126.0h5.6v9.4h-5.6zM299.0 126.0h5.3v10.3h-5.3z" fill="#22d050"/>
<path d="M59.0 54.0h5.6v9.9h-5.6zM134.0 78.0h6.4v8.8h-6.4zM139.0 78.0h5.3v10.1h-5.3zM154.0 86.0h7.0v9.6h-7.0zM179.0 94.0h7.0v9.7h-7.0zM189.0 94.0h5.1v8.1h-5.1zM199.0 102.0h5.9v8.6h-5.9zM84.0 110.0h5.8v10.6h-5.8zM139.0 110.0h6.9v9.4h-6.9zM164.0 110.0h6.2v10.3h-6.2zM94.0 118.0h6.4v9.5h-6.4zM104.0 118.0h5.2v10.1h-5.2zM199.0 118.0h6.0v9.3h-6.0zM299.0 118.0h6.7v8.3h-6.7zM134.0 126.0h7.0v8.8h-7.0zM169.0 126.0h5.2v8.2h-5.2zM224.0 126.0h6.9v8.3h-6.9zM94.0 134.0h6.3v8.3h-6.3zM104.0 134.0h5.8v10.6h-5.8zM134.0 134.0h6.7v9.2h-6.7zM224.0 134.0h5.8v8.1h-5.8zM229.0 134.0h5.9v8.9h-5.9zM99.0 142.0h5.2v8.4h-5.2zM114.0 142.0h6.8v9.0h-6.8zM149.0 142.0h5.8v10.1h-5.8zM179.0 142.0h5.3v9.1h-5.3zM209.0 142.0h6.1v9.6h-6.1zM214.0 142.0h5.4v8.1h-5.4zM234.0 142.0h5.2v8.4h-5.2zM244.0 142.0h5.2v8.6h-5.2zM259.0 142.0h5.1v10.2h-5.1zM284.0 142.0h6.0v10.2h-6.0zM59.0 150.0h6.3v10.1h-6.3zM159.0 150.0h5.2v8.2h-5.2zM164.0 150.0h6.7v10.9h-6.7zM184.0 150.0h6.1v9.3h-6.1zM79.0 158.0h5.6v8.8h-5.6zM99.0 158.0h6.3v9.7h-6.3zM124.0 158.0h5.4v10.3h-5.4zM114.0 166.0h6.3v10.6h-6.3zM174.0 166.0h5.7v10.2h-5.7zM194.0 166.0h5.0v10.9h-5.0zM249.0 166.0h5.2v10.5h-5.2zM254.0 166.0h5.6v9.0h-5.6zM89.0 174.0h5.6v9.2h-5.6zM114.0 174.0h6.4v10.3h-6.4zM204.0 174.0h5.4v8.7h-5.4zM224.0 174.0h5.3v10.2h-5.3zM284.0 174.0h5.9v10.7h-5.9zM99.0 182.0h7.0v8.1h-7.0zM124.0 182.0h6.1v8.8h-6.1zM154.0 182.0h6.0v10.0h-6.0zM194.0 182.0h6.8v10.8h-6.8zM244.0 182.0h6.3v9.4h-6.3zM279.0 182.0h6.9v10.3h-6.9zM89.0 190.0h6.1v9.3h-6.1zM159.0 190.0h6.0v10.4h-6.0zM229.0 190.0h5.3v10.9h-5.3zM34.0 198.0h6.3v10.1h-6.3zM94.0 198.0h6.9v8.4h-6.9zM119.0 198.0h5.6v10.3h-5.6zM129.0 198.0h6.5v9.2h-6.5zM174.0 198.0h6.1v9.1h-6.1zM239.0 198.0h7.0v8.7h-7.0zM29.0 206.0h6.1v10.6h-6.1zM49.0 206.0h6.4v8.1h-6.4zM69.0 206.0h6.1v9.4h-6.1zM114.0 206.0h5.2v9.7h-5.2zM194.0 206.0h6.1v8.8h-6.1zM229.0 206.0h5.7v8.5h-5.7zM259.0 206.0h6.6v11.0h-6.6zM264.0 206.0h7.0v8.4h-7.0zM289.0 206.0h6.1v10.0h-6.1zM49.0 214.0h6.9v8.0h-6.9zM144.0 214.0h6.0v8.1h-6.0zM154.0 214.0h5.6v8.4h-5.6zM159.0 214.0h5.2v9.9h-5.2zM229.0 214.0h6.7v10.8h-6.7zM264.0 214.0h5.2v8.4h-5.2zM79.0 222.0h6.2v10.9h-6.2zM144.0 222.0h6.4v10.3h-6.4zM199.0 222.0h6.0v10.0h-6.0zM49.0 230.0h6.5v9.5h-6.5zM79.0 230.0h6.5v8.0h-6.5zM124.0 230.0h6.4v9.8h-6.4zM139.0 230.0h6.0v8.8h-6.0zM154.0 230.0h5.7v10.5h-5.7zM44.0 238.0h5.3v9.1h-5.3zM54.0 238.0h6.0v8.1h-6.0zM59.0 238.0h6.7v10.0h-6.7zM79.0 238.0h5.3v9.6h-5.3zM94.0 238.0h5.3v9.4h-5.3zM84.0 246.0h5.2v9.7h-5.2zM59.0 254.0h6.1v9.3h-6.1z" fill="#b8e674"/>
<path d="M179.0 78.0h5.9v8.9h-5.9zM164.0 86.0h5.0v8.2h-5.0zM169.0 86.0h5.2v10.3h-5.2zM159.0 94.0h6.6v10.1h-6.6zM164.0 94.0h7.0v10.7h-7.0zM174.0 94.0h6.7v9.2h-6.7zM184.0 94.0h5.9v8.4h-5.9zM154.0 102.0h5.8v10.5h-5.8zM194.0 102.0h5.7v8.9h-5.7zM264.0 102.0h6.0v8.1h-6.0zM274.0 102.0h6.0v8.5h-6.0zM104.0 110.0h6.2v8.2h-6.2zM129.0 110.0h6.8v10.7h-6.8zM124.0 118.0h5.8v9.1h-5.8zM149.0 118.0h6.6v11.0h-6.6zM159.0 118.0h6.8v8.6h-6.8zM189.0 118.0h6.2v10.4h-6.2zM99.0 126.0h6.5v10.9h-6.5zM104.0 126.0h5.1v9.6h-5.1zM119.0 126.0h6.0v8.4h-6.0zM159.0 126.0h5.3v8.2h-5.3zM184.0 126.0h5.4v8.6h-5.4zM189.0 126.0h6.2v8.4h-6.2zM219.0 126.0h5.5v8.4h-5.5zM59.0 134.0h6.2v10.2h-6.2zM129.0 134.0h6.3v8.1h-6.3zM144.0 134.0h5.1v8.6h-5.1zM219.0 134.0h5.5v8.9h-5.5zM264.0 134.0h5.3v10.9h-5.3zM64.0 142.0h6.0v10.5h-6.0zM84.0 142.0h5.7v8.5h-5.7zM139.0 142.0h7.0v10.5h-7.0zM159.0 142.0h6.4v10.0h-6.4zM189.0 142.0h6.6v8.0h-6.6zM264.0 142.0h5.5v9.3h-5.5zM269.0 142.0h6.0v10.4h-6.0zM279.0 142.0h5.3v8.7h-5.3zM289.0 142.0h6.9v10.8h-6.9zM294.0 142.0h6.5v8.9h-6.5zM254.0 150.0h6.9v8.9h-6.9zM299.0 150.0h6.1v9.3h-6.1zM64.0 158.0h6.9v9.8h-6.9zM89.0 158.0h5.2v10.7h-5.2zM94.0 158.0h6.9v10.2h-6.9zM134.0 158.0h5.1v9.1h-5.1zM184.0 158.0h5.7v10.7h-5.7zM229.0 158.0h6.0v9.5h-6.0zM239.0 158.0h6.6v10.4h-6.6zM264.0 158.0h5.3v8.1h-5.3zM109.0 166.0h5.7v10.3h-5.7zM144.0 166.0h5.5v8.6h-5.5zM169.0 166.0h5.6v9.9h-5.6zM204.0 166.0h6.8v8.9h-6.8zM244.0 166.0h5.1v8.6h-5.1zM279.0 166.0h6.7v9.5h-6.7zM154.0 174.0h7.0v9.2h-7.0zM289.0 174.0h6.5v8.3h-6.5zM84.0 182.0h6.5v9.5h-6.5zM94.0 182.0h5.9v9.5h-5.9zM114.0 182.0h5.5v9.2h-5.5zM134.0 182.0h5.7v10.9h-5.7zM219.0 182.0h6.7v9.6h-6.7zM259.0 182.0h5.3v8.3h-5.3zM64.0 190.0h5.5v9.0h-5.5zM74.0 190.0h6.0v9.9h-6.0zM79.0 190.0h6.1v10.8h-6.1zM209.0 190.0h6.3v10.7h-6.3zM219.0 190.0h5.7v10.8h-5.7zM244.0 190.0h6.1v8.7h-6.1zM284.0 190.0h5.2v8.8h-5.2zM29.0 198.0h6.5v8.7h-6.5zM89.0 198.0h5.3v9.0h-5.3zM154.0 198.0h5.9v8.2h-5.9zM164.0 198.0h6.1v9.1h-6.1zM224.0 198.0h5.3v8.0h-5.3zM259.0 198.0h6.1v8.3h-6.1zM289.0 198.0h7.0v9.4h-7.0zM64.0 206.0h6.9v8.6h-6.9zM79.0 206.0h5.8v8.0h-5.8zM99.0 206.0h5.3v9.4h-5.3zM129.0 206.0h6.0v8.4h-6.0zM174.0 206.0h5.0v8.8h-5.0zM199.0 206.0h5.6v9.6h-5.6zM219.0 206.0h6.5v9.2h-6.5zM244.0 206.0h6.3v10.1h-6.3zM104.0 214.0h6.8v10.9h-6.8zM194.0 214.0h6.7v8.2h-6.7zM219.0 214.0h5.7v9.0h-5.7zM224.0 214.0h5.1v11.0h-5.1zM244.0 214.0h5.4v8.7h-5.4zM84.0 222.0h6.9v9.6h-6.9zM124.0 222.0h6.8v10.6h-6.8zM129.0 222.0h5.5v8.2h-5.5zM139.0 222.0h6.3v8.6h-6.3zM189.0 222.0h6.2v10.6h-6.2zM234.0 222.0h6.1v9.8h-6.1zM129.0 230.0h6.3v8.6h-6.3zM189.0 230.0h6.8v9.1h-6.8zM194.0 230.0h5.8v9.3h-5.8zM219.0 230.0h5.3v8.7h-5.3zM224.0 230.0h5.9v9.7h-5.9zM49.0 238.0h6.5v8.7h-6.5zM74.0 238.0h6.1v8.4h-6.1zM124.0 238.0h5.2v9.0h-5.2zM149.0 238.0h6.3v8.4h-6.3zM194.0 238.0h5.2v10.7h-5.2zM64.0 246.0h5.2v9.3h-5.2zM79.0 246.0h6.8v9.3h-6.8z" fill="#a8e066"/>
<path d="M179.0 86.0h6.7v8.7h-6.7zM169.0 94.0h6.7v8.2h-6.7zM164.0 102.0h6.1v10.7h-6.1zM94.0 110.0h6.3v10.7h-6.3zM134.0 110.0h5.2v9.2h-5.2zM154.0 118.0h6.0v9.7h-6.0zM164.0 118.0h5.3v10.1h-5.3zM94.0 126.0h6.6v10.7h-6.6zM109.0 126.0h5.1v8.7h-5.1zM164.0 134.0h6.1v8.5h-6.1zM179.0 134.0h5.5v8.7h-5.5zM249.0 134.0h5.3v9.6h-5.3zM259.0 134.0h6.1v9.3h-6.1zM59.0 142.0h5.5v9.9h-5.5zM89.0 142.0h6.6v10.8h-6.6zM94.0 142.0h5.9v10.5h-5.9zM104.0 142.0h6.6v8.2h-6.6zM124.0 142.0h5.3v8.0h-5.3zM144.0 142.0h6.9v8.2h-6.9zM219.0 142.0h5.1v8.9h-5.1zM239.0 142.0h6.0v10.0h-6.0zM114.0 150.0h6.9v10.6h-6.9zM134.0 150.0h5.8v9.8h-5.8zM204.0 150.0h6.3v9.3h-6.3zM159.0 158.0h5.1v10.3h-5.1zM274.0 158.0h6.2v10.1h-6.2zM74.0 166.0h5.5v9.7h-5.5zM84.0 166.0h6.4v9.7h-6.4zM99.0 166.0h5.9v8.4h-5.9zM74.0 174.0h6.8v9.9h-6.8zM119.0 174.0h6.6v10.9h-6.6zM134.0 174.0h6.5v10.0h-6.5zM169.0 174.0h6.1v8.4h-6.1zM199.0 174.0h6.1v9.3h-6.1zM214.0 174.0h5.1v10.6h-5.1zM249.0 174.0h5.2v8.3h-5.2zM79.0 182.0h6.7v8.6h-6.7zM89.0 182.0h6.9v8.3h-6.9zM129.0 182.0h6.4v9.2h-6.4zM159.0 182.0h6.9v9.9h-6.9zM174.0 182.0h5.1v9.6h-5.1zM179.0 182.0h5.9v9.0h-5.9zM224.0 182.0h6.7v8.1h-6.7zM239.0 182.0h5.3v9.6h-5.3zM264.0 182.0h5.6v10.5h-5.6zM294.0 182.0h6.5v10.6h-6.5zM84.0 190.0h6.3v9.2h-6.3zM94.0 190.0h6.0v9.0h-6.0zM109.0 190.0h5.3v8.2h-5.3zM119.0 190.0h5.4v9.2h-5.4zM154.0 190.0h6.9v8.6h-6.9zM189.0 190.0h5.7v8.3h-5.7zM234.0 190.0h5.8v9.3h-5.8zM264.0 190.0h6.4v8.0h-6.4zM279.0 190.0h6.5v8.1h-6.5zM74.0 198.0h5.6v10.7h-5.6zM159.0 198.0h6.4v8.4h-6.4zM169.0 198.0h5.0v8.5h-5.0zM179.0 198.0h6.8v9.0h-6.8zM194.0 198.0h6.1v10.4h-6.1zM229.0 198.0h6.1v8.4h-6.1zM234.0 198.0h6.4v10.6h-6.4zM74.0 206.0h5.4v9.4h-5.4zM154.0 206.0h5.6v8.4h-5.6zM159.0 206.0h5.3v8.6h-5.3zM214.0 206.0h5.2v9.1h-5.2zM249.0 206.0h5.7v10.3h-5.7zM254.0 206.0h6.5v9.8h-6.5zM54.0 214.0h5.5v9.2h-5.5zM124.0 214.0h5.9v10.1h-5.9zM179.0 214.0h6.0v8.1h-6.0zM259.0 214.0h5.9v8.0h-5.9zM119.0 222.0h5.9v10.8h-5.9zM179.0 222.0h5.1v8.7h-5.1zM184.0 222.0h5.7v9.1h-5.7zM194.0 222.0h5.3v8.9h-5.3zM214.0 222.0h7.0v10.0h-7.0zM224.0 222.0h5.6v10.1h-5.6zM229.0 222.0h6.2v8.8h-6.2zM59.0 230.0h6.2v8.7h-6.2zM99.0 230.0h6.8v8.2h-6.8zM159.0 230.0h5.2v9.5h-5.2zM164.0 230.0h6.5v9.1h-6.5zM184.0 230.0h5.4v9.1h-5.4zM69.0 238.0h6.8v10.2h-6.8zM129.0 238.0h5.2v10.6h-5.2zM134.0 238.0h5.1v9.1h-5.1zM154.0 238.0h6.1v10.4h-6.1zM174.0 238.0h5.1v8.6h-5.1zM199.0 238.0h5.0v8.3h-5.0zM89.0 246.0h6.5v9.0h-6.5zM184.0 246.0h5.6v9.7h-5.6z" fill="#e2eea0"/>
<path d="M199.0 86.0h5.9v9.3h-5.9zM159.0 102.0h5.4v10.8h-5.4zM174.0 102.0h6.5v10.5h-6.5zM109.0 110.0h5.6v10.3h-5.6zM114.0 110.0h5.6v10.2h-5.6zM184.0 110.0h5.5v9.3h-5.5zM194.0 110.0h5.7v8.1h-5.7zM99.0 118.0h6.5v8.8h-6.5zM114.0 118.0h5.1v10.9h-5.1zM169.0 118.0h5.7v8.1h-5.7zM149.0 126.0h5.9v8.8h-5.9zM174.0 126.0h6.2v8.6h-6.2zM64.0 134.0h6.9v9.5h-6.9zM89.0 134.0h6.0v10.0h-6.0zM114.0 134.0h5.9v9.2h-5.9zM149.0 134.0h6.3v10.5h-6.3zM199.0 134.0h6.7v8.2h-6.7zM209.0 134.0h6.1v9.2h-6.1zM129.0 142.0h5.8v10.4h-5.8zM154.0 142.0h6.7v8.3h-6.7zM194.0 142.0h6.3v10.4h-6.3zM274.0 142.0h6.2v9.6h-6.2zM64.0 150.0h5.5v8.0h-5.5zM69.0 150.0h5.4v9.3h-5.4zM109.0 150.0h5.2v9.7h-5.2zM144.0 150.0h5.7v10.6h-5.7zM179.0 150.0h5.4v9.8h-5.4zM74.0 158.0h5.1v9.5h-5.1zM119.0 158.0h6.4v8.8h-6.4zM169.0 158.0h5.6v10.2h-5.6zM259.0 158.0h5.3v8.8h-5.3zM179.0 166.0h6.3v9.6h-6.3zM269.0 166.0h5.7v8.3h-5.7zM109.0 174.0h6.7v10.2h-6.7zM124.0 174.0h5.6v10.8h-5.6zM144.0 174.0h6.9v9.5h-6.9zM149.0 174.0h5.3v10.5h-5.3zM194.0 174.0h5.6v8.6h-5.6zM74.0 182.0h6.8v8.1h-6.8zM144.0 182.0h5.3v8.4h-5.3zM214.0 182.0h5.5v10.8h-5.5zM229.0 182.0h5.7v9.7h-5.7zM289.0 182.0h5.5v10.7h-5.5zM139.0 190.0h5.1v10.5h-5.1zM194.0 190.0h5.2v8.7h-5.2zM199.0 190.0h6.7v9.6h-6.7zM214.0 190.0h6.7v10.0h-6.7zM224.0 190.0h6.2v9.5h-6.2zM239.0 190.0h6.6v8.2h-6.6zM249.0 190.0h5.4v10.9h-5.4zM269.0 190.0h5.5v10.4h-5.5zM79.0 198.0h5.8v9.7h-5.8zM109.0 198.0h5.8v9.6h-5.8zM124.0 198.0h5.2v10.1h-5.2zM189.0 198.0h5.8v8.1h-5.8zM204.0 198.0h6.8v10.1h-6.8zM219.0 198.0h6.3v8.2h-6.3zM274.0 198.0h6.0v10.7h-6.0zM284.0 198.0h5.4v8.2h-5.4zM54.0 206.0h5.2v9.6h-5.2zM84.0 206.0h6.6v11.0h-6.6zM204.0 206.0h6.8v8.9h-6.8zM224.0 206.0h5.4v9.8h-5.4zM44.0 214.0h5.5v10.7h-5.5zM74.0 214.0h5.7v10.0h-5.7zM169.0 214.0h5.6v8.0h-5.6zM209.0 214.0h6.0v10.4h-6.0zM234.0 214.0h5.8v8.0h-5.8zM159.0 222.0h6.7v8.3h-6.7zM244.0 222.0h5.4v9.2h-5.4zM274.0 222.0h6.3v8.1h-6.3zM94.0 230.0h6.8v8.1h-6.8zM179.0 238.0h6.7v9.6h-6.7zM94.0 246.0h5.3v8.2h-5.3zM194.0 246.0h5.9v8.4h-5.9zM69.0 254.0h6.4v10.5h-6.4zM184.0 254.0h5.2v9.4h-5.2z" fill="#eaf2ac"/>
<path d="M179.0 102.0h6.3v8.7h-6.3zM184.0 102.0h5.1v9.8h-5.1zM99.0 110.0h6.8v10.8h-6.8zM174.0 110.0h6.1v9.6h-6.1zM89.0 118.0h6.3v10.9h-6.3zM119.0 118.0h6.4v8.9h-6.4zM179.0 118.0h6.1v9.7h-6.1zM184.0 118.0h6.4v8.4h-6.4zM194.0 118.0h5.5v10.0h-5.5zM64.0 126.0h5.3v8.7h-5.3zM69.0 126.0h5.1v8.9h-5.1zM129.0 126.0h6.5v10.5h-6.5zM179.0 126.0h5.1v8.7h-5.1zM74.0 134.0h5.6v10.9h-5.6zM119.0 134.0h6.6v9.3h-6.6zM204.0 134.0h5.0v8.5h-5.0zM254.0 134.0h6.5v11.0h-6.5zM269.0 134.0h6.6v10.6h-6.6zM299.0 134.0h5.6v8.1h-5.6zM74.0 142.0h5.5v9.9h-5.5zM79.0 142.0h5.2v8.6h-5.2zM119.0 142.0h6.3v8.3h-6.3zM229.0 142.0h6.8v9.5h-6.8zM254.0 142.0h6.6v10.1h-6.6zM74.0 150.0h5.6v10.7h-5.6zM104.0 150.0h6.6v8.1h-6.6zM119.0 150.0h5.9v10.0h-5.9zM149.0 150.0h5.5v9.7h-5.5zM169.0 150.0h6.1v10.7h-6.1zM214.0 150.0h5.4v10.1h-5.4zM219.0 150.0h5.0v9.2h-5.0zM244.0 150.0h5.3v10.5h-5.3zM259.0 150.0h6.1v9.2h-6.1zM84.0 158.0h6.6v8.9h-6.6zM104.0 158.0h6.1v8.7h-6.1zM109.0 158.0h5.8v8.3h-5.8zM154.0 158.0h5.6v9.7h-5.6zM189.0 158.0h5.6v10.7h-5.6zM194.0 158.0h6.3v9.2h-6.3zM209.0 158.0h5.4v8.1h-5.4zM249.0 158.0h6.1v8.4h-6.1zM69.0 166.0h6.0v10.3h-6.0zM94.0 166.0h5.7v10.8h-5.7zM129.0 166.0h5.6v8.5h-5.6zM134.0 166.0h5.5v9.7h-5.5zM84.0 174.0h5.7v9.7h-5.7zM179.0 174.0h5.1v8.4h-5.1zM209.0 174.0h5.5v9.2h-5.5zM259.0 174.0h6.5v8.6h-6.5zM269.0 174.0h5.8v8.5h-5.8zM119.0 182.0h5.0v10.7h-5.0zM149.0 182.0h6.0v8.1h-6.0zM184.0 182.0h6.4v9.9h-6.4zM199.0 182.0h5.4v10.8h-5.4zM204.0 182.0h6.5v8.9h-6.5zM209.0 182.0h6.4v8.0h-6.4zM284.0 182.0h5.2v9.8h-5.2zM69.0 190.0h6.4v9.4h-6.4zM104.0 190.0h5.7v9.1h-5.7zM134.0 190.0h5.8v9.5h-5.8zM174.0 190.0h6.9v10.2h-6.9zM204.0 190.0h6.3v10.7h-6.3zM39.0 198.0h5.2v10.8h-5.2zM44.0 198.0h7.0v8.4h-7.0zM64.0 198.0h5.3v9.4h-5.3zM69.0 198.0h6.4v9.7h-6.4zM134.0 198.0h6.9v8.6h-6.9zM199.0 198.0h5.4v8.8h-5.4zM169.0 206.0h5.7v10.8h-5.7zM39.0 214.0h6.3v9.2h-6.3zM59.0 214.0h5.9v9.7h-5.9zM89.0 214.0h5.8v10.5h-5.8zM94.0 214.0h6.0v8.9h-6.0zM134.0 214.0h5.7v9.8h-5.7zM214.0 214.0h6.2v8.9h-6.2zM74.0 222.0h5.7v9.4h-5.7zM149.0 222.0h5.6v10.3h-5.6zM239.0 222.0h6.5v9.6h-6.5zM84.0 230.0h6.0v8.9h-6.0zM134.0 230.0h5.5v9.4h-5.5zM179.0 230.0h6.0v10.0h-6.0zM89.0 238.0h5.3v8.4h-5.3zM59.0 246.0h5.3v9.8h-5.3zM69.0 246.0h6.7v8.5h-6.7zM179.0 246.0h6.2v9.0h-6.2zM64.0 254.0h5.5v8.8h-5.5z" fill="#d8ea94"/>
<path d="M86.0 77.8h3.4v6.1h-3.4zM164.9 183.0h4.5v6.3h-4.5zM280.0 159.0h3.1v8.4h-3.1zM236.6 120.1h4.5v6.9h-4.5zM176.3 108.2h3.5v6.4h-3.5zM166.2 90.9h4.2v5.0h-4.2zM210.5 187.6h4.1v7.2h-4.1zM201.6 201.8h4.8v5.3h-4.8zM103.8 179.4h4.1v8.4h-4.1zM223.0 135.7h4.2v8.3h-4.2zM162.0 173.4h4.7v5.6h-4.7zM118.7 144.7h4.8v7.6h-4.8zM208.2 132.5h3.5v5.8h-3.5zM236.8 192.0h3.2v7.0h-3.2zM278.5 198.6h4.9v8.5h-4.9zM179.9 211.2h4.4v8.9h-4.4zM187.9 176.6h4.0v7.3h-4.0zM234.6 93.8h3.9v7.9h-3.9zM196.3 125.6h4.3v6.8h-4.3zM206.5 141.5h4.0v7.4h-4.0zM108.3 128.7h3.8v8.1h-3.8zM180.8 133.0h3.5v6.2h-3.5zM157.0 164.7h4.1v8.8h-4.1zM265.1 146.5h5.0v5.9h-5.0zM178.7 178.5h4.5v5.8h-4.5zM104.8 165.0h3.4v7.8h-3.4zM223.0 112.9h3.8v6.9h-3.8zM125.1 150.6h3.3v5.9h-3.3zM225.2 167.7h3.1v7.9h-3.1zM192.4 173.9h3.6v5.5h-3.6zM230.0 128.3h3.2v5.9h-3.2zM92.1 220.5h3.8v5.3h-3.8zM197.5 114.8h4.7v6.0h-4.7zM202.4 154.4h3.5v7.7h-3.5zM155.6 237.7h4.2v5.8h-4.2zM165.6 154.2h3.2v7.7h-3.2zM202.8 164.0h4.1v8.3h-4.1zM230.0 174.2h3.9v5.9h-3.9zM205.0 208.2h3.6v6.4h-3.6zM152.7 136.2h3.6v8.0h-3.6zM80.4 174.0h3.9v8.4h-3.9zM300.2 128.6h3.6v5.9h-3.6zM136.2 194.7h4.3v5.3h-4.3zM146.9 111.0h3.4v7.7h-3.4zM119.6 172.0h3.6v5.0h-3.6zM237.2 132.2h3.9v7.4h-3.9zM105.3 67.9h3.6v7.1h-3.6zM236.8 168.4h3.9v6.3h-3.9zM143.5 184.0h4.3v6.4h-4.3zM200.7 180.1h4.5v7.1h-4.5zM249.7 103.6h4.1v7.7h-4.1zM184.8 208.1h4.9v9.0h-4.9zM217.0 146.4h4.6v9.0h-4.6zM106.0 83.2h4.4v8.5h-4.4zM182.3 143.3h3.5v8.9h-3.5zM128.5 133.0h4.2v5.4h-4.2zM147.0 184.9h3.4v7.2h-3.4zM137.9 195.0h4.4v6.0h-4.4zM202.6 115.4h4.0v8.1h-4.0zM72.2 250.2h3.8v8.3h-3.8zM297.6 130.3h3.4v8.4h-3.4zM147.9 174.8h4.0v5.4h-4.0zM128.5 188.5h3.1v5.7h-3.1zM234.6 106.4h3.2v8.3h-3.2zM242.2 155.7h4.3v8.4h-4.3zM248.2 136.5h5.0v8.0h-5.0zM225.8 164.9h3.5v7.3h-3.5zM141.5 147.7h3.5v7.1h-3.5zM181.3 209.7h3.1v7.5h-3.1zM185.3 145.8h4.1v5.2h-4.1zM184.6 145.5h4.2v6.6h-4.2zM202.4 123.6h4.7v6.4h-4.7zM147.7 186.8h3.8v7.4h-3.8zM234.5 211.7h3.2v8.0h-3.2zM193.0 210.4h4.3v6.6h-4.3zM225.3 164.7h3.8v6.3h-3.8zM139.9 141.6h3.7v5.2h-3.7zM157.8 198.9h3.6v6.6h-3.6zM194.8 228.5h3.6v6.0h-3.6zM122.1 183.6h4.9v7.8h-4.9zM180.3 206.2h3.1v8.5h-3.1zM199.8 241.2h3.9v5.0h-3.9zM201.5 157.5h4.1v5.4h-4.1zM198.2 166.0h4.7v6.3h-4.7zM153.4 115.1h4.7v8.7h-4.7zM217.5 134.9h4.2v5.8h-4.2zM171.6 93.3h3.7v8.5h-3.7zM126.3 203.9h4.2v5.7h-4.2zM194.5 201.9h4.2v6.3h-4.2zM223.2 197.4h4.0v8.7h-4.0zM104.8 53.2h3.6v6.2h-3.6zM137.6 152.0h4.2v8.7h-4.2zM163.9 135.3h3.4v8.4h-3.4zM84.1 208.5h4.8v8.3h-4.8zM122.9 161.5h4.7v8.3h-4.7zM236.5 82.8h3.0v5.2h-3.0zM204.2 115.3h3.2v8.7h-3.2zM230.4 119.0h3.8v8.5h-3.8zM154.6 97.2h3.5v5.3h-3.5zM262.8 210.4h3.1v8.5h-3.1zM195.2 186.7h3.1v8.4h-3.1zM181.7 159.6h3.3v6.1h-3.3zM200.7 131.1h3.6v6.8h-3.6zM205.5 205.7h3.1v7.6h-3.1zM269.8 123.6h3.1v7.3h-3.1zM100.9 171.4h4.4v6.1h-4.4zM287.7 149.7h4.0v8.4h-4.0zM167.5 132.8h3.0v6.1h-3.0zM218.9 196.6h3.3v5.1h-3.3zM240.7 165.7h3.7v8.1h-3.7zM212.7 167.5h3.2v8.2h-3.2zM79.8 145.2h4.3v6.6h-4.3zM194.1 96.2h5.0v8.0h-5.0zM213.3 183.9h3.2v8.7h-3.2zM158.3 133.2h3.9v8.2h-3.9zM207.2 125.8h3.1v5.6h-3.1zM156.9 98.6h3.9v7.3h-3.9zM187.3 110.2h3.2v5.7h-3.2zM177.3 208.3h4.9v6.2h-4.9zM182.2 171.0h3.8v5.2h-3.8zM186.9 248.9h4.1v8.4h-4.1zM181.0 235.9h5.0v5.4h-5.0zM164.2 174.9h3.4v8.4h-3.4zM141.2 139.0h4.9v5.0h-4.9zM167.9 154.8h3.5v5.1h-3.5zM124.3 140.7h3.1v8.8h-3.1zM150.8 140.5h3.5v6.8h-3.5zM151.4 200.8h4.2v6.1h-4.2zM270.5 159.9h3.2v7.6h-3.2zM77.0 94.0h3.7v7.1h-3.7zM224.9 95.3h3.7v9.0h-3.7zM254.2 205.5h4.9v7.9h-4.9zM223.8 102.2h4.3v5.0h-4.3zM203.9 170.3h4.2v6.2h-4.2zM188.4 143.1h4.8v7.1h-4.8zM64.2 192.4h4.8v6.8h-4.8zM188.8 163.6h3.0v5.9h-3.0zM148.4 99.2h4.8v7.6h-4.8zM161.4 185.9h4.7v6.5h-4.7zM166.6 80.5h4.4v5.4h-4.4zM236.8 162.4h3.3v6.7h-3.3zM229.2 130.8h3.4v8.4h-3.4zM182.4 234.2h4.4v5.2h-4.4zM174.1 230.5h3.1v7.4h-3.1zM186.6 116.8h3.6v7.8h-3.6zM80.0 121.9h4.3v9.0h-4.3zM159.2 129.5h4.2v6.3h-4.2zM184.6 256.5h4.4v5.5h-4.4zM128.7 77.0h4.8v5.9h-4.8zM185.8 222.9h3.3v5.4h-3.3zM209.3 113.8h4.9v6.3h-4.9zM156.4 155.4h3.0v5.2h-3.0zM143.0 176.4h4.2v5.3h-4.2zM147.1 125.5h4.4v6.5h-4.4zM180.6 102.8h4.6v7.5h-4.6zM150.0 186.6h3.7v8.4h-3.7zM155.8 143.6h3.0v6.4h-3.0zM89.1 103.2h4.3v5.2h-4.3zM191.3 222.7h4.7v7.6h-4.7zM149.4 154.7h3.1v5.4h-3.1zM219.8 174.7h4.8v8.3h-4.8zM215.5 102.8h3.9v7.0h-3.9zM254.3 194.0h5.0v5.0h-5.0zM237.0 71.6h3.9v6.1h-3.9zM194.9 122.4h4.0v8.6h-4.0zM123.4 136.6h3.2v7.3h-3.2zM222.0 110.4h3.5v6.4h-3.5zM118.0 147.3h4.8v7.6h-4.8zM146.0 185.5h4.0v8.5h-4.0zM149.3 200.7h4.0v5.2h-4.0zM237.6 164.1h3.0v8.3h-3.0zM242.2 156.8h3.5v7.1h-3.5zM280.9 121.8h3.5v8.2h-3.5zM207.6 104.4h4.2v5.1h-4.2zM287.8 118.1h3.0v6.5h-3.0zM137.3 207.1h3.6v7.2h-3.6zM182.5 85.3h3.6v5.8h-3.6zM208.7 113.4h4.8v5.5h-4.8zM243.5 149.7h4.6v6.8h-4.6zM172.0 164.4h3.2v7.9h-3.2zM214.7 180.6h4.0v5.1h-4.0zM264.8 176.8h4.7v6.7h-4.7zM150.9 98.7h3.5v7.6h-3.5zM249.9 90.8h4.9v8.5h-4.9zM268.4 182.0h4.3v6.7h-4.3zM122.4 222.5h4.2v6.6h-4.2zM247.9 95.6h3.2v9.0h-3.2zM177.1 98.1h3.0v8.2h-3.0zM118.2 134.0h4.5v5.5h-4.5zM175.3 143.3h4.5v5.3h-4.5z" fill="#163070"/>
<path d="M237.2 143.3h4.2v8.0h-4.2zM196.2 133.7h4.5v5.6h-4.5zM226.8 112.9h3.8v5.3h-3.8zM156.9 225.4h4.1v8.7h-4.1zM111.3 141.7h4.4v5.5h-4.4zM227.2 152.2h3.1v5.5h-3.1zM190.9 170.6h4.2v8.4h-4.2zM140.1 243.6h4.7v5.7h-4.7zM235.8 216.2h4.8v8.9h-4.8zM163.3 112.5h3.6v6.6h-3.6zM208.3 123.8h4.1v7.1h-4.1zM205.4 201.5h3.6v5.6h-3.6zM151.1 165.8h3.8v6.5h-3.8zM118.1 225.6h4.4v7.0h-4.4zM276.3 148.9h3.8v6.5h-3.8zM145.9 209.8h3.7v5.6h-3.7zM109.7 55.5h3.9v6.4h-3.9zM118.8 40.0h4.1v8.8h-4.1zM82.1 170.3h4.9v7.5h-4.9zM146.5 137.1h3.0v8.3h-3.0zM180.2 154.9h3.6v5.8h-3.6zM226.1 127.0h3.4v8.2h-3.4zM172.4 123.1h3.3v7.5h-3.3zM108.4 146.0h3.3v8.5h-3.3zM236.4 181.1h3.2v8.5h-3.2zM168.3 158.2h3.2v7.5h-3.2zM109.8 146.3h4.4v8.9h-4.4zM205.6 132.8h3.9v7.0h-3.9zM247.1 201.3h4.8v8.7h-4.8zM201.7 176.3h3.3v8.9h-3.3zM255.1 210.2h3.9v5.9h-3.9zM229.4 227.4h4.6v5.4h-4.6zM88.4 249.1h4.9v6.3h-4.9zM274.7 170.8h4.8v5.5h-4.8zM145.7 145.6h3.9v8.3h-3.9zM235.5 221.9h4.6v7.5h-4.6zM179.4 195.6h3.4v6.6h-3.4zM177.6 154.8h3.8v7.7h-3.8zM176.2 89.2h4.7v8.6h-4.7zM202.7 177.0h3.5v8.9h-3.5zM258.9 117.5h4.8v5.4h-4.8zM225.9 94.1h4.2v7.7h-4.2zM187.3 191.2h4.2v6.1h-4.2zM158.5 198.4h3.7v5.1h-3.7zM188.6 204.2h3.2v7.2h-3.2zM106.0 163.9h4.4v6.4h-4.4zM173.4 200.7h3.9v6.1h-3.9zM232.3 127.0h4.1v6.0h-4.1zM266.5 132.5h3.2v7.7h-3.2zM164.2 126.6h3.3v7.8h-3.3zM96.8 57.3h3.8v8.2h-3.8zM32.1 194.6h4.2v6.5h-4.2zM260.0 152.6h3.5v5.8h-3.5zM199.2 236.4h4.7v8.0h-4.7zM114.9 202.1h4.7v7.9h-4.7zM188.9 170.5h3.6v6.2h-3.6zM189.2 110.5h4.0v7.3h-4.0zM164.7 161.6h3.0v6.3h-3.0zM233.2 144.9h3.7v5.7h-3.7zM186.0 129.3h3.3v6.3h-3.3zM203.2 131.9h4.5v7.4h-4.5zM150.5 216.2h4.7v7.9h-4.7zM157.3 145.1h4.4v7.1h-4.4zM164.1 224.6h4.0v5.7h-4.0zM174.7 177.8h3.1v5.3h-3.1zM172.8 126.6h4.8v6.4h-4.8zM99.9 179.9h3.2v8.3h-3.2zM225.0 140.9h3.9v7.0h-3.9zM211.8 106.3h4.5v5.3h-4.5zM99.5 141.1h3.9v8.3h-3.9zM192.3 244.0h3.3v8.4h-3.3zM157.6 102.7h4.7v7.8h-4.7zM173.1 109.7h3.3v6.2h-3.3zM241.6 89.5h3.7v8.8h-3.7zM147.6 234.7h4.7v7.1h-4.7zM284.2 153.2h3.2v6.3h-3.2zM113.2 165.7h3.2v6.1h-3.2zM247.2 205.2h3.5v5.1h-3.5zM251.8 191.3h4.9v5.0h-4.9zM215.0 145.3h3.7v8.7h-3.7zM196.1 172.7h3.8v5.9h-3.8zM287.1 160.2h4.5v7.6h-4.5zM136.5 167.4h4.6v6.4h-4.6zM137.5 128.0h3.1v6.5h-3.1zM68.3 222.4h3.4v7.1h-3.4zM175.8 201.9h4.6v5.6h-4.6zM148.1 229.7h3.2v7.7h-3.2zM226.2 162.8h4.9v6.1h-4.9zM133.8 166.2h3.9v5.7h-3.9zM261.9 162.7h4.7v5.3h-4.7zM147.7 175.9h3.1v5.2h-3.1zM88.4 158.8h3.7v7.1h-3.7zM40.8 60.7h3.5v8.2h-3.5zM186.9 204.0h3.9v8.6h-3.9zM187.3 205.6h4.3v7.1h-4.3zM202.1 214.9h3.3v7.0h-3.3zM263.0 142.1h3.5v8.7h-3.5zM56.4 60.2h4.6v5.8h-4.6zM123.2 184.6h4.6v6.5h-4.6zM236.5 191.4h3.5v9.0h-3.5zM174.6 159.2h4.1v8.1h-4.1zM149.2 169.5h3.8v7.1h-3.8zM143.3 135.5h3.0v8.1h-3.0zM287.0 197.1h4.5v5.8h-4.5zM121.9 123.1h4.8v5.5h-4.8zM194.2 168.4h3.5v7.4h-3.5zM193.8 242.3h3.3v6.1h-3.3zM150.3 170.8h4.1v8.7h-4.1zM217.3 96.1h5.0v5.3h-5.0zM162.6 92.6h3.5v7.2h-3.5zM133.0 204.2h4.4v7.8h-4.4zM263.9 175.7h4.4v7.1h-4.4zM132.3 167.7h3.3v5.9h-3.3zM170.5 119.7h3.7v7.9h-3.7zM129.8 98.4h4.9v7.3h-4.9zM63.1 136.0h4.7v5.1h-4.7zM279.1 190.7h3.5v6.2h-3.5zM146.9 218.5h4.7v5.8h-4.7zM175.4 145.8h3.3v8.7h-3.3zM119.7 99.1h4.6v8.5h-4.6zM190.9 173.5h4.3v6.0h-4.3zM143.3 120.8h3.3v7.6h-3.3zM193.3 177.7h4.8v5.4h-4.8zM197.7 115.6h3.2v7.5h-3.2zM135.1 129.9h4.0v6.6h-4.0zM141.5 243.5h4.8v6.5h-4.8zM207.4 206.2h3.7v8.0h-3.7zM224.8 151.6h4.5v8.6h-4.5zM250.9 89.1h3.0v8.2h-3.0zM250.4 87.5h4.8v6.6h-4.8zM122.8 132.5h4.9v8.0h-4.9zM152.7 165.5h3.9v6.5h-3.9zM180.5 177.9h5.0v6.6h-5.0zM74.3 202.4h3.5v6.7h-3.5zM259.9 98.7h3.9v9.0h-3.9zM256.4 131.3h5.0v7.1h-5.0zM283.7 154.6h3.3v6.9h-3.3zM255.1 153.9h4.9v8.1h-4.9zM132.6 99.8h5.0v5.2h-5.0zM166.4 131.8h4.7v5.0h-4.7zM90.1 165.3h4.0v7.8h-4.0zM99.0 117.8h3.2v5.9h-3.2zM238.7 81.2h4.5v8.0h-4.5zM167.4 161.6h4.5v8.3h-4.5zM221.1 196.4h4.4v5.9h-4.4zM279.2 110.0h3.9v7.4h-3.9zM140.8 168.9h4.4v8.3h-4.4zM220.3 96.6h4.1v6.0h-4.1zM225.7 178.0h4.5v5.3h-4.5zM179.2 162.4h4.4v8.2h-4.4zM259.8 116.9h4.4v7.9h-4.4zM132.5 131.1h5.0v7.2h-5.0zM166.6 208.9h4.4v7.4h-4.4zM213.6 206.6h4.0v6.3h-4.0zM160.3 126.9h4.7v5.6h-4.7zM186.7 130.9h3.4v5.3h-3.4zM201.1 241.0h5.0v6.8h-5.0zM250.7 153.3h3.9v6.5h-3.9zM151.3 191.6h4.1v6.8h-4.1zM208.8 187.8h4.2v5.7h-4.2zM145.5 120.0h3.7v5.3h-3.7zM238.1 132.0h3.8v5.2h-3.8zM161.3 164.7h3.6v6.2h-3.6zM151.3 115.5h4.7v7.5h-4.7zM243.5 110.2h3.6v9.0h-3.6zM187.3 219.5h4.2v6.4h-4.2zM153.2 88.8h4.5v8.6h-4.5zM221.8 185.7h3.8v5.5h-3.8zM252.1 130.1h4.5v7.0h-4.5zM118.9 131.9h3.6v7.8h-3.6zM278.2 104.5h4.7v6.5h-4.7zM180.2 103.4h4.8v6.2h-4.8zM169.2 134.3h4.8v5.3h-4.8zM164.9 108.3h4.9v5.4h-4.9zM228.2 212.4h4.6v7.3h-4.6zM88.5 136.6h3.6v6.8h-3.6zM248.1 163.2h4.0v5.6h-4.0zM272.4 150.2h4.0v5.3h-4.0zM197.0 175.3h4.0v7.6h-4.0zM111.2 85.7h4.7v8.4h-4.7zM95.1 154.2h3.4v8.1h-3.4zM139.4 123.5h3.8v7.3h-3.8zM128.4 173.5h3.9v8.2h-3.9zM144.9 205.1h4.4v6.3h-4.4zM164.4 200.2h4.3v7.7h-4.3zM127.2 175.1h4.0v7.1h-4.0z" fill="#2a5aa8"/>
<path d="M226.1 176.0h4.4v7.4h-4.4zM175.6 140.5h3.2v6.9h-3.2zM157.7 120.3h3.9v5.3h-3.9zM93.5 200.6h4.2v8.9h-4.2zM137.5 106.6h4.1v5.4h-4.1zM119.3 135.9h3.6v6.7h-3.6zM224.7 149.2h4.1v5.5h-4.1zM197.1 159.8h3.7v5.2h-3.7zM193.4 174.9h3.8v7.8h-3.8zM120.3 186.1h4.9v7.6h-4.9zM259.9 185.6h4.8v7.6h-4.8zM251.8 133.4h4.7v7.1h-4.7zM234.7 105.8h3.5v6.2h-3.5zM151.8 179.8h3.3v8.2h-3.3zM201.0 154.0h4.0v5.4h-4.0zM196.8 144.8h4.9v8.5h-4.9zM144.0 129.6h3.3v7.2h-3.3zM114.4 208.5h4.6v8.0h-4.6zM227.5 114.2h4.2v6.7h-4.2zM160.1 97.4h3.4v8.3h-3.4zM213.5 83.7h3.2v5.1h-3.2zM188.8 162.5h3.9v8.7h-3.9zM164.7 109.0h3.5v5.3h-3.5zM158.2 155.5h4.7v7.9h-4.7zM159.5 187.0h3.8v5.8h-3.8zM208.7 88.9h3.4v8.1h-3.4zM112.6 197.4h3.7v5.4h-3.7zM75.8 140.6h4.7v7.0h-4.7zM111.1 111.7h3.5v8.6h-3.5zM185.9 164.2h3.5v8.6h-3.5zM173.5 155.7h4.6v6.1h-4.6zM166.3 214.8h3.2v6.6h-3.2zM237.0 163.6h3.2v9.0h-3.2zM156.2 106.4h3.8v6.7h-3.8zM165.0 144.4h4.9v7.8h-4.9zM141.2 220.1h4.8v5.1h-4.8zM154.5 104.2h3.4v5.7h-3.4zM125.7 217.6h3.5v5.8h-3.5zM109.5 78.6h4.2v7.0h-4.2zM156.7 163.4h3.9v6.4h-3.9zM112.5 127.0h3.7v8.6h-3.7zM133.0 138.2h3.9v7.6h-3.9zM180.7 240.4h5.0v6.8h-5.0zM195.1 107.7h4.7v5.1h-4.7zM201.5 127.9h3.4v8.4h-3.4zM201.4 215.9h4.2v8.2h-4.2zM187.6 237.1h4.7v6.4h-4.7zM188.1 143.1h4.4v6.4h-4.4zM95.7 122.9h3.9v8.8h-3.9zM166.5 181.2h4.7v6.9h-4.7zM186.0 149.3h3.4v6.5h-3.4zM219.2 171.4h3.4v8.8h-3.4zM220.9 212.7h4.2v7.8h-4.2zM181.0 235.2h3.6v5.6h-3.6zM190.1 169.9h3.7v5.9h-3.7zM137.0 80.7h4.6v8.6h-4.6zM101.9 105.6h4.8v6.0h-4.8zM198.4 182.5h4.8v6.6h-4.8zM210.4 91.1h4.6v5.3h-4.6zM93.3 240.8h3.3v5.2h-3.3zM139.3 240.3h4.7v6.2h-4.7zM98.6 158.0h3.1v5.4h-3.1zM182.8 158.5h3.7v7.5h-3.7zM136.5 177.6h3.8v7.2h-3.8zM269.1 187.8h3.7v5.1h-3.7zM171.5 188.3h3.8v5.6h-3.8zM218.7 112.8h4.5v5.2h-4.5zM197.1 203.9h3.8v7.7h-3.8zM133.5 150.5h4.5v6.5h-4.5zM162.0 146.6h3.8v8.3h-3.8zM116.3 212.0h3.3v7.1h-3.3zM212.0 82.8h5.0v8.3h-5.0zM135.9 196.4h3.9v6.0h-3.9zM129.7 205.7h4.3v8.8h-4.3zM122.9 209.1h3.6v5.5h-3.6zM157.0 174.0h5.0v6.3h-5.0zM180.0 193.1h3.7v6.3h-3.7zM194.8 203.6h3.8v8.7h-3.8zM207.6 185.1h4.0v8.9h-4.0zM113.4 206.8h4.1v7.2h-4.1zM97.8 143.8h3.9v6.3h-3.9zM202.8 205.8h4.1v8.1h-4.1zM214.8 129.7h4.0v5.0h-4.0zM219.3 144.1h4.2v6.2h-4.2zM186.8 134.7h4.9v6.4h-4.9zM147.5 125.8h3.2v8.0h-3.2zM137.6 131.6h3.2v8.7h-3.2zM158.3 215.1h3.7v5.1h-3.7zM162.2 102.3h4.5v5.5h-4.5zM63.7 207.9h3.5v8.4h-3.5zM137.5 128.3h5.0v8.8h-5.0zM225.6 160.1h3.7v5.7h-3.7zM243.6 125.4h4.3v6.9h-4.3zM171.1 127.9h4.6v7.6h-4.6zM150.4 131.0h4.1v6.4h-4.1zM122.0 75.6h4.9v5.2h-4.9zM203.9 188.5h3.3v7.6h-3.3zM143.1 202.2h3.9v5.5h-3.9zM255.8 213.9h3.9v7.8h-3.9zM116.7 199.4h4.5v8.5h-4.5zM64.9 249.8h3.4v7.6h-3.4zM226.5 176.6h3.3v8.1h-3.3zM142.6 200.7h4.7v7.0h-4.7zM203.7 168.3h3.0v7.0h-3.0zM113.9 115.1h4.5v8.8h-4.5zM273.4 199.8h4.3v9.0h-4.3zM272.0 175.8h3.2v8.8h-3.2zM170.1 220.5h4.6v5.9h-4.6zM255.5 127.3h4.0v5.5h-4.0zM230.6 181.6h4.4v5.1h-4.4zM249.3 149.2h3.1v5.5h-3.1zM87.0 132.7h4.8v6.2h-4.8zM106.0 176.8h4.2v5.7h-4.2zM130.2 201.6h3.8v8.2h-3.8zM83.9 234.0h3.2v6.7h-3.2zM273.8 186.9h3.9v7.5h-3.9zM121.6 140.3h4.5v8.5h-4.5zM126.4 120.8h4.3v6.2h-4.3zM165.9 142.4h3.2v6.9h-3.2zM149.2 121.3h3.5v5.8h-3.5zM223.6 209.2h3.9v7.0h-3.9zM188.9 214.7h4.2v6.4h-4.2zM232.9 219.5h4.9v7.0h-4.9zM242.3 220.1h4.7v6.9h-4.7zM281.3 122.2h4.5v8.9h-4.5zM105.9 106.0h4.0v5.9h-4.0zM150.6 198.2h3.2v6.4h-3.2zM135.9 97.6h4.1v5.9h-4.1zM126.8 209.0h3.9v7.0h-3.9zM151.4 143.7h4.2v7.7h-4.2zM180.2 183.0h3.7v8.8h-3.7zM175.1 148.4h4.4v5.3h-4.4zM245.1 140.4h3.5v7.9h-3.5zM275.3 133.4h3.2v5.3h-3.2zM165.0 101.8h4.1v6.3h-4.1zM159.6 96.5h4.1v5.6h-4.1zM226.6 140.3h3.7v8.6h-3.7zM172.0 144.1h3.9v8.9h-3.9zM118.8 161.4h4.7v5.7h-4.7zM163.2 129.4h3.7v5.6h-3.7zM273.7 115.9h3.5v5.2h-3.5zM213.7 204.6h4.9v6.9h-4.9zM162.4 183.4h3.8v5.2h-3.8zM275.9 141.7h4.5v7.2h-4.5zM69.8 88.5h3.1v7.1h-3.1zM266.1 188.0h3.0v5.9h-3.0zM218.3 192.9h3.7v6.2h-3.7zM195.5 187.9h4.2v8.5h-4.2zM234.8 79.2h4.4v5.4h-4.4zM155.8 212.8h3.6v8.5h-3.6zM203.8 208.8h5.0v8.5h-5.0zM113.2 174.3h3.3v6.6h-3.3zM230.9 118.4h3.9v8.3h-3.9zM207.5 113.7h4.8v8.9h-4.8zM157.5 81.5h5.0v7.2h-5.0zM149.9 145.9h3.8v5.8h-3.8zM149.9 209.9h4.8v5.7h-4.8zM179.4 105.6h3.7v7.9h-3.7zM258.2 150.2h4.3v8.7h-4.3zM231.4 225.4h3.3v5.2h-3.3zM216.5 200.3h3.3v5.7h-3.3zM60.4 148.9h4.8v7.6h-4.8zM232.3 136.6h3.4v5.9h-3.4zM144.0 103.9h3.8v8.9h-3.8zM173.0 173.8h3.8v6.1h-3.8zM50.7 234.1h3.2v5.6h-3.2zM121.3 94.7h3.1v7.1h-3.1zM224.9 106.0h4.1v5.9h-4.1zM181.6 92.0h3.1v7.4h-3.1zM255.3 84.8h3.1v6.6h-3.1zM157.1 123.9h4.6v6.8h-4.6zM206.4 107.3h4.7v7.5h-4.7zM141.9 222.5h4.7v8.7h-4.7zM145.7 188.4h4.9v5.3h-4.9zM180.1 172.6h4.2v8.0h-4.2zM213.9 189.2h3.7v6.4h-3.7zM130.4 222.7h3.8v6.0h-3.8zM286.2 188.3h3.3v7.0h-3.3zM68.5 79.4h4.4v7.0h-4.4zM149.8 230.7h4.2v6.0h-4.2zM61.4 202.5h4.2v7.3h-4.2zM268.8 150.8h4.8v7.8h-4.8zM212.9 216.8h4.5v6.8h-4.5zM185.9 150.8h4.0v5.5h-4.0zM220.0 181.6h4.4v8.1h-4.4zM162.5 173.2h3.4v9.0h-3.4zM187.4 143.9h3.7v8.9h-3.7zM281.3 126.4h4.2v7.9h-4.2zM162.0 131.9h4.3v7.3h-4.3zM179.2 178.9h3.4v8.3h-3.4zM206.2 132.3h4.4v6.7h-4.4zM144.0 129.5h4.0v7.8h-4.0zM203.5 149.3h3.0v6.0h-3.0zM222.4 133.7h4.8v5.4h-4.8zM102.8 195.7h4.9v8.8h-4.9zM109.3 52.2h4.4v6.5h-4.4zM115.4 58.1h4.9v7.5h-4.9zM118.6 197.4h4.0v7.6h-4.0zM128.5 218.4h3.4v9.0h-3.4zM76.0 168.5h4.3v7.4h-4.3zM91.2 128.5h4.9v7.1h-4.9zM187.3 154.2h3.2v6.3h-3.2zM156.8 225.8h3.3v7.9h-3.3zM263.3 152.9h3.0v8.2h-3.0zM136.8 183.5h3.1v5.9h-3.1zM146.2 204.1h4.4v7.2h-4.4zM237.5 101.7h3.7v7.6h-3.7z" fill="#22489c"/>
<path d="M182.5 147.4h4.7v7.9h-4.7zM178.4 211.0h5.0v7.5h-5.0zM47.3 216.0h3.9v8.7h-3.9zM241.2 194.9h4.0v8.1h-4.0zM88.4 153.9h3.4v6.4h-3.4zM251.7 197.8h4.5v5.9h-4.5zM104.2 121.8h3.5v8.0h-3.5zM204.0 97.4h5.0v7.0h-5.0zM188.0 216.9h3.9v7.8h-3.9zM193.5 206.1h4.7v8.1h-4.7zM156.0 125.5h4.1v6.0h-4.1zM165.8 213.4h4.1v7.8h-4.1zM255.6 185.0h4.8v5.3h-4.8zM276.3 216.5h4.6v8.6h-4.6zM240.3 158.4h3.5v6.0h-3.5zM62.5 228.9h3.3v5.9h-3.3zM103.2 159.6h4.0v6.1h-4.0zM89.7 192.6h4.0v6.3h-4.0zM214.9 109.4h3.0v8.7h-3.0zM201.9 122.8h3.3v8.6h-3.3zM263.2 203.5h3.7v6.7h-3.7zM88.8 66.8h3.4v8.4h-3.4zM227.5 210.6h3.4v5.5h-3.4zM214.5 159.6h4.7v5.1h-4.7zM174.0 224.7h3.7v8.2h-3.7zM163.9 145.5h4.3v8.3h-4.3zM153.8 195.2h4.6v5.5h-4.6zM236.7 157.9h4.9v6.0h-4.9zM183.2 185.7h3.5v5.9h-3.5zM155.1 164.1h4.2v5.2h-4.2zM183.0 193.9h3.3v7.3h-3.3zM121.9 133.9h4.9v6.2h-4.9zM197.9 88.0h4.2v5.9h-4.2zM217.5 92.1h3.6v8.6h-3.6zM285.5 155.8h4.0v8.4h-4.0zM70.3 245.3h4.4v8.9h-4.4zM260.0 99.2h4.5v5.3h-4.5zM263.8 94.8h4.5v8.0h-4.5zM204.7 175.1h3.5v8.0h-3.5zM256.8 218.0h3.8v7.2h-3.8zM149.7 158.2h3.4v5.5h-3.4zM179.0 140.6h3.8v6.2h-3.8zM124.7 175.4h3.2v8.7h-3.2zM215.8 209.9h3.6v7.7h-3.6zM296.5 160.0h4.4v8.8h-4.4zM243.8 155.8h4.8v5.6h-4.8zM220.0 230.1h4.1v5.9h-4.1zM179.2 96.2h4.4v7.5h-4.4zM221.1 154.1h3.3v7.2h-3.3zM258.1 197.2h4.6v7.8h-4.6zM159.5 187.5h3.9v8.0h-3.9zM136.0 145.7h3.2v8.2h-3.2zM182.1 188.5h3.2v8.9h-3.2zM204.2 88.8h3.9v5.4h-3.9zM282.2 129.5h4.4v8.1h-4.4zM200.9 141.7h3.6v6.8h-3.6zM197.0 127.1h3.1v7.3h-3.1zM268.9 147.2h4.6v6.8h-4.6zM229.9 129.6h4.2v6.2h-4.2zM245.5 216.1h3.9v6.6h-3.9zM198.3 219.6h4.9v7.7h-4.9zM221.7 156.3h3.6v6.5h-3.6zM93.7 149.6h3.1v8.0h-3.1zM247.9 212.0h4.6v5.8h-4.6zM142.8 86.0h3.7v7.4h-3.7zM193.1 181.1h3.1v8.2h-3.1zM121.4 136.6h3.7v7.5h-3.7zM160.0 206.3h4.6v7.6h-4.6zM128.3 78.7h3.5v8.5h-3.5zM290.2 196.3h3.2v6.9h-3.2zM260.8 148.5h3.2v6.5h-3.2zM168.3 145.2h3.6v8.9h-3.6zM212.1 171.2h3.3v6.3h-3.3zM227.2 193.8h4.4v9.0h-4.4zM201.8 118.0h4.6v8.0h-4.6zM256.4 127.8h4.2v6.2h-4.2zM208.8 158.7h4.9v6.4h-4.9zM243.1 76.2h3.2v7.6h-3.2zM147.8 206.7h3.7v7.7h-3.7zM228.2 219.2h4.2v7.6h-4.2zM247.5 221.8h3.2v8.1h-3.2zM266.7 216.7h3.0v7.5h-3.0zM147.0 171.5h3.4v8.7h-3.4zM138.9 232.9h4.3v6.7h-4.3zM215.6 133.1h4.5v8.0h-4.5zM101.6 66.0h3.2v5.1h-3.2zM267.4 202.9h4.7v7.1h-4.7zM218.8 200.4h4.6v8.9h-4.6zM121.7 223.5h4.0v7.4h-4.0zM223.8 108.7h4.2v5.1h-4.2zM194.5 116.2h3.4v6.2h-3.4zM189.2 237.9h4.2v6.1h-4.2zM177.0 142.2h3.5v7.7h-3.5zM159.7 167.5h4.3v6.3h-4.3zM213.1 164.5h3.8v6.2h-3.8zM49.4 90.5h3.8v7.1h-3.8zM128.3 213.3h4.2v8.4h-4.2zM142.4 118.9h3.8v6.1h-3.8zM239.2 161.2h4.7v7.8h-4.7zM295.7 136.3h4.0v9.0h-4.0zM144.6 139.8h4.5v6.1h-4.5zM102.6 198.3h3.7v7.8h-3.7zM153.0 115.6h3.9v5.9h-3.9zM103.6 222.4h3.9v8.2h-3.9zM124.9 137.3h3.9v6.0h-3.9zM194.7 117.7h3.8v7.7h-3.8zM229.8 91.8h3.3v6.8h-3.3zM68.5 47.8h3.3v5.8h-3.3zM235.0 151.2h3.5v9.0h-3.5zM235.8 116.3h4.9v6.5h-4.9zM271.8 205.9h3.1v5.7h-3.1zM209.8 111.9h4.0v5.3h-4.0zM154.1 144.5h4.0v6.9h-4.0zM106.9 72.5h3.5v7.3h-3.5zM235.3 171.7h3.5v6.2h-3.5zM195.5 114.5h4.5v6.4h-4.5zM237.6 196.4h4.3v5.3h-4.3zM175.3 171.3h3.4v7.1h-3.4zM162.2 166.5h3.1v8.1h-3.1zM221.7 131.9h4.7v8.1h-4.7zM237.0 125.1h3.7v5.8h-3.7zM159.9 116.7h3.6v8.0h-3.6zM132.3 211.1h5.0v7.2h-5.0zM114.6 115.5h4.6v6.4h-4.6zM224.9 133.4h4.9v7.7h-4.9zM186.9 237.9h3.2v7.0h-3.2zM172.0 190.2h4.2v8.8h-4.2zM228.1 176.3h3.6v8.9h-3.6zM268.4 98.0h4.2v6.2h-4.2zM174.8 238.2h4.7v5.7h-4.7zM131.3 211.2h3.8v6.2h-3.8zM271.3 110.9h4.9v7.1h-4.9zM204.7 161.3h4.3v8.2h-4.3zM269.8 177.6h3.1v7.9h-3.1zM182.1 118.3h3.7v6.9h-3.7zM160.5 98.6h3.5v6.8h-3.5zM133.1 138.0h3.5v8.9h-3.5zM136.5 163.3h4.3v5.2h-4.3zM157.8 163.4h3.7v5.6h-3.7zM224.3 208.5h4.0v8.7h-4.0zM215.5 223.6h3.9v7.3h-3.9zM229.9 90.7h3.4v5.9h-3.4zM223.3 193.5h3.5v7.6h-3.5zM195.0 148.7h3.3v5.7h-3.3zM203.1 150.7h4.3v7.4h-4.3zM225.0 163.3h4.2v5.7h-4.2zM187.1 240.4h4.8v8.6h-4.8zM217.1 209.2h3.3v6.1h-3.3zM284.4 180.6h4.8v5.6h-4.8zM188.2 178.7h4.0v8.5h-4.0zM153.5 192.1h4.9v7.2h-4.9zM200.2 208.7h4.9v5.3h-4.9zM275.5 181.2h3.1v5.2h-3.1zM137.4 88.1h4.1v8.1h-4.1zM206.3 102.4h3.5v5.2h-3.5zM152.6 203.3h4.6v6.3h-4.6zM132.8 174.8h4.2v6.6h-4.2zM271.7 206.7h4.6v7.7h-4.6zM134.4 97.7h3.6v7.3h-3.6zM190.1 203.6h3.7v6.7h-3.7zM183.5 101.8h3.7v6.9h-3.7zM164.1 202.8h3.4v8.9h-3.4zM155.1 164.8h3.1v6.5h-3.1zM213.9 178.3h4.6v6.1h-4.6zM210.0 217.2h3.9v8.3h-3.9zM145.9 216.5h4.3v8.7h-4.3zM223.9 210.0h3.3v8.1h-3.3zM132.1 171.9h3.5v6.5h-3.5zM153.7 136.4h4.1v6.4h-4.1zM262.4 96.9h5.0v7.4h-5.0zM139.2 172.1h3.4v8.0h-3.4zM188.9 113.5h3.0v7.7h-3.0zM131.9 136.7h3.3v6.7h-3.3zM161.6 183.6h3.1v5.8h-3.1zM77.6 203.9h3.5v8.6h-3.5zM211.4 206.7h4.0v5.8h-4.0zM225.2 192.8h3.3v6.8h-3.3zM150.3 179.2h4.2v7.9h-4.2zM243.8 164.8h4.7v5.2h-4.7zM137.1 182.2h4.6v5.2h-4.6zM102.6 187.3h4.8v8.5h-4.8zM208.6 130.5h3.8v8.9h-3.8zM100.2 45.6h3.0v5.4h-3.0zM89.6 225.3h5.0v5.3h-5.0zM254.0 150.8h3.3v5.6h-3.3zM268.0 175.1h4.1v7.7h-4.1zM159.3 201.0h3.4v6.7h-3.4zM228.6 161.6h4.2v5.3h-4.2zM102.3 190.1h4.7v7.4h-4.7z" fill="#1a3c8c"/>
<path d="M117.0 192.8h3.9v7.7h-3.9zM191.4 165.7h3.4v8.7h-3.4zM189.2 142.9h4.4v7.6h-4.4zM258.5 181.8h3.9v5.4h-3.9zM163.3 113.0h4.1v6.4h-4.1zM134.9 188.5h3.3v6.5h-3.3zM184.4 243.3h4.9v7.0h-4.9zM122.8 155.6h4.9v7.8h-4.9zM98.4 102.7h4.7v8.2h-4.7zM218.2 212.7h4.6v5.1h-4.6zM152.3 87.5h3.5v5.4h-3.5zM253.3 221.4h5.0v8.9h-5.0zM194.1 131.0h4.5v9.0h-4.5zM218.7 129.8h3.3v8.5h-3.3zM179.3 85.5h4.7v7.3h-4.7zM225.2 177.2h3.4v5.6h-3.4zM78.2 205.7h4.8v8.4h-4.8zM217.6 217.3h3.4v7.4h-3.4zM196.4 185.8h3.8v5.7h-3.8zM259.1 166.0h3.3v7.6h-3.3zM106.0 191.7h3.9v5.8h-3.9zM172.8 169.3h4.8v6.7h-4.8zM235.0 190.0h3.8v8.2h-3.8zM163.6 201.5h4.9v8.7h-4.9zM205.8 185.4h3.5v8.7h-3.5zM137.3 174.9h4.4v6.3h-4.4zM147.3 228.9h4.6v8.5h-4.6zM201.6 217.9h4.0v6.3h-4.0zM250.4 148.2h4.2v5.7h-4.2zM108.2 200.0h4.6v6.7h-4.6zM133.2 199.8h5.0v5.4h-5.0zM248.9 94.0h4.9v8.8h-4.9zM144.7 138.6h3.6v6.1h-3.6zM105.9 126.7h4.9v6.2h-4.9zM223.2 144.0h3.2v8.8h-3.2zM150.0 153.5h3.2v6.3h-3.2zM144.4 111.1h4.2v8.7h-4.2zM108.8 195.6h3.1v7.6h-3.1zM155.8 220.9h3.6v6.5h-3.6zM192.7 132.6h3.6v5.4h-3.6zM211.6 154.9h4.6v5.7h-4.6zM128.3 131.8h3.5v6.8h-3.5zM195.5 234.2h4.0v8.7h-4.0zM238.2 205.6h3.9v8.6h-3.9zM202.8 131.0h4.8v6.0h-4.8zM80.3 211.4h4.9v8.0h-4.9zM287.8 122.6h3.4v5.8h-3.4zM248.6 198.3h3.3v6.4h-3.3zM134.9 177.8h3.5v7.9h-3.5zM213.9 161.9h4.9v8.7h-4.9zM50.9 212.3h4.9v5.7h-4.9zM125.3 218.7h3.1v5.6h-3.1zM62.2 70.4h3.4v6.0h-3.4zM266.9 149.7h3.2v8.1h-3.2zM197.7 152.9h3.3v6.3h-3.3zM132.2 141.8h3.3v7.0h-3.3zM100.8 194.3h4.0v6.2h-4.0zM221.0 155.3h4.0v7.8h-4.0zM102.3 115.6h4.9v7.3h-4.9zM234.2 74.4h4.4v6.3h-4.4zM118.2 166.1h3.6v7.1h-3.6zM215.1 128.5h4.4v6.5h-4.4zM207.7 121.7h3.5v7.8h-3.5zM126.9 186.5h3.3v6.7h-3.3zM174.0 153.4h3.9v8.0h-3.9zM203.9 210.7h4.1v6.9h-4.1zM222.0 182.0h3.6v7.6h-3.6zM230.7 201.1h3.8v7.7h-3.8zM167.6 137.7h4.3v5.8h-4.3zM132.8 161.4h3.6v8.2h-3.6zM195.1 210.6h3.4v6.9h-3.4zM148.4 159.7h3.1v8.8h-3.1zM123.6 222.9h3.5v6.8h-3.5zM200.7 167.2h4.9v6.5h-4.9zM47.9 226.9h4.0v7.8h-4.0zM92.7 96.8h4.2v7.5h-4.2zM175.6 139.6h3.8v8.2h-3.8zM174.0 190.2h3.4v8.8h-3.4zM196.1 186.8h3.2v5.9h-3.2zM161.1 171.6h3.5v7.3h-3.5zM241.9 159.7h3.5v7.5h-3.5zM127.8 191.9h3.1v5.6h-3.1zM211.6 104.1h4.5v5.6h-4.5zM198.3 200.9h4.6v6.6h-4.6zM105.4 144.2h4.9v7.3h-4.9zM221.7 156.5h3.5v6.6h-3.5zM256.2 155.7h3.3v8.6h-3.3zM179.7 160.0h4.9v7.6h-4.9zM221.7 115.0h3.7v5.9h-3.7zM177.4 171.8h3.1v5.4h-3.1zM76.4 168.1h3.4v7.3h-3.4zM193.7 147.7h4.2v5.4h-4.2zM187.3 246.8h4.2v6.1h-4.2zM288.7 142.9h3.2v7.7h-3.2zM255.7 143.6h4.3v7.0h-4.3zM93.9 163.8h3.4v5.1h-3.4zM185.9 107.5h4.2v7.4h-4.2zM95.7 199.9h4.2v6.7h-4.2zM176.8 174.5h4.0v5.6h-4.0zM224.4 192.3h3.3v6.6h-3.3zM136.3 204.1h3.7v7.8h-3.7zM96.7 76.1h4.5v6.0h-4.5zM202.6 156.2h4.4v5.9h-4.4zM143.2 118.2h3.8v5.1h-3.8zM204.8 135.8h4.2v7.2h-4.2zM243.0 132.8h5.0v8.6h-5.0zM122.9 233.0h4.5v5.5h-4.5zM263.4 182.1h3.8v5.1h-3.8zM172.0 214.1h4.7v7.2h-4.7zM232.3 198.3h3.6v6.8h-3.6zM234.6 154.5h4.1v5.1h-4.1zM256.7 210.9h3.2v5.5h-3.2zM148.2 150.4h4.4v6.0h-4.4zM185.6 226.6h4.7v8.6h-4.7zM131.0 157.8h3.1v8.5h-3.1zM250.3 80.8h3.8v8.5h-3.8zM106.1 166.4h3.3v7.9h-3.3zM223.5 196.9h4.9v6.9h-4.9zM166.3 172.3h4.0v6.9h-4.0zM139.9 77.7h3.4v8.4h-3.4zM293.8 182.4h4.1v6.8h-4.1zM237.3 156.6h3.8v6.8h-3.8zM195.4 202.2h4.8v8.7h-4.8zM206.6 201.4h4.0v5.1h-4.0zM53.1 206.3h3.3v5.8h-3.3zM211.2 140.4h4.8v8.7h-4.8zM128.0 178.1h3.5v5.1h-3.5zM203.2 162.7h3.8v8.5h-3.8zM129.5 136.9h3.5v7.8h-3.5zM196.7 233.3h3.9v7.9h-3.9zM137.5 123.5h3.4v8.2h-3.4zM91.0 182.8h4.7v8.6h-4.7zM212.5 156.1h3.2v6.2h-3.2zM249.6 129.4h3.4v8.3h-3.4zM109.4 87.6h3.9v5.6h-3.9zM235.4 188.3h4.3v5.7h-4.3zM172.5 207.6h4.6v5.7h-4.6zM186.5 133.0h3.5v5.2h-3.5zM242.3 79.7h4.3v6.2h-4.3zM242.0 213.4h4.0v5.7h-4.0zM46.6 196.2h3.2v5.4h-3.2zM212.1 97.5h3.8v5.1h-3.8zM156.7 127.7h4.6v7.5h-4.6zM217.0 132.4h4.6v7.9h-4.6zM186.2 107.0h3.6v6.9h-3.6zM236.9 80.6h3.6v6.2h-3.6zM280.9 187.3h3.1v7.6h-3.1zM162.1 112.0h3.9v8.5h-3.9zM203.8 116.4h3.1v7.3h-3.1zM175.7 175.3h3.6v6.4h-3.6zM179.1 114.4h4.3v8.0h-4.3zM207.1 121.4h3.0v8.8h-3.0zM207.2 162.7h4.2v8.8h-4.2zM76.5 149.7h4.1v8.8h-4.1zM230.2 134.8h3.3v6.9h-3.3zM61.2 134.4h3.8v5.5h-3.8zM136.7 169.4h3.3v5.5h-3.3zM139.5 228.9h4.5v8.7h-4.5zM55.6 206.2h3.1v8.4h-3.1zM128.6 92.5h3.5v6.3h-3.5zM210.4 124.5h3.6v5.9h-3.6zM247.3 157.7h4.1v6.2h-4.1zM210.8 196.7h3.2v5.5h-3.2zM167.9 132.5h4.3v5.4h-4.3zM223.6 231.4h3.3v5.9h-3.3zM261.3 131.7h3.3v5.5h-3.3zM142.4 211.9h4.0v5.5h-4.0zM36.3 197.6h3.8v8.7h-3.8zM114.9 135.7h4.9v8.9h-4.9zM226.3 221.2h3.7v7.3h-3.7zM144.6 250.4h3.4v6.6h-3.4zM158.9 192.5h4.1v6.6h-4.1zM189.9 242.3h3.4v7.9h-3.4zM206.2 176.3h3.7v6.0h-3.7zM266.2 208.0h3.5v7.5h-3.5zM189.4 199.7h3.3v5.5h-3.3zM189.6 162.6h5.0v8.2h-5.0zM201.1 133.8h4.9v6.3h-4.9z" fill="#1c4490"/>
<polygon points="29,64 42,57 48,70 40,82 30,76" fill="#2a5cb4"/><polygon points="29,66 36,60 38,76 30,75" fill="#1a3a8c"/>
</g></g>
<line x1="357.4" y1="132.6" x2="403.2" y2="161.7" stroke="#4a4a4a" stroke-width="1.1"/>
<line x1="475.5" y1="114.69999999999999" x2="521.3" y2="143.79999999999998" stroke="#4a4a4a" stroke-width="1.1"/>
<line x1="357.4" y1="132.6" x2="475.5" y2="114.69999999999999" stroke="#666" stroke-width="0.95" stroke-dasharray="1.2,1.1"/>
<line x1="403.2" y1="161.7" x2="521.3" y2="143.79999999999998" stroke="#666" stroke-width="0.95" stroke-dasharray="1.2,1.1"/>
<polygon points="357.4,184.2 475.5,166.3 521.3,195.4 403.2,213.3" fill="#ffffff"/>
<g transform="matrix(0.36157 -0.05237 0.18329 0.1112 351.867 181.232)"><g clip-path="url(#cp)">
<rect x="17" y="20" width="305" height="252" fill="#f2f4f6"/>
<path d="M168.6 116.4h4.7v7.7h-4.7zM220.7 178.1h6.4v10.8h-6.4zM152.2 142.0h5.6v12.3h-5.6zM166.4 153.5h5.8v12.2h-5.8zM237.9 146.2h5.1v11.2h-5.1zM291.9 201.2h4.3v7.0h-4.3zM166.3 186.0h6.3v9.7h-6.3zM158.6 163.9h3.6v9.7h-3.6zM131.0 132.0h4.0v9.2h-4.0zM91.0 132.9h6.8v12.9h-6.8zM169.0 160.7h4.4v11.1h-4.4zM217.6 94.0h4.1v11.5h-4.1zM190.7 118.5h5.8v9.8h-5.8zM135.2 205.2h6.4v10.2h-6.4zM156.5 203.0h3.4v8.9h-3.4zM190.2 143.2h6.9v6.0h-6.9zM143.9 80.1h4.3v9.3h-4.3zM262.4 122.7h5.2v7.7h-5.2zM173.0 188.4h6.3v7.4h-6.3zM263.4 134.3h5.5v11.4h-5.5zM187.3 149.1h6.9v9.1h-6.9zM162.6 211.9h3.2v7.1h-3.2zM181.2 226.0h5.5v7.2h-5.5zM171.0 130.9h3.7v10.5h-3.7zM171.8 168.2h4.4v8.7h-4.4zM153.5 194.7h5.8v8.3h-5.8zM186.3 196.6h4.4v12.9h-4.4zM157.0 95.6h3.3v11.6h-3.3zM109.7 129.1h5.7v10.4h-5.7zM121.6 100.0h3.0v9.7h-3.0zM189.4 140.8h6.4v11.0h-6.4zM145.8 148.8h3.5v9.8h-3.5zM234.6 137.2h5.2v9.9h-5.2zM167.2 121.9h4.2v7.5h-4.2zM195.3 102.8h4.6v6.6h-4.6zM119.1 188.3h4.4v12.4h-4.4zM83.2 109.3h4.9v10.9h-4.9zM113.6 123.0h4.6v7.9h-4.6zM212.9 208.7h3.6v6.3h-3.6zM276.9 146.0h5.5v11.7h-5.5zM134.8 167.6h6.6v10.0h-6.6zM196.5 140.8h4.7v8.5h-4.7zM164.8 110.0h5.1v12.2h-5.1zM203.9 117.5h3.9v6.5h-3.9zM162.3 181.2h4.6v6.5h-4.6zM264.8 203.5h5.5v9.7h-5.5zM171.6 209.7h6.1v8.5h-6.1zM170.0 177.9h3.5v12.1h-3.5zM219.5 149.8h5.8v12.3h-5.8zM211.4 157.5h3.0v11.8h-3.0zM230.5 152.8h5.5v10.4h-5.5zM283.7 186.9h4.4v11.5h-4.4zM217.7 180.5h3.5v6.4h-3.5zM199.4 170.7h3.7v10.3h-3.7zM121.4 131.3h4.9v11.2h-4.9zM195.3 171.0h4.6v6.6h-4.6zM226.5 130.9h6.5v8.8h-6.5zM223.1 199.4h4.1v10.2h-4.1zM160.9 202.0h4.3v11.8h-4.3zM225.0 194.1h5.4v11.3h-5.4zM206.7 208.9h3.4v6.3h-3.4zM212.4 185.9h5.5v10.2h-5.5zM233.2 113.0h6.7v10.4h-6.7zM187.3 106.1h4.3v11.2h-4.3zM258.2 105.1h5.2v7.6h-5.2zM149.4 199.7h6.2v9.5h-6.2zM198.7 156.9h3.5v8.8h-3.5zM104.8 99.6h3.6v12.5h-3.6zM192.2 212.4h4.4v8.2h-4.4zM229.0 184.9h5.2v8.3h-5.2zM62.7 144.5h5.5v12.0h-5.5zM168.7 184.7h5.7v11.1h-5.7zM177.1 151.9h4.8v9.4h-4.8zM210.1 93.3h4.1v11.1h-4.1zM184.7 211.6h5.3v9.5h-5.3zM107.9 193.8h6.8v11.4h-6.8zM211.8 187.9h5.4v9.4h-5.4zM235.6 189.2h6.7v7.9h-6.7zM250.8 216.5h4.6v10.0h-4.6zM213.9 162.2h4.5v10.6h-4.5zM192.5 244.4h6.9v9.6h-6.9zM143.2 139.8h4.6v9.4h-4.6zM181.6 208.2h5.9v10.5h-5.9zM126.2 160.6h5.9v9.8h-5.9zM239.8 189.0h4.4v10.9h-4.4zM136.8 209.5h5.8v6.4h-5.8zM232.3 155.9h6.2v7.7h-6.2zM279.2 164.6h5.9v8.7h-5.9zM201.1 191.9h5.2v12.9h-5.2zM120.2 113.7h4.1v8.8h-4.1zM279.3 142.6h6.7v11.1h-6.7zM183.3 169.1h6.8v6.3h-6.8zM252.1 117.9h3.4v9.6h-3.4zM251.4 158.5h4.7v11.7h-4.7zM221.4 224.1h4.3v10.7h-4.3zM206.5 87.3h6.3v12.6h-6.3zM146.7 149.4h6.5v9.1h-6.5zM214.0 143.5h4.4v9.2h-4.4zM255.4 153.6h6.0v10.1h-6.0zM254.1 211.4h5.4v11.3h-5.4zM198.4 151.2h4.5v12.3h-4.5zM136.9 170.3h3.4v7.6h-3.4zM260.7 203.2h4.0v9.9h-4.0zM93.9 100.8h5.8v11.4h-5.8zM226.4 196.6h5.7v8.6h-5.7zM160.9 107.8h3.0v8.3h-3.0zM259.3 156.3h4.7v8.0h-4.7zM236.2 181.3h4.6v9.1h-4.6zM243.6 152.1h5.1v11.8h-5.1zM122.7 175.3h5.6v9.7h-5.6zM141.3 99.1h4.1v7.0h-4.1zM203.8 177.5h4.5v9.1h-4.5zM161.9 158.1h6.8v7.6h-6.8zM255.1 189.6h6.0v6.2h-6.0zM197.7 221.2h5.1v12.3h-5.1zM269.4 181.4h5.9v12.4h-5.9zM163.4 197.9h3.5v8.2h-3.5zM190.3 141.4h3.5v11.2h-3.5zM175.8 126.5h6.6v7.8h-6.6zM251.7 108.6h3.5v6.6h-3.5zM251.9 214.9h6.2v9.4h-6.2zM221.6 155.6h5.9v6.1h-5.9zM289.2 115.5h4.2v11.3h-4.2zM128.4 89.0h6.0v10.5h-6.0zM60.0 130.9h3.5v12.1h-3.5zM192.0 153.7h4.6v10.0h-4.6zM96.5 166.3h3.6v11.3h-3.6zM170.9 151.4h6.5v7.2h-6.5zM235.5 111.4h6.4v9.6h-6.4zM227.6 149.7h5.1v10.8h-5.1zM243.1 160.1h3.5v12.9h-3.5zM141.0 181.0h3.6v11.7h-3.6zM127.0 186.7h6.5v9.0h-6.5zM174.2 157.7h3.8v6.8h-3.8zM131.5 122.5h3.2v8.9h-3.2zM257.3 120.8h7.0v10.1h-7.0zM217.2 93.1h5.7v11.6h-5.7zM153.8 240.6h5.6v6.7h-5.6zM153.6 101.4h4.8v8.0h-4.8zM148.3 165.8h5.7v7.9h-5.7zM151.0 129.1h3.7v10.7h-3.7zM222.6 228.8h4.1v10.5h-4.1zM279.7 130.6h3.6v12.8h-3.6zM233.8 194.6h6.8v6.6h-6.8zM180.9 137.6h4.7v10.5h-4.7zM172.1 193.4h5.5v7.0h-5.5zM126.8 181.0h3.5v9.9h-3.5zM114.2 48.2h6.6v8.3h-6.6zM190.2 144.9h4.9v10.6h-4.9zM254.9 149.2h3.7v6.8h-3.7zM183.5 109.2h5.8v7.0h-5.8zM149.9 132.0h6.2v10.5h-6.2zM207.3 169.1h4.4v10.7h-4.4zM192.4 235.3h6.5v11.2h-6.5zM178.7 102.0h5.0v7.2h-5.0zM159.4 102.0h5.0v6.9h-5.0zM121.9 121.0h5.7v11.2h-5.7zM204.0 114.4h3.9v12.9h-3.9zM277.4 149.4h3.0v12.1h-3.0zM281.5 206.1h6.5v10.3h-6.5zM134.9 197.2h4.5v7.3h-4.5zM239.9 178.9h6.8v12.1h-6.8zM186.2 150.9h6.5v11.3h-6.5zM150.4 205.8h3.5v9.2h-3.5zM188.4 162.3h5.3v11.9h-5.3zM254.8 99.6h3.6v9.0h-3.6zM89.4 250.3h4.3v11.6h-4.3zM168.7 195.7h4.9v9.4h-4.9zM230.0 164.5h3.7v8.5h-3.7zM92.5 245.7h3.2v11.9h-3.2zM188.1 129.3h5.6v7.8h-5.6zM191.2 151.9h3.3v10.6h-3.3zM193.1 233.5h3.8v6.6h-3.8zM155.3 223.2h5.8v12.9h-5.8zM211.5 164.4h5.2v11.2h-5.2zM138.2 127.5h5.5v9.4h-5.5zM202.4 145.7h7.0v6.5h-7.0zM245.7 119.2h3.5v12.3h-3.5zM71.4 195.4h3.2v12.5h-3.2zM228.3 220.1h4.1v8.7h-4.1zM107.3 185.7h4.5v7.1h-4.5zM123.4 130.4h3.3v7.8h-3.3zM151.8 107.1h6.4v11.4h-6.4zM229.0 222.5h3.8v12.6h-3.8zM192.6 168.2h6.8v11.2h-6.8zM128.8 177.0h6.9v10.4h-6.9zM293.5 153.8h3.7v7.4h-3.7zM262.6 143.3h5.7v11.2h-5.7zM196.4 218.3h5.4v11.1h-5.4zM164.5 169.0h5.1v8.8h-5.1zM248.9 125.5h3.9v9.2h-3.9zM194.7 147.6h4.0v9.7h-4.0zM241.7 203.5h4.5v7.0h-4.5zM242.4 198.0h5.5v8.9h-5.5zM259.7 137.4h6.2v7.5h-6.2zM250.2 145.0h5.0v10.2h-5.0zM163.4 110.3h4.4v8.3h-4.4zM161.8 179.8h5.9v9.2h-5.9zM127.4 199.1h4.1v9.7h-4.1zM257.1 170.2h4.1v9.9h-4.1zM107.9 186.7h5.8v10.5h-5.8zM138.2 232.7h5.0v12.7h-5.0zM199.7 151.9h6.3v7.8h-6.3zM230.6 136.9h3.4v8.5h-3.4zM137.7 168.3h4.6v8.4h-4.6zM229.5 128.7h6.2v6.5h-6.2zM183.6 153.7h5.3v11.6h-5.3zM97.2 169.7h5.4v10.8h-5.4zM208.1 199.9h4.1v9.1h-4.1zM220.7 139.3h3.4v8.6h-3.4zM48.3 210.5h7.0v10.3h-7.0zM133.3 181.6h3.1v11.0h-3.1zM105.5 211.8h4.2v7.7h-4.2zM170.7 129.0h5.8v9.4h-5.8zM100.7 199.3h3.2v10.1h-3.2zM137.0 161.9h5.8v7.3h-5.8zM154.0 182.1h5.3v11.3h-5.3zM205.7 106.2h5.6v7.5h-5.6zM212.0 114.6h3.1v7.1h-3.1zM91.4 109.5h4.2v11.7h-4.2zM109.4 93.6h6.6v6.9h-6.6zM134.8 113.8h6.9v11.7h-6.9zM111.0 166.3h3.3v12.7h-3.3zM184.6 163.2h4.6v7.3h-4.6zM280.0 217.5h3.8v9.8h-3.8zM143.0 189.6h7.0v7.0h-7.0zM71.6 79.3h3.5v11.4h-3.5zM238.6 194.7h6.2v12.4h-6.2zM174.3 166.2h3.0v6.4h-3.0zM217.2 104.0h4.1v12.8h-4.1zM166.0 187.5h5.5v12.8h-5.5zM302.7 122.8h4.9v12.9h-4.9zM119.7 220.2h3.6v9.9h-3.6zM198.7 134.7h4.8v11.3h-4.8zM223.1 177.3h3.2v11.2h-3.2zM180.1 167.4h5.8v9.3h-5.8zM101.6 209.2h3.6v8.7h-3.6zM141.5 114.4h4.1v6.5h-4.1zM246.5 221.6h4.3v12.8h-4.3zM212.5 126.5h6.6v6.7h-6.6zM160.8 143.0h3.4v9.9h-3.4zM270.3 150.2h6.0v9.2h-6.0zM179.8 151.7h5.6v12.6h-5.6zM243.6 147.4h4.2v12.0h-4.2zM126.4 223.8h4.0v9.7h-4.0zM236.8 89.2h6.6v9.9h-6.6zM132.4 83.7h6.5v6.1h-6.5zM235.4 124.8h5.2v9.1h-5.2zM183.1 237.4h3.8v10.1h-3.8zM142.5 174.0h6.9v10.1h-6.9zM237.7 183.3h6.2v6.9h-6.2zM248.6 213.1h4.6v12.1h-4.6zM185.2 106.1h3.5v10.9h-3.5zM108.8 206.0h3.9v10.5h-3.9zM215.5 148.5h3.8v9.2h-3.8zM139.9 230.6h5.0v12.5h-5.0zM185.9 144.4h6.8v7.4h-6.8zM130.5 196.8h6.6v7.0h-6.6zM140.6 183.7h3.2v9.2h-3.2zM249.7 135.4h5.4v11.7h-5.4zM132.5 146.3h6.4v6.7h-6.4zM202.8 146.0h3.1v10.7h-3.1zM189.0 217.9h5.3v10.1h-5.3zM149.7 222.8h3.6v7.5h-3.6zM206.2 163.7h5.6v10.0h-5.6zM280.3 118.9h3.9v11.2h-3.9zM162.8 120.5h3.5v9.8h-3.5zM199.7 130.6h4.1v8.8h-4.1zM250.1 155.6h3.7v7.1h-3.7zM83.8 69.6h5.2v8.9h-5.2zM144.6 214.3h3.8v9.1h-3.8zM143.4 165.2h3.5v8.7h-3.5zM248.5 198.4h6.1v12.6h-6.1zM143.9 119.3h5.4v7.6h-5.4zM144.8 116.0h6.2v7.6h-6.2zM96.5 132.4h3.3v10.3h-3.3zM209.1 172.1h4.2v12.4h-4.2zM89.9 163.7h4.7v12.2h-4.7zM231.8 94.2h3.7v6.4h-3.7zM281.4 122.1h6.4v6.7h-6.4zM124.4 204.4h5.3v12.7h-5.3zM220.6 110.2h3.4v12.5h-3.4zM238.9 151.4h6.7v12.7h-6.7zM191.7 174.0h6.4v12.3h-6.4zM178.6 184.5h5.6v10.5h-5.6zM103.9 134.3h4.4v8.4h-4.4zM152.0 197.4h3.7v10.2h-3.7zM153.1 158.0h5.1v11.3h-5.1zM173.4 82.0h3.0v8.3h-3.0zM260.8 208.0h3.6v6.5h-3.6zM189.4 220.7h4.6v6.4h-4.6zM224.4 157.7h4.3v6.7h-4.3zM136.2 106.5h4.5v10.8h-4.5zM182.3 176.4h3.4v6.5h-3.4zM147.4 229.7h5.9v11.3h-5.9zM102.7 116.7h5.9v7.1h-5.9zM221.1 166.2h3.3v10.8h-3.3zM220.7 149.9h5.0v12.6h-5.0zM211.2 149.8h5.7v9.8h-5.7zM56.1 197.0h3.8v8.7h-3.8zM189.6 176.9h3.6v9.0h-3.6zM292.6 134.8h5.6v12.0h-5.6zM189.3 133.5h6.1v7.4h-6.1zM126.4 67.7h4.7v7.8h-4.7zM126.1 171.5h4.5v8.0h-4.5zM220.9 102.5h4.1v7.7h-4.1zM237.2 186.0h6.4v10.1h-6.4zM180.3 180.8h6.2v12.6h-6.2zM38.4 51.3h5.0v6.3h-5.0zM206.2 190.5h5.4v10.8h-5.4zM208.0 180.8h4.6v8.6h-4.6zM247.6 170.3h3.0v11.7h-3.0zM229.1 192.4h4.9v9.9h-4.9zM270.1 155.7h6.5v10.0h-6.5zM180.2 199.9h5.1v10.5h-5.1zM181.7 174.1h3.0v7.0h-3.0zM142.6 138.1h3.9v8.8h-3.9zM170.9 177.6h4.9v6.4h-4.9zM121.9 155.0h4.5v13.0h-4.5zM291.3 197.8h4.5v12.6h-4.5zM139.2 183.9h4.0v7.2h-4.0zM199.4 149.1h3.1v6.8h-3.1zM184.1 229.9h4.1v11.1h-4.1zM243.5 212.6h4.5v6.4h-4.5zM245.9 98.4h7.0v7.7h-7.0zM220.6 208.5h3.0v12.4h-3.0zM199.5 143.1h3.3v6.8h-3.3zM66.9 94.5h4.0v10.4h-4.0zM233.0 192.9h3.1v12.7h-3.1zM266.0 166.5h3.1v10.7h-3.1zM182.9 182.0h5.1v9.9h-5.1zM204.2 138.4h4.3v7.9h-4.3zM177.9 103.6h4.2v9.9h-4.2zM154.0 102.6h6.3v11.7h-6.3zM214.1 181.6h5.2v10.7h-5.2zM132.8 196.8h6.1v7.3h-6.1zM103.2 147.6h4.9v10.1h-4.9zM225.0 190.8h6.1v11.0h-6.1zM209.7 162.2h3.4v8.5h-3.4zM66.0 253.5h4.0v10.5h-4.0zM148.7 177.3h6.7v10.0h-6.7zM236.6 151.3h5.0v6.6h-5.0zM250.4 125.8h6.6v11.4h-6.6zM183.4 196.7h5.5v8.6h-5.5zM117.7 146.8h6.3v7.9h-6.3zM221.9 112.7h6.4v10.0h-6.4zM112.9 115.8h5.7v7.4h-5.7zM182.3 213.3h3.2v10.6h-3.2zM117.2 87.9h5.7v6.3h-5.7zM125.7 101.0h5.0v8.1h-5.0zM201.1 152.9h5.2v10.0h-5.2zM212.7 127.4h5.2v9.8h-5.2zM118.5 51.6h6.8v12.4h-6.8zM169.5 116.3h5.8v7.9h-5.8zM182.8 153.0h3.6v7.0h-3.6zM166.2 210.4h6.3v8.6h-6.3zM139.5 167.4h4.7v9.9h-4.7zM105.6 91.9h5.7v9.2h-5.7zM158.6 115.3h5.1v7.2h-5.1zM151.8 134.9h5.1v8.0h-5.1zM55.7 238.5h6.6v11.4h-6.6zM180.2 141.8h4.4v10.5h-4.4zM202.2 120.5h7.0v10.8h-7.0zM170.1 221.2h5.4v9.5h-5.4zM266.8 140.8h5.0v12.8h-5.0zM216.2 199.9h6.0v9.0h-6.0zM192.8 200.6h5.0v8.0h-5.0zM213.5 154.6h5.3v7.3h-5.3zM212.4 171.9h5.6v7.1h-5.6zM94.7 225.3h6.4v10.3h-6.4zM273.9 221.9h4.7v10.0h-4.7zM168.6 115.1h3.5v9.7h-3.5zM200.6 206.9h3.2v8.2h-3.2zM149.6 208.5h6.2v9.5h-6.2zM190.3 155.2h4.6v7.2h-4.6zM102.7 127.8h6.6v10.9h-6.6zM173.2 152.4h6.9v6.7h-6.9zM80.3 173.1h4.1v8.9h-4.1zM185.3 202.8h6.6v9.3h-6.6zM191.2 207.9h6.7v8.5h-6.7zM115.7 149.6h6.6v8.1h-6.6zM96.5 231.5h5.7v12.6h-5.7zM169.7 132.6h6.8v7.1h-6.8zM165.9 113.2h5.1v10.3h-5.1zM188.2 205.5h6.0v11.4h-6.0zM239.6 182.6h6.0v9.9h-6.0zM216.6 157.2h4.7v7.4h-4.7zM131.3 127.1h6.3v12.5h-6.3zM235.7 108.7h5.0v10.0h-5.0zM134.1 131.9h5.8v9.4h-5.8zM177.6 192.9h3.9v9.5h-3.9zM174.3 123.0h6.1v11.1h-6.1zM133.1 124.5h5.3v7.7h-5.3zM171.0 111.6h5.1v6.2h-5.1zM222.8 120.4h4.3v9.7h-4.3zM124.0 101.5h6.1v12.3h-6.1zM259.4 198.2h6.5v10.4h-6.5zM163.2 152.9h3.7v11.6h-3.7zM256.2 204.2h5.6v9.8h-5.6zM199.6 112.1h4.9v12.7h-4.9zM258.4 189.6h5.9v11.6h-5.9zM191.1 221.0h4.9v9.7h-4.9zM188.1 167.3h3.3v11.8h-3.3zM150.7 129.2h6.3v12.3h-6.3zM162.6 179.8h5.4v6.3h-5.4zM205.5 209.8h3.4v10.4h-3.4zM43.2 64.4h3.5v9.9h-3.5zM177.9 156.8h3.7v9.3h-3.7zM191.4 142.0h3.9v10.2h-3.9zM153.6 204.2h3.8v6.5h-3.8zM171.9 215.5h5.7v9.9h-5.7zM152.9 170.1h6.8v7.6h-6.8zM219.8 113.6h3.8v10.7h-3.8zM214.1 166.0h4.7v7.9h-4.7zM200.1 175.0h3.6v7.1h-3.6zM132.0 135.8h3.3v8.7h-3.3zM134.3 132.8h3.6v7.5h-3.6zM202.9 133.6h3.2v12.1h-3.2zM225.0 169.7h4.1v9.4h-4.1zM155.4 239.7h3.1v7.7h-3.1zM84.2 80.9h6.7v10.2h-6.7zM155.8 191.6h6.3v8.8h-6.3zM214.5 150.2h5.8v9.3h-5.8zM281.6 155.7h6.6v7.3h-6.6zM120.1 74.3h4.0v7.4h-4.0zM86.5 105.3h6.4v9.1h-6.4zM188.5 136.8h5.7v7.7h-5.7zM223.6 170.9h3.3v7.4h-3.3zM193.5 135.0h4.3v12.4h-4.3zM155.0 172.7h3.8v8.3h-3.8zM86.7 176.6h4.6v7.0h-4.6zM283.6 169.1h3.5v6.9h-3.5zM265.9 159.7h5.1v8.6h-5.1zM214.5 137.0h5.0v9.3h-5.0zM112.6 141.8h5.9v7.5h-5.9zM101.8 212.0h4.2v7.7h-4.2zM137.5 204.2h3.9v8.0h-3.9zM116.9 154.3h4.2v8.1h-4.2zM221.3 115.2h3.0v7.4h-3.0zM113.6 210.3h6.5v9.6h-6.5zM208.4 178.5h5.3v12.5h-5.3zM201.8 157.6h5.8v10.6h-5.8zM254.2 168.9h6.1v8.5h-6.1zM193.8 198.3h6.6v12.8h-6.6zM183.1 103.8h6.8v12.6h-6.8zM119.4 118.2h4.8v10.1h-4.8zM238.5 168.9h4.2v12.8h-4.2zM298.7 149.7h3.9v8.8h-3.9zM203.8 182.4h7.0v10.7h-7.0zM112.2 199.0h6.5v7.0h-6.5zM274.6 206.4h5.8v8.1h-5.8zM181.2 179.3h4.4v6.1h-4.4zM198.2 184.9h4.6v10.5h-4.6zM170.6 113.3h3.1v8.3h-3.1zM143.3 128.4h6.5v11.0h-6.5zM155.5 164.5h4.5v12.9h-4.5zM287.2 186.7h3.4v9.6h-3.4zM178.0 119.4h3.6v11.5h-3.6zM171.6 91.4h7.0v11.4h-7.0zM106.3 183.3h4.8v11.7h-4.8zM191.8 169.3h4.8v10.7h-4.8zM128.4 103.2h4.4v8.5h-4.4zM121.8 113.5h6.3v7.5h-6.3zM226.2 151.7h3.4v10.2h-3.4zM247.7 207.9h3.1v9.3h-3.1zM257.8 214.0h3.2v9.1h-3.2zM241.7 173.3h4.7v6.5h-4.7zM258.7 179.2h6.0v9.5h-6.0zM291.2 155.1h3.6v9.1h-3.6zM133.3 212.3h4.2v6.5h-4.2zM88.7 111.9h5.7v9.0h-5.7zM288.2 175.5h4.6v9.4h-4.6zM169.1 211.1h6.5v9.9h-6.5zM174.6 209.6h4.7v12.2h-4.7zM251.3 139.6h3.3v6.3h-3.3zM134.3 144.1h3.8v12.0h-3.8zM255.8 191.9h3.8v7.1h-3.8zM209.7 162.2h5.8v11.4h-5.8zM203.4 135.9h4.6v12.5h-4.6zM100.6 170.2h4.4v11.4h-4.4zM149.0 143.4h4.0v9.9h-4.0z" fill="#24344c"/>
<path d="M245.1 220.3h6.0v8.4h-6.0zM150.2 104.5h3.4v7.6h-3.4zM149.8 218.1h3.3v8.4h-3.3zM44.7 194.4h4.1v7.2h-4.1zM136.8 168.4h6.1v9.1h-6.1zM229.2 159.2h5.2v6.3h-5.2zM266.7 167.8h3.1v10.1h-3.1zM155.7 142.7h4.7v6.3h-4.7zM225.0 110.9h3.1v7.9h-3.1zM138.7 210.4h5.6v8.4h-5.6zM209.2 89.2h5.1v7.9h-5.1zM153.5 220.1h3.5v11.5h-3.5zM154.6 180.4h3.8v8.5h-3.8zM185.6 147.4h4.9v13.0h-4.9zM227.4 158.1h6.7v7.1h-6.7zM102.8 62.1h5.7v10.8h-5.7zM251.7 181.1h3.4v8.1h-3.4zM221.4 228.8h5.9v6.6h-5.9zM243.6 153.3h5.7v11.8h-5.7zM149.9 104.2h4.5v6.1h-4.5zM175.9 86.5h6.3v10.7h-6.3zM128.1 161.5h4.9v11.1h-4.9zM188.0 180.2h4.1v10.5h-4.1zM293.1 124.2h3.6v10.9h-3.6zM108.7 155.7h3.6v6.7h-3.6zM130.9 210.0h3.3v10.3h-3.3zM201.9 170.0h4.0v8.8h-4.0zM115.7 207.2h4.3v12.5h-4.3zM212.2 119.2h3.3v9.3h-3.3zM221.7 203.0h6.9v7.2h-6.9zM61.3 55.6h4.6v12.3h-4.6zM159.2 110.6h5.5v8.2h-5.5zM172.7 92.5h3.1v10.6h-3.1zM206.5 135.4h3.3v6.3h-3.3zM226.7 158.3h6.9v7.7h-6.9zM173.0 169.4h6.6v10.1h-6.6zM225.6 152.7h4.3v10.9h-4.3zM73.0 65.6h5.3v8.9h-5.3zM183.3 190.7h5.6v12.5h-5.6zM147.4 219.1h3.6v8.4h-3.6zM191.8 201.8h5.6v6.5h-5.6zM38.0 64.4h3.5v7.4h-3.5zM231.8 110.7h5.1v12.2h-5.1zM193.8 220.1h4.5v12.7h-4.5zM61.6 253.3h4.3v11.0h-4.3zM257.1 201.7h5.1v11.3h-5.1zM137.7 105.5h6.0v7.5h-6.0zM264.0 212.1h6.4v9.7h-6.4zM212.8 169.5h3.2v12.4h-3.2zM146.4 212.6h3.1v8.8h-3.1zM147.8 135.0h4.4v6.3h-4.4zM140.2 183.3h6.8v6.8h-6.8zM178.8 103.3h3.9v10.1h-3.9zM115.1 129.2h4.8v9.4h-4.8zM181.7 135.3h3.8v7.9h-3.8zM144.9 227.1h3.8v8.7h-3.8zM131.0 163.1h4.8v12.0h-4.8zM252.3 158.1h4.9v12.0h-4.9zM183.1 119.6h6.3v10.6h-6.3zM181.7 116.8h5.0v13.0h-5.0zM154.9 158.9h6.9v9.3h-6.9zM126.5 110.7h3.0v10.6h-3.0zM195.1 135.8h5.2v11.4h-5.2zM171.7 121.1h4.9v13.0h-4.9zM237.6 85.7h6.5v8.4h-6.5zM142.3 142.1h6.3v9.5h-6.3zM256.4 149.0h3.4v8.0h-3.4zM141.5 172.4h4.2v8.7h-4.2zM219.9 161.4h4.2v11.0h-4.2zM190.4 139.9h4.5v8.5h-4.5zM121.7 140.2h4.9v12.6h-4.9zM179.1 121.7h4.6v9.1h-4.6zM252.6 117.0h6.1v10.6h-6.1zM152.6 176.7h5.8v6.1h-5.8zM96.8 162.3h5.9v13.0h-5.9zM176.9 100.8h5.3v13.0h-5.3zM263.0 133.5h4.1v7.7h-4.1zM104.2 52.3h5.6v10.9h-5.6zM173.7 223.6h5.4v8.3h-5.4zM116.4 210.3h3.2v8.0h-3.2zM174.2 173.8h4.9v7.9h-4.9zM182.8 232.9h4.4v8.9h-4.4zM180.9 148.0h4.1v7.0h-4.1zM69.7 245.7h4.7v11.1h-4.7zM151.4 169.0h4.9v13.0h-4.9zM128.1 65.8h3.1v8.4h-3.1zM244.8 221.2h4.0v9.3h-4.0zM87.6 128.9h7.0v11.1h-7.0zM140.2 145.4h5.2v7.2h-5.2zM284.0 147.9h6.3v7.0h-6.3zM190.8 187.4h3.9v11.2h-3.9zM97.3 111.0h3.6v6.8h-3.6zM195.3 135.0h4.1v8.5h-4.1zM245.0 162.6h5.2v12.7h-5.2zM90.2 113.2h5.5v6.4h-5.5zM238.0 223.8h5.7v12.0h-5.7zM265.5 200.3h3.9v12.2h-3.9zM55.6 205.6h3.8v12.9h-3.8zM138.5 109.1h3.3v6.1h-3.3zM171.7 121.1h6.5v11.3h-6.5zM85.3 49.0h5.5v6.5h-5.5zM107.4 201.3h3.9v10.7h-3.9zM146.1 170.5h5.2v7.7h-5.2zM233.8 193.1h4.5v12.7h-4.5zM214.0 207.3h4.2v8.3h-4.2zM76.6 175.0h5.9v11.6h-5.9zM255.4 105.0h3.6v12.6h-3.6zM149.6 190.1h4.2v6.6h-4.2zM178.3 179.6h6.1v11.5h-6.1zM188.8 248.3h5.6v9.6h-5.6zM245.0 166.9h3.6v7.7h-3.6zM223.0 147.1h5.8v11.2h-5.8zM139.2 103.3h5.3v11.2h-5.3zM213.8 85.2h4.7v10.9h-4.7zM191.5 123.3h4.4v9.7h-4.4zM181.2 182.7h4.0v6.3h-4.0zM163.7 179.8h3.4v7.0h-3.4zM181.5 157.6h5.3v12.4h-5.3zM159.5 150.8h4.7v9.4h-4.7zM67.1 199.6h3.6v9.0h-3.6zM150.4 167.9h3.4v9.2h-3.4zM206.0 163.3h6.8v7.8h-6.8zM161.7 223.4h5.7v9.3h-5.7zM133.1 164.9h5.1v7.8h-5.1zM180.0 126.6h5.4v12.3h-5.4zM191.3 219.8h3.8v7.0h-3.8zM138.5 134.8h5.8v7.4h-5.8zM238.5 144.8h5.7v6.4h-5.7zM140.1 196.1h3.4v7.7h-3.4zM272.4 170.8h3.0v8.6h-3.0zM171.7 164.1h4.1v6.7h-4.1zM160.0 154.1h5.6v11.6h-5.6zM78.2 76.5h5.2v7.4h-5.2zM220.6 89.8h6.7v12.8h-6.7zM163.0 178.4h3.5v9.5h-3.5zM93.9 107.6h4.4v9.5h-4.4zM103.4 160.0h3.5v11.9h-3.5zM238.7 114.1h5.6v9.5h-5.6zM67.4 67.2h5.5v7.9h-5.5zM40.4 76.3h5.6v10.8h-5.6zM199.8 118.5h6.4v10.4h-6.4zM156.1 185.7h3.2v11.9h-3.2zM149.9 229.5h5.4v8.4h-5.4zM282.9 160.3h4.1v11.3h-4.1zM191.5 209.9h5.0v12.8h-5.0zM137.4 103.3h6.6v6.1h-6.6zM247.1 145.0h6.1v11.7h-6.1zM177.9 243.0h6.2v10.9h-6.2zM186.0 238.8h6.8v11.3h-6.8zM138.9 179.3h4.9v7.7h-4.9zM148.2 157.7h6.8v7.6h-6.8zM232.9 151.0h6.3v6.9h-6.3zM238.1 172.5h5.3v9.1h-5.3zM166.4 197.8h6.1v8.1h-6.1zM112.7 149.8h5.0v10.1h-5.0zM79.8 198.8h6.5v12.8h-6.5zM140.3 162.2h6.2v12.1h-6.2zM89.0 208.0h4.1v7.7h-4.1zM186.5 216.2h3.2v6.2h-3.2zM148.2 214.1h6.3v11.5h-6.3zM90.5 171.9h6.4v7.6h-6.4zM159.3 198.4h6.3v8.3h-6.3zM193.2 228.8h3.6v6.1h-3.6zM142.4 203.4h3.1v8.1h-3.1zM136.6 137.7h4.6v11.5h-4.6zM211.4 159.0h6.0v10.0h-6.0zM250.7 95.5h6.9v7.9h-6.9zM189.2 195.7h3.0v12.8h-3.0zM139.9 131.5h3.5v12.3h-3.5zM182.2 109.9h5.5v7.7h-5.5zM82.6 180.7h5.1v7.1h-5.1zM89.1 182.1h3.5v7.8h-3.5zM145.2 226.8h5.2v9.2h-5.2zM208.3 160.9h5.3v8.6h-5.3zM190.9 109.1h4.3v9.3h-4.3zM154.4 189.7h3.5v9.8h-3.5zM252.9 187.1h5.6v10.8h-5.6zM94.9 131.0h4.4v6.6h-4.4zM226.5 154.5h6.9v12.4h-6.9zM256.3 210.5h3.5v9.5h-3.5zM214.3 138.8h3.4v8.4h-3.4zM206.7 184.1h3.7v12.6h-3.7zM227.9 209.2h6.3v9.5h-6.3zM146.1 139.1h4.0v10.1h-4.0zM209.9 200.5h6.5v11.1h-6.5zM252.4 209.1h4.0v10.2h-4.0zM124.7 192.9h5.4v7.9h-5.4zM248.8 160.3h5.7v8.5h-5.7zM214.2 134.0h5.7v7.1h-5.7zM264.3 154.2h5.1v12.7h-5.1zM270.0 174.6h4.3v10.8h-4.3zM183.9 139.9h6.1v12.8h-6.1zM250.0 178.3h5.6v9.5h-5.6zM199.7 146.9h5.9v11.2h-5.9zM226.5 99.9h4.5v11.9h-4.5zM256.8 90.8h6.4v9.6h-6.4zM117.0 197.2h6.7v7.2h-6.7zM239.8 186.7h6.8v6.0h-6.8zM149.7 169.6h3.3v7.3h-3.3zM164.7 177.0h3.2v10.9h-3.2zM276.4 148.2h6.1v6.9h-6.1zM215.8 203.3h6.8v11.0h-6.8zM164.1 170.4h6.7v6.4h-6.7zM203.2 156.2h6.6v9.9h-6.6zM215.5 136.2h5.6v11.0h-5.6zM97.4 182.7h6.5v8.1h-6.5zM194.2 139.4h5.7v6.3h-5.7zM200.2 200.7h4.0v11.4h-4.0zM141.6 156.5h6.1v8.6h-6.1zM192.0 173.3h3.4v11.4h-3.4zM164.7 224.7h5.0v12.6h-5.0zM165.1 99.0h6.3v7.0h-6.3zM201.0 119.7h4.9v10.0h-4.9zM179.6 238.5h4.0v9.5h-4.0zM177.7 124.5h6.5v11.6h-6.5zM91.0 240.2h5.2v9.5h-5.2zM119.7 187.5h3.3v6.9h-3.3zM221.6 193.5h4.8v12.0h-4.8zM130.7 235.5h4.1v12.1h-4.1zM154.0 114.3h3.7v10.6h-3.7zM113.6 146.2h3.4v9.2h-3.4zM166.5 195.5h6.1v8.7h-6.1zM100.6 187.9h4.9v12.5h-4.9zM136.1 167.0h3.7v12.4h-3.7zM182.0 151.3h3.4v11.8h-3.4zM229.9 133.4h4.2v6.6h-4.2zM226.4 127.3h6.2v9.6h-6.2zM185.7 134.8h4.8v12.8h-4.8zM189.3 196.0h5.2v9.9h-5.2zM235.1 198.5h5.5v6.1h-5.5zM203.1 186.4h6.3v8.3h-6.3zM149.7 175.2h7.0v10.8h-7.0zM178.3 204.7h4.7v6.3h-4.7zM279.3 119.9h6.5v8.2h-6.5zM270.2 158.6h4.8v10.5h-4.8zM166.3 193.1h5.8v9.5h-5.8zM223.3 208.2h4.2v6.4h-4.2zM136.4 222.9h5.6v12.5h-5.6zM204.1 204.3h6.4v9.8h-6.4zM275.3 142.3h5.0v11.2h-5.0zM150.3 97.1h5.7v7.4h-5.7zM77.2 221.1h7.0v10.5h-7.0zM264.9 149.8h4.1v10.4h-4.1zM87.9 154.6h4.8v10.2h-4.8zM185.8 158.4h5.9v8.1h-5.9zM176.2 149.9h6.3v7.2h-6.3zM100.5 112.1h4.0v12.6h-4.0zM230.1 105.6h5.4v9.3h-5.4zM178.3 110.5h6.8v13.0h-6.8zM191.4 161.2h3.5v7.4h-3.5zM148.3 189.9h4.3v10.2h-4.3zM247.0 151.7h4.4v10.8h-4.4zM215.9 135.7h4.9v10.7h-4.9zM142.5 129.0h4.2v8.5h-4.2zM178.3 211.1h3.4v12.9h-3.4zM86.0 247.0h6.6v12.5h-6.6zM260.0 121.4h4.0v10.5h-4.0zM271.6 177.4h3.4v6.3h-3.4zM115.9 181.4h5.6v12.8h-5.6zM227.5 145.6h3.1v10.1h-3.1zM129.4 140.4h4.8v11.6h-4.8zM62.1 93.0h6.1v11.5h-6.1zM139.7 123.9h5.5v10.8h-5.5zM182.8 195.6h3.5v10.5h-3.5zM68.4 69.4h4.5v10.8h-4.5zM98.5 108.1h6.4v7.6h-6.4zM177.6 153.7h3.8v10.5h-3.8zM190.5 114.2h3.4v9.9h-3.4zM171.4 148.8h3.4v7.3h-3.4zM62.2 86.6h3.7v8.0h-3.7zM168.8 101.0h4.0v6.5h-4.0zM195.2 179.6h6.9v12.1h-6.9zM263.4 98.6h4.4v10.7h-4.4zM173.4 109.8h4.8v6.4h-4.8zM230.7 95.5h5.5v8.4h-5.5zM152.3 234.0h3.4v6.6h-3.4zM150.1 220.0h3.9v8.6h-3.9zM202.7 218.5h6.1v8.5h-6.1zM144.2 174.3h5.0v12.6h-5.0zM232.9 135.4h4.0v6.3h-4.0zM143.0 189.1h6.5v7.4h-6.5zM125.1 175.6h5.8v6.8h-5.8zM166.8 124.4h6.1v8.3h-6.1zM203.6 86.4h4.1v12.1h-4.1zM185.3 209.4h3.7v12.0h-3.7zM203.2 168.0h6.6v7.6h-6.6zM140.0 181.9h4.6v11.0h-4.6zM230.6 224.6h4.3v7.5h-4.3zM105.9 128.0h3.1v7.9h-3.1zM50.9 80.6h5.8v7.7h-5.8zM206.3 114.9h4.0v11.6h-4.0zM135.2 156.6h3.5v11.8h-3.5zM137.9 173.5h6.1v7.7h-6.1zM211.9 125.3h3.7v12.8h-3.7zM50.8 224.7h6.9v11.8h-6.9zM124.9 100.5h6.9v8.4h-6.9zM79.6 134.5h4.2v8.9h-4.2zM230.8 155.4h3.3v8.9h-3.3zM226.4 130.4h4.3v10.6h-4.3zM192.6 222.8h4.0v7.5h-4.0zM262.0 120.7h6.0v9.5h-6.0zM131.6 241.4h4.9v8.7h-4.9zM166.3 110.2h4.2v12.8h-4.2zM220.3 212.7h4.8v8.1h-4.8zM202.9 119.8h6.8v13.0h-6.8zM126.2 173.1h4.4v12.9h-4.4zM107.0 130.0h6.8v7.4h-6.8zM227.8 200.6h5.0v11.2h-5.0zM216.8 81.9h4.3v9.7h-4.3zM182.0 147.0h6.7v6.6h-6.7zM226.3 115.1h4.2v10.8h-4.2zM101.6 158.9h6.4v8.6h-6.4zM197.4 193.9h4.1v12.1h-4.1zM179.4 114.5h6.3v12.9h-6.3zM213.2 200.9h6.8v6.2h-6.8zM176.1 230.4h3.9v12.7h-3.9zM279.9 197.9h5.2v9.3h-5.2zM241.1 152.5h6.4v9.8h-6.4zM130.7 71.1h4.9v7.5h-4.9zM156.7 139.0h6.2v7.3h-6.2zM160.3 215.8h5.0v8.8h-5.0zM191.6 196.3h5.3v8.3h-5.3zM181.7 206.4h5.6v10.3h-5.6zM173.0 115.4h3.4v11.2h-3.4zM134.5 186.5h4.6v12.1h-4.6zM120.0 178.2h6.7v8.6h-6.7zM270.3 190.5h5.9v12.4h-5.9zM249.5 131.1h6.7v9.7h-6.7zM116.8 149.6h6.4v10.4h-6.4zM133.4 229.1h6.0v6.5h-6.0zM186.9 192.4h5.8v11.6h-5.8zM200.8 151.6h4.8v6.7h-4.8zM193.8 170.5h4.9v8.4h-4.9zM87.2 133.2h5.0v11.6h-5.0zM159.4 125.2h3.5v12.4h-3.5zM160.4 177.1h6.9v12.5h-6.9zM110.6 131.3h4.9v9.6h-4.9zM243.4 182.9h5.2v11.0h-5.2zM195.1 193.8h3.1v11.0h-3.1zM217.0 199.1h4.0v7.9h-4.0zM185.5 172.8h4.0v11.6h-4.0zM202.7 192.1h6.3v12.7h-6.3zM202.7 92.0h6.5v6.3h-6.5zM69.3 138.3h5.8v10.5h-5.8zM147.2 201.5h4.6v10.8h-4.6zM218.0 169.1h3.5v10.1h-3.5zM259.2 179.8h4.5v9.5h-4.5zM188.4 163.8h6.1v11.6h-6.1zM235.2 75.0h3.0v7.0h-3.0zM292.7 182.3h4.2v8.9h-4.2zM230.1 137.6h5.2v11.6h-5.2zM110.2 87.0h5.4v6.8h-5.4zM114.9 166.6h5.5v10.0h-5.5zM192.2 108.3h5.6v6.6h-5.6zM252.8 152.6h5.0v12.0h-5.0zM186.8 111.0h5.0v10.0h-5.0zM171.9 217.5h4.7v9.7h-4.7zM156.9 155.5h5.3v8.6h-5.3zM248.5 95.6h6.7v11.3h-6.7zM236.4 171.9h6.7v7.0h-6.7zM108.8 214.2h6.9v12.9h-6.9zM143.6 123.2h5.1v8.6h-5.1zM137.4 154.5h5.3v7.9h-5.3zM120.7 142.6h6.9v12.3h-6.9zM184.4 136.1h5.4v9.2h-5.4zM163.6 167.6h6.3v6.7h-6.3zM82.5 161.5h5.9v7.6h-5.9zM179.0 137.5h3.2v11.1h-3.2zM237.4 153.1h5.7v8.4h-5.7zM272.5 152.6h4.1v8.7h-4.1zM181.4 229.6h4.6v6.5h-4.6zM158.1 122.3h3.8v10.5h-3.8zM181.0 135.6h6.6v10.7h-6.6zM147.2 87.9h3.5v12.5h-3.5zM153.0 183.4h3.4v11.5h-3.4zM182.4 187.6h6.5v9.3h-6.5zM163.0 196.0h3.2v11.3h-3.2zM233.8 181.4h4.5v9.4h-4.5zM189.3 97.3h6.3v9.8h-6.3zM161.6 194.9h3.6v12.1h-3.6zM165.2 164.7h3.1v6.4h-3.1zM228.0 105.0h3.2v6.3h-3.2zM260.7 114.1h5.0v11.7h-5.0zM133.4 179.7h3.4v9.6h-3.4zM103.3 207.0h3.8v10.7h-3.8zM182.3 106.0h6.8v10.7h-6.8zM126.9 150.7h5.2v9.1h-5.2zM201.1 119.5h5.1v9.7h-5.1zM265.0 125.8h6.0v12.7h-6.0zM244.4 189.3h6.1v10.6h-6.1zM221.8 141.7h6.3v6.0h-6.3zM141.3 210.3h4.7v9.8h-4.7zM180.5 149.4h6.3v12.7h-6.3zM187.1 246.4h4.2v9.7h-4.2zM234.6 88.4h5.4v9.8h-5.4zM229.9 139.7h5.9v7.9h-5.9zM256.8 220.4h3.4v12.5h-3.4zM70.9 228.4h5.5v7.2h-5.5zM230.3 95.6h5.6v6.0h-5.6zM141.0 190.8h5.7v7.4h-5.7zM266.1 185.3h4.8v11.7h-4.8zM232.3 116.1h7.0v10.8h-7.0zM173.2 174.0h5.7v7.7h-5.7zM223.8 146.5h5.9v9.3h-5.9zM257.0 143.0h5.9v6.6h-5.9zM127.8 186.5h5.6v10.3h-5.6zM125.4 190.6h4.0v11.0h-4.0zM272.5 171.5h3.1v7.5h-3.1zM171.3 228.7h6.0v9.2h-6.0zM214.2 127.8h5.0v11.1h-5.0zM216.4 178.0h5.9v8.6h-5.9zM115.6 161.0h6.5v6.4h-6.5zM69.2 62.9h6.6v12.5h-6.6zM159.3 150.1h3.2v11.3h-3.2zM92.6 31.7h4.8v9.3h-4.8zM217.2 186.0h4.6v9.6h-4.6zM208.0 136.6h3.9v6.7h-3.9zM220.9 207.8h5.4v9.9h-5.4zM229.3 104.9h3.1v7.4h-3.1zM204.1 181.7h6.5v8.8h-6.5zM195.8 166.8h3.1v10.6h-3.1zM173.8 164.2h6.8v8.1h-6.8zM221.5 206.6h6.5v12.9h-6.5zM79.4 199.1h6.7v11.7h-6.7zM212.7 130.0h4.7v12.4h-4.7zM87.4 134.0h3.2v6.4h-3.2zM240.9 168.2h4.3v6.8h-4.3zM101.1 192.8h4.3v8.0h-4.3zM75.2 158.9h5.6v9.6h-5.6zM260.9 132.7h4.5v9.7h-4.5zM218.6 220.6h3.6v10.3h-3.6zM199.4 163.7h6.4v7.8h-6.4zM267.7 104.4h3.1v9.2h-3.1zM112.1 132.4h3.2v11.2h-3.2zM109.6 111.3h6.4v11.9h-6.4zM140.6 178.0h3.6v11.0h-3.6zM194.9 207.9h6.1v12.1h-6.1zM212.3 197.9h5.3v9.3h-5.3zM237.6 150.7h6.9v6.7h-6.9zM251.0 144.6h3.7v6.8h-3.7zM170.0 161.6h5.5v8.9h-5.5zM171.5 172.6h4.9v9.9h-4.9zM266.0 100.3h5.6v9.1h-5.6zM163.8 156.6h4.3v6.4h-4.3zM151.9 100.8h3.2v9.8h-3.2zM134.9 135.7h5.5v11.4h-5.5zM166.9 170.3h4.5v10.1h-4.5zM111.5 140.3h7.0v9.8h-7.0zM46.2 197.9h6.9v10.6h-6.9zM221.8 185.3h6.8v7.5h-6.8zM173.1 222.0h4.3v12.8h-4.3zM225.0 162.3h4.3v8.1h-4.3zM183.5 194.1h6.4v11.2h-6.4zM163.4 195.5h4.0v9.5h-4.0zM158.0 141.5h3.6v12.5h-3.6zM157.8 163.7h4.6v9.5h-4.6zM153.5 213.6h4.7v8.7h-4.7z" fill="#3c4c64"/>
<path d="M176.3 186.0h5.6v8.1h-5.6zM289.2 174.7h5.5v8.9h-5.5zM270.9 217.1h4.3v10.0h-4.3zM94.2 39.3h4.0v7.3h-4.0zM108.5 110.9h5.0v11.5h-5.0zM220.2 162.8h6.1v6.9h-6.1zM142.5 142.9h3.3v6.3h-3.3zM172.5 172.2h6.7v6.8h-6.7zM246.5 122.2h3.6v8.2h-3.6zM238.6 218.1h6.2v6.5h-6.2zM97.8 152.5h4.5v7.6h-4.5zM171.1 168.5h4.6v8.0h-4.6zM207.2 109.2h5.8v8.4h-5.8zM149.0 126.3h5.6v10.3h-5.6zM214.8 209.1h6.2v10.9h-6.2zM279.4 179.2h4.8v9.0h-4.8zM68.4 243.0h3.3v8.7h-3.3zM106.6 70.4h6.0v11.5h-6.0zM285.9 171.0h5.1v12.6h-5.1zM278.2 145.6h5.9v7.0h-5.9zM76.9 93.9h3.9v12.2h-3.9zM169.4 161.4h6.2v6.8h-6.2zM221.1 102.1h6.1v8.8h-6.1zM161.4 120.2h6.1v8.0h-6.1zM143.7 196.8h3.1v8.6h-3.1zM152.8 197.6h4.3v9.8h-4.3zM144.6 136.5h3.4v8.6h-3.4zM74.6 202.8h4.6v6.6h-4.6zM233.7 170.0h5.8v7.1h-5.8zM232.5 129.4h4.7v11.2h-4.7zM206.4 145.8h5.3v6.6h-5.3zM133.2 181.7h5.4v8.5h-5.4zM47.2 60.4h6.2v11.9h-6.2zM216.0 131.8h6.6v11.1h-6.6zM106.6 85.0h6.6v9.8h-6.6zM172.5 209.4h4.1v12.2h-4.1zM131.0 104.7h5.3v6.7h-5.3zM203.5 100.7h4.5v10.5h-4.5zM231.3 129.2h6.0v7.9h-6.0zM226.1 190.0h3.8v8.9h-3.8zM190.8 195.5h5.9v7.4h-5.9zM117.1 136.2h4.7v6.8h-4.7zM238.4 80.8h6.5v6.2h-6.5zM280.2 170.1h5.7v9.8h-5.7zM98.9 151.4h3.8v12.7h-3.8zM254.5 175.2h3.5v10.6h-3.5zM117.4 171.4h5.5v7.9h-5.5zM114.1 71.6h6.3v9.7h-6.3zM208.5 212.6h6.4v7.1h-6.4zM228.0 223.6h4.9v10.0h-4.9zM142.4 107.6h3.4v10.8h-3.4zM163.0 115.0h4.2v8.5h-4.2zM191.7 203.0h5.8v7.5h-5.8zM137.6 191.6h6.5v12.5h-6.5zM167.4 120.4h5.3v11.3h-5.3zM242.4 81.8h5.1v10.9h-5.1zM191.1 197.9h3.4v9.3h-3.4zM207.4 202.5h5.4v11.4h-5.4zM117.2 80.9h4.1v10.0h-4.1zM200.4 116.9h3.3v12.8h-3.3zM285.1 209.0h5.2v12.7h-5.2zM127.6 92.5h4.0v10.4h-4.0zM240.4 186.0h5.3v7.5h-5.3zM259.1 194.8h4.1v11.4h-4.1zM237.2 193.9h4.5v11.3h-4.5zM180.3 201.1h4.9v9.5h-4.9zM190.4 236.2h3.0v12.3h-3.0zM253.0 100.0h4.0v6.3h-4.0zM208.3 203.4h5.5v9.1h-5.5zM211.1 216.5h5.5v9.1h-5.5zM196.2 122.2h3.0v10.0h-3.0zM135.1 231.2h4.8v7.2h-4.8zM124.6 145.4h6.5v7.7h-6.5zM133.2 169.5h4.4v7.3h-4.4zM147.0 153.0h6.9v12.8h-6.9zM221.7 190.4h5.3v12.9h-5.3zM45.5 197.0h3.6v8.9h-3.6zM87.4 83.0h5.3v10.9h-5.3zM137.8 129.3h5.5v7.6h-5.5zM223.1 122.5h5.5v6.1h-5.5zM234.1 119.4h5.3v12.9h-5.3zM202.2 203.1h3.7v11.8h-3.7zM114.6 90.7h6.2v11.1h-6.2zM225.3 65.2h4.5v10.0h-4.5zM188.3 153.1h6.0v11.5h-6.0zM208.2 86.2h3.6v10.7h-3.6zM134.7 80.1h5.4v10.3h-5.4zM215.4 100.2h6.2v10.5h-6.2zM172.0 181.7h5.2v10.2h-5.2zM215.6 144.8h5.7v12.4h-5.7zM211.8 153.2h5.2v11.3h-5.2zM169.5 98.8h6.8v10.7h-6.8zM179.9 188.0h6.1v8.6h-6.1zM103.8 116.5h4.6v6.9h-4.6zM232.0 211.0h5.8v11.9h-5.8zM170.1 149.5h6.2v12.2h-6.2zM105.5 139.9h6.1v12.0h-6.1zM202.3 175.6h4.1v7.4h-4.1zM92.9 93.4h6.8v7.0h-6.8zM88.2 100.2h5.9v10.6h-5.9zM119.8 158.5h3.9v9.4h-3.9zM167.9 130.3h5.6v9.6h-5.6zM154.2 126.8h3.5v6.6h-3.5zM175.5 155.5h6.8v10.5h-6.8zM74.3 88.7h6.2v8.3h-6.2zM261.7 125.1h5.1v11.3h-5.1zM221.3 199.5h4.6v7.9h-4.6zM74.1 208.5h4.9v10.5h-4.9zM234.6 112.1h3.9v10.2h-3.9zM163.1 106.1h3.7v6.6h-3.7zM144.6 158.4h4.4v7.8h-4.4zM195.4 137.4h3.4v10.1h-3.4zM92.8 141.7h3.7v6.0h-3.7zM101.7 175.0h5.5v10.4h-5.5zM123.6 206.8h4.6v12.1h-4.6zM176.7 81.1h5.2v10.2h-5.2zM281.9 112.9h3.5v12.2h-3.5zM232.0 82.9h6.3v11.1h-6.3zM148.1 125.2h3.4v9.7h-3.4zM288.8 195.3h4.5v11.8h-4.5zM209.9 105.0h4.2v13.0h-4.2zM199.7 217.4h5.7v12.6h-5.7zM103.9 165.2h6.5v8.5h-6.5zM185.2 117.1h3.2v8.6h-3.2zM112.2 108.5h4.7v11.1h-4.7zM214.2 127.6h3.7v10.1h-3.7zM150.2 90.5h3.1v8.7h-3.1zM247.2 152.9h6.8v12.4h-6.8zM186.5 215.8h4.1v11.1h-4.1zM193.6 111.7h5.7v7.6h-5.7zM138.2 182.6h3.3v9.1h-3.3zM146.3 183.2h4.5v10.4h-4.5zM232.3 225.8h6.2v12.0h-6.2zM161.1 106.2h4.3v12.7h-4.3zM177.7 211.0h5.2v11.5h-5.2zM164.4 180.0h4.5v12.6h-4.5zM137.9 73.2h4.5v11.3h-4.5zM114.9 133.5h6.8v9.4h-6.8zM151.1 213.9h6.4v7.8h-6.4zM198.4 122.0h4.0v7.8h-4.0zM219.8 101.2h3.2v6.2h-3.2zM259.8 209.9h3.0v9.0h-3.0zM263.8 164.7h6.6v7.6h-6.6zM187.2 123.8h6.6v12.7h-6.6zM275.5 110.6h4.9v9.9h-4.9zM197.0 195.2h5.7v9.6h-5.7zM238.9 133.6h4.7v6.2h-4.7zM161.8 114.5h3.7v9.2h-3.7zM199.0 84.3h3.4v12.8h-3.4zM145.5 199.2h3.3v7.2h-3.3zM173.4 199.1h5.4v10.2h-5.4zM191.0 211.9h6.7v8.2h-6.7zM187.1 180.2h6.9v10.8h-6.9zM152.9 211.4h3.8v12.3h-3.8zM194.9 146.3h5.0v6.2h-5.0zM186.2 214.3h6.0v11.5h-6.0zM102.8 213.0h6.9v10.5h-6.9zM196.7 126.0h4.6v9.4h-4.6zM188.4 190.5h4.0v12.3h-4.0zM207.3 89.5h3.2v8.7h-3.2zM70.9 126.3h4.8v12.3h-4.8zM53.4 89.8h3.9v6.0h-3.9zM176.8 184.5h5.9v7.3h-5.9zM195.2 105.2h3.3v10.7h-3.3zM117.7 157.5h4.1v12.4h-4.1zM142.0 98.6h6.8v7.1h-6.8zM252.9 84.7h4.4v9.7h-4.4zM95.8 167.9h6.1v10.3h-6.1zM219.2 131.4h4.5v6.6h-4.5zM157.5 203.3h5.5v10.5h-5.5zM189.5 144.5h3.2v11.4h-3.2zM228.9 180.5h4.3v11.1h-4.3zM140.5 165.4h5.1v8.8h-5.1zM247.1 85.1h6.2v11.1h-6.2zM184.2 99.3h6.7v10.1h-6.7zM98.9 235.4h5.4v7.6h-5.4zM210.9 127.7h3.3v11.7h-3.3zM192.4 157.9h6.3v11.3h-6.3zM165.8 152.9h3.4v8.1h-3.4zM225.0 144.4h4.8v11.0h-4.8zM117.6 210.3h5.2v8.5h-5.2zM241.2 105.4h4.2v11.6h-4.2zM273.6 179.0h3.2v11.0h-3.2zM150.1 119.0h3.7v9.0h-3.7zM222.3 163.5h5.6v7.7h-5.6zM209.9 210.4h6.6v11.1h-6.6zM264.2 120.2h4.2v11.0h-4.2zM127.7 136.6h3.6v12.3h-3.6zM151.8 167.2h3.8v8.1h-3.8zM183.9 177.7h5.7v6.9h-5.7zM116.5 152.9h5.1v12.3h-5.1zM162.5 157.6h3.3v8.6h-3.3zM270.1 127.4h4.9v7.4h-4.9zM117.9 174.5h3.7v12.1h-3.7zM158.3 109.6h6.7v7.9h-6.7zM103.6 157.9h7.0v11.9h-7.0zM153.3 170.9h5.4v11.6h-5.4zM188.3 195.4h3.4v11.1h-3.4zM161.1 207.4h3.8v12.9h-3.8zM242.3 92.5h3.5v10.1h-3.5zM230.6 119.3h6.1v8.8h-6.1zM142.1 143.7h5.9v6.1h-5.9zM62.9 153.7h3.1v12.2h-3.1zM181.4 154.8h3.6v10.6h-3.6zM166.4 172.6h7.0v8.6h-7.0zM152.2 195.2h7.0v8.6h-7.0zM121.2 145.7h6.3v11.5h-6.3zM214.5 219.3h5.3v10.4h-5.3zM228.6 159.4h3.3v9.6h-3.3zM161.3 215.2h5.9v8.9h-5.9zM109.2 163.7h6.3v7.7h-6.3zM208.7 103.6h5.8v12.0h-5.8zM172.1 147.1h3.2v7.2h-3.2zM125.1 192.4h5.3v9.4h-5.3zM191.9 128.9h6.7v8.3h-6.7zM246.6 90.3h6.2v8.2h-6.2zM215.5 170.2h4.4v10.6h-4.4zM132.2 144.6h4.2v7.9h-4.2zM246.5 170.2h5.6v9.6h-5.6zM219.2 117.1h4.2v6.4h-4.2zM107.4 134.6h4.0v11.1h-4.0zM97.3 167.1h3.6v7.0h-3.6zM63.2 242.8h4.1v11.0h-4.1zM132.7 214.4h4.6v8.4h-4.6zM231.0 120.5h5.8v9.5h-5.8zM183.5 225.6h3.7v11.6h-3.7zM210.6 150.6h3.5v11.0h-3.5zM223.8 79.1h5.4v6.7h-5.4zM189.8 207.9h5.6v11.8h-5.6zM130.7 239.7h4.9v12.9h-4.9zM155.2 168.3h5.2v8.3h-5.2zM238.4 171.6h3.7v12.1h-3.7zM204.0 211.4h3.5v11.4h-3.5zM281.7 182.8h6.0v6.6h-6.0zM64.1 187.9h5.6v9.6h-5.6zM198.9 220.0h4.8v7.5h-4.8zM129.4 126.1h4.9v10.4h-4.9zM155.6 185.2h5.9v9.2h-5.9zM102.1 147.0h5.5v8.1h-5.5zM138.2 231.2h5.9v8.2h-5.9zM53.9 217.2h5.4v10.0h-5.4zM207.8 170.3h5.9v9.0h-5.9zM224.6 118.1h6.2v8.9h-6.2zM177.9 151.3h6.1v7.1h-6.1zM92.1 61.1h3.0v7.7h-3.0zM137.7 88.2h6.3v7.9h-6.3zM164.1 133.3h3.4v11.3h-3.4zM231.9 109.7h4.4v11.6h-4.4zM196.4 106.0h4.6v12.4h-4.6zM249.8 173.1h6.5v6.7h-6.5zM173.8 108.6h6.7v7.8h-6.7zM208.4 131.1h3.0v9.5h-3.0zM187.3 181.4h4.6v6.1h-4.6zM165.9 155.7h5.9v11.1h-5.9zM177.0 123.2h4.2v7.9h-4.2zM180.4 184.9h4.1v12.5h-4.1zM231.9 127.7h5.7v11.1h-5.7zM188.2 134.3h5.7v10.6h-5.7zM87.1 88.6h4.0v12.8h-4.0zM147.7 105.0h5.4v7.0h-5.4zM135.3 138.9h3.0v9.3h-3.0zM130.0 138.3h3.6v10.9h-3.6zM155.8 146.0h3.3v10.5h-3.3zM85.3 74.3h3.6v10.4h-3.6zM171.8 139.1h4.4v8.9h-4.4zM184.5 194.9h3.3v6.3h-3.3zM193.7 119.6h5.5v9.0h-5.5zM296.0 114.5h6.7v8.9h-6.7zM87.6 249.5h5.2v8.6h-5.2zM222.6 230.0h3.4v7.4h-3.4zM202.1 140.2h6.5v6.1h-6.5zM211.2 188.7h3.9v10.9h-3.9zM199.7 108.7h4.2v12.8h-4.2zM133.3 158.3h4.2v6.1h-4.2zM217.9 111.6h4.6v10.1h-4.6zM231.9 79.6h5.1v9.7h-5.1zM175.2 117.0h5.5v9.6h-5.5zM134.1 158.8h5.4v7.6h-5.4zM141.6 244.9h3.3v11.8h-3.3zM274.5 221.1h6.6v7.0h-6.6zM158.6 180.3h6.2v11.4h-6.2zM247.9 144.0h5.1v6.3h-5.1zM277.6 147.1h3.5v8.6h-3.5zM151.7 192.5h4.3v8.4h-4.3zM242.0 157.4h6.8v9.6h-6.8zM166.6 212.1h3.6v8.0h-3.6zM137.0 184.4h5.4v9.2h-5.4zM176.0 130.9h4.4v8.4h-4.4zM168.7 111.4h3.2v11.0h-3.2zM163.4 185.0h3.6v12.3h-3.6zM47.1 210.2h6.9v11.4h-6.9zM142.6 123.4h4.1v7.9h-4.1zM297.0 120.3h3.0v11.9h-3.0zM155.1 138.8h6.5v6.5h-6.5zM259.0 165.9h5.0v9.5h-5.0zM203.8 149.9h6.8v8.5h-6.8zM72.4 80.9h3.3v6.7h-3.3zM158.1 147.3h4.1v11.6h-4.1zM140.2 225.0h6.4v9.9h-6.4zM233.9 121.1h5.7v6.2h-5.7zM293.1 132.8h6.5v11.6h-6.5zM137.1 164.1h6.5v10.7h-6.5zM199.9 103.0h6.8v10.0h-6.8zM136.5 106.7h5.8v13.0h-5.8zM231.7 147.5h7.0v12.2h-7.0zM99.7 79.9h4.2v7.4h-4.2zM121.5 231.7h4.7v11.6h-4.7zM197.8 188.2h5.1v12.5h-5.1zM232.3 158.5h5.5v8.2h-5.5zM257.1 180.4h6.3v6.6h-6.3zM170.9 210.8h6.5v6.3h-6.5zM194.0 186.4h3.8v10.0h-3.8zM192.0 137.7h6.7v12.8h-6.7zM157.8 82.4h7.0v6.9h-7.0zM295.1 167.7h3.8v8.4h-3.8zM69.1 216.9h4.4v8.2h-4.4zM179.5 164.6h5.5v6.4h-5.5zM189.7 117.4h6.0v8.8h-6.0zM301.2 131.3h6.1v12.4h-6.1zM89.2 244.4h3.7v7.8h-3.7zM262.2 127.2h5.3v9.4h-5.3zM285.3 157.8h4.6v7.0h-4.6zM213.4 174.7h4.1v11.0h-4.1zM206.7 203.0h5.0v8.6h-5.0zM260.8 189.5h6.1v9.8h-6.1zM158.5 155.0h4.1v9.8h-4.1zM145.9 183.5h4.8v9.6h-4.8zM161.0 200.3h4.8v11.5h-4.8zM191.3 156.8h4.0v10.6h-4.0zM145.6 183.9h6.2v10.0h-6.2zM168.8 146.8h3.5v6.1h-3.5zM205.2 192.1h6.3v9.0h-6.3zM194.3 206.0h6.9v9.5h-6.9zM191.0 114.0h4.6v8.1h-4.6zM215.8 96.8h6.8v10.8h-6.8zM104.5 170.9h5.0v11.0h-5.0zM185.5 147.8h4.7v6.7h-4.7zM97.0 59.5h4.2v13.0h-4.2zM176.6 130.5h3.6v6.5h-3.6zM167.5 162.2h5.6v10.0h-5.6zM185.4 127.1h3.6v7.4h-3.6zM220.5 134.2h6.6v12.4h-6.6zM235.4 93.0h3.8v12.3h-3.8zM229.6 158.3h3.0v9.5h-3.0zM69.4 150.0h3.1v8.1h-3.1zM188.3 159.3h6.3v9.8h-6.3zM97.4 132.6h5.1v7.8h-5.1zM171.1 152.1h3.7v8.5h-3.7zM246.1 131.8h5.6v9.3h-5.6zM172.1 160.6h6.8v11.4h-6.8zM144.6 151.6h4.4v9.2h-4.4zM126.4 163.7h3.3v6.5h-3.3zM163.8 172.1h3.7v8.8h-3.7zM119.7 150.5h6.6v11.8h-6.6zM152.2 156.2h6.2v8.4h-6.2zM131.6 224.1h3.2v11.5h-3.2zM171.6 181.0h5.8v7.1h-5.8zM243.9 125.3h5.1v9.3h-5.1zM173.5 183.3h5.4v8.4h-5.4zM175.6 88.7h6.5v6.2h-6.5zM190.4 117.5h6.7v6.2h-6.7zM214.4 95.1h3.5v8.2h-3.5zM120.6 127.9h6.8v11.5h-6.8zM169.5 152.9h3.7v9.1h-3.7zM148.9 126.9h6.0v12.2h-6.0zM109.6 209.4h3.7v8.2h-3.7zM227.5 157.6h7.0v8.4h-7.0zM250.9 150.2h6.6v12.6h-6.6zM202.2 211.1h3.3v8.0h-3.3zM208.6 83.7h3.5v9.2h-3.5zM172.6 211.6h6.7v10.4h-6.7zM182.6 176.8h4.5v11.1h-4.5zM185.3 97.0h4.4v11.3h-4.4zM161.4 207.7h6.1v6.8h-6.1zM84.4 139.9h6.0v7.2h-6.0zM206.4 115.0h6.7v6.4h-6.7zM136.9 174.8h5.7v6.1h-5.7zM153.6 222.8h3.9v12.0h-3.9zM166.8 197.8h4.4v8.2h-4.4zM202.4 180.1h6.0v12.2h-6.0zM240.3 102.3h4.6v12.3h-4.6zM208.0 100.0h6.1v9.1h-6.1zM37.2 47.7h4.7v8.7h-4.7zM282.1 147.6h6.6v12.7h-6.6zM235.4 139.5h6.7v7.6h-6.7zM163.7 104.9h5.1v6.9h-5.1zM122.8 180.9h4.6v8.4h-4.6zM124.8 89.3h6.0v10.0h-6.0zM192.0 180.0h5.0v9.3h-5.0zM190.9 141.8h5.8v6.6h-5.8zM130.8 201.2h6.7v8.5h-6.7zM137.2 142.5h5.2v10.3h-5.2zM260.0 178.9h4.6v6.1h-4.6zM202.1 92.2h6.0v8.1h-6.0zM117.8 79.7h3.6v6.8h-3.6zM209.1 146.7h5.3v11.1h-5.3zM196.7 158.2h3.9v10.0h-3.9zM182.4 172.1h4.8v6.9h-4.8zM262.5 99.9h3.1v6.5h-3.1zM193.9 196.6h5.4v9.6h-5.4zM221.9 184.9h3.5v10.1h-3.5zM182.7 152.2h6.8v12.4h-6.8zM204.5 166.8h6.3v7.3h-6.3zM201.9 117.7h5.2v8.7h-5.2zM199.3 215.7h6.4v7.0h-6.4zM145.0 214.1h6.7v11.4h-6.7zM143.3 152.6h3.2v7.4h-3.2zM191.0 215.5h5.5v7.1h-5.5zM92.2 200.1h3.3v8.7h-3.3zM232.6 181.4h3.3v7.0h-3.3zM235.9 133.4h3.9v6.5h-3.9zM173.4 172.6h4.3v10.1h-4.3zM86.0 196.8h3.8v12.6h-3.8zM244.1 145.7h4.8v8.2h-4.8zM85.7 51.9h4.9v6.6h-4.9zM192.5 107.6h6.3v11.1h-6.3zM100.4 86.4h4.9v7.7h-4.9zM129.9 173.7h5.9v6.7h-5.9zM211.5 100.7h6.0v9.9h-6.0zM176.4 153.8h6.1v8.8h-6.1zM168.8 196.7h4.5v8.9h-4.5zM177.0 134.3h6.6v12.1h-6.6zM91.8 64.1h5.4v6.6h-5.4zM177.4 145.4h5.2v10.4h-5.2zM117.9 134.8h3.8v8.0h-3.8zM141.0 107.6h5.5v10.5h-5.5zM142.8 152.1h6.1v10.5h-6.1zM137.1 235.0h6.7v6.9h-6.7zM185.9 196.4h5.9v10.8h-5.9zM176.4 200.5h4.5v10.4h-4.5zM285.3 178.0h6.1v11.6h-6.1z" fill="#060c18"/>
<path d="M254.3 183.3h5.8v6.5h-5.8zM249.4 137.3h5.9v7.8h-5.9zM263.2 183.4h6.0v11.4h-6.0zM129.6 154.5h3.7v12.6h-3.7zM265.3 159.2h5.3v11.4h-5.3zM235.7 209.0h4.9v6.7h-4.9zM227.1 121.1h4.2v11.2h-4.2zM196.2 199.9h6.3v10.6h-6.3zM219.2 100.5h5.3v10.4h-5.3zM140.7 104.7h4.8v10.9h-4.8zM252.9 208.9h3.5v9.2h-3.5zM131.1 66.9h4.1v10.1h-4.1zM145.7 134.9h4.0v10.3h-4.0zM130.7 116.0h4.7v8.8h-4.7zM221.3 170.6h4.8v6.5h-4.8zM172.2 205.7h6.5v8.6h-6.5zM135.4 223.9h4.6v6.5h-4.6zM242.6 126.3h3.5v10.4h-3.5zM154.9 181.6h6.6v8.8h-6.6zM186.6 116.4h3.1v6.1h-3.1zM208.3 125.1h4.0v8.3h-4.0zM244.6 191.1h3.6v7.2h-3.6zM206.6 152.9h5.0v12.2h-5.0zM173.2 171.8h5.1v8.0h-5.1zM234.0 133.1h6.8v10.7h-6.8zM205.3 216.4h4.1v10.4h-4.1zM142.5 97.0h4.3v6.3h-4.3zM167.2 164.5h3.1v11.2h-3.1zM255.1 187.0h4.7v11.2h-4.7zM264.1 166.4h6.7v6.9h-6.7zM145.4 157.5h7.0v10.6h-7.0zM257.5 192.8h3.1v11.5h-3.1zM142.6 91.2h6.8v6.0h-6.8zM217.6 167.6h5.1v7.5h-5.1zM180.1 206.0h3.8v10.6h-3.8zM105.6 207.5h5.4v10.4h-5.4zM278.2 190.3h4.2v11.9h-4.2zM266.4 146.0h5.6v13.0h-5.6zM157.2 136.1h5.9v7.9h-5.9zM207.1 111.2h4.1v12.8h-4.1zM199.4 189.5h6.2v7.8h-6.2zM121.4 182.7h3.1v12.6h-3.1zM90.8 245.0h3.3v11.8h-3.3zM242.7 92.7h5.5v11.7h-5.5zM224.0 166.3h5.0v9.9h-5.0zM154.9 131.7h3.3v11.6h-3.3zM136.5 110.2h5.3v6.3h-5.3zM173.3 197.2h4.2v10.8h-4.2zM138.5 171.0h6.2v12.9h-6.2zM155.2 156.3h3.0v10.8h-3.0zM98.5 46.1h4.9v6.7h-4.9zM162.7 140.5h5.8v8.4h-5.8zM145.8 129.3h3.8v6.7h-3.8zM175.4 207.4h4.2v10.1h-4.2zM254.7 189.9h3.4v9.4h-3.4zM154.2 207.1h6.6v8.6h-6.6zM87.7 153.8h3.9v7.9h-3.9zM199.9 219.1h3.7v12.3h-3.7zM206.1 209.5h6.3v13.0h-6.3zM97.8 188.9h5.1v6.4h-5.1zM184.1 86.2h5.7v6.7h-5.7zM150.5 231.9h3.9v7.5h-3.9zM227.3 149.3h4.0v12.8h-4.0zM154.7 110.6h5.2v7.4h-5.2zM165.5 198.1h7.0v12.3h-7.0zM129.9 108.8h3.3v10.1h-3.3zM213.5 189.5h6.2v11.3h-6.2zM189.7 192.4h5.7v7.3h-5.7zM282.0 138.6h5.5v9.6h-5.5zM209.9 159.5h3.3v12.3h-3.3zM279.1 166.3h4.6v10.6h-4.6zM41.4 52.2h6.1v12.2h-6.1zM196.0 162.0h6.5v10.4h-6.5zM219.7 95.5h4.8v12.2h-4.8zM159.4 100.8h6.6v11.6h-6.6zM189.6 193.6h5.2v6.8h-5.2zM92.4 122.1h4.3v9.1h-4.3zM88.4 121.7h5.5v12.0h-5.5zM172.1 212.8h3.8v10.2h-3.8zM133.4 200.9h5.2v11.0h-5.2zM80.2 156.8h6.2v8.5h-6.2zM88.9 196.2h6.0v11.1h-6.0zM272.3 155.2h3.5v9.6h-3.5zM296.1 153.9h5.2v6.1h-5.2zM241.6 82.4h5.5v10.7h-5.5zM180.1 203.4h4.0v9.7h-4.0zM145.1 190.8h4.7v12.3h-4.7zM270.5 128.4h3.8v7.3h-3.8zM234.9 171.9h5.0v8.5h-5.0zM261.8 159.8h5.5v10.2h-5.5zM175.7 219.8h3.1v7.6h-3.1zM149.5 130.1h5.4v9.2h-5.4zM187.4 194.7h5.4v7.4h-5.4zM196.6 223.1h5.8v8.2h-5.8zM104.7 218.5h5.2v6.8h-5.2zM257.1 97.3h3.8v7.8h-3.8zM200.7 95.0h5.3v6.6h-5.3zM156.5 143.0h4.4v8.3h-4.4zM215.2 88.5h4.3v7.9h-4.3zM208.6 125.9h3.6v9.4h-3.6zM112.0 48.9h3.5v8.2h-3.5zM168.7 122.7h5.1v10.4h-5.1zM208.1 134.7h4.5v9.8h-4.5zM96.4 157.4h6.6v10.2h-6.6zM265.4 171.8h6.0v12.6h-6.0zM171.9 198.3h4.1v7.0h-4.1zM190.1 184.3h4.5v12.8h-4.5zM251.2 92.5h5.9v12.5h-5.9zM208.7 137.9h6.1v10.1h-6.1zM89.9 239.2h4.4v10.8h-4.4zM179.8 110.5h4.5v6.0h-4.5zM157.6 146.6h5.5v7.2h-5.5zM139.9 136.1h4.4v6.1h-4.4zM113.0 173.2h5.6v11.3h-5.6zM290.4 203.4h5.8v11.2h-5.8zM212.5 190.1h4.9v9.7h-4.9zM164.5 162.2h4.2v7.1h-4.2zM245.0 96.5h5.7v7.9h-5.7zM191.8 189.5h4.5v12.7h-4.5zM249.8 78.9h4.0v6.1h-4.0zM273.3 132.8h3.9v12.2h-3.9zM259.5 190.9h3.2v10.7h-3.2zM241.6 158.7h4.2v8.9h-4.2zM244.9 166.8h3.2v11.4h-3.2zM229.5 216.6h6.3v9.8h-6.3zM276.2 130.3h6.6v8.9h-6.6zM232.1 120.9h6.0v11.0h-6.0zM211.1 169.7h5.6v10.1h-5.6zM194.1 106.4h6.4v7.7h-6.4zM140.7 89.7h6.4v10.8h-6.4zM212.9 89.9h4.1v6.1h-4.1zM197.2 160.1h3.8v11.5h-3.8zM281.5 111.9h4.9v11.5h-4.9zM234.3 81.5h4.1v11.0h-4.1zM111.2 108.8h4.9v11.1h-4.9zM215.6 209.7h4.0v7.1h-4.0zM136.7 176.0h5.4v6.1h-5.4zM279.7 150.9h3.8v11.4h-3.8zM172.4 155.6h6.3v11.7h-6.3zM109.6 75.9h3.6v10.3h-3.6zM244.8 116.3h5.2v10.0h-5.2zM143.1 95.9h6.1v6.3h-6.1zM89.4 89.7h4.3v12.1h-4.3zM190.2 210.5h4.6v11.2h-4.6zM160.3 226.1h5.2v12.6h-5.2zM203.1 123.8h5.7v8.7h-5.7zM203.7 177.2h5.4v11.0h-5.4zM235.0 132.1h4.9v12.5h-4.9zM219.3 189.2h6.7v11.0h-6.7zM262.2 129.6h3.6v8.3h-3.6zM186.2 150.7h4.1v12.4h-4.1zM274.5 198.4h4.5v10.0h-4.5zM81.6 145.4h3.9v12.4h-3.9zM223.2 143.1h4.7v6.6h-4.7zM191.9 125.6h6.2v11.8h-6.2zM81.2 138.3h3.2v12.7h-3.2zM268.0 110.4h3.0v8.5h-3.0zM201.2 194.0h5.0v10.9h-5.0zM136.5 174.1h3.9v9.2h-3.9zM216.1 119.8h3.2v8.9h-3.2zM240.3 159.7h5.4v12.8h-5.4zM173.8 190.6h3.3v7.8h-3.3zM163.2 158.6h4.5v13.0h-4.5zM216.7 133.0h3.4v8.3h-3.4zM95.6 172.3h4.2v8.0h-4.2zM127.9 194.7h3.3v11.9h-3.3zM166.2 103.0h5.5v9.9h-5.5zM110.3 103.0h6.9v6.1h-6.9zM161.1 102.0h4.2v11.9h-4.2zM188.6 217.2h4.4v7.0h-4.4zM242.8 98.9h6.6v12.8h-6.6zM184.0 190.9h4.8v6.2h-4.8zM199.5 184.2h6.7v11.6h-6.7zM153.6 182.7h4.4v9.8h-4.4zM250.0 196.7h6.6v11.6h-6.6zM261.2 122.2h6.3v7.0h-6.3zM129.3 129.4h5.0v9.8h-5.0zM252.1 104.4h3.3v12.7h-3.3zM147.2 168.8h3.3v12.4h-3.3zM124.7 222.6h5.8v11.7h-5.8zM227.8 154.9h5.5v9.2h-5.5zM235.8 90.9h4.0v6.0h-4.0zM127.0 217.5h3.1v6.2h-3.1zM231.2 186.6h4.7v12.0h-4.7zM62.4 135.6h7.0v8.7h-7.0zM139.9 225.9h5.2v6.1h-5.2zM200.1 133.3h4.5v12.8h-4.5zM204.4 166.8h5.0v6.4h-5.0zM158.0 213.7h5.8v11.9h-5.8zM198.2 137.5h3.8v8.7h-3.8zM172.1 199.4h6.5v6.0h-6.5zM177.1 108.2h3.9v8.6h-3.9zM204.9 173.0h6.7v12.0h-6.7zM196.6 151.3h4.0v12.6h-4.0zM135.6 173.7h4.1v11.0h-4.1zM258.6 158.0h3.5v6.6h-3.5zM220.5 69.9h3.5v10.5h-3.5zM190.7 191.2h3.4v10.0h-3.4zM219.7 222.0h6.8v9.5h-6.8zM206.8 91.5h6.8v7.5h-6.8zM139.9 151.7h3.9v11.5h-3.9zM264.9 186.5h6.6v9.8h-6.6zM160.8 132.5h4.6v10.5h-4.6zM111.2 144.6h7.0v10.5h-7.0zM207.0 130.8h4.1v6.9h-4.1zM208.1 95.1h3.7v10.8h-3.7zM197.3 96.4h3.4v10.6h-3.4zM135.9 159.4h4.3v9.4h-4.3zM144.2 175.4h6.9v7.8h-6.9zM175.7 224.0h3.1v7.4h-3.1zM225.2 200.9h6.1v10.9h-6.1zM247.9 108.6h6.1v7.9h-6.1zM236.9 88.9h5.8v8.5h-5.8zM252.5 142.1h4.4v9.6h-4.4zM248.7 108.0h5.6v13.0h-5.6zM137.5 193.9h5.8v10.7h-5.8zM167.9 96.0h6.2v7.6h-6.2zM264.8 144.8h3.5v7.2h-3.5zM200.6 134.7h6.1v12.9h-6.1zM282.5 143.3h3.8v7.8h-3.8zM159.6 177.1h3.1v11.8h-3.1zM216.1 157.7h4.4v11.1h-4.4zM228.1 177.9h3.7v7.7h-3.7zM205.3 203.6h5.8v10.9h-5.8zM180.3 88.2h4.9v9.3h-4.9zM177.6 243.0h6.9v9.4h-6.9zM107.5 167.9h6.4v11.1h-6.4zM226.1 173.8h6.4v12.8h-6.4zM174.5 190.1h5.2v8.9h-5.2zM163.3 227.1h3.8v8.9h-3.8zM228.0 102.2h4.4v6.8h-4.4zM105.7 185.2h4.8v12.1h-4.8zM232.3 210.8h3.4v9.7h-3.4zM168.1 122.5h6.0v12.5h-6.0zM84.6 190.3h6.9v13.0h-6.9zM248.5 185.2h3.4v6.8h-3.4zM174.1 117.6h3.5v9.8h-3.5zM184.6 97.5h6.1v12.2h-6.1zM212.5 102.0h5.7v7.4h-5.7zM173.0 202.9h4.3v11.0h-4.3zM119.9 169.8h3.5v10.4h-3.5zM165.5 131.7h4.6v9.5h-4.6zM151.0 203.3h4.2v6.4h-4.2zM180.1 200.6h3.2v6.4h-3.2zM86.3 209.4h6.2v6.8h-6.2zM108.6 132.7h4.8v7.6h-4.8zM215.1 191.8h4.7v9.6h-4.7zM282.9 214.2h7.0v7.7h-7.0zM216.4 184.3h6.0v10.8h-6.0zM198.4 241.8h4.1v11.6h-4.1zM277.5 200.0h4.4v10.0h-4.4zM122.2 174.2h4.3v7.1h-4.3zM261.8 170.9h3.9v6.5h-3.9zM178.1 111.0h4.3v10.9h-4.3zM258.1 167.8h7.0v7.8h-7.0zM193.2 121.3h4.9v6.5h-4.9zM82.0 194.3h6.4v6.8h-6.4zM118.6 204.6h3.1v11.4h-3.1zM224.6 149.5h4.4v6.4h-4.4zM146.0 159.7h5.1v9.4h-5.1zM216.8 86.7h5.3v12.4h-5.3zM199.2 209.7h5.4v6.9h-5.4zM228.6 121.6h3.2v12.1h-3.2zM125.9 160.0h6.7v7.1h-6.7zM263.5 148.1h5.2v10.9h-5.2zM141.2 207.5h4.8v12.0h-4.8zM256.7 122.0h6.4v9.5h-6.4zM197.8 173.2h4.9v7.8h-4.9zM110.4 110.1h6.4v13.0h-6.4zM79.4 136.9h4.5v11.6h-4.5zM166.0 190.0h6.0v8.9h-6.0zM84.0 153.9h5.9v6.8h-5.9zM172.5 145.4h5.1v9.9h-5.1zM153.5 141.0h5.0v6.4h-5.0zM146.2 203.9h6.0v7.0h-6.0zM198.0 203.7h3.5v12.4h-3.5zM227.9 214.7h6.5v9.6h-6.5zM274.7 156.8h5.5v8.4h-5.5zM112.4 39.9h3.9v6.5h-3.9zM96.2 134.8h6.5v6.5h-6.5zM133.0 84.9h6.9v12.6h-6.9zM227.1 219.4h5.8v8.5h-5.8zM163.8 181.6h4.2v10.3h-4.2zM196.9 91.8h5.8v7.4h-5.8zM182.1 144.1h5.3v8.8h-5.3zM133.0 169.7h3.4v10.8h-3.4zM129.6 206.5h5.5v6.2h-5.5zM214.4 188.8h3.8v10.5h-3.8zM146.3 123.4h4.3v10.7h-4.3zM244.7 200.2h3.6v9.8h-3.6zM169.7 120.8h4.5v10.5h-4.5zM166.6 231.7h6.1v10.9h-6.1zM104.0 205.3h3.4v7.2h-3.4zM74.5 182.3h3.1v12.6h-3.1zM211.6 155.1h3.4v12.3h-3.4zM144.7 117.7h6.1v8.8h-6.1zM150.9 155.9h3.0v11.5h-3.0zM111.4 145.5h4.7v7.3h-4.7zM159.7 175.7h3.2v8.9h-3.2zM233.9 179.7h6.1v11.1h-6.1zM131.0 135.4h3.5v7.0h-3.5zM137.0 197.3h7.0v6.7h-7.0zM169.4 153.6h5.7v10.9h-5.7zM275.3 128.7h4.0v10.7h-4.0zM145.9 142.4h5.3v11.6h-5.3zM153.7 217.3h5.7v10.7h-5.7zM277.0 173.0h5.3v12.6h-5.3zM150.9 94.7h6.6v11.2h-6.6zM151.8 206.1h5.0v8.9h-5.0zM249.0 81.4h3.4v6.1h-3.4zM187.0 103.0h4.9v8.6h-4.9zM238.1 108.3h6.3v6.2h-6.3zM238.3 197.2h3.9v9.4h-3.9zM166.9 105.1h6.7v9.5h-6.7zM241.3 140.0h6.1v12.9h-6.1zM145.6 201.4h6.6v12.1h-6.6zM135.2 111.6h6.5v8.8h-6.5zM166.4 96.6h6.0v12.4h-6.0zM161.8 184.9h5.2v12.6h-5.2zM208.2 147.8h5.4v6.4h-5.4zM114.4 120.2h6.9v7.8h-6.9zM259.2 119.2h5.4v9.3h-5.4zM219.9 129.7h4.1v11.0h-4.1zM120.4 200.8h5.2v11.8h-5.2zM114.0 204.9h3.0v6.0h-3.0zM166.4 116.0h3.1v12.7h-3.1zM265.7 135.0h4.7v6.4h-4.7zM121.5 91.7h4.0v8.1h-4.0zM209.0 87.2h3.9v12.4h-3.9zM232.8 106.7h6.5v9.4h-6.5zM149.5 117.0h3.6v9.7h-3.6zM191.8 141.9h3.1v9.3h-3.1zM183.3 82.0h5.4v8.0h-5.4zM102.5 222.2h3.2v11.6h-3.2zM254.8 137.0h3.7v10.4h-3.7zM189.5 171.8h5.4v9.6h-5.4zM132.4 182.8h4.0v10.3h-4.0zM274.2 103.4h5.6v10.9h-5.6zM271.3 177.6h6.0v7.9h-6.0zM269.7 162.0h4.5v6.3h-4.5zM158.8 154.2h3.8v6.0h-3.8zM264.2 129.6h4.2v7.5h-4.2zM66.1 149.6h4.5v7.3h-4.5zM276.4 152.6h3.4v12.7h-3.4zM205.2 164.6h3.4v9.5h-3.4zM144.3 202.2h3.4v8.9h-3.4zM229.5 81.3h4.6v10.0h-4.6zM231.5 113.3h5.3v10.2h-5.3zM141.2 95.5h5.7v6.9h-5.7zM187.5 99.3h6.9v12.8h-6.9zM182.5 98.5h6.3v10.2h-6.3zM133.4 203.8h6.4v12.2h-6.4zM259.3 108.8h4.2v7.8h-4.2zM90.8 143.4h4.6v11.0h-4.6zM113.4 170.8h6.8v10.2h-6.8zM229.1 133.1h5.5v12.0h-5.5zM245.7 175.2h3.9v12.3h-3.9zM272.1 118.3h4.5v12.5h-4.5zM156.9 169.7h5.5v7.3h-5.5zM113.1 97.9h6.3v8.2h-6.3zM123.4 109.8h4.5v6.4h-4.5zM198.3 125.0h5.8v10.0h-5.8zM190.1 169.4h6.5v10.9h-6.5zM136.2 205.7h6.6v8.3h-6.6zM135.0 124.9h5.7v9.6h-5.7zM178.1 207.0h6.7v9.5h-6.7zM87.4 149.0h4.7v7.2h-4.7zM71.6 131.8h4.4v6.8h-4.4zM126.0 177.9h5.4v6.9h-5.4zM128.4 226.0h4.0v7.3h-4.0zM129.9 222.1h4.9v8.1h-4.9zM209.6 186.6h3.4v11.0h-3.4zM219.3 205.6h4.4v12.2h-4.4zM193.8 188.9h3.6v12.8h-3.6zM121.1 123.5h6.4v12.4h-6.4zM177.1 228.8h4.0v12.5h-4.0zM244.7 160.9h3.3v6.8h-3.3zM218.6 162.9h6.5v7.5h-6.5zM263.1 170.0h5.5v11.7h-5.5zM91.7 118.7h6.9v12.4h-6.9zM169.5 185.1h6.6v12.8h-6.6zM189.8 145.1h6.8v8.6h-6.8zM121.1 198.4h5.0v8.4h-5.0zM246.4 221.2h4.2v8.2h-4.2zM189.8 207.9h6.1v12.2h-6.1zM184.1 157.9h6.5v10.2h-6.5zM256.2 152.8h3.6v12.7h-3.6zM230.8 190.4h4.7v8.8h-4.7zM170.2 170.6h4.8v7.7h-4.8zM161.9 161.1h6.5v10.0h-6.5zM72.9 173.7h3.9v6.5h-3.9zM150.6 120.1h6.9v8.2h-6.9zM182.9 112.1h3.5v12.8h-3.5zM242.8 83.3h5.2v12.8h-5.2zM168.3 150.6h6.1v7.5h-6.1zM170.7 86.9h3.7v8.6h-3.7zM151.1 160.1h3.9v11.1h-3.9zM112.4 162.7h5.9v9.8h-5.9zM275.2 198.7h5.4v9.0h-5.4zM198.0 185.6h6.4v12.6h-6.4zM128.7 76.4h5.9v12.8h-5.9zM239.9 136.1h5.0v8.8h-5.0zM161.5 98.8h3.8v12.1h-3.8zM169.4 212.8h6.0v12.9h-6.0zM195.7 193.5h6.7v6.3h-6.7zM152.8 90.7h3.3v6.8h-3.3zM170.7 174.4h3.9v11.6h-3.9zM196.2 152.0h3.6v9.0h-3.6zM111.5 162.8h6.7v6.9h-6.7zM292.4 172.4h3.2v7.6h-3.2zM101.7 172.1h4.8v7.5h-4.8zM98.8 106.3h5.7v8.2h-5.7zM155.3 237.5h5.9v11.4h-5.9zM237.0 174.0h3.2v8.8h-3.2zM269.6 136.3h5.8v8.6h-5.8zM184.8 235.4h6.0v8.5h-6.0zM133.3 179.5h3.5v7.1h-3.5zM80.8 95.7h5.4v12.7h-5.4zM140.2 175.8h3.3v12.7h-3.3zM185.5 124.8h5.2v6.6h-5.2zM219.0 95.6h3.7v7.7h-3.7zM240.5 188.7h5.8v12.5h-5.8zM260.1 150.1h4.7v8.0h-4.7zM220.6 137.6h5.9v12.7h-5.9zM270.0 122.2h4.1v12.4h-4.1zM184.4 177.0h4.6v8.5h-4.6zM221.3 146.2h4.2v8.8h-4.2zM149.9 224.5h5.5v10.5h-5.5zM220.3 196.8h5.1v11.1h-5.1zM152.3 118.7h4.5v6.5h-4.5zM291.2 116.7h3.3v9.7h-3.3zM275.9 119.5h5.7v7.6h-5.7zM190.6 183.5h5.3v6.3h-5.3zM168.1 232.2h6.3v7.6h-6.3zM169.3 116.4h6.7v8.6h-6.7zM61.2 187.0h5.3v7.2h-5.3zM142.6 114.0h6.0v11.4h-6.0zM119.3 185.1h6.3v8.6h-6.3zM185.4 144.3h4.6v7.6h-4.6zM213.3 194.3h5.2v11.3h-5.2zM153.1 180.5h6.8v12.1h-6.8zM153.4 173.3h4.9v6.2h-4.9zM173.8 163.6h5.2v11.4h-5.2zM222.2 166.9h3.2v7.5h-3.2zM66.9 243.3h4.0v8.9h-4.0zM223.2 140.7h5.8v6.2h-5.8zM143.1 165.5h4.1v11.5h-4.1zM231.5 137.4h3.7v11.5h-3.7zM174.7 158.8h5.0v12.6h-5.0zM190.5 157.2h7.0v6.6h-7.0zM171.3 95.2h6.6v8.9h-6.6zM253.1 151.6h6.6v7.9h-6.6zM266.8 147.4h5.5v12.4h-5.5zM178.5 127.6h3.9v11.2h-3.9zM150.1 158.3h3.9v11.4h-3.9zM151.4 202.0h4.1v12.6h-4.1zM237.7 72.0h5.8v9.9h-5.8zM154.5 207.1h5.7v8.3h-5.7zM196.9 180.6h4.6v11.1h-4.6zM178.9 184.2h5.8v7.7h-5.8zM98.8 227.3h7.0v12.2h-7.0zM169.2 213.4h3.6v9.2h-3.6zM295.4 165.9h4.7v11.9h-4.7zM150.3 156.9h3.4v12.8h-3.4zM196.3 135.8h4.0v9.5h-4.0zM173.1 184.0h3.3v7.2h-3.3zM195.7 167.0h4.6v11.6h-4.6zM97.1 133.6h6.7v9.1h-6.7zM132.4 219.9h7.0v6.1h-7.0zM199.0 243.7h5.9v10.2h-5.9zM175.3 114.4h4.6v9.7h-4.6zM155.4 122.0h3.9v9.7h-3.9zM134.3 124.9h3.4v8.2h-3.4zM192.4 99.1h5.4v8.6h-5.4zM127.3 221.7h3.5v9.3h-3.5zM262.4 171.2h5.6v8.8h-5.6z" fill="#16243c"/>
<path d="M70.5 193.5h5.5v8.3h-5.5zM141.7 148.0h4.6v6.2h-4.6zM230.6 193.8h3.3v10.3h-3.3zM234.0 132.6h5.4v10.1h-5.4zM252.6 98.5h6.5v6.8h-6.5zM207.4 121.9h5.8v12.0h-5.8zM148.8 237.1h3.7v7.4h-3.7zM195.5 148.2h6.5v10.5h-6.5zM202.2 178.1h3.2v9.9h-3.2zM129.1 175.8h4.6v10.8h-4.6zM91.2 148.1h5.2v12.0h-5.2zM207.5 163.6h3.1v13.0h-3.1zM181.0 172.8h6.4v8.9h-6.4zM207.4 167.3h3.1v9.1h-3.1zM114.1 184.6h4.3v10.4h-4.3zM182.8 167.6h4.5v11.8h-4.5zM169.3 220.2h4.9v11.5h-4.9zM160.8 170.9h5.0v7.6h-5.0zM246.2 111.1h7.0v6.6h-7.0zM125.6 157.8h4.9v7.6h-4.9zM193.4 159.2h4.3v12.9h-4.3zM130.4 153.2h6.4v8.0h-6.4zM122.7 137.5h5.4v10.7h-5.4zM287.8 145.6h3.8v8.6h-3.8zM146.6 137.0h3.7v12.3h-3.7zM157.9 202.7h3.8v12.3h-3.8zM152.9 186.7h5.2v8.2h-5.2zM139.7 93.4h4.4v9.6h-4.4zM263.6 207.2h4.3v7.8h-4.3zM173.5 174.2h5.6v7.7h-5.6zM289.9 131.3h5.6v10.3h-5.6zM186.1 213.0h3.2v6.2h-3.2zM234.6 129.3h5.8v6.4h-5.8zM120.7 192.9h4.3v7.9h-4.3zM248.9 205.7h4.2v10.9h-4.2zM194.5 189.2h3.3v10.8h-3.3zM200.9 219.5h4.3v11.6h-4.3zM163.2 222.3h3.0v10.2h-3.0zM234.5 153.5h3.1v8.6h-3.1zM164.8 193.7h4.1v10.6h-4.1zM206.4 96.7h4.0v8.7h-4.0zM128.0 95.9h6.3v8.5h-6.3zM235.2 127.8h5.4v9.6h-5.4zM119.2 208.6h4.0v9.8h-4.0zM252.7 95.3h6.0v8.7h-6.0zM146.3 216.7h5.2v6.0h-5.2zM148.7 219.4h5.0v12.5h-5.0zM83.4 135.2h4.3v8.7h-4.3zM163.2 165.8h6.4v9.5h-6.4zM263.5 184.6h6.6v11.4h-6.6zM183.9 133.1h5.1v11.3h-5.1zM123.6 207.1h4.7v9.1h-4.7zM189.0 161.1h6.6v10.0h-6.6zM205.1 161.9h5.1v8.6h-5.1zM228.1 110.8h6.1v6.8h-6.1zM143.2 148.5h5.3v10.9h-5.3zM272.9 206.9h6.6v6.4h-6.6zM183.4 174.9h3.8v8.0h-3.8zM192.6 179.4h4.5v12.1h-4.5zM119.4 93.6h5.0v11.3h-5.0zM73.2 184.5h5.4v10.0h-5.4zM156.1 227.9h5.0v7.7h-5.0zM166.0 145.1h4.4v12.4h-4.4zM213.9 216.7h4.7v6.8h-4.7zM169.9 191.1h4.1v9.9h-4.1zM268.4 117.6h6.1v9.6h-6.1zM188.2 210.9h4.4v6.4h-4.4zM234.3 180.6h3.6v11.5h-3.6zM234.4 128.7h6.0v7.7h-6.0zM168.5 221.9h4.7v10.1h-4.7zM176.5 155.0h4.1v11.1h-4.1zM184.6 134.8h4.4v9.2h-4.4zM102.6 76.5h3.5v10.6h-3.5zM171.8 151.9h5.3v12.9h-5.3zM226.5 146.8h4.0v10.2h-4.0zM138.0 79.7h4.9v8.0h-4.9zM192.4 146.7h4.5v10.5h-4.5zM187.7 214.9h3.7v7.7h-3.7zM67.7 188.5h6.8v10.0h-6.8zM239.1 185.7h5.1v12.6h-5.1zM226.6 153.4h3.0v11.8h-3.0zM135.0 211.1h3.7v10.7h-3.7zM209.4 160.4h5.0v11.0h-5.0zM160.3 117.4h4.4v10.9h-4.4zM222.9 146.1h5.8v11.8h-5.8zM192.4 161.7h3.4v7.1h-3.4zM184.8 186.4h4.6v6.7h-4.6zM186.8 161.3h3.2v8.4h-3.2zM262.6 159.7h6.2v8.1h-6.2zM100.9 208.9h3.1v12.9h-3.1zM183.6 212.1h3.5v12.1h-3.5zM191.5 146.2h5.1v9.9h-5.1zM163.3 161.4h5.6v7.5h-5.6zM128.7 204.8h5.1v6.9h-5.1zM147.0 141.5h3.0v7.4h-3.0zM174.6 180.6h6.1v9.8h-6.1zM287.9 175.6h3.6v7.9h-3.6zM217.9 106.2h3.6v7.4h-3.6zM112.7 192.1h6.5v10.2h-6.5zM220.0 222.6h6.2v12.4h-6.2zM148.8 213.9h5.1v12.6h-5.1zM246.3 184.2h6.7v11.7h-6.7zM85.7 223.0h5.4v12.5h-5.4zM109.7 59.3h6.5v9.4h-6.5zM229.6 178.4h5.5v6.8h-5.5zM113.6 155.7h3.3v9.7h-3.3zM170.8 205.6h6.3v11.3h-6.3zM250.0 169.5h5.2v7.9h-5.2zM89.3 178.9h3.7v6.1h-3.7zM219.2 142.2h4.1v8.0h-4.1zM197.1 238.6h3.6v9.3h-3.6zM133.6 205.3h5.9v9.4h-5.9zM239.0 150.7h3.1v8.1h-3.1zM178.5 196.2h3.9v7.8h-3.9zM136.4 219.7h4.7v8.8h-4.7zM228.6 74.4h5.3v9.3h-5.3zM159.1 192.3h5.9v6.8h-5.9zM198.5 209.9h5.4v6.8h-5.4zM227.5 167.5h4.6v7.8h-4.6zM175.8 171.0h6.9v11.4h-6.9zM139.1 83.1h4.0v12.3h-4.0zM198.1 133.5h4.8v11.1h-4.8zM182.9 88.8h6.9v9.7h-6.9zM170.0 178.1h6.5v6.1h-6.5zM201.1 95.0h6.0v10.2h-6.0zM247.2 150.4h6.7v9.6h-6.7zM218.5 212.0h5.0v8.9h-5.0zM59.9 88.3h7.0v8.1h-7.0zM260.3 124.5h4.7v9.4h-4.7zM139.4 74.1h5.1v8.9h-5.1zM181.7 155.2h6.8v10.4h-6.8zM275.3 177.7h3.9v10.8h-3.9zM216.2 177.0h6.3v6.3h-6.3zM241.7 113.3h4.4v6.2h-4.4zM244.1 160.4h5.4v11.8h-5.4zM229.7 201.2h5.4v6.6h-5.4zM247.2 139.5h3.8v12.5h-3.8zM174.5 129.1h3.9v10.1h-3.9zM264.1 158.2h5.7v9.8h-5.7zM182.4 178.9h3.5v10.7h-3.5zM158.9 90.0h5.7v8.9h-5.7zM73.7 240.8h3.5v7.9h-3.5zM248.3 155.8h6.8v6.7h-6.8zM254.6 162.8h5.1v8.1h-5.1zM212.5 192.8h3.7v10.7h-3.7zM144.8 173.9h4.5v6.5h-4.5zM146.0 135.7h4.2v10.3h-4.2zM162.5 118.5h6.0v8.2h-6.0zM226.2 162.4h7.0v11.7h-7.0zM155.4 174.8h6.9v10.3h-6.9zM244.3 170.5h7.0v11.2h-7.0zM176.9 134.8h6.2v11.0h-6.2zM115.5 173.0h4.4v8.4h-4.4zM186.2 227.1h5.0v6.9h-5.0zM171.6 222.2h4.3v11.5h-4.3zM196.4 134.8h3.1v6.0h-3.1zM158.7 210.1h6.3v8.4h-6.3zM156.3 116.2h4.4v9.4h-4.4zM78.8 87.8h6.5v9.8h-6.5zM144.5 131.8h3.9v6.2h-3.9zM131.7 188.5h4.6v8.7h-4.6zM196.5 160.8h4.1v11.9h-4.1zM139.1 148.3h5.3v8.9h-5.3zM276.2 220.9h3.7v11.8h-3.7zM214.4 194.4h4.5v11.6h-4.5zM141.3 189.9h4.7v11.0h-4.7zM202.9 94.0h5.2v9.2h-5.2zM273.8 155.0h6.4v10.5h-6.4zM181.8 147.8h5.2v12.3h-5.2zM151.9 235.4h5.4v8.2h-5.4zM189.8 244.2h4.0v8.4h-4.0zM165.0 175.8h3.4v11.3h-3.4zM178.4 224.1h5.7v12.6h-5.7zM160.0 133.9h5.3v8.6h-5.3zM144.4 146.5h3.9v9.4h-3.9zM184.1 185.9h6.7v6.7h-6.7zM97.4 165.2h5.8v8.7h-5.8zM254.0 123.3h4.4v11.7h-4.4zM192.1 131.6h7.0v6.6h-7.0zM121.7 230.2h4.4v11.5h-4.4zM169.4 158.7h3.3v9.3h-3.3zM256.7 135.2h4.3v12.7h-4.3zM279.7 159.8h4.8v11.3h-4.8zM221.2 100.5h6.7v7.1h-6.7zM144.2 117.1h6.2v8.8h-6.2zM181.9 166.0h4.7v7.6h-4.7zM87.4 106.0h3.4v12.5h-3.4zM170.8 104.8h4.0v10.5h-4.0zM238.1 198.6h3.1v10.8h-3.1zM131.0 156.4h5.2v10.6h-5.2zM96.8 59.1h5.8v9.6h-5.8zM255.3 199.0h3.0v8.7h-3.0zM192.2 231.0h5.2v7.7h-5.2zM125.9 189.2h4.3v6.7h-4.3zM147.1 175.2h4.3v6.3h-4.3zM297.6 134.9h3.5v6.6h-3.5zM108.4 218.1h4.3v12.4h-4.3zM268.0 148.8h5.1v9.3h-5.1zM154.7 117.7h6.9v6.9h-6.9zM242.8 181.2h4.8v12.7h-4.8zM210.6 203.5h5.4v8.1h-5.4zM176.7 217.3h4.6v9.4h-4.6zM86.3 227.0h5.1v6.5h-5.1zM237.9 213.1h4.7v11.0h-4.7zM153.7 151.4h5.4v10.4h-5.4zM134.0 215.0h4.7v7.6h-4.7zM210.5 214.0h5.0v7.3h-5.0zM178.5 228.7h5.4v8.4h-5.4zM82.5 189.9h6.8v12.8h-6.8zM197.7 241.1h5.0v6.3h-5.0zM137.1 137.2h3.3v12.6h-3.3zM82.5 106.7h5.4v9.9h-5.4zM143.6 178.5h5.1v12.7h-5.1zM148.2 146.6h3.5v12.8h-3.5zM140.2 205.3h4.0v12.1h-4.0zM176.4 167.7h6.0v9.6h-6.0zM99.4 209.0h5.3v7.2h-5.3zM210.2 206.5h5.8v9.9h-5.8zM152.6 119.7h3.9v11.1h-3.9zM201.8 97.7h3.8v8.0h-3.8zM274.5 130.9h4.5v12.4h-4.5zM247.7 153.4h6.8v9.6h-6.8zM201.8 196.1h4.6v10.9h-4.6zM122.7 148.0h4.9v7.2h-4.9zM246.4 190.9h5.2v8.5h-5.2zM259.5 199.3h3.5v6.2h-3.5zM171.6 223.0h3.8v11.2h-3.8zM213.1 168.1h5.9v12.4h-5.9zM112.6 125.6h6.3v10.2h-6.3zM91.6 181.4h4.3v6.5h-4.3zM71.5 237.6h6.5v7.0h-6.5zM150.0 98.7h6.3v10.4h-6.3zM131.5 222.6h3.8v12.7h-3.8zM190.1 221.8h5.3v12.3h-5.3zM195.9 160.2h5.3v8.6h-5.3zM230.4 166.9h4.6v9.0h-4.6zM216.6 126.0h3.8v9.7h-3.8zM258.2 146.0h4.3v9.3h-4.3zM161.3 186.6h5.1v6.2h-5.1zM257.9 217.7h5.9v7.8h-5.9zM214.0 127.5h6.3v8.6h-6.3zM191.0 131.2h5.2v11.7h-5.2zM114.1 177.2h3.8v8.7h-3.8zM261.4 201.8h3.5v9.8h-3.5zM231.8 112.0h4.9v11.7h-4.9zM62.6 206.8h5.5v6.0h-5.5zM152.5 183.2h3.8v10.1h-3.8zM124.7 159.6h6.5v11.4h-6.5zM227.7 115.3h4.1v6.4h-4.1zM129.8 180.5h5.1v10.2h-5.1zM197.7 164.7h5.6v7.3h-5.6zM210.9 122.5h5.5v9.0h-5.5zM208.9 155.9h3.9v9.8h-3.9zM138.1 181.5h4.0v12.4h-4.0zM151.5 133.7h7.0v11.3h-7.0zM175.9 232.3h5.2v11.9h-5.2zM234.0 126.0h4.7v12.8h-4.7zM274.9 110.1h4.4v7.0h-4.4zM285.5 139.3h3.1v9.4h-3.1zM147.0 194.0h5.9v6.8h-5.9zM83.5 62.9h3.8v11.1h-3.8zM185.8 91.2h6.0v12.1h-6.0zM282.7 204.9h3.4v13.0h-3.4zM158.3 91.0h6.9v9.4h-6.9zM242.4 199.5h6.9v8.0h-6.9zM149.2 160.0h3.6v9.1h-3.6zM165.9 183.7h6.8v9.1h-6.8zM197.8 152.3h6.8v9.4h-6.8zM265.4 180.7h3.6v11.4h-3.6zM231.0 196.4h5.1v8.6h-5.1zM141.2 177.9h4.5v7.3h-4.5zM199.9 136.4h4.5v8.8h-4.5zM150.6 206.4h6.5v8.7h-6.5zM164.8 100.5h4.3v6.9h-4.3zM134.1 228.0h5.2v10.4h-5.2zM139.8 204.5h6.2v8.3h-6.2zM214.1 177.3h6.0v7.4h-6.0zM186.2 156.6h5.9v11.9h-5.9zM209.6 154.7h4.4v6.7h-4.4zM177.3 177.0h3.1v11.1h-3.1zM209.4 111.4h4.5v6.9h-4.5zM179.9 156.2h5.7v12.5h-5.7zM85.7 177.4h3.9v10.4h-3.9zM73.3 221.1h6.6v10.1h-6.6zM254.5 193.1h4.8v9.9h-4.8zM149.3 189.8h4.7v10.9h-4.7zM165.5 209.1h3.4v6.5h-3.4zM185.9 136.7h3.0v11.0h-3.0zM123.4 163.0h5.9v7.3h-5.9zM253.3 189.5h5.3v7.3h-5.3zM238.3 187.1h6.1v10.5h-6.1zM133.1 151.8h6.4v7.5h-6.4zM172.6 136.2h6.9v8.1h-6.9zM168.3 234.0h5.6v8.6h-5.6zM174.2 233.4h5.4v11.1h-5.4zM246.8 124.1h7.0v9.6h-7.0zM237.0 163.2h5.2v7.4h-5.2zM299.3 145.9h5.0v12.6h-5.0zM228.2 116.7h5.0v12.6h-5.0zM225.6 168.4h3.2v10.4h-3.2zM199.6 154.1h4.7v7.0h-4.7zM196.4 213.5h6.7v11.0h-6.7zM230.8 173.9h5.7v9.1h-5.7zM255.4 95.1h4.4v10.4h-4.4zM111.9 198.0h6.8v8.0h-6.8zM266.5 199.5h4.2v6.5h-4.2zM163.7 183.0h4.1v10.5h-4.1zM122.6 184.9h3.6v11.7h-3.6zM173.6 83.0h3.4v7.5h-3.4zM208.5 183.7h6.7v10.9h-6.7zM253.8 127.3h3.8v12.7h-3.8zM237.2 119.8h5.8v11.0h-5.8zM208.9 188.4h5.9v6.8h-5.9zM155.0 219.0h4.0v8.7h-4.0zM111.5 184.5h6.6v9.4h-6.6zM156.2 146.3h5.9v11.0h-5.9zM181.3 189.7h4.2v11.4h-4.2zM170.3 194.3h5.9v9.5h-5.9zM230.7 123.9h6.5v9.7h-6.5zM156.0 168.4h5.4v10.5h-5.4zM188.2 214.5h6.2v6.8h-6.2zM187.4 169.5h6.1v11.8h-6.1zM172.7 218.2h4.5v10.4h-4.5zM215.5 206.2h4.6v12.0h-4.6zM199.9 167.9h6.9v6.7h-6.9zM227.0 180.3h3.3v9.4h-3.3zM142.9 99.4h4.0v10.4h-4.0zM155.5 215.5h6.4v8.9h-6.4zM194.3 225.8h3.6v6.6h-3.6zM186.0 245.4h3.9v10.8h-3.9zM171.8 203.2h5.5v10.3h-5.5zM281.0 118.4h4.4v11.6h-4.4zM181.8 162.9h3.6v8.6h-3.6zM199.5 196.2h4.3v8.8h-4.3zM53.8 210.0h3.5v6.9h-3.5zM240.5 180.9h4.9v7.4h-4.9zM90.8 134.6h6.2v6.6h-6.2zM261.3 115.7h5.0v10.4h-5.0zM140.3 115.1h4.7v12.1h-4.7zM121.0 218.9h4.9v12.5h-4.9zM235.0 137.4h6.2v11.0h-6.2zM144.2 138.1h6.6v7.7h-6.6zM249.9 192.3h6.3v7.9h-6.3zM212.3 182.9h4.5v12.9h-4.5zM150.1 172.7h3.8v11.6h-3.8zM100.3 83.9h5.5v6.9h-5.5zM156.3 97.4h5.9v10.4h-5.9zM126.7 185.8h6.5v7.6h-6.5zM281.7 195.5h7.0v12.8h-7.0zM110.4 154.6h5.5v6.1h-5.5zM171.6 123.0h4.7v10.0h-4.7zM203.4 186.9h4.8v9.6h-4.8zM153.0 83.8h3.2v8.2h-3.2zM165.4 207.6h5.5v7.4h-5.5zM81.7 166.2h5.8v13.0h-5.8zM153.2 162.4h5.1v12.8h-5.1zM218.4 120.0h4.8v8.5h-4.8zM146.1 233.1h6.1v11.7h-6.1zM69.9 52.5h6.6v7.6h-6.6zM244.4 104.7h6.4v12.9h-6.4zM214.0 220.7h5.8v8.7h-5.8zM253.5 140.6h3.7v7.4h-3.7zM209.7 208.7h5.6v8.3h-5.6zM119.7 63.0h6.2v7.4h-6.2zM61.1 231.8h6.4v7.8h-6.4zM185.1 223.7h3.1v7.3h-3.1zM272.0 103.8h3.2v11.1h-3.2zM136.8 227.5h6.8v11.1h-6.8zM208.2 115.2h3.2v10.2h-3.2zM213.4 195.2h6.4v12.9h-6.4zM242.3 214.3h3.3v11.7h-3.3zM292.4 198.7h4.8v7.3h-4.8zM263.7 152.0h4.4v9.6h-4.4zM141.3 217.9h3.9v10.4h-3.9zM243.2 114.7h4.1v8.6h-4.1zM117.1 47.5h6.7v11.7h-6.7zM242.3 146.2h5.8v9.7h-5.8zM212.7 137.5h5.4v8.4h-5.4zM236.7 103.6h5.6v9.8h-5.6zM207.2 214.8h6.4v12.0h-6.4zM144.3 212.1h3.8v6.3h-3.8zM87.0 79.6h7.0v11.1h-7.0zM249.1 213.5h5.7v9.1h-5.7zM120.3 180.9h5.7v11.4h-5.7zM135.9 203.5h5.2v10.8h-5.2zM129.8 199.8h5.7v12.2h-5.7zM174.2 148.1h5.1v9.4h-5.1zM219.3 101.8h5.0v6.7h-5.0zM169.8 228.0h7.0v10.1h-7.0zM108.3 104.9h3.4v10.7h-3.4zM160.8 167.5h6.1v11.8h-6.1zM124.1 212.9h6.3v9.0h-6.3zM244.8 188.8h6.4v11.3h-6.4zM190.6 188.9h5.8v10.0h-5.8zM178.7 210.1h7.0v10.6h-7.0zM229.0 158.8h6.4v10.1h-6.4zM129.1 96.5h4.8v10.0h-4.8zM192.2 165.5h4.0v11.8h-4.0zM150.4 163.3h5.0v7.3h-5.0zM180.4 241.8h4.4v8.9h-4.4zM133.6 190.7h4.0v7.4h-4.0zM143.3 193.9h4.1v7.4h-4.1zM200.0 241.8h4.5v8.0h-4.5zM164.9 176.5h6.3v6.1h-6.3zM275.0 141.9h3.3v8.1h-3.3zM165.4 162.3h6.3v9.7h-6.3zM146.1 152.4h5.7v9.4h-5.7zM128.4 148.6h3.8v10.0h-3.8zM73.2 156.9h3.3v10.3h-3.3zM63.8 211.0h4.0v11.8h-4.0zM200.9 173.3h4.0v7.3h-4.0zM184.6 148.8h6.3v7.9h-6.3zM133.2 126.9h6.6v6.3h-6.6zM149.1 125.1h5.3v8.5h-5.3zM138.5 166.9h4.4v11.9h-4.4zM155.0 118.7h4.2v7.0h-4.2zM234.2 222.5h3.6v6.7h-3.6zM151.1 159.5h4.4v12.4h-4.4zM226.9 171.3h5.5v8.8h-5.5zM145.5 120.8h5.4v10.9h-5.4zM264.3 188.7h4.5v7.0h-4.5zM92.7 205.7h3.1v6.3h-3.1zM166.3 203.1h5.8v11.7h-5.8zM179.0 87.1h3.5v8.7h-3.5zM132.5 105.2h6.0v11.1h-6.0zM203.2 160.2h4.9v12.4h-4.9zM83.7 190.1h6.4v12.8h-6.4zM264.9 177.9h3.8v10.1h-3.8zM72.3 91.8h5.3v12.9h-5.3zM157.4 133.9h3.4v12.1h-3.4zM206.6 214.9h4.2v8.2h-4.2zM297.6 139.0h4.0v8.7h-4.0zM190.4 218.3h3.9v7.1h-3.9zM137.1 174.1h5.8v11.6h-5.8zM178.5 155.0h4.6v8.2h-4.6zM142.9 210.9h5.1v9.9h-5.1zM251.7 173.8h5.5v10.0h-5.5zM93.2 114.9h4.4v11.2h-4.4zM93.3 69.2h6.9v9.3h-6.9zM215.8 158.0h5.4v12.3h-5.4zM136.9 84.1h6.8v9.0h-6.8zM181.2 134.5h5.9v13.0h-5.9zM75.9 124.1h4.6v12.2h-4.6zM242.3 217.5h6.6v10.8h-6.6zM136.2 117.6h4.6v12.8h-4.6zM253.9 201.7h4.3v9.3h-4.3zM127.0 119.5h5.8v11.6h-5.8zM246.0 150.2h6.3v12.2h-6.3zM132.2 214.8h4.4v8.9h-4.4zM264.0 118.3h3.9v6.5h-3.9zM160.7 192.1h6.8v9.6h-6.8zM156.8 158.4h5.8v6.9h-5.8zM186.4 227.9h5.0v6.2h-5.0zM243.2 204.5h5.6v9.1h-5.6zM151.1 120.3h4.8v10.7h-4.8zM237.0 204.5h6.3v6.5h-6.3zM199.8 106.7h6.2v8.2h-6.2zM130.3 140.8h3.8v11.5h-3.8zM232.8 171.0h6.6v10.6h-6.6zM108.4 134.8h6.6v12.4h-6.6z" fill="#0a1426"/>
<path d="M75.7 159.8h3.1v7.7h-3.1zM134.0 242.6h6.2v11.5h-6.2zM183.4 121.4h4.1v12.1h-4.1zM262.6 125.1h3.7v10.7h-3.7zM132.3 156.0h4.2v9.7h-4.2zM122.9 170.5h3.1v6.8h-3.1zM289.5 169.5h6.2v7.5h-6.2zM121.9 136.7h6.4v12.6h-6.4zM181.9 117.0h4.8v11.7h-4.8zM136.0 185.9h3.7v11.8h-3.7zM153.4 128.8h5.3v6.9h-5.3zM131.2 177.6h5.9v11.0h-5.9zM70.7 232.2h5.6v10.3h-5.6zM169.3 145.6h6.1v10.7h-6.1zM88.9 37.8h3.8v9.8h-3.8zM192.6 137.5h3.6v6.1h-3.6zM73.6 145.5h4.9v8.2h-4.9zM156.6 192.3h3.2v11.4h-3.2zM188.9 201.0h4.8v12.7h-4.8zM248.7 205.2h4.3v6.2h-4.3zM248.5 115.7h6.3v11.3h-6.3zM231.4 152.9h4.1v6.0h-4.1zM195.0 97.2h3.4v9.3h-3.4zM245.6 188.8h3.8v9.6h-3.8zM228.2 225.2h5.9v6.6h-5.9zM203.4 142.3h5.7v11.1h-5.7zM76.7 192.0h6.9v12.7h-6.9zM91.7 103.3h7.0v11.2h-7.0zM251.3 163.8h5.0v7.2h-5.0zM160.2 152.2h4.3v10.6h-4.3zM225.4 117.0h5.1v9.8h-5.1zM124.6 214.7h3.8v8.7h-3.8zM175.6 121.2h3.1v7.5h-3.1zM254.9 220.4h3.3v8.9h-3.3zM150.1 174.6h4.6v9.4h-4.6zM157.0 143.7h5.5v12.9h-5.5zM238.5 120.7h6.1v12.2h-6.1zM175.4 198.4h3.7v9.0h-3.7zM79.5 173.1h5.7v8.8h-5.7zM137.5 187.7h3.9v8.7h-3.9zM267.6 206.1h5.8v8.7h-5.8zM119.9 183.6h4.2v12.0h-4.2zM221.6 114.9h3.5v9.8h-3.5zM234.6 139.9h6.0v9.5h-6.0zM176.2 203.7h4.9v12.7h-4.9zM198.1 244.3h5.8v8.2h-5.8zM216.1 170.6h6.7v9.9h-6.7zM122.9 144.8h3.8v10.1h-3.8zM177.2 170.8h6.6v9.9h-6.6zM196.5 204.9h5.5v9.5h-5.5zM182.7 139.7h6.9v7.4h-6.9zM147.0 201.7h3.7v6.4h-3.7zM198.2 88.4h4.7v11.9h-4.7zM273.5 166.4h5.7v6.1h-5.7zM161.9 181.7h5.8v11.8h-5.8zM247.7 159.0h5.9v7.9h-5.9zM171.5 201.9h4.0v10.9h-4.0zM87.8 241.8h3.7v11.8h-3.7zM103.2 188.5h3.5v11.4h-3.5zM76.0 181.2h6.9v6.0h-6.9zM103.8 177.6h4.4v12.1h-4.4zM171.6 222.0h3.8v8.3h-3.8zM231.8 187.7h6.6v7.0h-6.6zM186.9 170.0h6.6v8.3h-6.6zM191.0 220.9h6.3v8.9h-6.3zM124.5 157.4h4.2v7.3h-4.2zM51.5 202.1h7.0v9.3h-7.0zM139.6 225.3h4.5v9.1h-4.5zM174.8 144.3h3.3v9.7h-3.3zM181.4 210.6h3.0v7.1h-3.0zM257.0 185.1h6.1v11.8h-6.1zM142.5 118.7h3.8v6.1h-3.8zM217.6 106.4h3.1v11.9h-3.1zM141.8 227.1h3.8v12.4h-3.8zM162.5 117.0h6.9v8.5h-6.9zM201.5 198.9h3.5v10.6h-3.5zM92.9 245.0h5.3v7.6h-5.3zM183.4 157.5h4.4v9.1h-4.4zM225.2 226.7h3.8v7.6h-3.8zM186.0 104.5h3.4v9.2h-3.4zM132.8 172.6h5.8v9.1h-5.8zM104.7 185.8h4.0v9.2h-4.0zM111.3 130.8h3.0v8.2h-3.0zM169.0 117.2h6.8v7.8h-6.8zM110.8 217.9h6.0v10.2h-6.0zM86.4 195.9h5.4v10.5h-5.4zM208.2 132.0h6.4v11.3h-6.4zM119.2 174.1h4.5v6.1h-4.5zM172.9 191.8h6.8v8.2h-6.8zM241.0 97.9h3.4v6.5h-3.4zM107.1 66.1h4.0v11.2h-4.0zM216.0 89.3h4.6v9.6h-4.6zM152.5 195.9h5.8v8.2h-5.8zM156.1 163.3h5.8v7.9h-5.8zM292.7 158.0h4.9v11.5h-4.9zM228.1 136.9h3.2v10.1h-3.2zM213.2 133.4h3.4v7.4h-3.4zM200.1 192.8h6.9v11.8h-6.9zM223.2 181.4h5.7v7.6h-5.7zM236.0 156.6h4.6v11.9h-4.6zM140.6 132.0h6.1v6.3h-6.1zM189.7 134.0h4.2v10.9h-4.2zM133.5 92.4h6.2v8.8h-6.2zM141.1 174.2h5.7v7.6h-5.7zM143.0 160.4h6.0v9.4h-6.0zM81.9 106.5h6.3v7.4h-6.3zM170.0 149.1h5.9v8.5h-5.9zM220.2 98.2h4.1v10.2h-4.1zM136.0 121.0h3.4v11.2h-3.4zM135.0 97.5h4.2v7.3h-4.2zM210.2 165.4h3.7v13.0h-3.7zM231.6 203.4h4.6v12.5h-4.6zM199.2 196.6h4.4v12.6h-4.4zM203.2 105.6h5.7v11.8h-5.7zM175.2 140.8h3.4v9.9h-3.4zM229.7 68.6h5.5v9.2h-5.5zM223.7 226.4h3.2v9.7h-3.2zM218.7 109.3h5.1v11.0h-5.1zM185.8 144.6h6.8v7.7h-6.8zM225.7 110.1h4.8v8.7h-4.8zM208.5 187.5h3.1v8.7h-3.1zM195.9 173.1h4.7v8.8h-4.7zM111.9 169.3h4.4v6.5h-4.4zM164.7 91.3h3.5v6.8h-3.5zM101.4 174.7h5.5v11.9h-5.5zM116.3 101.7h3.4v9.7h-3.4zM147.0 221.3h4.7v8.3h-4.7zM92.4 159.9h3.3v8.1h-3.3zM234.2 159.8h6.4v8.0h-6.4zM159.8 224.5h3.1v11.1h-3.1zM128.4 194.4h5.4v7.4h-5.4zM228.0 153.6h6.9v7.1h-6.9zM161.6 126.2h5.6v6.6h-5.6zM170.3 225.8h6.6v10.9h-6.6zM228.1 116.5h6.3v8.4h-6.3zM224.7 212.6h5.5v6.2h-5.5zM163.5 169.6h5.2v7.8h-5.2zM118.7 147.6h3.3v11.1h-3.3zM158.9 141.3h6.3v12.5h-6.3zM82.3 93.6h6.5v10.2h-6.5zM265.6 166.6h3.7v7.0h-3.7zM187.1 181.4h6.5v9.1h-6.5zM168.4 102.5h4.7v10.8h-4.7zM178.4 183.1h4.8v6.3h-4.8zM243.2 141.8h5.5v8.2h-5.5zM220.9 164.9h4.9v8.6h-4.9zM217.0 205.6h3.7v12.4h-3.7zM113.0 135.1h4.0v6.2h-4.0zM116.7 75.2h4.1v9.3h-4.1zM143.9 141.7h5.6v12.1h-5.6zM160.6 111.7h4.8v10.3h-4.8zM161.3 128.6h6.7v10.6h-6.7zM249.3 221.0h3.6v10.9h-3.6zM196.6 123.4h3.0v9.7h-3.0zM205.9 135.0h4.9v7.4h-4.9zM193.4 156.0h3.4v10.4h-3.4zM229.7 170.1h3.4v12.9h-3.4zM206.4 149.6h4.7v7.3h-4.7zM235.8 107.4h3.4v8.3h-3.4zM191.3 168.2h6.8v6.5h-6.8zM174.7 164.6h4.2v6.8h-4.2zM163.1 140.8h5.8v7.5h-5.8zM213.2 120.0h5.4v7.1h-5.4zM224.0 210.0h4.3v11.3h-4.3zM96.4 212.5h5.6v9.8h-5.6zM189.3 239.3h4.7v11.2h-4.7zM192.3 179.6h5.1v8.9h-5.1zM183.0 216.0h6.6v7.2h-6.6zM230.4 166.0h6.8v7.7h-6.8zM184.0 225.7h5.6v8.8h-5.6zM256.3 156.2h4.8v11.5h-4.8zM266.8 126.4h6.4v11.3h-6.4zM196.4 156.7h4.3v9.3h-4.3zM187.7 136.0h6.6v8.8h-6.6zM146.3 165.6h3.2v12.8h-3.2zM247.0 147.9h4.6v6.6h-4.6zM179.2 211.0h6.6v8.4h-6.6zM176.7 124.6h4.5v10.6h-4.5zM162.9 129.4h5.9v8.9h-5.9zM139.8 156.7h6.5v6.8h-6.5zM133.8 189.8h3.4v7.1h-3.4zM206.2 187.3h4.3v7.8h-4.3zM172.5 180.7h5.7v11.6h-5.7zM190.7 241.3h3.3v9.7h-3.3zM211.0 92.6h6.2v6.2h-6.2zM198.8 201.2h4.3v8.0h-4.3zM206.0 167.0h6.8v12.8h-6.8zM255.3 191.1h5.0v7.9h-5.0zM149.9 237.9h3.2v8.9h-3.2zM161.7 112.3h3.7v7.1h-3.7zM217.7 181.6h5.4v12.4h-5.4zM164.9 135.9h4.0v6.1h-4.0zM122.9 153.4h5.4v6.2h-5.4zM245.0 163.3h4.0v12.9h-4.0zM111.2 158.0h4.6v8.9h-4.6zM213.3 133.7h6.8v7.4h-6.8zM183.4 101.5h5.0v6.7h-5.0zM69.6 210.9h3.4v7.2h-3.4zM213.2 202.4h6.2v6.1h-6.2zM228.3 208.8h5.6v12.9h-5.6zM178.6 203.8h4.7v6.7h-4.7zM160.4 225.1h4.9v9.1h-4.9zM169.0 210.7h5.4v11.3h-5.4zM158.7 218.4h4.8v9.7h-4.8zM176.9 155.3h6.0v12.5h-6.0zM171.0 123.2h5.9v10.1h-5.9zM291.5 128.1h6.4v11.3h-6.4zM212.8 185.1h5.4v12.4h-5.4zM227.4 164.4h3.2v12.3h-3.2zM154.7 104.6h6.7v6.0h-6.7zM167.0 185.2h4.6v8.5h-4.6zM245.8 144.4h3.5v7.8h-3.5zM154.4 196.3h5.0v8.0h-5.0zM118.5 153.1h5.3v7.3h-5.3zM203.7 204.8h3.7v6.8h-3.7zM110.7 91.0h4.6v8.1h-4.6zM233.2 140.4h5.7v9.3h-5.7zM103.6 171.0h4.3v12.4h-4.3zM164.4 150.4h5.6v7.0h-5.6zM217.1 139.3h5.9v6.4h-5.9zM230.9 160.6h6.6v12.5h-6.6zM175.3 153.5h3.8v6.6h-3.8zM135.4 180.3h6.2v12.1h-6.2zM189.8 123.1h3.6v10.7h-3.6zM144.5 147.7h5.2v8.6h-5.2zM164.3 145.2h6.5v6.9h-6.5zM218.3 114.1h4.8v8.6h-4.8zM178.3 102.3h5.4v8.4h-5.4zM249.2 166.6h5.7v10.1h-5.7zM90.1 108.8h3.9v10.2h-3.9zM163.7 226.0h3.4v10.6h-3.4zM208.3 119.4h3.1v12.8h-3.1zM252.2 183.3h3.4v11.6h-3.4zM140.9 150.8h3.7v10.0h-3.7zM222.8 200.5h4.5v6.8h-4.5zM271.0 213.9h6.6v8.7h-6.6zM215.1 114.7h6.1v11.2h-6.1zM240.7 153.0h3.2v11.7h-3.2zM198.4 203.6h5.6v9.8h-5.6zM150.3 91.7h5.5v11.2h-5.5zM201.1 127.3h5.7v10.1h-5.7zM156.2 193.1h4.7v11.5h-4.7zM115.1 99.4h6.4v10.6h-6.4zM179.1 188.9h6.2v9.5h-6.2zM219.2 173.5h5.9v10.3h-5.9zM174.9 177.9h6.3v9.1h-6.3zM121.8 76.3h6.2v7.7h-6.2zM175.3 214.0h5.0v9.2h-5.0zM139.1 163.3h4.8v8.9h-4.8zM162.7 151.4h4.7v8.4h-4.7zM212.0 117.8h4.0v8.4h-4.0zM168.1 120.3h6.4v8.6h-6.4zM184.1 155.6h5.0v8.7h-5.0zM238.3 166.5h6.9v7.4h-6.9zM196.4 94.0h5.8v10.3h-5.8zM224.9 66.8h4.9v10.8h-4.9zM135.9 123.5h6.0v12.4h-6.0zM233.5 190.0h6.0v8.5h-6.0zM132.2 132.5h5.6v6.6h-5.6zM141.5 216.6h6.2v11.9h-6.2zM231.8 168.6h4.8v10.5h-4.8zM136.6 119.1h6.1v6.3h-6.1zM188.3 192.0h3.7v9.2h-3.7zM106.4 46.4h4.7v10.8h-4.7zM226.3 189.9h3.8v10.4h-3.8zM293.3 141.9h4.1v7.6h-4.1zM206.3 175.4h4.3v11.0h-4.3zM168.4 139.1h5.2v10.2h-5.2zM263.0 134.9h5.4v6.3h-5.4zM274.1 189.5h6.1v7.2h-6.1zM126.3 179.2h4.8v6.6h-4.8zM186.6 153.0h4.6v11.2h-4.6zM234.5 142.8h3.0v11.5h-3.0zM157.2 207.1h5.2v8.2h-5.2zM180.7 227.6h3.6v10.7h-3.6zM221.5 185.7h6.6v7.8h-6.6zM244.6 137.8h5.1v6.3h-5.1zM162.8 110.9h5.5v12.7h-5.5zM143.1 151.6h6.1v9.6h-6.1zM122.4 120.1h3.4v13.0h-3.4zM144.3 206.4h3.5v7.7h-3.5zM131.6 216.7h4.8v10.5h-4.8zM166.4 127.5h5.7v10.1h-5.7zM233.3 197.0h3.2v12.8h-3.2zM281.6 206.9h6.8v8.6h-6.8zM282.9 148.9h6.9v10.7h-6.9zM226.6 178.3h3.8v9.8h-3.8zM218.9 202.5h5.2v12.1h-5.2zM256.3 138.0h6.6v13.0h-6.6zM211.3 158.4h3.4v8.0h-3.4zM216.9 152.7h6.5v8.7h-6.5zM160.4 135.3h5.0v9.9h-5.0zM244.6 148.6h6.7v10.6h-6.7zM190.2 150.1h6.0v11.5h-6.0zM180.2 150.0h3.3v7.4h-3.3zM140.4 230.8h3.1v12.0h-3.1zM141.6 219.8h3.0v7.5h-3.0zM69.0 135.1h6.5v9.4h-6.5zM194.4 103.6h4.9v8.7h-4.9zM280.6 145.1h7.0v7.3h-7.0zM120.8 125.5h4.5v9.5h-4.5zM151.3 148.6h4.2v10.3h-4.2zM233.0 195.9h4.0v11.5h-4.0zM110.7 101.7h5.4v12.8h-5.4zM148.9 160.3h5.0v6.2h-5.0zM118.9 198.5h4.8v6.4h-4.8zM247.1 99.8h3.5v11.5h-3.5zM206.5 128.7h3.7v11.4h-3.7zM182.5 237.1h5.4v10.2h-5.4zM150.7 144.9h4.6v11.2h-4.6zM100.3 177.6h5.9v11.0h-5.9zM206.5 105.9h6.7v7.3h-6.7zM192.7 188.5h3.7v8.0h-3.7zM84.7 190.1h6.3v7.9h-6.3zM231.8 149.5h6.8v11.8h-6.8zM180.9 165.7h3.2v6.9h-3.2zM246.5 119.4h6.2v7.8h-6.2zM160.6 126.1h5.7v7.8h-5.7zM283.5 169.5h3.4v10.0h-3.4zM123.7 192.2h6.6v6.2h-6.6zM108.4 132.1h6.2v9.1h-6.2zM71.1 162.2h7.0v12.2h-7.0zM143.6 160.7h3.4v12.5h-3.4zM75.9 132.4h3.8v8.3h-3.8zM236.8 141.7h5.3v7.2h-5.3zM231.9 73.7h4.8v12.2h-4.8zM230.5 176.3h3.3v9.9h-3.3zM209.5 167.0h3.4v7.5h-3.4zM214.1 145.3h6.1v12.1h-6.1zM149.4 101.3h4.9v8.2h-4.9zM121.0 178.1h6.7v11.9h-6.7zM127.2 152.3h4.6v6.1h-4.6zM234.5 156.1h6.7v10.3h-6.7zM171.9 137.1h3.6v11.6h-3.6zM215.7 145.2h6.8v11.7h-6.8zM151.3 207.6h5.6v12.9h-5.6zM166.5 172.4h5.3v12.6h-5.3zM131.8 155.4h3.9v12.9h-3.9zM104.2 114.3h5.7v12.2h-5.7zM131.0 185.4h3.4v7.3h-3.4zM277.2 138.1h5.8v12.7h-5.8zM151.3 179.4h6.2v6.3h-6.2zM63.8 129.3h5.9v9.7h-5.9zM230.7 212.9h3.4v8.1h-3.4zM223.5 124.1h6.6v6.6h-6.6zM184.3 154.9h3.8v11.9h-3.8zM207.9 216.2h4.8v10.7h-4.8zM196.3 124.7h5.0v10.2h-5.0zM76.4 120.9h5.2v7.5h-5.2zM191.9 210.7h4.9v6.3h-4.9zM195.2 203.7h3.7v10.2h-3.7zM210.4 176.7h6.0v6.9h-6.0zM130.3 120.0h3.1v12.6h-3.1zM214.1 176.8h4.8v8.2h-4.8zM63.1 185.6h5.2v9.9h-5.2zM164.0 211.2h6.5v6.4h-6.5zM179.2 86.1h5.1v11.5h-5.1zM224.3 181.5h4.0v12.3h-4.0zM214.6 160.8h6.4v11.0h-6.4zM244.5 103.7h5.4v7.3h-5.4zM251.2 191.7h5.3v6.1h-5.3zM172.3 197.6h5.1v7.9h-5.1zM211.6 107.4h3.9v10.0h-3.9zM194.4 221.6h6.8v6.3h-6.8zM209.5 139.5h4.7v12.2h-4.7zM237.5 118.5h4.5v11.5h-4.5zM212.2 187.4h5.0v12.8h-5.0zM207.0 121.0h6.1v11.2h-6.1zM108.5 115.0h5.3v12.0h-5.3zM199.2 236.9h5.0v10.1h-5.0zM222.8 82.5h6.9v6.6h-6.9zM176.5 124.6h4.6v10.1h-4.6zM258.4 185.7h4.7v9.2h-4.7zM238.1 182.7h5.3v7.5h-5.3zM163.3 202.3h3.3v9.5h-3.3zM135.3 150.9h6.1v6.9h-6.1zM227.0 184.4h3.7v12.8h-3.7zM224.6 144.7h6.6v12.2h-6.6zM138.1 208.9h5.9v9.5h-5.9zM153.8 234.2h6.9v6.4h-6.9zM257.9 138.8h5.4v9.0h-5.4zM125.5 57.8h3.8v8.2h-3.8zM230.5 162.3h5.2v9.4h-5.2zM185.4 148.6h5.9v7.8h-5.9zM152.7 126.1h6.7v6.8h-6.7zM119.1 84.3h6.5v12.6h-6.5zM169.0 78.9h3.3v6.3h-3.3zM138.8 213.9h4.1v8.3h-4.1zM113.6 209.2h5.7v12.3h-5.7zM165.1 227.7h6.5v12.1h-6.5zM235.2 134.9h4.7v9.1h-4.7zM218.3 95.2h5.3v9.3h-5.3zM174.4 219.0h3.7v11.5h-3.7zM204.9 187.9h6.6v12.8h-6.6zM160.9 186.9h5.7v6.7h-5.7zM159.1 184.7h4.6v12.9h-4.6zM273.9 181.9h3.8v10.9h-3.8zM145.3 223.8h5.9v12.3h-5.9zM226.3 120.5h4.9v12.8h-4.9zM224.1 213.9h6.7v8.9h-6.7zM245.5 122.5h4.9v12.5h-4.9zM227.4 162.6h4.0v7.5h-4.0zM175.7 226.2h3.9v9.6h-3.9zM265.0 188.9h6.8v9.1h-6.8zM180.1 108.3h5.1v7.0h-5.1zM226.0 155.3h6.6v7.1h-6.6zM183.8 190.0h6.4v8.2h-6.4zM127.4 185.7h3.5v11.3h-3.5zM148.7 101.8h5.5v8.2h-5.5zM194.9 136.6h4.9v8.2h-4.9zM176.3 138.7h3.9v6.8h-3.9zM126.6 234.1h7.0v10.5h-7.0zM117.1 120.4h3.5v12.4h-3.5zM198.3 217.9h5.0v11.2h-5.0zM226.9 148.4h6.4v12.7h-6.4zM181.7 235.9h5.9v9.1h-5.9zM125.4 111.9h3.5v12.3h-3.5zM124.4 177.8h5.1v12.9h-5.1zM191.0 148.7h4.9v9.7h-4.9zM142.2 229.7h3.6v12.5h-3.6zM206.5 216.4h5.5v10.7h-5.5zM235.8 137.4h6.4v10.6h-6.4zM149.4 158.7h6.5v10.2h-6.5zM193.5 183.9h5.7v6.9h-5.7zM152.3 167.7h4.5v8.8h-4.5zM168.0 148.3h5.7v11.2h-5.7zM236.9 161.3h4.0v6.2h-4.0zM158.7 173.9h5.5v9.9h-5.5zM112.1 179.3h6.5v11.8h-6.5zM199.7 181.6h4.9v9.1h-4.9zM146.4 141.2h5.3v11.1h-5.3zM198.9 181.9h3.9v6.9h-3.9zM164.4 110.7h3.2v10.5h-3.2zM230.6 142.3h4.0v10.1h-4.0zM243.5 180.5h4.7v10.4h-4.7zM281.4 215.9h4.4v10.5h-4.4zM287.4 187.0h5.4v6.5h-5.4zM183.3 84.3h3.5v10.0h-3.5zM200.5 95.8h5.2v9.1h-5.2zM177.4 147.4h6.1v7.4h-6.1zM209.9 102.8h5.5v9.1h-5.5zM110.8 182.0h5.2v12.1h-5.2zM185.5 152.1h3.1v6.2h-3.1zM165.8 178.5h3.2v10.0h-3.2zM129.7 238.1h5.9v7.2h-5.9zM167.2 181.0h3.1v11.0h-3.1zM180.9 154.5h3.2v6.3h-3.2zM46.6 75.4h5.0v9.7h-5.0zM184.6 182.0h5.6v9.8h-5.6zM127.8 140.8h5.4v8.2h-5.4zM161.6 220.4h3.3v12.9h-3.3zM99.1 150.7h6.4v9.5h-6.4zM111.0 206.3h4.5v10.0h-4.5zM237.3 133.5h6.1v8.7h-6.1zM258.3 210.3h5.6v12.8h-5.6zM129.6 104.2h3.8v6.2h-3.8zM96.2 149.5h6.7v10.1h-6.7zM174.1 125.7h4.8v12.8h-4.8zM119.6 228.2h6.9v12.8h-6.9zM136.4 212.7h5.8v7.8h-5.8zM196.4 179.6h5.4v10.0h-5.4zM204.3 208.2h6.1v8.7h-6.1zM142.8 174.6h4.6v10.0h-4.6zM169.2 89.7h6.9v9.6h-6.9zM239.5 135.4h6.9v10.5h-6.9zM240.7 211.4h6.6v8.6h-6.6zM152.1 121.8h5.9v6.0h-5.9zM108.9 175.1h5.3v7.3h-5.3zM230.7 217.1h6.3v7.2h-6.3zM108.3 99.9h3.7v11.1h-3.7zM210.0 127.6h5.3v8.1h-5.3zM169.3 174.6h3.9v10.8h-3.9zM173.4 178.9h4.2v6.3h-4.2zM220.4 184.0h4.5v9.8h-4.5zM276.2 149.7h4.8v7.9h-4.8zM246.6 122.8h5.4v11.2h-5.4zM153.1 184.1h6.9v12.0h-6.9zM227.8 199.5h4.9v8.8h-4.9zM258.7 178.6h5.3v8.4h-5.3zM248.9 152.6h5.1v7.5h-5.1zM130.5 232.4h6.8v7.6h-6.8zM183.9 136.4h4.6v6.7h-4.6zM109.4 192.7h5.1v6.3h-5.1zM176.6 153.9h3.1v11.8h-3.1zM220.2 144.6h4.6v10.4h-4.6zM137.4 185.7h4.9v11.7h-4.9zM196.7 176.0h6.6v9.0h-6.6zM174.5 175.2h4.7v9.9h-4.7zM168.5 212.7h3.4v8.1h-3.4zM187.4 156.3h6.6v6.5h-6.6zM197.1 172.8h3.1v11.7h-3.1zM186.0 254.9h5.6v11.6h-5.6zM252.9 200.9h3.2v11.0h-3.2zM178.5 129.5h4.0v8.1h-4.0zM182.7 168.9h5.2v6.7h-5.2z" fill="#101c32"/>

</g></g>
<line x1="357.4" y1="184.2" x2="403.2" y2="213.29999999999998" stroke="#4a4a4a" stroke-width="1.1"/>
<line x1="475.5" y1="166.29999999999998" x2="521.3" y2="195.39999999999998" stroke="#4a4a4a" stroke-width="1.1"/>
<line x1="357.4" y1="184.2" x2="475.5" y2="166.29999999999998" stroke="#666" stroke-width="0.95" stroke-dasharray="1.2,1.1"/>
<line x1="403.2" y1="213.29999999999998" x2="521.3" y2="195.39999999999998" stroke="#666" stroke-width="0.95" stroke-dasharray="1.2,1.1"/>
<text class="t" font-size="10" textLength="14.3" lengthAdjust="spacingAndGlyphs" transform="translate(520.4,59.9) rotate(-8.62) translate(-14.3,0)">EGI</text>
<text class="t" font-size="10" textLength="49.6" lengthAdjust="spacingAndGlyphs" transform="translate(521,103.5) rotate(-8.62) translate(-49.6,0)">Greenspace</text>
<text class="t" font-size="10" textLength="49.8" lengthAdjust="spacingAndGlyphs" transform="translate(521,153.2) rotate(-8.62) translate(-49.8,0)">Accessibility</text>
<text class="t" font-size="10" textLength="57" lengthAdjust="spacingAndGlyphs" transform="translate(521.2,205.6) rotate(-8.62) translate(-57,0)">Bus stops POI</text>
<text class="c" x="343.4" y="230.8" font-size="11" textLength="36.8" lengthAdjust="spacingAndGlyphs">Legend:</text>
<rect x="343.7" y="235.3" width="21" height="10" fill="#1f9a1f"/>
<text class="c" x="370.3" y="244.3" font-size="10.8" textLength="11.5" lengthAdjust="spacingAndGlyphs">SP</text>
<rect x="343.7" y="249.3" width="21" height="10" fill="#8cc81e"/>
<text class="c" x="370.3" y="258.3" font-size="10.8" textLength="11.5" lengthAdjust="spacingAndGlyphs">HP</text>
<rect x="343.7" y="263.3" width="21" height="10" fill="#f4f20a"/>
<text class="c" x="370.3" y="272.3" font-size="10.8" textLength="11.5" lengthAdjust="spacingAndGlyphs">RP</text>
<rect x="392.8" y="235.3" width="21" height="10" fill="#fbb516"/>
<text class="c" x="419.40000000000003" y="244.3" font-size="10.8" textLength="11.5" lengthAdjust="spacingAndGlyphs">EP</text>
<rect x="392.8" y="249.3" width="21" height="10" fill="#f4801e"/>
<text class="c" x="419.40000000000003" y="258.3" font-size="10.8" textLength="11.5" lengthAdjust="spacingAndGlyphs">CP</text>
<rect x="392.8" y="263.3" width="21" height="10" fill="#f42414"/>
<text class="c" x="419.40000000000003" y="272.3" font-size="10.8" textLength="7.9" lengthAdjust="spacingAndGlyphs">IP</text>
<text class="c" x="443" y="244.5" font-size="10.5">EGI:</text>
<rect x="469.3" y="236.1" width="46.4" height="8.5" fill="url(#gE)"/>
<text class="c" x="468.7" y="233.5" font-size="10.5" text-anchor="middle">0</text>
<text class="c" x="514.5" y="233.5" font-size="10.5" text-anchor="middle">1</text>
<text class="c" x="443" y="273" font-size="10.5">Acc:</text>
<rect x="469.3" y="263.8" width="46.4" height="8.5" fill="url(#gA)"/>
<text class="c" x="468.7" y="262" font-size="10.5" text-anchor="middle">0</text>
<text class="c" x="504.2" y="262" font-size="10.5" textLength="39.8" lengthAdjust="spacingAndGlyphs">120/min</text>
</svg></body></html>
